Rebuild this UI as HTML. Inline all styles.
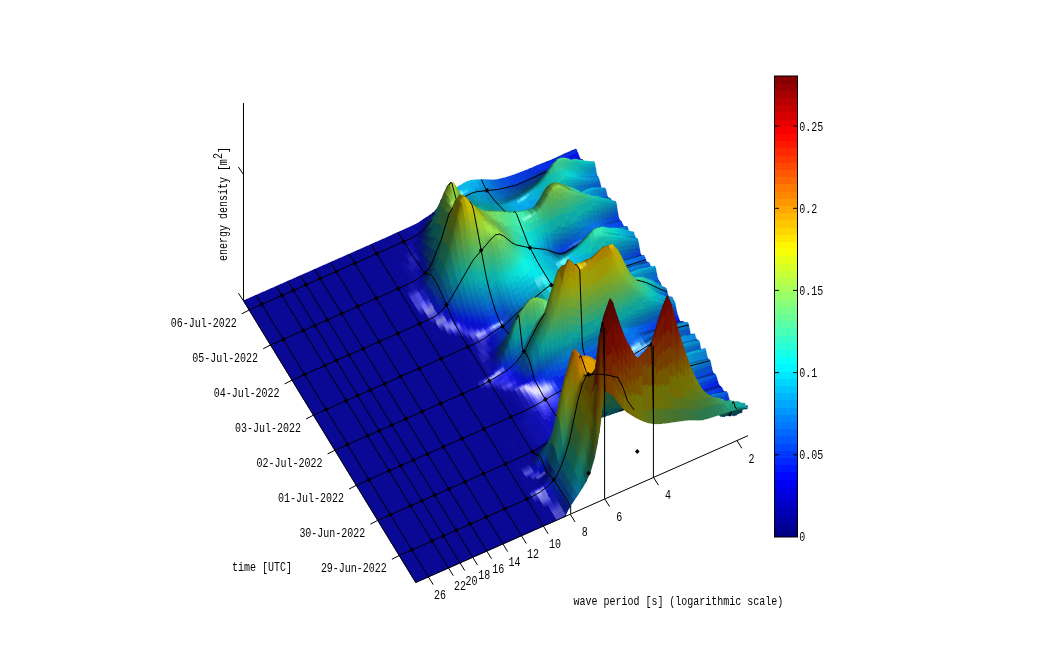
<!DOCTYPE html><html><head><meta charset="utf-8"><title>wave spectrum</title><style>html,body{margin:0;padding:0;background:#fff}svg{display:block}text{font-family:"Liberation Mono","DejaVu Sans Mono",monospace;font-size:10px;fill:#000}.dl{stroke:#000;stroke-width:1;fill:none;stroke-linejoin:round}.ax{stroke:#000;stroke-width:1;fill:none}</style></head><body>
<svg width="1041" height="672" viewBox="0 0 1041 672">
<rect width="1041" height="672" fill="#fff"/>
<g shape-rendering="crispEdges" fill="currentColor" stroke="currentColor" stroke-width=".7" stroke-linejoin="round">
<path d="M243.5 300.8L415.7 582.5L565.2 516.4L569.4 505.7L573.5 499.2L577.2 493.8L581.9 486.8L586 479.7L590.2 470.4L594.3 456.2L597.1 442.2L599 431L602.6 403.9L604.8 389.9L606.8 389.5L612.3 393L615.1 396.3L619.2 401.9L623.4 407L627.5 410.5L631.7 413.1L635.8 415.6L639.4 417.4L643 419L648.3 420.8L652.5 421.5L654.5 421.7L656.6 421.7L660.8 421.6L664.9 421.2L669.7 420.5L673.2 420L678.6 419.2L681.5 418.8L685.7 418.3L689.8 418L694 418L698.2 418.1L702.3 417.9L706.5 416.8L710.6 415.6L715.1 414.1L718.9 412.8L723.1 411.5L727.2 410.2L731.4 408.9L735.5 407.7L739.7 407.2L743.8 406.5L748 405.7L745 408.2L744.7 408.5L744.3 409L744 409.3L743.6 409.2L743.3 408.7L742.9 407.8L742.6 406.6L742.2 405.2L741.9 404L741.3 403L738.4 414L735.5 403L732.6 406.9L729.7 403.9L726.8 401.8L723.9 392.4L721 392.1L718.1 387.3L715.2 383.7L712.3 375L709.4 371.7L706.5 360.3L703.7 354.8L700.8 351L697.9 349.8L695 340.6L692.1 336L689.2 336L686.3 329L683.4 323.7L680.5 322L677.6 322.3L674.7 315.8L671.8 303.1L668.9 297.5L666 298.7L663.1 288.7L660.2 290.6L657.3 283.2L654.4 278.1L651.5 266.5L648.6 270.8L645.7 262.8L642.8 260.6L639.9 255.6L637 252.4L634.1 239.1L631.2 234.7L628.3 234.8L625.4 231.3L622.5 227.2L619.6 224.7L616.7 220.5L613.8 207.6L610.9 204.6L608 200.2L605.2 198.3L602.3 188.6L599.4 190.9L596.5 181.1L593.6 174.4L590.7 162.3L587.8 172.6L584.9 166.9L582 164.4L579.1 160L576.2 157.3L573.3 150L552.5 164.3z" color="#0a0995"/>
<path d="M572.4 151.7l4.1-1.8-.7-.9-4.2 1.8z" color="#0927b8"/>
<path d="M573.6 154.5l4.1-1.9-1.2-2.7-4.1 1.8z" color="#092de6"/>
<path d="M568.2 153.5l4.2-1.8-.8-.9-4.1 1.8z" color="#0928ba"/>
<path d="M569.4 156.4l4.2-1.9-1.2-2.8-4.2 1.8z" color="#092de6"/>
<path d="M564.1 155.3l4.1-1.8-.7-.9-4.2 1.8z" color="#0928bb"/>
<path d="M575.8 160.1l4.1-1.8-2.2-5.7-4.1 1.9z" color="#0912e3"/>
<path d="M565.3 158.2l4.1-1.8-1.2-2.9-4.1 1.8z" color="#092de6"/>
<path d="M559.9 157.3l4.2-2-.8-.9-4.1 2z" color="#0a29be"/>
<path d="M571.6 161.9l4.2-1.8-2.2-5.6-4.2 1.9z" color="#0911e3"/>
<path d="M576.7 161.1l4.2-1.8-1-1-4.1 1.8z" color="#0909a8"/>
<path d="M561.1 160l4.2-1.8-1.2-2.9-4.2 2z" color="#0a2de7"/>
<path d="M555.8 159.2l4.1-1.9-.7-.9-4.2 1.9z" color="#0a28bf"/>
<path d="M567.4 163.7l4.2-1.8-2.2-5.5-4.1 1.8z" color="#0911e3"/>
<path d="M557 161.8l4.1-1.8-1.2-2.7-4.1 1.9z" color="#0a2de8"/>
<path d="M578.4 161.4l4.2-1.7-1.7-.4-4.2 1.8z" color="#091473"/>
<path d="M551.6 161.1l4.2-1.9-.8-.9-4.1 1.9z" color="#0926be"/>
<path d="M547.4 162.8l4.2-1.7-.7-.9-4.2 1.6z" color="#0927bf"/>
<path d="M579.4 162.5l4.1-1.6-.9-1.2-4.2 1.7z" color="#092db8"/>
<path d="M554.3 166.7l4.1-1.4-2.6-6.1-4.2 1.9z" color="#0925ea"/>
<path d="M543.6 164.3l3.8-1.5-.7-1-3.8 1.5z" color="#092ac4"/>
<path d="M550.1 168.1l4.2-1.4-2.7-5.6-4.2 1.7z" color="#0928ea"/>
<path d="M539.1 166.1l4.5-1.8-.7-1-4.5 1.7z" color="#092ecb"/>
<path d="M545.8 168.4l3.8-1.3-2.2-4.3-3.8 1.5z" color="#092ee9"/>
<path d="M534.5 167.2l4.2-1.8-.3-.4-4.1 1.8z" color="#0930d0"/>
<path d="M541.3 170l4.5-1.6-2.2-4.1-4.5 1.8z" color="#0932e6"/>
<path d="M546.5 169.6l3.8-1.1-.7-1.4-3.8 1.3z" color="#0926e3"/>
<path d="M536.9 171.1l4.2-1.6-2.4-4.1-4.2 1.8z" color="#0933df"/>
<path d="M547.2 170.5l3.9-1.2-.8-.8-3.8 1.1z" color="#0921b8"/>
<path d="M542 171.1l4.5-1.5-.7-1.2-4.5 1.6z" color="#092cdd"/>
<path d="M526.4 171.1l4.2-1.7-.5-.8-4.1 1.7z" color="#0933db"/>
<path d="M548.7 170.9l3.8-1.3-1.4-.3-3.9 1.2z" color="#091f75"/>
<path d="M533.5 173.7l4.1-1.4-3.3-5.5-4.2 1.8z" color="#0933d8"/>
<path d="M543 172.2l4.5-1.5-1-1.1-4.5 1.5z" color="#0926b0"/>
<path d="M537.9 172.6l4.1-1.5-.9-1.6-4.2 1.6z" color="#0930d9"/>
<path d="M538.6 173.5l4.2-1.5-.8-.9-4.1 1.5z" color="#092dbc"/>
<path d="M544.5 172.8l4.4-1.9-1.4-.2-4.5 1.5z" color="#092476"/>
<path d="M530.5 177.1l4.2-1.8-4.1-5.9-4.2 1.7z" color="#0934d0"/>
<path d="M539.6 174.4l4.1-1.8-.9-.6-4.2 1.5z" color="#092a95"/>
<path d="M534.5 175l4.1-1.5-1-1.2-4.1 1.4z" color="#0932c5"/>
<path d="M545.9 173.4l4.5-2-1.5-.5-4.4 1.9z" color="#093279"/>
<path d="M526.6 179.3l4.2-1.8-4.8-7.2-4.2 1.6z" color="#0936d4"/>
<path d="M535.4 176.2l4.2-1.8-1-.9-4.1 1.5z" color="#0930ab"/>
<path d="M542.2 175.9l4.2-2.2-2.7-1.1-4.1 1.8z" color="#09327f"/>
<path d="M522.2 180.9l4.2-1.9-4.6-7.1-4.2 1.6z" color="#0939d9"/>
<path d="M546.9 174.1l4.4-1.8-.9-.9-4.5 2z" color="#094495"/>
<path d="M536.4 177.1l4.1-2.2-.9-.5-4.2 1.8z" color="#093092"/>
<path d="M531.3 178.1l4.1-1.9-.7-.9-4.2 1.8z" color="#0935b8"/>
<path d="M532.2 179.1l4.2-2-1-.9-4.1 1.9z" color="#0934a5"/>
<path d="M518.6 183.3l4.1-1.7-5.1-8.1-4.1 1.5z" color="#093cdc"/>
<path d="M538.3 178.3l4.2-2.2-2-1.2-4.1 2.2z" color="#093584"/>
<path d="M590.5 163.2l4.1-.2-.5-1.5-4.1 0z" color="#09b9cb"/>
<path d="M527.6 180.5l4.1-1.9-.9-1.1-4.2 1.8z" color="#0936b9"/>
<path d="M543.7 176.5l4.1-2.1-1.4-.7-4.2 2.2z" color="#093c79"/>
<path d="M590.7 164.5l4.2-.2-.3-1.3-4.1 .2z" color="#09acc1"/>
<path d="M533.2 179.9l4.2-2.1-1-.7-4.2 2z" color="#093593"/>
<path d="M591.2 167.7l4.2-.4-.5-3-4.2 .2z" color="#099cb9"/>
<path d="M514.4 184.8l4.2-1.5-5.1-8.3-4.2 1.4z" color="#0940df"/>
<path d="M523.2 182.2l4.2-1.9-1-1.3-4.2 1.9z" color="#0938c5"/>
<path d="M586.3 162.9l4.2 .3-.5-1.7-4.2-.4z" color="#09c4ca"/>
<path d="M528.8 181.8l4.2-2.1-1.3-1.1-4.1 1.9z" color="#0936a3"/>
<path d="M510.7 184.5l3-.8-4.4-7.3-2.9 .9z" color="#0945e0"/>
<path d="M586.6 164.4l4.1 .1-.2-1.3-4.2-.3z" color="#09b3be"/>
<path d="M592.4 174.5l4.2-.6-1.2-6.6-4.2 .4z" color="#0989c1"/>
<path d="M540 178.8l4.2-2.4-1.7-.3-4.2 2.2z" color="#09386e"/>
<path d="M534.6 180.8l4.2-2.3-1.4-.7-4.2 2.1z" color="#093681"/>
<path d="M586.8 166l4.2 .1-.3-1.6-4.1-.1z" color="#09a8b8"/>
<path d="M587.3 169.5l4.1-.2-.4-3.2-4.2-.1z" color="#099cb6"/>
<path d="M524.4 183.6l4.2-2-1.2-1.3-4.2 1.9z" color="#0936af"/>
<path d="M582.2 162.2l4.1 .7-.5-1.8-4.1-.9z" color="#0cccc5"/>
<path d="M592.9 175.9l4.1-.5-.4-1.5-4.2 .6z" color="#098bdf"/>
<path d="M530 182.7l4.2-2.1-1.2-.9-4.2 2.1z" color="#09378f"/>
<path d="M582.4 163.8l4.2 .6-.3-1.5-4.1-.7z" color="#0abbb9"/>
<path d="M519.8 184.9l4.1-1.8-1.2-1.5-4.1 1.7z" color="#0938be"/>
<path d="M588.3 174.8l4.1-.3-1-5.2-4.1 .2z" color="#0990c2"/>
<path d="M506.1 186.9l5.4-1.3-5.1-8.3-5.4 1.4z" color="#094ddd"/>
<path d="M593.4 176.7l4.1-.4-.5-.9-4.1 .5z" color="#0984d8"/>
<path d="M582.9 167.5l4.1 .3-.4-3.4-4.2-.6z" color="#09acb5"/>
<path d="M578 161.6l4.2 .6-.5-2-4.2-.6z" color="#16d0bb"/>
<path d="M536.6 181.5l4.1-2.6-1.9-.4-4.2 2.3z" color="#09396d"/>
<path d="M525.8 184.8l4.2-2.1-1.4-1.1-4.2 2z" color="#093798"/>
<path d="M594.1 177.6l4.2-.3-.8-1-4.1 .4z" color="#0978c1"/>
<path d="M589 176.6l4.1-.2-.7-1.9-4.1 .3z" color="#0993db"/>
<path d="M583.9 173.8l4.1 0-1-6-4.1-.3z" color="#099cba"/>
<path d="M578.5 165l4.2 .6-.5-3.4-4.2-.6z" color="#0ebcb2"/>
<path d="M515.6 186.3l4.2-1.4-1.2-1.6-4.2 1.5z" color="#093bc1"/>
<path d="M531.9 183.8l4.2-2.4-1.9-.8-4.2 2.1z" color="#093a7c"/>
<path d="M502.5 187.8l3.6-.9-5.1-8.2-3.5 .8z" color="#0956db"/>
<path d="M521.2 186.3l4.2-1.9-1.5-1.3-4.1 1.8z" color="#0937a3"/>
<path d="M512.2 186.6l2.9-.9-1.4-2-3 .8z" color="#0941cf"/>
<path d="M595.1 180l4.1-.3-.9-2.4-4.2 .3z" color="#0985da"/>
<path d="M573.9 161l4.1 .6-.5-2-4.1-.5z" color="#23d2b0"/>
<path d="M589.9 177.7l4.2-.1-1-1.2-4.1 .2z" color="#0980bd"/>
<path d="M584.6 176.3l4.1-.1-.7-2.4-4.1 0z" color="#099ed5"/>
<path d="M579.7 173.3l4.2 .5-1.2-8.2-4.2-.6z" color="#09a9b8"/>
<path d="M544.4 177l4.1-2.3-4.3 1.7-4.2 2.4z" color="#093d54"/>
<path d="M595.5 182.2l4.2-.5-.5-2-4.1 .3z" color="#0974cc"/>
<path d="M517.1 187.7l4.1-1.4-1.4-1.4-4.2 1.4z" color="#093aa7"/>
<path d="M585.3 177.3l4.2-.1-.8-1-4.1 .1z" color="#098cc0"/>
<path d="M575.3 171.1l4.2 .9-1.5-10.4-4.1-.6z" color="#10b9b0"/>
<path d="M590.9 180.4l4.2-.4-1-2.4-4.2 .1z" color="#0990d7"/>
<path d="M580.2 175.2l4.1 .5-.4-1.9-4.2-.5z" color="#09a8ce"/>
<path d="M596 184.6l4.2-.6-.5-2.3-4.2 .5z" color="#0964c4"/>
<path d="M513.6 188.2l3-.9-1.5-1.6-2.9 .9z" color="#093eb3"/>
<path d="M529 186.6l4.1-2.3-3.1-1.6-4.2 2.1z" color="#093d80"/>
<path d="M499 190.4l4.8-.9-6.3-10-4.8 .5z" color="#095fd7"/>
<path d="M570 162.1l4.1 .5-.5-2.8-4.1-.3z" color="#29c8a1"/>
<path d="M586 178.3l4.2-.1-.7-1-4.2 .1z" color="#098ec1"/>
<path d="M534.1 184.7l4.2-2.9-2.2-.4-4.2 2.4z" color="#093f6d"/>
<path d="M507.6 188.9l5.3-1.4-1.4-1.9-5.4 1.3z" color="#0948c5"/>
<path d="M580.9 176.6l4.2 .4-.8-1.3-4.1-.5z" color="#09a1cb"/>
<path d="M540.2 180.4l4.2-3.4-3.7 1.9-4.1 2.6z" color="#093d56"/>
<path d="M591.4 182.7l4.1-.5-.4-2.2-4.2 .4z" color="#097dc8"/>
<path d="M597 189l4.1-.9-.9-4.1-4.2 .6z" color="#0953cb"/>
<path d="M570.7 167.2l4.1 .7-.7-5.3-4.1-.5z" color="#19bda5"/>
<path d="M586.5 179.7l4.2-.2-.5-1.3-4.2 .1z" color="#09a1dd"/>
<path d="M556 160.4l4.5-1.8-2.7 13.9-4.4-.3z" color="#115145"/>
<path d="M591.9 185.3l4.1-.7-.5-2.4-4.1 .5z" color="#096cc1"/>
<path d="M565.6 159.8l4.1 .9-.5-1.9-4.1-.7z" color="#3ad49b"/>
<path d="M576.5 175.6l4.2 .7-1.2-4.3-4.2-.9z" color="#09b5cb"/>
<path d="M488 187l4.2-.3-3.6-6.9-4.2-.3z" color="#0980de"/>
<path d="M581.6 177.7l4.2 .1-.7-.8-4.2-.4z" color="#0997bd"/>
<path d="M525.3 188.7l4.2-1.8-4.1-2.5-4.2 1.9z" color="#093e86"/>
<path d="M587 182l4.2-.5-.5-2-4.2 .2z" color="#098ecb"/>
<path d="M571.4 171.6l4.2 .8-.8-4.5-4.1-.7z" color="#0cbeb8"/>
<path d="M566 162.7l4.2 1.1-.5-3.1-4.1-.9z" color="#2fc395"/>
<path d="M495.3 191.6l4.2-.5-6.8-11.1-4.1-.2z" color="#096bd5"/>
<path d="M592.8 190l4.2-1-1-4.4-4.1 .7z" color="#095bc8"/>
<path d="M515.6 189.9l2.9-1-1.9-1.6-3 .9z" color="#09409b"/>
<path d="M587.5 184.7l4.1-.7-.4-2.5-4.2 .5z" color="#097bbf"/>
<path d="M509 190.5l5.4-1.6-1.5-1.4-5.3 1.4z" color="#0946b0"/>
<path d="M582.4 180l4.1-.3-.7-1.9-4.2-.1z" color="#09aad7"/>
<path d="M504.7 190.7l3.6-1-2.2-2.8-3.6 .9z" color="#0951c6"/>
<path d="M566.5 165.9l4.2 1.3-.5-3.4-4.2-1.1z" color="#23be9c"/>
<path d="M477.1 182.1l4.1-.2-.9-2.3-4.2 .2z" color="#09a6e6"/>
<path d="M577.2 177l4.2 .3-.7-1-4.2-.7z" color="#09afca"/>
<path d="M561.7 159.6l3.9 .2-.5-1.7-3.9-.1z" color="#46da95"/>
<path d="M486.7 188.5l2.1-.2-4.4-8.8-2.1 0z" color="#098be1"/>
<path d="M530.4 187.2l4.2-2.5-1.5-.4-4.1 2.3z" color="#094371"/>
<path d="M521.4 190.7l4.2-1.8-4.4-2.6-4.1 1.4z" color="#09428b"/>
<path d="M567 168.9l4.2 1.4-.5-3.1-4.2-1.3z" color="#18c1aa"/>
<path d="M582.8 182.4l4.2-.4-.5-2.3-4.1 .3z" color="#0994c6"/>
<path d="M588.4 190.1l4.2-1.1-1-5-4.1 .7z" color="#0966c0"/>
<path d="M484.1 187.9l2.1-.2-3.9-8.2-2 .1z" color="#0994e4"/>
<path d="M556.8 159.9l4.4-1.9-.7 .6-4.5 1.8z" color="#2b774d"/>
<path d="M577.7 178.3l4.2 0-.5-1-4.2-.3z" color="#09bad9"/>
<path d="M562.4 163.6l3.9 .7-.7-4.5-3.9-.2z" color="#38c58f"/>
<path d="M547.5 171l4.1-5.8-3.1 9.5-4.1 2.3z" color="#0c5049"/>
<path d="M567.2 170.2l4.2 1.4-.2-1.3-4.2-1.4z" color="#11c6b7"/>
<path d="M573.6 178.3l4.1 0-2.1-5.9-4.2-.8z" color="#09c6d2"/>
<path d="M583.3 185.4l4.2-.7-.5-2.7-4.2 .4z" color="#0981bc"/>
<path d="M578.2 180.2l4.2-.2-.5-1.7-4.2 0z" color="#09b0d2"/>
<path d="M471.5 182.1l5.3-.6-.7-1.7-5.3 .6z" color="#09b6ea"/>
<path d="M567.7 172.3l4.2 1.3-.5-2-4.2-1.4z" color="#0eccc2"/>
<path d="M557.2 161.1l4.5-1.5-.5-1.6-4.4 1.9z" color="#4ad58d"/>
<path d="M563.1 167.9l3.9 1-.7-4.6-3.9-.7z" color="#28c29b"/>
<path d="M557.5 162.1l4.4-1.4-.2-1.1-4.5 1.5z" color="#45cf8c"/>
<path d="M578.7 182.9l4.1-.5-.4-2.4-4.2 .2z" color="#099ac1"/>
<path d="M584.3 190.9l4.1-.8-.9-5.4-4.2 .7z" color="#096cbe"/>
<path d="M552.9 164.8l4.1-4.4-1.2 .7-4.2 4.1z" color="#26714c"/>
<path d="M480 188.3l4.1-.4-2.9-6-4.1 .2z" color="#099be4"/>
<path d="M526.8 189.3l4.1-2-1.4-.4-4.2 1.8z" color="#094573"/>
<path d="M563.6 170.3l3.9 1-.5-2.4-3.9-1z" color="#1ecaad"/>
<path d="M579.2 185.9l4.1-.5-.5-3-4.1 .5z" color="#0988b9"/>
<path d="M539.4 181.6l4.2-5.2-5.3 5.4-4.2 2.9z" color="#09454f"/>
<path d="M574.1 180.5l4.1-.3-.5-1.9-4.1 0z" color="#09b5cb"/>
<path d="M569.4 178l4.2 .3-1.7-4.7-4.2-1.3z" color="#0ad2d2"/>
<path d="M558.7 168.2l4.4-.3-1.2-7.2-4.4 1.4z" color="#36c691"/>
<path d="M468.2 183.9l3.5-1.2-.9-2.3-3.6 1.1z" color="#09c0ed"/>
<path d="M564.1 172.3l3.9 .8-.5-1.8-3.9-1z" color="#18d3bd"/>
<path d="M519.4 192.7l3-1.5-3.9-2.3-2.9 1z" color="#094a8c"/>
<path d="M473.7 187l5.3-.6-2.2-4.9-5.3 .6z" color="#09afea"/>
<path d="M553.3 165.9l4.2-3.8-.5-1.7-4.1 4.4z" color="#3ec184"/>
<path d="M513.1 194.4l5.4-2.4-4.1-3.1-5.4 1.6z" color="#094d9c"/>
<path d="M574.5 183.3l4.2-.4-.5-2.7-4.1 .3z" color="#09a0be"/>
<path d="M534.1 186l4.1-3.9-3.6 2.6-4.2 2.5z" color="#093f50"/>
<path d="M580.4 192.7l4.1-.7-1.2-6.6-4.1 .5z" color="#0973c0"/>
<path d="M548.9 171.2l4.2-5.9-1.5-.1-4.1 5.8z" color="#1d6a4e"/>
<path d="M522.6 191.3l4.2-2-1.2-.4-4.2 1.8z" color="#094a7a"/>
<path d="M575 186.5l4.2-.6-.5-3-4.2 .4z" color="#098fb8"/>
<path d="M554.1 168.7l4.1-3-.7-3.6-4.2 3.8z" color="#39c48d"/>
<path d="M559.4 171.5l4.5-.2-.8-3.4-4.4 .3z" color="#28cda7"/>
<path d="M565.3 176.9l3.9 .1-1.2-3.9-3.9-.8z" color="#10d8ca"/>
<path d="M569.9 180.5l4.2 0-.5-2.2-4.2-.3z" color="#09bac5"/>
<path d="M601.6 189.3l4.1 .2-.4-1.4-4.2-.3z" color="#098bd7"/>
<path d="M493.1 194.6l4.2-.4-5.1-7.5-4.2 .3z" color="#0973cb"/>
<path d="M509.5 196l3.6-1.6-4.8-4.7-3.6 1z" color="#0955ac"/>
<path d="M528.5 189.2l4.1-2.5-1.7 .6-4.1 2z" color="#093f58"/>
<path d="M570.4 183.5l4.1-.2-.4-2.8-4.2 0z" color="#09a7bb"/>
<path d="M602.1 191.5l4.1 0-.5-2-4.1-.2z" color="#097ccb"/>
<path d="M549.4 172.2l4.2-5.4-.5-1.5-4.2 5.9z" color="#2ba97f"/>
<path d="M576.2 193.3l4.2-.6-1.2-6.8-4.2 .6z" color="#097bc0"/>
<path d="M504.8 197.6l4.7-1.6-5.7-6.5-4.8 .9z" color="#095db9"/>
<path d="M555.3 173.9l4.1-2.4-1.2-5.8-4.1 3z" color="#2dc89d"/>
<path d="M474.9 189.3l5.3-.6-1.2-2.3-5.3 .6z" color="#09a4e3"/>
<path d="M566 180.8l3.9-.3-.7-3.5-3.9-.1z" color="#0ac3c2"/>
<path d="M570.9 186.8l4.1-.3-.5-3.2-4.1 .2z" color="#0997b7"/>
<path d="M549.7 172.8l4.1-5.1-.2-.9-4.2 5.4z" color="#2bb68c"/>
<path d="M602.8 194.9l4.1-.2-.7-3.2-4.1 0z" color="#096dc9"/>
<path d="M597.4 189.3l4.2 0-.5-1.5-4.2-.2z" color="#099ad7"/>
<path d="M561.4 180.6l4.4-1.2-1.9-8.1-4.5 .2z" color="#17cfba"/>
<path d="M545 177.4l4.2-5.8-1-1-4.1 5.8z" color="#157864"/>
<path d="M597.9 191.6l4.2-.1-.5-2.2-4.2 0z" color="#0987c8"/>
<path d="M566.8 185.5l3.8-.4-.7-4.6-3.9 .3z" color="#09aab8"/>
<path d="M550.9 177l4.1-4.1-1.2-5.2-4.1 5.1z" color="#26be99"/>
<path d="M472.6 192.4l3.5-1.1-4.4-8.6-3.5 1.2z" color="#09b1e7"/>
<path d="M572.1 193.7l4.1-.4-1.2-6.8-4.1 .3z" color="#0984bf"/>
<path d="M468.2 192.9l3.6-1.7-4.6-9.7-3.6 1.8z" color="#0bb8eb"/>
<path d="M514.3 195.4l5.4-2.6-1.2-.8-5.4 2.4z" color="#09538d"/>
<path d="M462.2 191.6l4.1-2.2-2.7-6.1-4.1 2.5z" color="#0bb7e8"/>
<path d="M603.8 197.8l4.1-.3-1-2.8-4.1 .2z" color="#0964d9"/>
<path d="M545.5 178.4l4.2-5.6-.5-1.2-4.2 5.8z" color="#1aa189"/>
<path d="M540.6 182.4l4.2-5.4-1.2-.6-4.2 5.2z" color="#0b6c64"/>
<path d="M535.5 186.1l4.2-4.5-1.5 .5-4.1 3.9z" color="#095255"/>
<path d="M530.6 189l4.2-3.1-2.2 .8-4.1 2.5z" color="#094855"/>
<path d="M526 191.9l4.2-2.9-3.4 .3-4.2 2z" color="#094962"/>
<path d="M490.2 196.7l2-.3-6-8.7-2.1 .2z" color="#0981ca"/>
<path d="M598.6 195.2l4.2-.3-.7-3.4-4.2 .1z" color="#0978c6"/>
<path d="M593.3 189.5l4.1-.2-.5-1.7-4.1 .2z" color="#09a8d9"/>
<path d="M456.5 191.2l4.2-2.6-1.2-2.8-4.2 2.8z" color="#0bafe0"/>
<path d="M501.1 198.9l4.2-.8-5.8-7-4.2 .5z" color="#0968bc"/>
<path d="M557.4 184.6l4.2-2.6-2.2-10.5-4.1 2.4z" color="#16c6b2"/>
<path d="M567.7 191.6l3.9-.3-1-6.2-3.8 .4z" color="#0993b9"/>
<path d="M562.1 185.1l4.4-1.2-.7-4.5-4.4 1.2z" color="#09b6b8"/>
<path d="M546.2 180.4l4.2-5.3-.7-2.3-4.2 5.6z" color="#19b29a"/>
<path d="M593.5 190.6l4.2-.2-.3-1.1-4.1 .2z" color="#0996c8"/>
<path d="M522.8 193.7l3-1.9-3.4-.6-3 1.5z" color="#094d6d"/>
<path d="M604.7 198.1l4.2-.1-1-.5-4.1 .3z" color="#09428a"/>
<path d="M599.4 197.6l4.1-.3-.7-2.4-4.2 .3z" color="#0973d9"/>
<path d="M541.4 183.8l4.1-5.4-.7-1.4-4.2 5.4z" color="#0d9a90"/>
<path d="M510.5 196.8l3.6-1.6-1-.8-3.6 1.6z" color="#095a9b"/>
<path d="M494.6 199.4l2.1-.3-7.9-10.8-2.1 .2z" color="#097cc5"/>
<path d="M486.2 197.5l4.2-.5-6.3-9.1-4.1 .4z" color="#0989cb"/>
<path d="M457 192.2l4.2-2.6-.5-1-4.2 2.6z" color="#16b8ec"/>
<path d="M594.5 195.6l4.1-.4-.9-4.8-4.2 .2z" color="#0985c4"/>
<path d="M536.5 187l4.1-4.6-.9-.8-4.2 4.5z" color="#09797c"/>
<path d="M589.1 190.5l4.2-1-.5-1.7-4.2 1.2z" color="#09b4de"/>
<path d="M563 191.1l4.5-.9-1-6.3-4.4 1.2z" color="#099fb7"/>
<path d="M553.3 188.1l4.1-3.5-2.4-11.7-4.1 4.1z" color="#12beb0"/>
<path d="M541.8 185l4.2-5.3-.5-1.3-4.1 5.4z" color="#0daba3"/>
<path d="M462.9 193l4.1-2.2-.7-1.4-4.1 2.2z" color="#24c9f6"/>
<path d="M584.5 190.6l4.1-1.6-1.2 .8-4.1 1.6z" color="#096375"/>
<path d="M457.5 193.1l4.2-2.5-.5-1-4.2 2.6z" color="#2fcef4"/>
<path d="M589.4 191.5l4.1-.9-.2-1.1-4.2 1z" color="#09a0ca"/>
<path d="M531.8 189.8l4.2-3.4-1.2-.5-4.2 3.1z" color="#096a75"/>
<path d="M479.5 196.2l5.3-.7-4.6-6.8-5.3 .6z" color="#0997d0"/>
<path d="M600.6 198l4.1 .1-1.2-.8-4.1 .3z" color="#094d8e"/>
<path d="M595.2 197.9l4.2-.3-.8-2.4-4.1 .4z" color="#0980d8"/>
<path d="M558.4 190.1l4.2-1.9-1-6.2-4.2 2.6z" color="#09adb7"/>
<path d="M517.4 197l5.4-3.3-3.1-.9-5.4 2.6z" color="#095277"/>
<path d="M537.2 188.4l4.2-4.6-.8-1.4-4.1 4.6z" color="#099fa4"/>
<path d="M505.8 198.5l4.7-1.7-1-.8-4.7 1.6z" color="#0960a4"/>
<path d="M548.6 189.9l4.2-4.1-2.4-10.7-4.2 5.3z" color="#0eb8af"/>
<path d="M458 194l4.2-2.4-.5-1-4.2 2.5z" color="#54def9"/>
<path d="M606.4 198.3l4.2 .2-1.7-.5-4.2 .1z" color="#094c81"/>
<path d="M590.3 195.9l4.2-.3-1-5-4.1 .9z" color="#0990c7"/>
<path d="M463.6 194.2l4.2-2.1-.8-1.3-4.1 2.2z" color="#34d4f8"/>
<path d="M527.2 192.6l4.2-3.2-1.2-.4-4.2 2.9z" color="#096374"/>
<path d="M585 191.8l4.1-1.3-.5-1.5-4.1 1.6z" color="#09bbe2"/>
<path d="M543.5 190.4l4.2-4.6-1.7-6.1-4.2 5.3z" color="#0ab2b2"/>
<path d="M537.7 189.5l4.1-4.5-.4-1.2-4.2 4.6z" color="#09adb5"/>
<path d="M532.6 190.9l4.1-3.5-.7-1-4.2 3.4z" color="#0b96a4"/>
<path d="M458.7 195.3l4.2-2.3-.7-1.4-4.2 2.4z" color="#79edff"/>
<path d="M585.2 192.6l4.2-1.1-.3-1-4.1 1.3z" color="#09add4"/>
<path d="M497.7 200.2l4.1-.6-4.5-5.4-4.2 .4z" color="#0974b9"/>
<path d="M580.6 192.4l4.1-1.3-1.4 .3-4.2 1.6z" color="#096a7c"/>
<path d="M513.7 198.6l3.5-1.8-3.1-1.6-3.6 1.6z" color="#095681"/>
<path d="M590.8 197.5l4.2-.2-.5-1.7-4.2 .3z" color="#098dd8"/>
<path d="M464.3 195.4l4.2-2.1-.7-1.2-4.2 2.1z" color="#1db6e8"/>
<path d="M524 194.5l3-2.1-1.2-.6-3 1.9z" color="#09627a"/>
<path d="M470.7 196.3l3.5-1.5-2.4-3.6-3.6 1.7z" color="#099fcf"/>
<path d="M507.5 199.6l4.7-1.7-1.7-1.1-4.7 1.7z" color="#09588b"/>
<path d="M607.1 200.5l4.2 0-.7-2-4.2-.2z" color="#097dda"/>
<path d="M533.3 192.3l4.1-3.4-.7-1.5-4.1 3.5z" color="#0cafc2"/>
<path d="M459.4 196.6l4.2-2.4-.7-1.2-4.2 2.3z" color="#75f6ff"/>
<path d="M528.2 193.7l4.1-3.2-.9-1.1-4.2 3.2z" color="#0a899f"/>
<path d="M586.7 197.4l4.1 .1-1.4-6-4.2 1.1z" color="#099ed3"/>
<path d="M539.4 194.3l4.1-3.9-1.7-5.4-4.1 4.5z" color="#09b0bf"/>
<path d="M502.1 199.8l4.1-.9-.9-.8-4.2 .8z" color="#0965a2"/>
<path d="M581.1 193.5l4.1-.9-.5-1.5-4.1 1.3z" color="#09c0e5"/>
<path d="M465.8 197.4l4.1-2-1.4-2.1-4.2 2.1z" color="#0a9ac9"/>
<path d="M460.2 197.7l4.1-2.3-.7-1.2-4.2 2.4z" color="#36c7ef"/>
<path d="M525 195.6l2.9-2.2-.9-1-3 2.1z" color="#09819d"/>
<path d="M581.3 194.2l4.2-.7-.3-.9-4.1 .9z" color="#09b6dd"/>
<path d="M518.7 197.9l5.3-3.4-1.2-.8-5.4 3.3z" color="#096887"/>
<path d="M528.9 195l4.1-3.2-.7-1.3-4.1 3.2z" color="#1ab9d5"/>
<path d="M602.7 199.4l4.2 .2-.5-1.3-4.1-.4z" color="#098fd9"/>
<path d="M582.3 196.7l4.1 .2-.9-3.4-4.2 .7z" color="#09adda"/>
<path d="M460.9 198.7l4.1-2.3-.7-1-4.1 2.3z" color="#0c97c8"/>
<path d="M525.7 196.7l3-2.2-.8-1.1-2.9 2.2z" color="#35c4dd"/>
<path d="M546.7 201.6l4.1-2.9-3.1-12.9-4.2 4.6z" color="#09a4c2"/>
<path d="M514.9 199.5l3.5-1.9-1.2-.8-3.5 1.8z" color="#09688c"/>
<path d="M519.6 199l5.4-3.4-1-1.1-5.3 3.4z" color="#0986aa"/>
<path d="M536.4 200.8l4.2-2.6-3.2-9.3-4.1 3.4z" color="#09afd0"/>
<path d="M479.6 201.6l3.5-.6-7-9.7-3.5 1.1z" color="#099dc7"/>
<path d="M598.6 199.1l4.1 .3-.7-2-4.1-.5z" color="#099cd3"/>
<path d="M509.9 201.1l4.7-1.9-2.4-1.3-4.7 1.7z" color="#096187"/>
<path d="M467.5 199.3l4.1-1.8-1.7-2.1-4.1 2z" color="#098fb7"/>
<path d="M435.8 212.4l5.5-6.6-1.2-1.4-5.5 7.1z" color="#092a75"/>
<path d="M461.9 199.8l4.1-2.1-1-1.3-4.1 2.3z" color="#098bb7"/>
<path d="M526.4 198.1l3-2.1-.7-1.5-3 2.2z" color="#36d3ee"/>
<path d="M542 202.8l4.2-2.8-2.7-9.6-4.1 3.9z" color="#09a4cb"/>
<path d="M531.6 201.3l4.1-2.7-2.7-6.8-4.1 3.2z" color="#0ab2d9"/>
<path d="M505.7 202.5l4.2-1.4-3.7-2.2-4.1 .9z" color="#096690"/>
<path d="M520.3 200.2l5.4-3.5-.7-1.1-5.4 3.4z" color="#4ad5ea"/>
<path d="M499.9 202.3l4.1-1-2.2-1.7-4.1 .6z" color="#096f9e"/>
<path d="M515.8 200.5l3.6-1.8-1-1.1-3.5 1.9z" color="#0982ab"/>
<path d="M433.6 214l1.9-1.7-.9-.8-2 1.7z" color="#091a7f"/>
<path d="M463.1 201l4.1-2-1.2-1.3-4.1 2.1z" color="#0983a7"/>
<path d="M521.1 201.5l5.3-3.4-.7-1.4-5.4 3.5z" color="#60f0fd"/>
<path d="M528.1 201.9l3-1.9-1.7-4-3 2.1z" color="#0bb1de"/>
<path d="M485.3 203.6l5.3-.7-5.8-7.4-5.3 .7z" color="#0993be"/>
<path d="M497.9 205.2l2-.5-7.7-8.3-2 .3z" color="#0981b1"/>
<path d="M516.6 201.6l3.5-1.8-.7-1.1-3.6 1.8z" color="#1baed7"/>
<path d="M510.8 202l4.8-1.8-1-1-4.7 1.9z" color="#097ea6"/>
<path d="M476 202.2l3.6-.6-5.4-6.8-3.5 1.5z" color="#0998ba"/>
<path d="M492.5 204.8l4.2-.7-6.3-7.1-4.2 .5z" color="#0988b5"/>
<path d="M431.9 216l2.2-1.7-1.5-1.1-2.2 1.6z" color="#091786"/>
<path d="M521.6 202.4l5.3-3.3-.5-1-5.3 3.4z" color="#22c6f0"/>
<path d="M590.3 198l4.1 .7-.7-2.3-4.1-.8z" color="#09b8cf"/>
<path d="M517.3 202.8l3.5-1.8-.7-1.2-3.5 1.8z" color="#42d6f1"/>
<path d="M500.4 205.2l2.1-.6-5.8-5.5-2.1 .3z" color="#097da7"/>
<path d="M427.7 218.1l3.7-2.4-1-.9-3.6 2.4z" color="#090f93"/>
<path d="M511.6 203l4.7-1.8-.7-1-4.8 1.8z" color="#099ac8"/>
<path d="M435.5 215l2-1.7-2-1-1.9 1.7z" color="#09216f"/>
<path d="M506.7 203.4l4.1-1.4-.9-.9-4.2 1.4z" color="#0981a7"/>
<path d="M612 202l4.1 .9-.5-1.4-4.1-1.2z" color="#099bc5"/>
<path d="M502.3 204.4l4.1-1.2-2.4-1.9-4.1 1z" color="#09789d"/>
<path d="M518 204.1l3.6-1.7-.8-1.4-3.5 1.8z" color="#25c8f3"/>
<path d="M425.6 219.2l1.9-1.3-.7-.7-1.9 1.2z" color="#090999"/>
<path d="M612.2 203.3l4.2 .8-.3-1.2-4.1-.9z" color="#0992c1"/>
<path d="M472 203.4l4.2-.9-4.6-5-4.1 1.8z" color="#098ea8"/>
<path d="M607.3 199l4.2 1.3-.7 .4-4.2-1.3z" color="#096974"/>
<path d="M612.4 205l4.2 .5-.2-1.4-4.2-.8z" color="#0987ba"/>
<path d="M433.6 216.8l2.2-1.7-1.7-.8-2.2 1.7z" color="#091f70"/>
<path d="M428.9 219l3.7-2.6-1.2-.7-3.7 2.4z" color="#091682"/>
<path d="M540.8 211.9l4.1-1.8-4.3-11.9-4.2 2.6z" color="#099be3"/>
<path d="M507.4 204.3l4.2-1.3-.8-1-4.1 1.4z" color="#0998c3"/>
<path d="M612.7 206.8l4.1 .3-.2-1.6-4.2-.5z" color="#097cb5"/>
<path d="M524.7 209l5.4-2.4-3.2-7.5-5.3 3.3z" color="#0aaee9"/>
<path d="M519 206l3.5-1.6-.9-2-3.6 1.7z" color="#0db3ed"/>
<path d="M612.9 208.7l4.2 .1-.3-1.7-4.1-.3z" color="#0972b3"/>
<path d="M423.3 221.7l2.8-2.1-1.2-1.2-2.8 1.9z" color="#090896"/>
<path d="M607.8 200.9l4.2 1.1-.5-1.7-4.2-1.3z" color="#09acc4"/>
<path d="M427.3 220.6l1.9-1.4-1.7-1.3-1.9 1.3z" color="#091088"/>
<path d="M613.4 212.5l4.2-.4-.5-3.3-4.2-.1z" color="#0963b4"/>
<path d="M608.1 202.5l4.1 .8-.2-1.3-4.2-1.1z" color="#099ebb"/>
<path d="M536.6 213.5l4.2-1.6-5.1-13.3-4.1 2.7z" color="#099fe7"/>
<path d="M418.4 223.8l4.2-2.9-.5-.6-4.1 2.8z" color="#0c0b9c"/>
<path d="M608.3 204.4l4.1 .6-.2-1.7-4.1-.8z" color="#0992b5"/>
<path d="M503.2 205.4l4.2-1.1-1-1.1-4.1 1.2z" color="#098fb2"/>
<path d="M608.5 206.5l4.2 .3-.3-1.8-4.1-.6z" color="#0987b1"/>
<path d="M482.5 204.6l3.5-.3-2.9-3.3-3.5 .6z" color="#0994af"/>
<path d="M430.4 219.7l3.6-2.8-1.4-.5-3.7 2.6z" color="#091d6e"/>
<path d="M614.1 217l4.2-.8-.7-4.1-4.2 .4z" color="#094fbc"/>
<path d="M608.8 208.6l4.1 .1-.2-1.9-4.2-.3z" color="#097cb0"/>
<path d="M533.7 214.5l2.9-1-5.5-13.5-3 1.9z" color="#09a1e9"/>
<path d="M603.7 199.7l4.1 1.2-.2-1.2-4.2-1.4z" color="#09b9c1"/>
<path d="M510.1 208.2l4.1-.7-2.6-4.5-4.2 1.3z" color="#09a8d7"/>
<path d="M425 223.3l2.8-2.4-1.7-1.3-2.8 2.1z" color="#090d85"/>
<path d="M478.1 204.2l3.6-.3-2.1-2.3-3.6 .6z" color="#0994a9"/>
<path d="M609.3 212.9l4.1-.4-.5-3.8-4.1-.1z" color="#096db0"/>
<path d="M603.9 201.5l4.2 1-.3-1.6-4.1-1.2z" color="#09aab6"/>
<path d="M578.1 192.4l3.9 2.3-.8-2.4-3.8-2.2z" color="#22cbaa"/>
<path d="M614.6 219.1l4.2-1.1-.5-1.8-4.2 .8z" color="#0942d0"/>
<path d="M604.1 203.6l4.2 .8-.2-1.9-4.2-1z" color="#099db0"/>
<path d="M420.6 226.7l4.2-3.6-2.2-2.2-4.2 2.9z" color="#0a0992"/>
<path d="M604.4 206l4.1 .5-.2-2.1-4.2-.8z" color="#0992ae"/>
<path d="M429 221.4l1.9-1.6-1.7-.6-1.9 1.4z" color="#091b6d"/>
<path d="M610 217.8l4.1-.8-.7-4.5-4.1 .4z" color="#0957b8"/>
<path d="M473 204.1l4.2-.7-1-.9-4.2 .9z" color="#098f9d"/>
<path d="M615.3 220.8l4.2-1.1-.7-1.7-4.2 1.1z" color="#093de4"/>
<path d="M604.6 208.5l4.2 .1-.3-2.1-4.1-.5z" color="#0986ac"/>
<path d="M599.5 199.4l4.2 .3-.3-1.4-4.1-.4z" color="#0bc2bb"/>
<path d="M415.7 228.3l4.2-2.6-1.9-2.6-4.2 2.2z" color="#100f9f"/>
<path d="M604.9 210.9l4.1-.1-.2-2.2-4.2-.1z" color="#097bac"/>
<path d="M518.8 215.4l4.8-.5-7.3-13.7-4.7 1.8z" color="#09a9e3"/>
<path d="M599.7 201.3l4.2 .2-.2-1.8-4.2-.3z" color="#09b3b2"/>
<path d="M573.7 190.1l4.4 2.3-.7-2.3-4.5-2.1z" color="#35cd98"/>
<path d="M610.5 220l4.1-.9-.5-2.1-4.1 .8z" color="#094acc"/>
<path d="M605.3 215.2l4.2-.5-.5-3.9-4.1 .1z" color="#096caf"/>
<path d="M600 203.5l4.1 .1-.2-2.1-4.2-.2z" color="#09a7ae"/>
<path d="M426.2 224.1l2.8-2.7-1.2-.5-2.8 2.4z" color="#09166f"/>
<path d="M616.3 221.8l4.2-1.1-1-1-4.2 1.1z" color="#0932b1"/>
<path d="M600.2 206l4.2 0-.3-2.4-4.1-.1z" color="#099bab"/>
<path d="M595.1 197.8l4.2 .1-.5-1.3-4.2-.4z" color="#17c3ad"/>
<path d="M611.2 221.9l4.1-1.1-.7-1.7-4.1 .9z" color="#0947e3"/>
<path d="M605.8 218.6l4.2-.8-.5-3.1-4.2 .5z" color="#095bb7"/>
<path d="M528.6 216.5l5.3-1.6-3.8-8.3-5.4 2.4z" color="#099eeb"/>
<path d="M600.5 208.5l4.1 0-.2-2.5-4.2 0z" color="#0990aa"/>
<path d="M574.4 192.5l4.4 2.7-.7-2.8-4.4-2.3z" color="#2fcb9d"/>
<path d="M507.6 210.9l4.1-.1-4.3-6.5-4.2 1.1z" color="#09a3c7"/>
<path d="M525 217.5l3.6-1-6.1-12.1-3.5 1.6z" color="#09a5ea"/>
<path d="M421.6 227.8l4.1-4-.9-.7-4.2 3.6z" color="#090b83"/>
<path d="M434.3 217.3l3.6-3.5-3.9 3.1-3.6 2.8z" color="#092a51"/>
<path d="M600.7 211l4.2-.1-.3-2.4-4.1 0z" color="#0985ab"/>
<path d="M595.6 201.3l4.1 0-.4-3.4-4.2-.1z" color="#10bdaf"/>
<path d="M606.3 221l4.2-1-.5-2.2-4.2 .8z" color="#0952c7"/>
<path d="M601 213.3l4.1-.1-.2-2.3-4.2 .1z" color="#097aac"/>
<path d="M617.3 222.9l4.1-1.2-.9-1-4.2 1.1z" color="#0939b5"/>
<path d="M596.1 206l4.1 0-.5-4.7-4.1 0z" color="#0aa9ab"/>
<path d="M612.2 222.9l4.1-1.1-1-1-4.1 1.1z" color="#0939b4"/>
<path d="M570.2 189.9l4.2 2.6-1.5-4.5-4.1-1.5z" color="#44c986"/>
<path d="M601.4 217.4l4.2-.3-.5-3.9-4.1 .1z" color="#096cb0"/>
<path d="M591 197.4l4.1 .4-.2-1.1-4.2-.5z" color="#23d0ae"/>
<path d="M607 222.9l4.2-1-.7-1.9-4.2 1z" color="#094fe1"/>
<path d="M422.5 228.8l4.2-4.5-1-.5-4.1 4z" color="#090e78"/>
<path d="M596.3 208.6l4.2-.1-.3-2.5-4.1 0z" color="#0999aa"/>
<path d="M499.5 211.5l4.2 0-7-7.4-4.2 .7z" color="#0995a9"/>
<path d="M418.1 231.7l4.2-3.2-2.4-2.8-4.2 2.6z" color="#0b0a94"/>
<path d="M591.2 199l4.1 .3-.2-1.5-4.1-.4z" color="#1cc0a5"/>
<path d="M513.9 214.1l4.2 .1-3.9-6.7-4.1 .7z" color="#09a6d4"/>
<path d="M565.1 185.5l4.2 2.1-.8-1.4-4.1-1.6z" color="#4aae65"/>
<path d="M428.6 224l2.8-3.5-2.4 .9-2.8 2.7z" color="#091e54"/>
<path d="M596.6 211.1l4.1-.1-.2-2.5-4.2 .1z" color="#098eaa"/>
<path d="M602.2 221.4l4.1-.4-.7-3.9-4.2 .3z" color="#095ec0"/>
<path d="M432.8 218.5l1.9-2.1-3.8 3.4-1.9 1.6z" color="#092950"/>
<path d="M507.4 213.3l2.1 .1-7-8.8-2.1 .6z" color="#099eb8"/>
<path d="M471 205l4.2 .3-2.2-1.2-4.1 .5z" color="#097e7e"/>
<path d="M494.2 211.2l5.3 .3-8.9-8.6-5.3 .7z" color="#0993a1"/>
<path d="M505.1 213l2.1 .1-7.3-8.4-2 .5z" color="#099bb1"/>
<path d="M597 215.6l4.2-.1-.5-4.5-4.1 .1z" color="#097fad"/>
<path d="M613.1 224.1l4.2-1.2-1-1.1-4.1 1.1z" color="#0942bd"/>
<path d="M591.9 205.9l4.2 .1-.8-6.7-4.1-.3z" color="#10b2a7"/>
<path d="M607.8 223.8l4.1-1.1-.7-.8-4.2 1z" color="#0942bc"/>
<path d="M570.7 190.9l4.2 2.8-.5-1.2-4.2-2.6z" color="#3bba81"/>
<path d="M478.1 207l4.1 .4-5-4-4.2 .7z" color="#098e90"/>
<path d="M565.6 186.1l4.2 2.7-.5-1.2-4.2-2.1z" color="#4eb96c"/>
<path d="M586.8 196.6l4.2 .8-.5-1.9-4.2-1.1z" color="#2fcc9e"/>
<path d="M602.6 223l4.2-.6-.5-1.4-4.1 .4z" color="#095bde"/>
<path d="M415.4 236.2l4.2-2.8-5.8-8.1-4.2 2z" color="#0f0d9c"/>
<path d="M423.8 229.6l4.1-5.2-1.2-.1-4.2 4.5z" color="#091264"/>
<path d="M619.4 227.7l4.2-1.4-2.2-4.6-4.1 1.2z" color="#0944eb"/>
<path d="M597.8 220.6l4.1-.3-.7-4.8-4.2 .1z" color="#096db7"/>
<path d="M592.4 211l4.2 .1-.5-5.1-4.2-.1z" color="#099daa"/>
<path d="M566.1 186.8l4.1 3.1-.4-1.1-4.2-2.7z" color="#4cb46a"/>
<path d="M587.3 200.5l4.1 .6-.4-3.7-4.2-.8z" color="#23bb99"/>
<path d="M603.1 223.9l4.2-.6-.5-.9-4.2 .6z" color="#0957dd"/>
<path d="M608.7 224.9l4.2-1.2-1-1-4.1 1.1z" color="#0946b7"/>
<path d="M409.8 237.3l4.7-2.5-4.9-7.5-4.6 2.1z" color="#0e0d9b"/>
<path d="M592.9 215.6l4.1 0-.4-4.5-4.2-.1z" color="#0989ad"/>
<path d="M582.7 194.4l3.9 .9-.5-1.2-3.9-1.2z" color="#3bc187"/>
<path d="M566.6 187.4l4.1 3.5-.5-1-4.1-3.1z" color="#48ac65"/>
<path d="M598.2 222.7l4.2-.4-.5-2-4.1 .3z" color="#0966cd"/>
<path d="M419.1 232.9l4.2-3.6-1-.8-4.2 3.2z" color="#090886"/>
<path d="M603.8 224.8l4.2-.8-.7-.7-4.2 .6z" color="#094bb8"/>
<path d="M588.2 210.6l4.2 .4-1-9.9-4.1-.6z" color="#0faca5"/>
<path d="M615.3 229.1l4.1-1.4-2.1-4.8-4.2 1.2z" color="#094aeb"/>
<path d="M583.2 197.7l3.8 .6-.4-3-3.9-.9z" color="#35c18d"/>
<path d="M598.7 224l4.2-.5-.5-1.2-4.2 .4z" color="#0968e2"/>
<path d="M510 214l4.2 .4-2.5-3.6-4.1 .1z" color="#09a3c0"/>
<path d="M491.4 211.8l3.5-.1-8.9-7.4-3.5 .3z" color="#0a9699"/>
<path d="M578 192.8l4.5 .6-1 .4-4.5-1.5z" color="#358d59"/>
<path d="M593.9 222l4.1-.3-1-6.1-4.1 0z" color="#0976ba"/>
<path d="M425.4 230l4.2-6.8-1.7 1.2-4.1 5.2z" color="#091b52"/>
<path d="M567.5 188.6l4.2 3.1-1-.8-4.1-3.5z" color="#429857"/>
<path d="M431 221.3l2.8-4.7-2.4 3.9-2.8 3.5z" color="#09314c"/>
<path d="M583.7 202.3l3.8 .6-.5-4.6-3.8-.6z" color="#25b591"/>
<path d="M604.6 225.9l4.1-1-.7-.9-4.2 .8z" color="#0955ca"/>
<path d="M620.7 228.4l4.1-1.2-1.2-.9-4.2 1.4z" color="#092c98"/>
<path d="M420.1 233.9l4.1-4-.9-.6-4.2 3.6z" color="#090b77"/>
<path d="M473.7 206l4.1 .8-2.6-1.5-4.2-.3z" color="#0d8a7f"/>
<path d="M588.7 215.3l4.2 .3-.5-4.6-4.2-.4z" color="#0994ac"/>
<path d="M599.5 225.3l4.1-.8-.7-1-4.2 .5z" color="#0961d6"/>
<path d="M487.8 212.3l3.6-.5-9.7-7.9-3.6 .3z" color="#0b9a98"/>
<path d="M578.5 195.5l4.4 .3-.4-2.4-4.5-.6z" color="#46ca85"/>
<path d="M564.1 187.2l4.2 2.2-3.4-4.3-4.2-1.5z" color="#54a350"/>
<path d="M594.3 223.9l4.2-.5-.5-1.7-4.1 .3z" color="#0971d4"/>
<path d="M611.1 230.5l4.2-1.4-2.4-5.4-4.2 1.2z" color="#0950e9"/>
<path d="M584.4 210l3.8 .6-.7-7.7-3.8-.6z" color="#11afa2"/>
<path d="M589.2 219.1l4.2 .2-.5-3.7-4.2-.3z" color="#0985b2"/>
<path d="M568.5 189.7l4.1 1.6-.9 .4-4.2-3.1z" color="#3e8548"/>
<path d="M558.5 184l4.2 1.4-2-1.8-4.1-.8z" color="#589841"/>
<path d="M579 199.5l4.4 .4-.5-4.1-4.4-.3z" color="#37b883"/>
<path d="M600.2 226.6l4.1-1.1-.7-1-4.1 .8z" color="#0961d4"/>
<path d="M421 234.8l4.2-4.7-1-.2-4.1 4z" color="#090e69"/>
<path d="M573.9 192.9l4.1-.1-.5-1-4.1-.4z" color="#55cc78"/>
<path d="M553.4 183.5l4.1-.2-1.7-.4-4.1 .6z" color="#4a7930"/>
<path d="M543.1 192.7l4.2-6-2.2 12.2-4.1 4z" color="#225433"/>
<path d="M584.9 214.7l3.8 .6-.5-4.7-3.8-.6z" color="#09a0ac"/>
<path d="M589.9 223.2l4.2-.2-.7-3.7-4.2-.2z" color="#097bc0"/>
<path d="M426.6 229.8l4.2-8.2-1.2 1.6-4.2 6.8z" color="#09264c"/>
<path d="M579.5 204.3l4.4 .5-.5-4.9-4.4-.4z" color="#26b38e"/>
<path d="M606.7 231.2l4.2-1.2-2.2-5.1-4.1 1z" color="#0959eb"/>
<path d="M574.3 195.7l4.2-.2-.5-2.7-4.1 .1z" color="#4ec77a"/>
<path d="M569.2 190.9l4.2 .5-.8-.1-4.1-1.6z" color="#4da357"/>
<path d="M596.3 228.7l4.1-1.6-1.9-3.7-4.2 .5z" color="#0971e7"/>
<path d="M585.4 218.7l3.8 .4-.5-3.8-3.8-.6z" color="#0991b1"/>
<path d="M590.4 225.2l4.2-.6-.5-1.6-4.2 .2z" color="#097ad5"/>
<path d="M416.9 238.1l4.1-3.3-1.4-1.4-4.2 2.8z" color="#090888"/>
<path d="M580.4 214l4.5 .7-1-9.9-4.4-.5z" color="#10ada4"/>
<path d="M422.3 235.5l4.1-5.6-1.2 .2-4.2 4.7z" color="#09135d"/>
<path d="M575.1 201.8l4.1 0-.7-6.3-4.2 .2z" color="#3bb77e"/>
<path d="M569.7 192.9l4.2 0-.5-1.5-4.2-.5z" color="#60d374"/>
<path d="M549.2 186.1l4.2-2.6-1.7 0-4.2 2.6z" color="#426a29"/>
<path d="M427.6 229.3l4.2-9.3-1 1.6-4.2 8.2z" color="#092f4c"/>
<path d="M623.1 227.1l4.1-.5-1.4-.1-4.2 .8z" color="#09447d"/>
<path d="M475.6 208l4.2 .5-2-1.7-4.1-.8z" color="#16a591"/>
<path d="M586.3 224.5l3.9-.2-1-5.2-3.8-.4z" color="#0984bf"/>
<path d="M602.6 232.5l4.1-1.3-2.4-5.7-4.1 1.1z" color="#0960ea"/>
<path d="M564.8 188.3l4.2 2-.7-.9-4.2-2.2z" color="#61b656"/>
<path d="M559.9 185.6l4.2 1.6-1.4-1.8-4.2-1.4z" color="#67ac46"/>
<path d="M554.6 184.3l4.1 0-1.2-1-4.1 .2z" color="#609739"/>
<path d="M570.2 195.9l4.1-.2-.4-2.8-4.2 0z" color="#54c471"/>
<path d="M575.5 206.4l4.2 .4-.5-5-4.1 0z" color="#27b38d"/>
<path d="M580.9 218.1l4.5 .6-.5-4-4.5-.7z" color="#099db0"/>
<path d="M592.1 230.3l4.2-1.6-1.7-4.1-4.2 .6z" color="#0977e7"/>
<path d="M405.9 247.1l4.1-2-8.7-14-4.1 1.8z" color="#0b0a96"/>
<path d="M417.9 239.1l4.1-3.7-1-.6-4.1 3.3z" color="#09097c"/>
<path d="M565.5 191.3l4.2 1.6-.7-2.6-4.2-2z" color="#6acd64"/>
<path d="M545.1 192.2l4.1-6.1-1.9 .6-4.2 6z" color="#345a27"/>
<path d="M587 227.5l3.9-.8-.7-2.4-3.9 .2z" color="#097ed3"/>
<path d="M428.6 228.6l4.1-10.3-.9 1.7-4.2 9.3z" color="#09374c"/>
<path d="M570.9 201.7l4.2 .1-.8-6.1-4.1 .2z" color="#42b877"/>
<path d="M623.6 228.5l4.1-.6-.5-1.3-4.1 .5z" color="#0977e1"/>
<path d="M618.9 227.7l4.2-.6-1.5 .2-4.1 .9z" color="#09497a"/>
<path d="M576.5 215.7l4.2 .4-1-9.3-4.2-.4z" color="#11b0a4"/>
<path d="M435.9 213.2l2.7-7.1-4.8 10.5-2.8 4.7z" color="#0c4c49"/>
<path d="M414.2 243.7l4.6-3.6-4.3-5.3-4.7 2.5z" color="#0d0b94"/>
<path d="M560.7 186.8l4.1 1.5-.7-1.1-4.2-1.6z" color="#75c24f"/>
<path d="M555.5 185.3l4.2 0-1-1-4.1 0z" color="#72b140"/>
<path d="M484.4 213.6l4.1-.8-6.3-5.4-4.1-.4z" color="#14aa98"/>
<path d="M550.4 186.8l4.2-2.5-1.2-.8-4.2 2.6z" color="#558430"/>
<path d="M424.2 236.2l4.1-7.4-1.9 1.1-4.1 5.6z" color="#091e53"/>
<path d="M624 230.5l4.2-.7-.5-1.9-4.1 .6z" color="#0968d1"/>
<path d="M582.4 227.2l4.4-.7-1.4-7.8-4.5-.6z" color="#098abd"/>
<path d="M566 194.6l4.2 1.3-.5-3-4.2-1.6z" color="#5cc066"/>
<path d="M571.4 206.1l4.1 .3-.4-4.6-4.2-.1z" color="#30b486"/>
<path d="M418.8 240.1l4.2-4.3-1-.4-4.1 3.7z" color="#090d72"/>
<path d="M542.4 197.5l2.9-5.2-2.4 1.1-2.9 5z" color="#2b552c"/>
<path d="M561.2 188.6l4.1 1.5-.5-1.8-4.1-1.5z" color="#7bd157"/>
<path d="M414.4 251.6l3.6-2.9-13-19.3-3.7 1.7z" color="#0e0c98"/>
<path d="M429.5 228l4.2-11.3-1 1.6-4.1 10.3z" color="#093e4c"/>
<path d="M566.5 198.6l4.2 1-.5-3.7-4.2-1.3z" color="#4fb96c"/>
<path d="M577.2 221.6l4.2 .1-.7-5.6-4.2-.4z" color="#099fb2"/>
<path d="M571.9 210.6l4.1 .6-.5-4.8-4.1-.3z" color="#20b495"/>
<path d="M624.8 233.7l4.1-.9-.7-3-4.2 .7z" color="#0958cd"/>
<path d="M619.4 229.1l4.2-.6-.5-1.4-4.2 .6z" color="#0982e0"/>
<path d="M556.3 186.3l4.1 .1-.7-1.1-4.2 0z" color="#83ca48"/>
<path d="M561.6 191.7l4.2 1.2-.5-2.8-4.1-1.5z" color="#6dc357"/>
<path d="M615 228.8l4.2-.5-1.7-.1-4.2 .7z" color="#095584"/>
<path d="M551.4 187.8l4.1-2.5-.9-1-4.2 2.5z" color="#689e37"/>
<path d="M567 203.2l4.2 .6-.5-4.2-4.2-1z" color="#40b576"/>
<path d="M546.3 192.8l4.1-6-1.2-.7-4.1 6.1z" color="#40692a"/>
<path d="M619.9 231.2l4.1-.7-.4-2-4.2 .6z" color="#0970ce"/>
<path d="M589.7 236.2l3.9-1.6-2.7-7.9-3.9 .8z" color="#096be0"/>
<path d="M419.8 240.9l4.1-4.8-.9-.3-4.2 4.3z" color="#09106a"/>
<path d="M556.7 187.5l4.2 .1-.5-1.2-4.1-.1z" color="#8fdd50"/>
<path d="M536.8 206l5.3-8.6-2.1 1-5.4 7.8z" color="#235937"/>
<path d="M573.1 221.7l4.1-.1-1.2-10.4-4.1-.6z" color="#0dabaa"/>
<path d="M567.5 208l4.1 .3-.4-4.5-4.2-.6z" color="#31b484"/>
<path d="M562.4 197.9l4.1 .7-.7-5.7-4.2-1.2z" color="#5cb85e"/>
<path d="M578.4 229.4l4.2-1-1.2-6.7-4.2-.1z" color="#0989bb"/>
<path d="M584 234.5l4.5-1.9-1.7-6.1-4.4 .7z" color="#0973d0"/>
<path d="M557 188.6l4.2 0-.3-1-4.2-.1z" color="#84cf4d"/>
<path d="M447.8 185.4l2.2-2.3-3.8 13-2.3 1.8z" color="#355421"/>
<path d="M425.9 236.5l4.1-8.8-1.7 1.1-4.1 7.4z" color="#09294d"/>
<path d="M552.1 188.8l4.2-2.5-.8-1-4.1 2.5z" color="#7bba40"/>
<path d="M568 213l4.1-.1-.5-4.6-4.1-.3z" color="#21b393"/>
<path d="M615.5 230.7l4.1-.6-.4-1.8-4.2 .5z" color="#0983d4"/>
<path d="M480.7 214.8l4.1-.7-5-5.6-4.2-.5z" color="#1fbb9d"/>
<path d="M547.2 193.7l4.2-5.9-1-1-4.1 6z" color="#4c7a2f"/>
<path d="M562.8 202.9l4.2 .3-.5-4.6-4.1-.7z" color="#49b36b"/>
<path d="M405.1 254.4l4.2-2-12.1-19.5-4.2 1.8z" color="#0b0a96"/>
<path d="M557.7 193.8l4.2-.3-.7-4.9-4.2 0z" color="#71be4e"/>
<path d="M420.8 241.7l4.1-5.4-1-.2-4.1 4.8z" color="#091562"/>
<path d="M532.5 208.9l3.5-3.2-1.4 .5-3.6 2.8z" color="#1e6246"/>
<path d="M573.8 227.5l4.2-.9-.8-5-4.1 .1z" color="#0992b3"/>
<path d="M552.6 190l4.1-2.5-.4-1.2-4.2 2.5z" color="#89d149"/>
<path d="M563.3 208.2l4.2-.2-.5-4.8-4.2-.3z" color="#39b17a"/>
<path d="M415.6 245.6l4.7-4.3-1.5-1.2-4.6 3.6z" color="#090985"/>
<path d="M544.5 199.1l3-5.1-2.2-1.7-2.9 5.2z" color="#37652e"/>
<path d="M552.8 191.1l4.2-2.5-.3-1.1-4.1 2.5z" color="#81c748"/>
<path d="M569.2 224.9l4.1-1.2-1.2-10.8-4.1 .1z" color="#0da9a8"/>
<path d="M444.2 193l3.6-7.6-3.1 9.9-3.7 5.8z" color="#335422"/>
<path d="M558.4 200.9l4.2-.6-.7-6.8-4.2 .3z" color="#5ab35a"/>
<path d="M527 210.2l4.8-1.6-1 .7-4.8 1.2z" color="#1c6349"/>
<path d="M548 194.7l4.1-5.9-.7-1-4.2 5.9z" color="#588c35"/>
<path d="M580.1 237.4l4.2-2-1.7-7-4.2 1z" color="#096dc9"/>
<path d="M563.8 213.6l4.2-.6-.5-5-4.2 .2z" color="#27b18a"/>
<path d="M553.3 194.2l4.2-2.4-.5-3.2-4.2 2.5z" color="#74bb48"/>
<path d="M538.2 206.8l5.4-8.6-1.5-.8-5.3 8.6z" color="#2c643a"/>
<path d="M574.8 233.9l4.1-1.9-.9-5.4-4.2 .9z" color="#097bb8"/>
<path d="M585.7 239.1l4.5-1.9-1.7-4.6-4.5 1.9z" color="#0960e1"/>
<path d="M427.3 236.7l4.2-9.9-1.5 .9-4.1 8.8z" color="#09324c"/>
<path d="M422 242.7l4.1-6.1-1.2-.3-4.1 5.4z" color="#091b5d"/>
<path d="M460.6 195.5l2.8 5.2-1.4-3.1-2.8-5.6z" color="#539a49"/>
<path d="M442.5 197.9l1.9-5.2-3.9 9.9-1.9 3.5z" color="#2b542a"/>
<path d="M548.5 195.8l4.1-5.8-.5-1.2-4.1 5.9z" color="#68a740"/>
<path d="M533.7 209.7l3.5-3.5-1.2-.5-3.5 3.2z" color="#26744f"/>
<path d="M559.2 209.1l4.1-.9-.7-7.9-4.2 .6z" color="#42b06f"/>
<path d="M438.8 208.2l2.7-9-2.9 6.9-2.7 7.1z" color="#1f5436"/>
<path d="M453.9 183.8l5.5 8.7-.7-1.1-5.5-8.7z" color="#719e2e"/>
<path d="M564.5 221.5l4.2-1.2-.7-7.3-4.2 .6z" color="#12afa0"/>
<path d="M435.1 223.9l4.2-16.3-5.6 9.1-4.2 11.3z" color="#0f4d47"/>
<path d="M554.1 200.6l4.1-2.2-.7-6.6-4.2 2.4z" color="#62b251"/>
<path d="M569.9 231l4.1-1.8-.7-5.5-4.1 1.2z" color="#098caf"/>
<path d="M528 211.3l4.7-2.2-.9-.5-4.8 1.6z" color="#2b996f"/>
<path d="M416.6 246.9l4.6-4.8-.9-.8-4.7 4.3z" color="#090c80"/>
<path d="M548.7 196.8l4.1-5.7-.2-1.1-4.1 5.8z" color="#6db347"/>
<path d="M448.8 184.7l2.2-2.4-1 .8-2.2 2.3z" color="#475913"/>
<path d="M545.3 200.3l2.9-5.2-.7-1.1-3 5.1z" color="#467e39"/>
<path d="M559.6 214.8l4.2-1.2-.5-5.4-4.1 .9z" color="#2baf84"/>
<path d="M454.4 185l5.5 8.6-.5-1.1-5.5-8.7z" color="#7eb034"/>
<path d="M549.2 199.6l4.1-5.4-.5-3.1-4.1 5.7z" color="#67b14b"/>
<path d="M581.1 240.2l4.2-2-1-2.8-4.2 2z" color="#095fe0"/>
<path d="M576 239.8l4.1-2.4-1.2-5.4-4.1 1.9z" color="#0964c4"/>
<path d="M565.3 228.7l4.1-1.7-.7-6.7-4.2 1.2z" color="#099caa"/>
<path d="M539.2 207.8l5.3-8.7-.9-.9-5.4 8.6z" color="#347341"/>
<path d="M554.8 208.4l4.1-2.1-.7-7.9-4.1 2.2z" color="#4bae64"/>
<path d="M570.6 236.1l4.2-2.2-.8-4.7-4.1 1.8z" color="#0975b4"/>
<path d="M523.3 211.9l4.2-1.2-1-.6-4.1 .7z" color="#2fa87a"/>
<path d="M428.5 236.7l4.2-10.9-1.2 1-4.2 9.9z" color="#09394c"/>
<path d="M452 183.5l1.9 .3-.7-1.1-2-.3z" color="#9cc026"/>
<path d="M534.7 210.5l3.5-3.7-1-.6-3.5 3.5z" color="#2b7d53"/>
<path d="M454.9 186.5l5.5 8.3-.5-1.2-5.5-8.6z" color="#80b637"/>
<path d="M545.7 201.8l3-5-.5-1.7-2.9 5.2z" color="#559d49"/>
<path d="M528.9 212.4l4.8-2.7-1-.6-4.7 2.2z" color="#30a274"/>
<path d="M417.5 248.1l4.7-5.2-1-.8-4.6 4.8z" color="#090f7c"/>
<path d="M549.9 205.2l4.2-4.6-.8-6.4-4.1 5.4z" color="#5aae56"/>
<path d="M560.9 228.2l4.1-1.8-1.2-12.8-4.2 1.2z" color="#11a8a0"/>
<path d="M449.7 185.9l2.3-2.4-1-1.2-2.2 2.4z" color="#7f9c1e"/>
<path d="M566 234.9l4.1-2.1-.7-5.8-4.1 1.7z" color="#0982ad"/>
<path d="M581.8 241.3l4.2-1.9-.7-1.2-4.2 2z" color="#105ddc"/>
<path d="M445.6 193l3.6-8-1.4 .4-3.6 7.6z" color="#435a18"/>
<path d="M555.5 216.7l4.1-1.9-.7-8.5-4.1 2.1z" color="#31ad7e"/>
<path d="M455.3 188.1l5.5 8.1-.4-1.4-5.5-8.3z" color="#7fb83a"/>
<path d="M452.4 184.7l2 .3-.5-1.2-1.9-.3z" color="#b3de2c"/>
<path d="M539.9 208.9l5.4-8.6-.8-1.2-5.3 8.7z" color="#3c854b"/>
<path d="M576.7 242l4.2-2.4-.8-2.2-4.1 2.4z" color="#095ada"/>
<path d="M518.9 212.3l4.2-.8-1.2-.7-4.2 .6z" color="#2f9c6e"/>
<path d="M571.6 241.3l4.1-2.5-.9-4.9-4.2 2.2z" color="#0960be"/>
<path d="M524.1 213.1l4.1-1.6-.7-.8-4.2 1.2z" color="#3bd399"/>
<path d="M546.7 207.3l3-4.2-1-6.3-3 5z" color="#54ab58"/>
<path d="M425.1 244.8l4.2-8.1-3.2-.1-4.1 6.1z" color="#092556"/>
<path d="M455.6 189.1l5.5 7.8-.3-.7-5.5-8.1z" color="#7eba3d"/>
<path d="M550.6 212l4.2-3.6-.7-7.8-4.2 4.6z" color="#46ad68"/>
<path d="M535.6 211.7l3.6-3.9-1-1-3.5 3.7z" color="#328c5b"/>
<path d="M529.7 213.4l4.7-3.1-.7-.6-4.8 2.7z" color="#33a776"/>
<path d="M452.9 186.1l2 .4-.5-1.5-2-.3z" color="#afdc2e"/>
<path d="M629.8 232.8l4.2 .5-.5-1.4-4.2-.7z" color="#099dd5"/>
<path d="M450.2 187l2.2-2.3-.4-1.2-2.3 2.4z" color="#a0c628"/>
<path d="M429.7 236.6l4.2-11.9-1.2 1.1-4.2 10.9z" color="#09404c"/>
<path d="M455.8 190l5.5 7.7-.2-.8-5.5-7.8z" color="#7dba3f"/>
<path d="M418.5 249.3l4.7-5.7-1-.7-4.7 5.2z" color="#091178"/>
<path d="M566.7 239.9l4.2-2.3-.8-4.8-4.1 2.1z" color="#096bb3"/>
<path d="M540.4 210.2l5.3-8.4-.4-1.5-5.4 8.6z" color="#47a25c"/>
<path d="M577.2 243l4.1-2.4-.4-1-4.2 2.4z" color="#2c7af2"/>
<path d="M561.6 234.9l4.1-1.9-.7-6.6-4.1 1.8z" color="#098aab"/>
<path d="M556.5 227.4l4.1-1.7-1-10.9-4.1 1.9z" color="#13ab9d"/>
<path d="M456.1 191l5.5 7.5-.3-.8-5.5-7.7z" color="#7bbb41"/>
<path d="M524.8 214.3l4.1-1.9-.7-.9-4.1 1.6z" color="#3cd69b"/>
<path d="M551.1 216.9l4.2-3-.5-5.5-4.2 3.6z" color="#33ad7c"/>
<path d="M540.6 211.1l5.4-8.2-.3-1.1-5.3 8.4z" color="#4aaf66"/>
<path d="M446.3 194.2l3.7-7.8-.8-1.4-3.6 8z" color="#5c7a1e"/>
<path d="M450.7 188.2l2.2-2.1-.5-1.4-2.2 2.3z" color="#a0c92a"/>
<path d="M516.8 212.6l2.1-.3-.9-.9-2.1 .2z" color="#37af79"/>
<path d="M456.3 192l5.5 7.4-.2-.9-5.5-7.5z" color="#7abc43"/>
<path d="M572.6 244.6l4.1-2.6-1-3.2-4.1 2.5z" color="#0953d4"/>
<path d="M411.2 255.5l4.1-2.5-5.3-7.9-4.1 2z" color="#1413a2"/>
<path d="M547.4 212.9l3-3.3-.7-6.5-3 4.2z" color="#44ad6a"/>
<path d="M453.6 188.7l2 .4-.7-2.6-2-.4z" color="#a7d731"/>
<path d="M514.5 212.5l2.1-.3-1.4-.5-2.1 .2z" color="#2e8d60"/>
<path d="M530.4 214.4l4.7-3.3-.7-.8-4.7 3.1z" color="#38b07b"/>
<path d="M441.4 206.9l2.8-8.6-2.7 .9-2.7 9z" color="#2e5428"/>
<path d="M536.3 212.8l3.6-3.9-.7-1.1-3.6 3.9z" color="#39a068"/>
<path d="M540.9 212l5.3-7.8-.2-1.3-5.4 8.2z" color="#49b26a"/>
<path d="M577.9 244l4.2-2.4-.8-1-4.1 2.4z" color="#2162c9"/>
<path d="M456.5 193.1l5.6 7.1-.3-.8-5.5-7.4z" color="#78bc45"/>
<path d="M631 236.8l4.2 .4-1.2-3.9-4.2-.5z" color="#0992d6"/>
<path d="M625.4 231.2l4.2 .7-.5-1.2-4.1-.8z" color="#09abcf"/>
<path d="M551.6 221.7l4.1-2.2-.4-5.6-4.2 3z" color="#21ae8e"/>
<path d="M567.7 244.8l4.1-2.5-.9-4.7-4.2 2.3z" color="#0956c0"/>
<path d="M541.1 213.1l5.4-7.4-.3-1.5-5.3 7.8z" color="#46b36e"/>
<path d="M562.3 240.5l4.2-2.1-.8-5.4-4.1 1.9z" color="#0970b0"/>
<path d="M445.2 199.4l1.8-4-2.6-2.7-1.9 5.2z" color="#3e5d20"/>
<path d="M406.3 265l4.1-2-15.7-25.5-4.1 1.8z" color="#0c0a97"/>
<path d="M451.2 189.6l2.2-1.8-.5-1.7-2.2 2.1z" color="#9fca2c"/>
<path d="M456.8 194.1l5.5 6.9-.2-.8-5.6-7.1z" color="#77bd48"/>
<path d="M419.5 250.5l4.6-6.3-.9-.6-4.7 5.7z" color="#091373"/>
<path d="M446.8 195l3.7-7.4-.5-1.2-3.7 7.8z" color="#668722"/>
<path d="M510.2 212.4l4.1-.2-1.7 0-4.1-.2z" color="#2d7f54"/>
<path d="M525.5 215.6l4.2-2.2-.8-1-4.1 1.9z" color="#3dd89c"/>
<path d="M557.2 234.4l4.1-1.6-.7-7.1-4.1 1.7z" color="#0993aa"/>
<path d="M541.4 214.3l5.3-7-.2-1.6-5.4 7.4z" color="#43b372"/>
<path d="M457 195.2l5.5 6.7-.2-.9-5.5-6.9z" color="#75be4a"/>
<path d="M573 245.6l4.2-2.6-.5-1-4.1 2.6z" color="#3f83f5"/>
<path d="M548.2 219.1l2.9-2.2-.7-7.3-3 3.3z" color="#31af7f"/>
<path d="M536.8 213.9l3.6-3.7-.5-1.3-3.6 3.9z" color="#41ba7a"/>
<path d="M436.3 223.3l4.2-16.5-1.2 .8-4.2 16.3z" color="#1a543c"/>
<path d="M531.1 215.5l4.8-3.5-.8-.9-4.7 3.3z" color="#46c48c"/>
<path d="M451.4 190.4l2.2-1.7-.2-.9-2.2 1.8z" color="#9ecb2f"/>
<path d="M454.6 192.5l1.9 .6-.9-4-2-.4z" color="#9cd136"/>
<path d="M541.6 215.6l5.4-6.5-.3-1.8-5.3 7z" color="#3fb476"/>
<path d="M521.6 217.7l4.2-1.7-2.7-4.5-4.2 .8z" color="#45edab"/>
<path d="M431.4 236.6l4.2-13-1.7 1.1-4.2 11.9z" color="#09474c"/>
<path d="M457.3 196.3l5.5 6.5-.3-.9-5.5-6.7z" color="#73be4c"/>
<path d="M447.3 195.9l3.6-7-.4-1.3-3.7 7.4z" color="#6b8f25"/>
<path d="M451.7 191.2l2.2-1.6-.3-.9-2.2 1.7z" color="#9dcc31"/>
<path d="M552.6 231l4.1-1.1-1-10.4-4.1 2.2z" color="#0da9a5"/>
<path d="M541.8 217l5.4-6.1-.2-1.8-5.4 6.5z" color="#3bb47b"/>
<path d="M515.3 213.8l2-.3-.7-1.3-2.1 .3z" color="#49e199"/>
<path d="M579.1 244.7l4.2-2.6-1.2-.5-4.2 2.4z" color="#09377e"/>
<path d="M457.5 197.4l5.5 6.3-.2-.9-5.5-6.5z" color="#71bf4f"/>
<path d="M568.4 247.1l4.2-2.5-.8-2.3-4.1 2.5z" color="#094ad7"/>
<path d="M563.3 246l4.1-2.2-.9-5.4-4.2 2.1z" color="#0957bb"/>
<path d="M526.2 216.9l4.2-2.5-.7-1-4.2 2.2z" color="#4be1aa"/>
<path d="M631.8 237.7l4.1 .5-.7-1-4.2-.4z" color="#0976b2"/>
<path d="M557.9 240.4l4.2-1.6-.8-6-4.1 1.6z" color="#0979ae"/>
<path d="M626.9 236.4l4.1 .4-1.4-4.9-4.2-.7z" color="#09a2d3"/>
<path d="M548.6 223.4l3-1.7-.5-4.8-2.9 2.2z" color="#1fb093"/>
<path d="M537.6 216.5l3.5-3.4-.7-2.9-3.6 3.7z" color="#3fc284"/>
<path d="M542.1 218.4l5.3-5.5-.2-2-5.4 6.1z" color="#36b480"/>
<path d="M457.7 198.5l5.6 6-.3-.8-5.5-6.3z" color="#70c051"/>
<path d="M574 246.8l4.2-2.6-1-1.2-4.2 2.6z" color="#245dbe"/>
<path d="M420.4 251.6l4.7-6.8-1-.6-4.6 6.3z" color="#09156e"/>
<path d="M621.3 230.4l4.1 .8-.4-1.3-4.2-.9z" color="#09bccf"/>
<path d="M447.8 196.8l3.6-6.4-.5-1.5-3.6 7z" color="#719828"/>
<path d="M531.8 216.8l4.8-3.5-.7-1.3-4.8 3.5z" color="#5ad8a7"/>
<path d="M452.4 193.7l2.2-1.2-.7-2.9-2.2 1.6z" color="#9bcf35"/>
<path d="M416.3 254.4l3.7-3.4-2-2.3-3.6 2.9z" color="#0b0a91"/>
<path d="M542.3 219.9l5.4-5-.3-2-5.3 5.5z" color="#31b585"/>
<path d="M510.9 213.5l4.1-.2-.7-1.1-4.1 .2z" color="#49d088"/>
<path d="M553 235.2l4.2-.8-.5-4.5-4.1 1.1z" color="#0993ac"/>
<path d="M569.1 248.5l4.2-2.5-.7-1.4-4.2 2.5z" color="#2d68e9"/>
<path d="M542.8 223l5.4-3.9-.5-4.2-5.4 5z" color="#28b68f"/>
<path d="M448.3 197.7l3.6-5.7-.5-1.6-3.6 6.4z" color="#75a02c"/>
<path d="M527 218.2l4.1-2.7-.7-1.1-4.2 2.5z" color="#88f2d1"/>
<path d="M558.6 245.1l4.2-1.6-.7-4.7-4.2 1.6z" color="#0961b6"/>
<path d="M456.1 198.9l1.9 .7-1.5-6.5-1.9-.6z" color="#8dcd41"/>
<path d="M564 248.7l4.2-2.2-.8-2.7-4.1 2.2z" color="#0948d1"/>
<path d="M445.9 200.3l1.9-3.5-.8-1.4-1.8 4z" color="#496c24"/>
<path d="M520.2 220.2l2.1-.9-3.4-7-2.1 .3z" color="#47f2ac"/>
<path d="M549.8 233.5l3-.3-1.2-11.5-3 1.7z" color="#0caaa9"/>
<path d="M428 246.5l4.2-9.9-2.9 .1-4.2 8.1z" color="#09314f"/>
<path d="M538.5 220.9l3.6-2.5-1-5.3-3.5 3.4z" color="#35c08d"/>
<path d="M505.1 212.3l5.3 .4-1.2-.9-5.4-.4z" color="#3f9e60"/>
<path d="M553.5 239l4.2-.5-.5-4.1-4.2 .8z" color="#0983b0"/>
<path d="M622.5 235.2l4.1 .6-1.2-4.6-4.1-.8z" color="#09b1d0"/>
<path d="M438.2 223.7l4.2-16.3-1.9-.6-4.2 16.5z" color="#1e5437"/>
<path d="M633.2 238.3l4.2 .6-1.5-.7-4.1-.5z" color="#09648b"/>
<path d="M627.6 237.2l4.2 .5-.8-.9-4.1-.4z" color="#097eaa"/>
<path d="M421.4 252.7l4.7-7.3-1-.6-4.7 6.8z" color="#091968"/>
<path d="M543.3 226.1l5.3-2.7-.4-4.3-5.4 3.9z" color="#1cb79c"/>
<path d="M448.7 198.6l3.7-4.9-.5-1.7-3.6 5.7z" color="#7aa930"/>
<path d="M522.1 218.8l4.1-1.9-.4-.9-4.2 1.7z" color="#52f9bf"/>
<path d="M575.2 247.6l4.2-2.8-1.2-.6-4.2 2.6z" color="#09347c"/>
<path d="M617.1 229.7l4.2 .7-.5-1.4-4.2-.7z" color="#09cdd0"/>
<path d="M564.5 249.9l4.1-2.2-.4-1.2-4.2 2.2z" color="#0c46e7"/>
<path d="M527.7 219.6l4.1-2.8-.7-1.3-4.1 2.7z" color="#8ff8d9"/>
<path d="M533.5 222.4l4.8-2.7-1.7-6.4-4.8 3.5z" color="#3ad299"/>
<path d="M554 242.3l4.2-.2-.5-3.6-4.2 .5z" color="#0974b4"/>
<path d="M570.1 249.6l4.1-2.6-.9-1-4.2 2.5z" color="#0a3aac"/>
<path d="M449 199l3.6-4.4-.2-.9-3.7 4.9z" color="#7daf34"/>
<path d="M446.6 201.3l1.9-3.2-.7-1.3-1.9 3.5z" color="#4e7427"/>
<path d="M559.6 249.5l4.1-1.6-.9-4.4-4.2 1.6z" color="#094ec8"/>
<path d="M407.3 257.9l4.1-2-2.1-3.5-4.2 2z" color="#1514a4"/>
<path d="M522.6 219.9l4.1-2.1-.5-.9-4.1 1.9z" color="#74fad5"/>
<path d="M411.9 256.6l4.2-2.5-.8-1.1-4.1 2.5z" color="#1918a8"/>
<path d="M449.2 199.5l3.7-4-.3-.9-3.6 4.4z" color="#7fb436"/>
<path d="M444.8 209.6l2.8-7-3.4-4.3-2.8 8.6z" color="#375c26"/>
<path d="M454.8 202.6l2.2 .4-2.4-10.5-2.2 1.2z" color="#91d444"/>
<path d="M550.6 238.8l2.9 .2-.7-5.8-3 .3z" color="#0990b2"/>
<path d="M623 236.2l4.1 .6-.5-1-4.1-.6z" color="#09a5cb"/>
<path d="M539.5 226.1l3.5-1.5-.9-6.2-3.6 2.5z" color="#24bf9c"/>
<path d="M544.2 232.4l5.4-.8-1-8.2-5.3 2.7z" color="#0db5ae"/>
<path d="M513 218.9l4.2-.5-2.2-5.1-4.1 .2z" color="#4eec9f"/>
<path d="M505.8 213.6l5.3 .4-.7-1.3-5.3-.4z" color="#55d884"/>
<path d="M554.5 245.2l4.1-.1-.4-3-4.2 .2z" color="#0966ba"/>
<path d="M417.8 256.4l3.6-3.7-1.4-1.7-3.7 3.4z" color="#090a89"/>
<path d="M449.5 200l3.6-3.6-.2-.9-3.7 4z" color="#81b839"/>
<path d="M565.2 251.1l4.2-2.3-.8-1.1-4.1 2.2z" color="#184cdb"/>
<path d="M633.7 239.8l4.1 .3-.4-1.2-4.2-.6z" color="#0996d2"/>
<path d="M422.4 253.8l4.6-7.9-.9-.5-4.7 7.3z" color="#091c63"/>
<path d="M618.3 234.4l4.2 .8-1.2-4.8-4.2-.7z" color="#09c0cf"/>
<path d="M523 221l4.2-2.4-.5-.8-4.1 2.1z" color="#95f9da"/>
<path d="M629.1 237.7l4.1 .6-1.4-.6-4.2-.5z" color="#096d88"/>
<path d="M501.5 212.1l3.6 .2-1.3-.9-3.5-.3z" color="#479f5a"/>
<path d="M449.7 200.4l3.7-3.1-.3-.9-3.6 3.6z" color="#83bd3b"/>
<path d="M447.3 202.3l1.9-2.8-.7-1.4-1.9 3.2z" color="#547e2a"/>
<path d="M633.9 240.9l4.2 .2-.3-1-4.1-.3z" color="#098dcc"/>
<path d="M412.6 257.7l4.2-2.6-.7-1-4.2 2.5z" color="#1b1aaa"/>
<path d="M551.1 241.9l2.9 .4-.5-3.3-2.9-.2z" color="#0980b7"/>
<path d="M449.9 200.9l3.7-2.7-.2-.9-3.7 3.1z" color="#85c23e"/>
<path d="M555.2 248.6l4.2-.1-.8-3.4-4.1 .1z" color="#0959c6"/>
<path d="M458.2 207.7l2 1-2.2-9.1-1.9-.7z" color="#7bcc53"/>
<path d="M571.3 250.3l4.1-2.7-1.2-.6-4.1 2.6z" color="#09307b"/>
<path d="M544.7 235.3l5.4 .1-.5-3.8-5.4 .8z" color="#09a8b6"/>
<path d="M529.4 224.6l4.1-2.2-1.7-5.6-4.1 2.8z" color="#39dda6"/>
<path d="M634.2 242.2l4.1 0-.2-1.1-4.2-.2z" color="#0982c2"/>
<path d="M560.8 252.3l4.2-1.6-1.3-2.8-4.1 1.6z" color="#0941df"/>
<path d="M523.5 222.2l4.2-2.6-.5-1-4.2 2.4z" color="#65f3c5"/>
<path d="M450.2 201.4l3.6-2.3-.2-.9-3.7 2.7z" color="#87c741"/>
<path d="M566.2 252.1l4.1-2.3-.9-1-4.2 2.3z" color="#0934a8"/>
<path d="M624.7 236.4l4.1 .8-1.7-.4-4.1-.6z" color="#097082"/>
<path d="M540.7 232.8l3.5-.4-1.2-7.8-3.5 1.5z" color="#10c0b3"/>
<path d="M545 236.7l5.3 .4-.2-1.7-5.4-.1z" color="#09a0b8"/>
<path d="M450.4 201.8l3.7-1.8-.3-.9-3.6 2.3z" color="#89cc44"/>
<path d="M520.8 228l2.1-.7-5.6-13.8-2 .3z" color="#42f2b2"/>
<path d="M618.8 235.4l4.2 .8-.5-1-4.2-.8z" color="#09b1c6"/>
<path d="M535 228.9l4.7-1.5-1.4-7.7-4.8 2.7z" color="#25c9a6"/>
<path d="M448 203.3l1.9-2.4-.7-1.4-1.9 2.8z" color="#5c8a2f"/>
<path d="M634.7 245.3l4.1-.3-.5-2.8-4.1 0z" color="#0973bb"/>
<path d="M614.2 233.6l4.1 .8-1.7-6.1-4.1-.5z" color="#0bd2cf"/>
<path d="M423.3 254.8l4.7-8.3-1-.6-4.6 7.9z" color="#092060"/>
<path d="M551.8 245.7l2.9 .7-.7-4.1-2.9-.4z" color="#0972be"/>
<path d="M418.5 257.4l3.6-3.9-.7-.8-3.6 3.7z" color="#090c84"/>
<path d="M408 259.1l4.2-2.1-.8-1.1-4.1 2z" color="#1d1bac"/>
<path d="M629.5 239.3l4.2 .5-.5-1.5-4.1-.6z" color="#09a5d0"/>
<path d="M413.4 258.9l4.1-2.8-.7-1-4.2 2.6z" color="#1c1bab"/>
<path d="M545.2 238l5.4 .8-.3-1.7-5.3-.4z" color="#099bba"/>
<path d="M450.7 202.3l3.6-1.4-.2-.9-3.7 1.8z" color="#8bd147"/>
<path d="M524.3 224.1l4.1-2.6-.7-1.9-4.2 2.6z" color="#3ae8af"/>
<path d="M555.9 250.9l4.2 0-.7-2.4-4.2 .1z" color="#0950d8"/>
<path d="M545.5 239.3l5.3 1.1-.2-1.6-5.4-.8z" color="#0996bc"/>
<path d="M450.9 202.8l3.7-1-.3-.9-3.6 1.4z" color="#91da4e"/>
<path d="M635.1 248.7l4.2-.7-.5-3-4.1 .3z" color="#0961b7"/>
<path d="M498.2 212.3l3.6 .2-1-1.2-3.6-.1z" color="#56b35e"/>
<path d="M629.8 240.6l4.1 .3-.2-1.1-4.2-.5z" color="#0997c5"/>
<path d="M503 215l3.5 .3-1.4-3-3.6-.2z" color="#60db7c"/>
<path d="M508.2 219.8l5.3 .4-2.4-6.2-5.3-.4z" color="#55e692"/>
<path d="M561.5 253.2l4.2-1.6-.7-.9-4.2 1.6z" color="#0938c0"/>
<path d="M545.7 240.5l5.4 1.4-.3-1.5-5.3-1.1z" color="#0991be"/>
<path d="M451.2 203.2l3.6-.6-.2-.8-3.7 1z" color="#a5e663"/>
<path d="M448.8 204.4l1.9-2.1-.8-1.4-1.9 2.4z" color="#669935"/>
<path d="M437.9 239.8l4.2-13.6-6.5-2.6-4.2 13z" color="#0f4e47"/>
<path d="M630 242.1l4.2 .1-.3-1.3-4.1-.3z" color="#098bbc"/>
<path d="M419.2 258.4l3.7-4.1-.8-.8-3.6 3.9z" color="#090e81"/>
<path d="M408.7 260.3l4.2-2.2-.7-1.1-4.2 2.1z" color="#201fb0"/>
<path d="M445.5 210.4l2.8-6.7-.7-1.1-2.8 7z" color="#3e6427"/>
<path d="M414.1 260l4.1-2.9-.7-1-4.1 2.8z" color="#1c1bab"/>
<path d="M556.4 251.9l4.2 0-.5-1-4.2 0z" color="#0949da"/>
<path d="M431.1 248.6l4.2-10.6-3.1-1.4-4.2 9.9z" color="#093b4e"/>
<path d="M545.9 241.7l5.4 1.6-.2-1.4-5.4-1.4z" color="#098dc0"/>
<path d="M424.3 255.8l4.7-8.7-1-.6-4.7 8.3z" color="#09235d"/>
<path d="M553 250.1l2.9 .8-1.2-4.5-2.9-.7z" color="#0963cc"/>
<path d="M625.1 237.6l4.2 .7-.5-1.1-4.1-.8z" color="#09b0c8"/>
<path d="M541.7 237.7l3.5 .3-1-5.6-3.5 .4z" color="#09b4bf"/>
<path d="M451.6 204.1l3.7 .2-.5-1.7-3.6 .6z" color="#b5ed75"/>
<path d="M567.6 252.8l4.2-2.4-1.5-.6-4.1 2.3z" color="#092e79"/>
<path d="M635.9 253l4.1-1.1-.7-3.9-4.2 .7z" color="#094cbd"/>
<path d="M614.7 234.5l4.1 .9-.5-1-4.1-.8z" color="#09bfc5"/>
<path d="M630.5 245.6l4.2-.3-.5-3.1-4.2-.1z" color="#097cb6"/>
<path d="M546.2 242.8l5.3 1.8-.2-1.3-5.4-1.6z" color="#0989c2"/>
<path d="M610 232.8l4.2 .8-1.5-5.2-4.1-.4z" color="#12d9c9"/>
<path d="M625.4 238.7l4.1 .6-.2-1-4.2-.7z" color="#09aec9"/>
<path d="M546.4 243.8l5.4 1.9-.3-1.1-5.3-1.8z" color="#0985c5"/>
<path d="M515.9 226.5l4.2-.5-2.9-7.6-4.2 .5z" color="#42eeae"/>
<path d="M531.3 232.2l4.2-1-2-8.8-4.1 2.2z" color="#23d2b1"/>
<path d="M536.4 235.6l4.8-.3-1.5-7.9-4.7 1.5z" color="#0fc8bd"/>
<path d="M449.5 205.4l1.9-1.7-.7-1.4-1.9 2.1z" color="#89b454"/>
<path d="M562.5 254l4.1-1.5-.9-.9-4.2 1.6z" color="#09339c"/>
<path d="M557.1 252.9l4.2 0-.7-1-4.2 0z" color="#0942c2"/>
<path d="M419.9 259.4l3.7-4.3-.7-.8-3.7 4.1z" color="#090f7e"/>
<path d="M409.5 261.4l4.1-2.2-.7-1.1-4.2 2.2z" color="#2321b3"/>
<path d="M452.1 205l3.7 .9-.5-1.6-3.7-.2z" color="#99e65a"/>
<path d="M443.3 227l4.2-14.7-5.1-4.9-4.2 16.3z" color="#245431"/>
<path d="M494 212.1l4.2 .2-1-1.1-4.1 0z" color="#5aae55"/>
<path d="M446.3 211.1l2.7-6.4-.7-1-2.8 6.7z" color="#406728"/>
<path d="M524.3 231.6l2.1-.6-4.1-11.7-2.1 .9z" color="#35ecb9"/>
<path d="M488.9 211l4.2 .2-1.3 .4-4.1 .3z" color="#36622d"/>
<path d="M631 249.4l4.1-.7-.4-3.4-4.2 .3z" color="#0968b4"/>
<path d="M414.8 261.1l4.2-3-.8-1-4.1 2.9z" color="#1a19a8"/>
<path d="M625.6 240.2l4.2 .4-.3-1.3-4.1-.6z" color="#09a0be"/>
<path d="M546.7 244.7l5.3 2.1-.2-1.1-5.4-1.9z" color="#0982c8"/>
<path d="M636.3 255l4.2-1.2-.5-1.9-4.1 1.1z" color="#093fd0"/>
<path d="M499.6 215.4l3.6 .2-1.4-3.1-3.6-.2z" color="#6ae078"/>
<path d="M553.5 251l2.9 .9-.5-1-2.9-.8z" color="#0957c8"/>
<path d="M625.9 241.9l4.1 .2-.2-1.5-4.2-.4z" color="#0994b7"/>
<path d="M546.9 245.6l5.4 2.2-.3-1-5.3-2.1z" color="#097fca"/>
<path d="M615.9 234.9l4.1 .5-1.2 0-4.1-.9z" color="#097f7e"/>
<path d="M526.9 232.6l4.2-1.4-2.7-9.7-4.1 2.6z" color="#2bdfb5"/>
<path d="M542.6 241.9l3.6 .9-1-4.8-3.5-.3z" color="#09a7c6"/>
<path d="M600.6 227l3.8 .3-1.2 .3-3.8-.2z" color="#1f8668"/>
<path d="M621 237.3l4.1 .3-.4-1.2-4.2-.6z" color="#09c4cd"/>
<path d="M450.2 206.4l1.9-1.4-.7-1.3-1.9 1.7z" color="#8cbe53"/>
<path d="M636.8 256.3l4.2-1.3-.5-1.2-4.2 1.2z" color="#093be6"/>
<path d="M631.7 254.1l4.2-1.1-.8-4.3-4.1 .7z" color="#0953b9"/>
<path d="M626.4 245.9l4.1-.3-.5-3.5-4.1-.2z" color="#0984b2"/>
<path d="M420.7 260.3l3.6-4.5-.7-.7-3.7 4.3z" color="#09107b"/>
<path d="M547.4 247.1l5.3 2.3-.4-1.6-5.4-2.2z" color="#097bcc"/>
<path d="M447 211.8l2.7-6.1-.7-1-2.7 6.4z" color="#436a29"/>
<path d="M415.5 262.2l4.2-3.1-.7-1-4.2 3z" color="#1615a3"/>
<path d="M558.1 253.9l4.2 0-1-1-4.2 0z" color="#093da7"/>
<path d="M610.8 234l4.1 .7-.7-1.1-4.2-.8z" color="#0cbdb5"/>
<path d="M605.9 231.7l4.1 1.1-1.4-4.8-4.2-.7z" color="#1fdcbd"/>
<path d="M575.9 247l4.1-3.8-4.6 4.4-4.1 2.7z" color="#093550"/>
<path d="M410.7 263.4l4.1-2.3-1.2-1.9-4.1 2.2z" color="#2322b4"/>
<path d="M453.1 206.8l3.6 1.9-.4-1.3-3.7-1.5z" color="#89da53"/>
<path d="M621.2 238.6l4.2 .1-.3-1.1-4.1-.3z" color="#09b7c4"/>
<path d="M554.4 252.4l3 .8-1-1.3-2.9-.9z" color="#094fb2"/>
<path d="M564 254.6l4.1-1.8-1.5-.3-4.1 1.5z" color="#093075"/>
<path d="M489.9 211.8l4.1 .3-.9-.9-4.2-.2z" color="#5da64b"/>
<path d="M510.1 224.7l5.4 .6-2-5.1-5.3-.4z" color="#4ae69d"/>
<path d="M626.8 250l4.2-.6-.5-3.8-4.1 .3z" color="#096fb0"/>
<path d="M547.9 248.2l5.3 2.4-.5-1.2-5.3-2.3z" color="#0974c8"/>
<path d="M621.5 240.1l4.1 .1-.2-1.5-4.2-.1z" color="#09a9ba"/>
<path d="M537.6 240.6l4.8 .4-1.2-5.7-4.8 .3z" color="#09bdc9"/>
<path d="M632.2 256.2l4.1-1.2-.4-2-4.2 1.1z" color="#0945cc"/>
<path d="M450.9 207.3l1.9-.9-.7-1.4-1.9 1.4z" color="#7cbd42"/>
<path d="M616.6 236.3l4.1 .1-.7-1-4.1-.5z" color="#0ab9b5"/>
<path d="M421.4 261.3l3.6-4.7-.7-.8-3.6 4.5z" color="#09117a"/>
<path d="M543.6 245.2l3.5 1.2-.9-3.6-3.6-.9z" color="#099dcd"/>
<path d="M621.7 242l4.2-.1-.3-1.7-4.1-.1z" color="#099cb4"/>
<path d="M638 256.8l4.2-1.1-1.2-.7-4.2 1.3z" color="#09288e"/>
<path d="M447.7 212.5l2.8-5.8-.8-1-2.7 6.1z" color="#456d29"/>
<path d="M416.3 263.2l4.1-3.2-.7-.9-4.2 3.1z" color="#12109d"/>
<path d="M427.7 259.3l4.6-9.7-3.3-2.5-4.7 8.7z" color="#09295a"/>
<path d="M632.7 257.6l4.1-1.3-.5-1.3-4.1 1.2z" color="#0942e5"/>
<path d="M612 235l4.1 .1-1.2-.4-4.1-.7z" color="#0e998e"/>
<path d="M627.6 255.2l4.1-1.1-.7-4.7-4.2 .6z" color="#0959b6"/>
<path d="M548.6 249.4l5.4 2.4-.8-1.2-5.3-2.4z" color="#0969b6"/>
<path d="M606.4 232.7l4.1 1.1-.5-1-4.1-1.1z" color="#18cfb8"/>
<path d="M622.2 246.2l4.2-.3-.5-4-4.2 .1z" color="#098caf"/>
<path d="M596.4 228.6l4.4-1-1.4-.2-4.5 1.2z" color="#268e6a"/>
<path d="M616.8 237.3l4.2 0-.3-.9-4.1-.1z" color="#09cfce"/>
<path d="M507.3 225.8l3.5 .6-4.3-11.1-3.5-.3z" color="#58e28b"/>
<path d="M559.3 254.7l4.2-.2-1.2-.6-4.2 0z" color="#093a89"/>
<path d="M485.7 211.2l4.2 .6-1.7-.5-4.2-.1z" color="#4f8336"/>
<path d="M533.5 240.4l4.1 .2-2.1-9.4-4.2 1z" color="#0cd1cb"/>
<path d="M602.3 231.5l3.8 .8-1.7-5-3.8-.3z" color="#2de1b5"/>
<path d="M451.7 208.2l1.9-.5-.8-1.3-1.9 .9z" color="#7bbb41"/>
<path d="M617.1 238.7l4.1-.1-.2-1.3-4.2 0z" color="#09bec0"/>
<path d="M582.2 240.3l4.2-4.3-4.4 7-4.1 3.3z" color="#09484c"/>
<path d="M555.6 253.7l3 .6-1.2-1.1-3-.8z" color="#094a9d"/>
<path d="M544.1 246.5l3.5 1.2-.5-1.3-3.5-1.2z" color="#0996cd"/>
<path d="M417 264.3l4.1-3.3-.7-1-4.1 3.2z" color="#0e0d98"/>
<path d="M422.3 262.5l3.7-4.9-1-1-3.6 4.7z" color="#091378"/>
<path d="M622.7 250.5l4.1-.5-.4-4.1-4.2 .3z" color="#0977ae"/>
<path d="M448.7 213.1l2.7-5.2-.9-1.2-2.8 5.8z" color="#49722a"/>
<path d="M628 257.4l4.2-1.2-.5-2.1-4.1 1.1z" color="#094bc9"/>
<path d="M607.1 233.5l4.1 .8-.7-.5-4.1-1.1z" color="#16a994"/>
<path d="M538.8 244.5l4.8 .7-1.2-4.2-4.8-.4z" color="#09b4d2"/>
<path d="M617.6 242.3l4.1-.3-.5-3.4-4.1 .1z" color="#09aab5"/>
<path d="M549.3 250.4l5.4 2.3-.7-.9-5.4-2.4z" color="#0964ab"/>
<path d="M633.9 258l4.1-1.2-1.2-.5-4.1 1.3z" color="#092c8a"/>
<path d="M612.4 236.4l4.2-.1-.5-1.2-4.1-.1z" color="#10dacc"/>
<path d="M544.6 247.4l3.5 1.2-.5-.9-3.5-1.2z" color="#098bc1"/>
<path d="M498.4 221.7l4.1 .8-4.3-10.2-4.2-.2z" color="#6ee074"/>
<path d="M623.2 254.2l4.1-.5-.5-3.7-4.1 .5z" color="#0964b2"/>
<path d="M628.5 258.8l4.2-1.2-.5-1.4-4.2 1.2z" color="#0948e3"/>
<path d="M592 231.2l4.1-3-1.2 .4-4.1 2.9z" color="#1e6e52"/>
<path d="M618 246.5l4.2-.3-.5-4.2-4.1 .3z" color="#0994ae"/>
<path d="M612.7 237.6l4.1-.3-.2-1-4.2 .1z" color="#0dd0c5"/>
<path d="M524.4 237.8l2.1 .2-3.6-10.7-2.1 .7z" color="#25eac6"/>
<path d="M640 256.7l4.1-1.1-1.9 .1-4.2 1.1z" color="#093675"/>
<path d="M413.8 268.3l4.2-2.6-3.2-4.6-4.1 2.3z" color="#1e1cae"/>
<path d="M607.8 234.8l4.2 .2-.8-.7-4.1-.8z" color="#1abea5"/>
<path d="M519.6 235.5l4.1 .4-3.6-9.9-4.2 .5z" color="#30e9ba"/>
<path d="M504.2 226.1l3.6 .7-4.6-11.2-3.6-.2z" color="#5fe082"/>
<path d="M423.3 263.7l3.7-5.1-1-1-3.7 4.9z" color="#091674"/>
<path d="M550 251.4l5.4 2.1-.7-.8-5.4-2.3z" color="#0962a3"/>
<path d="M603 232.8l3.8 .5-.7-1-3.8-.8z" color="#25ceaa"/>
<path d="M539.3 245.7l4.8 .8-.5-1.3-4.8-.7z" color="#09add4"/>
<path d="M449.6 213.5l2.8-4.5-1-1.1-2.7 5.2z" color="#4e772a"/>
<path d="M556.9 254.5l2.9 .4-1.2-.6-3-.6z" color="#094788"/>
<path d="M561 255l4.2-.6-1.7 .1-4.2 .2z" color="#09386c"/>
<path d="M613.2 240.7l4.1-.4-.5-3-4.1 .3z" color="#0abcb8"/>
<path d="M623.9 258.1l4.1-.7-.7-3.7-4.1 .5z" color="#0955c2"/>
<path d="M408.2 268.1l4.1-2-1.9-3.1-4.1 2z" color="#1716a4"/>
<path d="M618.5 250.8l4.2-.3-.5-4.3-4.2 .3z" color="#0980ae"/>
<path d="M493.5 219.4l4.1 .9-3.6-8.2-4.1-.3z" color="#76db66"/>
<path d="M418.7 266.7l4.1-3.6-1.7-2.1-4.1 3.3z" color="#0b0a93"/>
<path d="M598.3 233.1l4.4-.7-1.9-4.8-4.4 1z" color="#37edb7"/>
<path d="M487.4 214.3l4.2 .9-1.7-3.4-4.2-.6z" color="#7dd256"/>
<path d="M513.3 232l5.3 1.1-3.1-7.8-5.4-.6z" color="#3fe2a4"/>
<path d="M629.7 259.1l4.2-1.1-1.2-.4-4.2 1.2z" color="#092f87"/>
<path d="M608.3 236.5l4.1-.1-.4-1.4-4.2-.2z" color="#1bddc3"/>
<path d="M539.8 246.6l4.8 .8-.5-.9-4.8-.8z" color="#09a3c9"/>
<path d="M531 244.5l4.2 .6-4.1-13.9-4.2 1.4z" color="#0edad2"/>
<path d="M613.6 244.8l4.2-.5-.5-4-4.1 .4z" color="#09a6b0"/>
<path d="M592.7 232.3l4.1-2.7-.7-1.4-4.1 3z" color="#37d19e"/>
<path d="M535.2 245.1l4.1 .6-1.7-5.1-4.1-.2z" color="#09c6d7"/>
<path d="M619 254.6l4.2-.4-.5-3.7-4.2 .3z" color="#096eb2"/>
<path d="M603.7 234.2l3.9 0-.8-.9-3.8-.5z" color="#26d2ad"/>
<path d="M624.4 259.6l4.1-.8-.5-1.4-4.1 .7z" color="#0951e0"/>
<path d="M588.1 235.6l4.1-4.1-1.7 .5-4.1 4z" color="#18654f"/>
<path d="M551 252.6l5.4 1.6-1-.7-5.4-2.1z" color="#09619c"/>
<path d="M608.5 237.8l4.2-.2-.3-1.2-4.1 .1z" color="#15cbb8"/>
<path d="M635.8 257.9l4.2-1.2-2 .1-4.1 1.2z" color="#093b76"/>
<path d="M437.7 251.8l4.1-11.3-6.5-2.5-4.2 10.6z" color="#09474d"/>
<path d="M424.3 264.9l3.6-5.4-.9-.9-3.7 5.1z" color="#091971"/>
<path d="M446.7 226l4.1-13.4-3.3-.3-4.2 14.7z" color="#2c542a"/>
<path d="M568.8 251.9l4.1-2.8-4.8 3.7-4.1 1.8z" color="#093751"/>
<path d="M614.1 249.1l4.2-.4-.5-4.4-4.2 .5z" color="#0992ad"/>
<path d="M640.7 258.5l4.1-1.2-.7-1.7-4.1 1.1z" color="#096be8"/>
<path d="M450.8 212.6l2.8-3.8-1.2 .2-2.8 4.5z" color="#426020"/>
<path d="M609 241.1l4.2-.4-.5-3.1-4.2 .2z" color="#0ebeb3"/>
<path d="M619.7 258.6l4.2-.5-.7-3.9-4.2 .4z" color="#095fc1"/>
<path d="M547.9 252.5l3.6 .6-3.4-4.5-3.5-1.2z" color="#0982b1"/>
<path d="M604.2 235.9l3.8-.4-.4-1.3-3.9 0z" color="#26e2bc"/>
<path d="M529.4 245.1l2.1 .4-5.1-14.5-2.1 .6z" color="#13e0d0"/>
<path d="M442.3 239.8l4.1-13.3-4.3-.3-4.2 13.6z" color="#165440"/>
<path d="M558.3 255l2.9 0-1.4-.1-2.9-.4z" color="#094776"/>
<path d="M598.8 234.3l4.4-1.1-.5-.8-4.4 .7z" color="#32e8b7"/>
<path d="M614.6 253.2l4.2-.4-.5-4.1-4.2 .4z" color="#097faf"/>
<path d="M579 244.4l4.2-4.5-3.2 3.3-4.1 3.8z" color="#094f4d"/>
<path d="M594.1 235.8l4.2-2.7-1.5-3.5-4.1 2.7z" color="#37e9b3"/>
<path d="M604.4 237l3.9-.5-.3-1-3.8 .4z" color="#21d2b2"/>
<path d="M609.5 245.1l4.1-.3-.4-4.1-4.2 .4z" color="#09adaf"/>
<path d="M620 259.5l4.1-.6-.2-.8-4.2 .5z" color="#095dd8"/>
<path d="M552 253.6l5.3 1.1-.9-.5-5.4-1.6z" color="#096194"/>
<path d="M626.1 259.7l4.1-1.1-1.7 .2-4.1 .8z" color="#09327a"/>
<path d="M420.4 269.1l4.1-4-1.7-2-4.1 3.6z" color="#090b8d"/>
<path d="M425.2 266l3.7-5.5-1-1-3.6 5.4z" color="#091c6d"/>
<path d="M542.2 250.5l4.8 .6-2.4-3.7-4.8-.8z" color="#099cbf"/>
<path d="M588.8 236.6l4.1-3.8-.7-1.3-4.1 4.1z" color="#2ab28c"/>
<path d="M584.1 240.4l4.2-4.5-1.9 .1-4.2 4.3z" color="#126454"/>
<path d="M631.7 259l4.1-1.1-1.9 .1-4.2 1.1z" color="#093f78"/>
<path d="M599.5 236.6l4.4-1.6-.7-1.8-4.4 1.1z" color="#2fe6b8"/>
<path d="M620.5 260.6l4.1-.6-.5-1.1-4.1 .6z" color="#095adc"/>
<path d="M636.3 259l4.2-1.2-.5-1.1-4.2 1.2z" color="#0974ea"/>
<path d="M431.8 262.7l4.6-10.8-4.1-2.3-4.6 9.7z" color="#093253"/>
<path d="M605.2 241.7l3.8-.6-.7-4.6-3.9 .5z" color="#16c1ac"/>
<path d="M610 249.4l4.1-.3-.5-4.3-4.1 .3z" color="#099aae"/>
<path d="M489.6 218.4l4.1 1.4-2.1-4.6-4.2-.9z" color="#77cd57"/>
<path d="M642.4 262.9l4.1-1.3-1.7-4.3-4.1 1.2z" color="#095ce5"/>
<path d="M410.9 272.4l4.1-2.2-2.7-4.1-4.1 2z" color="#1b19a8"/>
<path d="M589.3 237.6l4.1-3.7-.5-1.1-4.1 3.8z" color="#2ccda2"/>
<path d="M599.7 237.6l4.5-1.7-.3-.9-4.4 1.6z" color="#28d5ae"/>
<path d="M407.1 283.6l4.2-2-15.9-25.8-4.2 1.8z" color="#0b0996"/>
<path d="M594.6 237.2l4.2-2.9-.5-1.2-4.2 2.7z" color="#32e5b4"/>
<path d="M494.9 221.8l4.2 1.3-1.5-2.8-4.1-.9z" color="#68c962"/>
<path d="M416.5 272.3l4.1-2.9-2.6-3.7-4.2 2.6z" color="#1412a4"/>
<path d="M552.9 254.6l5.4 .4-1-.3-5.3-1.1z" color="#09638f"/>
<path d="M600 238.8l4.4-1.8-.2-1.1-4.5 1.7z" color="#24cba8"/>
<path d="M426.2 267l3.7-5.7-1-.8-3.7 5.5z" color="#091f68"/>
<path d="M605.9 247.7l3.8-.5-.7-6.1-3.8 .6z" color="#0aaeae"/>
<path d="M501 226.5l4.2 1.6-2.7-5.6-4.1-.8z" color="#5dcd71"/>
<path d="M621.7 260.9l4.1-1-1.2 .1-4.1 .6z" color="#09387a"/>
<path d="M421.1 270l4.1-4-.7-.9-4.1 4z" color="#090e89"/>
<path d="M595.1 238.8l4.2-3.1-.5-1.4-4.2 2.9z" color="#2ddaaf"/>
<path d="M460.6 195.8l3.6 3.3-4.6 12.2-3.6-2.6z" color="#48540d"/>
<path d="M638 263.8l4.1-1.3-1.6-4.7-4.2 1.2z" color="#0965e7"/>
<path d="M584.9 241.6l4.1-4.5-.7-1.2-4.2 4.5z" color="#1ca58a"/>
<path d="M548.7 253.5l3.5 .3-.7-.7-3.6-.6z" color="#0984ae"/>
<path d="M627.5 260.4l4.2-1.4-1.5-.4-4.1 1.1z" color="#094e8b"/>
<path d="M561 255.5l2.9-1.1-2.7 .6-2.9 0z" color="#094b67"/>
<path d="M595.3 239.8l4.2-3.2-.2-.9-4.2 3.1z" color="#28cfa9"/>
<path d="M542.9 251.7l4.8 .4-.7-1-4.8-.6z" color="#099ec0"/>
<path d="M601.2 246.9l4.4-1.3-1.2-8.6-4.4 1.8z" color="#14bbaa"/>
<path d="M454.5 202.5l2.7-3.5-3.6 9.8-2.8 3.8z" color="#46540f"/>
<path d="M512.9 238.1l3.5 1.1-5.6-12.8-3.5-.6z" color="#43d694"/>
<path d="M590.9 243.2l4.2-4.4-1.7-4.9-4.1 3.7z" color="#26cda8"/>
<path d="M643.3 263.5l4.2-1.2-1-.7-4.1 1.3z" color="#093c93"/>
<path d="M516.6 239.8l5.4 1.4-3.4-8.1-5.3-1.1z" color="#31d9aa"/>
<path d="M580.2 245.3l4.2-4.5-1.2-.9-4.2 4.5z" color="#0e7b6e"/>
<path d="M553.9 255.5l5.4-.3-1-.2-5.4-.4z" color="#09658b"/>
<path d="M448.9 219.5l4.1-12.5-2.2 5.6-4.1 13.4z" color="#38541e"/>
<path d="M458.9 195.4l1.9 .1-5.3 13.8-1.9-.5z" color="#4b540a"/>
<path d="M421.8 271l4.2-4.2-.8-.8-4.1 4z" color="#090f86"/>
<path d="M595.8 242l4.2-3.2-.5-2.2-4.2 3.2z" color="#22c6a6"/>
<path d="M633.6 264.6l4.1-1.3-1.9-5.4-4.1 1.1z" color="#096fe6"/>
<path d="M427.4 268.2l3.7-6-1.2-.9-3.7 5.7z" color="#092263"/>
<path d="M524.2 245.9l4.1 .8-4.6-10.8-4.1-.4z" color="#1bdbc1"/>
<path d="M549.4 254.4l3.5 .2-.7-.8-3.5-.3z" color="#0986af"/>
<path d="M585.8 244.1l4.2-4.4-1-2.6-4.1 4.5z" color="#1dc0a4"/>
<path d="M543.7 252.9l4.7 .2-.7-1-4.8-.4z" color="#099fc2"/>
<path d="M570.5 251.6l4.1-3.3-1.7 .8-4.1 2.8z" color="#094e53"/>
<path d="M623.1 261.5l4.2-1.5-1.5-.1-4.1 1z" color="#094a82"/>
<path d="M443.7 236.1l4.2-13.3-1.5 3.7-4.1 13.3z" color="#225434"/>
<path d="M482.7 215.7l4.2 3.1-5.3-8.6-4.2-2.1z" color="#7baa31"/>
<path d="M575.8 249.1l4.2-4.1-1.5-.6-4.1 3.9z" color="#09706c"/>
<path d="M601.9 252.4l4.5-.7-.8-6.1-4.4 1.3z" color="#09a5b0"/>
<path d="M478.5 210.4l2.8 2.8-3.9-5.1-2.8-1.9z" color="#7a9a21"/>
<path d="M639.2 264.6l4.1-1.1-1.2-1-4.1 1.3z" color="#09439c"/>
<path d="M422.8 272.2l4.1-4.5-.9-.9-4.2 4.2z" color="#091083"/>
<path d="M581 246.7l4.1-4.6-.7-1.3-4.2 4.5z" color="#11ad9d"/>
<path d="M554.9 256.4l5.3-1-.9-.2-5.4 .3z" color="#09698a"/>
<path d="M550.1 255.4l3.6-.1-.8-.7-3.5-.2z" color="#0989b0"/>
<path d="M597.3 250.7l4.1-1.9-1.4-10-4.2 3.2z" color="#11b8ac"/>
<path d="M490.2 224.5l4.2 .7-8.7-14-4.1-1z" color="#78b942"/>
<path d="M544.4 254.1l4.7 0-.7-1-4.7-.2z" color="#09a2c4"/>
<path d="M645 263.9l4.2-1.1-1.7-.5-4.2 1.2z" color="#094383"/>
<path d="M433.5 263l4.6-11.6-1.7 .5-4.6 10.8z" color="#09394d"/>
<path d="M629.4 265.8l4.2-1.2-1.9-5.6-4.2 1.4z" color="#0975e7"/>
<path d="M592.2 248.5l4.1-3.8-1.2-5.9-4.2 4.4z" color="#16c1ac"/>
<path d="M566.1 254.5l4.1-3-1.4 .4-4.2 2.4z" color="#09535c"/>
<path d="M581.4 247.8l4.2-4.4-.5-1.3-4.1 4.6z" color="#11beaf"/>
<path d="M634.3 265.7l4.2-1.2-.8-1.2-4.1 1.3z" color="#0959ce"/>
<path d="M562.4 256l3-1.7-1.5 .1-2.9 1.1z" color="#095869"/>
<path d="M440.3 246.6l4.2-13-2.7 6.9-4.1 11.3z" color="#125244"/>
<path d="M550.8 256.4l3.6-.4-.7-.7-3.6 .1z" color="#098db3"/>
<path d="M532.4 254.8l2.1 0-8-16.8-2.1-.2z" color="#0cdad1"/>
<path d="M576.5 250.2l4.2-4-.7-1.2-4.2 4.1z" color="#0aa8a3"/>
<path d="M511 240.1l3.6 1.9-6.8-15.2-3.6-.7z" color="#49cb83"/>
<path d="M423.7 273.3l4.2-4.7-1-.9-4.1 4.5z" color="#09127e"/>
<path d="M555.8 257.4l5.4-1.8-1-.2-5.3 1z" color="#096f8c"/>
<path d="M571.7 252.4l4.1-3.3-1.2-.8-4.1 3.3z" color="#097a7c"/>
<path d="M430.3 269.9l3.7-7.2-2.9-.5-3.7 6z" color="#092656"/>
<path d="M598.2 256.6l4.2-.9-1-6.9-4.1 1.9z" color="#09a2b6"/>
<path d="M420.3 277.6l4.2-3.5-3.9-4.7-4.1 2.9z" color="#0a0a98"/>
<path d="M545.8 256.4l4.8-.3-1.5-2-4.7 0z" color="#09a5c7"/>
<path d="M625.3 267.2l4.1-1.4-2.1-5.8-4.2 1.5z" color="#097ae7"/>
<path d="M588.7 255l4.2-3-2.9-12.3-4.2 4.4z" color="#10c1b6"/>
<path d="M640.9 265.1l4.1-1.2-1.7-.4-4.1 1.1z" color="#094783"/>
<path d="M577 251.2l4.2-4-.5-1-4.2 4z" color="#0abdb9"/>
<path d="M451.5 212l4.2-12.2-2.7 7.2-4.1 12.5z" color="#48540e"/>
<path d="M645.8 266l4.1-1.3-.7-1.9-4.2 1.1z" color="#0973e4"/>
<path d="M434.2 262.5l4.7-12.3-.8 1.2-4.6 11.6z" color="#09404c"/>
<path d="M551.6 257.4l3.5-.8-.7-.6-3.6 .4z" color="#0991b5"/>
<path d="M416.4 289.2l4.1-3.1-16.4-24.7-4.2 1.9z" color="#0f0d9c"/>
<path d="M630.2 266.8l4.1-1.1-.7-1.1-4.2 1.2z" color="#095cc8"/>
<path d="M593.8 256.7l4.2-1.5-1.7-10.5-4.1 3.8z" color="#0ab3b9"/>
<path d="M456.9 199.3l2.7-4-2.4 3.7-2.7 3.5z" color="#575401"/>
<path d="M424.7 274.4l4.2-5-1-.8-4.2 4.7z" color="#091677"/>
<path d="M519.1 245.3l5.3 1.2-2.4-5.3-5.4-1.4z" color="#26d7b1"/>
<path d="M567.3 255.4l4.1-3.2-1.2-.7-4.1 3z" color="#09767f"/>
<path d="M636.2 265.5l4.2-1.1-1.9 .1-4.2 1.2z" color="#093b6e"/>
<path d="M556.8 258.4l5.4-2.5-1-.3-5.4 1.8z" color="#097791"/>
<path d="M572.4 253.6l4.1-3.4-.7-1.1-4.1 3.3z" color="#0cb0b4"/>
<path d="M583.8 255.4l4.2-3.4-2.4-8.6-4.2 4.4z" color="#0cc4be"/>
<path d="M473 204.6l5.5 5.8-1.7-2.2-5.5-5.3z" color="#879610"/>
<path d="M563.6 256.8l3-2.1-1.2-.4-3 1.7z" color="#096d7c"/>
<path d="M417.1 281.8l4.2-3-6.3-8.6-4.1 2.2z" color="#1110a1"/>
<path d="M552.3 258.4l3.5-1-.7-.8-3.5 .8z" color="#0995b9"/>
<path d="M506.6 236.2l4.1 3.3-5.5-11.4-4.2-1.6z" color="#51bc6c"/>
<path d="M460.6 195.4l1.9 .1-1.7 0-1.9-.1z" color="#6e6400"/>
<path d="M647.2 271.2l4.2-1.4-1.5-5.1-4.1 1.3z" color="#095bda"/>
<path d="M502.7 233.3l4.1 3.4-7.7-13.6-4.2-1.3z" color="#5eb458"/>
<path d="M641.6 267.3l4.2-1.3-.8-2.1-4.1 1.2z" color="#0978e2"/>
<path d="M441.5 243.2l4.2-13.8-1.2 4.2-4.2 13z" color="#1f5436"/>
<path d="M447.4 225.6l4.1-13.6-2.2 5.8-4.1 13.2z" color="#3a541b"/>
<path d="M425.7 275.2l4.1-5.3-.9-.5-4.2 5z" color="#091968"/>
<path d="M568 256.5l4.2-3.3-.8-1-4.1 3.2z" color="#0ea7b2"/>
<path d="M498 230.3l4.2 2.1-8.5-12.6-4.1-1.4z" color="#6bb44a"/>
<path d="M557.8 259.5l5.3-3.1-.9-.5-5.4 2.5z" color="#09829b"/>
<path d="M579.4 257.7l4.2-3.2-2.4-7.3-4.2 4z" color="#09c5c9"/>
<path d="M626.3 268.2l4.1-1.3-1-1.1-4.1 1.4z" color="#0958b3"/>
<path d="M553 259.4l3.6-1.3-.8-.7-3.5 1z" color="#099abc"/>
<path d="M632.1 266.6l4.1-1.1-1.9 .2-4.1 1.1z" color="#093d6b"/>
<path d="M480.9 215.4l2.8 2.3-2.4-4.5-2.8-2.8z" color="#8aac24"/>
<path d="M515.8 244.9l3.5 1-2.9-6.7-3.5-1.1z" color="#35d19e"/>
<path d="M574.1 257.2l4.1-3-1.7-4-4.1 3.4z" color="#0bc5ce"/>
<path d="M564.6 258l2.9-2.3-.9-1-3 2.1z" color="#098e9e"/>
<path d="M637 266.8l4.1-1.1-.7-1.3-4.2 1.1z" color="#0976cd"/>
<path d="M473.7 205.8l5.5 5.8-.7-1.2-5.5-5.8z" color="#94a311"/>
<path d="M464.2 196.2l3.6 3.3-1.9-.8-3.6-3.3z" color="#857b00"/>
<path d="M642.6 271.2l4.1-1.5-.9-3.7-4.2 1.3z" color="#0961d2"/>
<path d="M431.8 269.3l3.6-8.4-1.4 1.8-3.7 7.2z" color="#09314c"/>
<path d="M485.1 221l4.2 1.8-2.4-4-4.2-3.1z" color="#85b935"/>
<path d="M471.5 203.6l1.9 1.7-1.4-1.8-1.9-1.7z" color="#989a03"/>
<path d="M553.7 260.4l3.6-1.5-.7-.8-3.6 1.3z" color="#099fc1"/>
<path d="M421.3 278.8l4.1-3.8-.9-.9-4.2 3.5z" color="#090c8b"/>
<path d="M558.5 260.5l5.4-3.4-.8-.7-5.3 3.1z" color="#0990a8"/>
<path d="M407.6 293l4.1-2.1-15.7-25.4-4.1 1.9z" color="#0c0b97"/>
<path d="M458.3 199.8l2.8-4.3-1.5-.2-2.7 4z" color="#625a00"/>
<path d="M569.2 258.7l4.2-3.2-1.2-2.3-4.2 3.3z" color="#18c9d8"/>
<path d="M637.5 268.5l4.1-1.2-.5-1.6-4.1 1.1z" color="#0979db"/>
<path d="M474.2 207l5.5 5.5-.5-.9-5.5-5.8z" color="#9eae12"/>
<path d="M438.3 257.1l4.7-16.7-4.1 9.8-4.7 12.3z" color="#0f4d46"/>
<path d="M427.1 275.9l4.2-6.3-1.5 .3-4.1 5.3z" color="#091e57"/>
<path d="M565.3 259.1l2.9-2.2-.7-1.2-2.9 2.3z" color="#24c4d5"/>
<path d="M462.1 196l1.8 0-1.4-.5-1.9-.1z" color="#827200"/>
<path d="M591.4 265.5l4.1-1.5-2.6-12-4.2 3z" color="#09a9c9"/>
<path d="M443.2 240.3l4.2-14.7-1.7 3.8-4.2 13.8z" color="#29542c"/>
<path d="M550.1 270.3l4.2-.3-15-24.3-4.1-.6z" color="#09b9d1"/>
<path d="M521.5 250.9l5.3 .7-2.4-5.1-5.3-1.2z" color="#20dbbc"/>
<path d="M632.8 267.9l4.2-1.1-.8-1.3-4.1 1.1z" color="#097dcf"/>
<path d="M628.2 268.5l4.1-1.6-1.9 0-4.1 1.3z" color="#094775"/>
<path d="M474.6 208.4l5.6 5.2-.5-1.1-5.5-5.5z" color="#a4b614"/>
<path d="M554.5 261.5l3.5-1.7-.7-.9-3.6 1.5z" color="#09a4c6"/>
<path d="M559.2 261.5l5.4-3.5-.7-.9-5.4 3.4z" color="#0fa5bf"/>
<path d="M638.4 272.6l4.2-1.4-1-3.9-4.1 1.2z" color="#0964cf"/>
<path d="M422.2 279.9l4.2-4.3-1-.6-4.1 3.8z" color="#090e7a"/>
<path d="M511.9 242.4l3.6 1.9-.9-2.3-3.6-1.9z" color="#3ec78a"/>
<path d="M566 260.4l3-2.2-.8-1.3-2.9 2.2z" color="#43e8f1"/>
<path d="M472.2 205.3l2 1.7-.8-1.7-1.9-1.7z" color="#afb103"/>
<path d="M587 266.4l4.1-1.7-3.1-12.7-4.2 3.4z" color="#09b0cd"/>
<path d="M465.2 197.3l3.6 3.3-1-1.1-3.6-3.3z" color="#9e8e00"/>
<path d="M469.5 201.8l2.2 2.3-.7-1.3-2.2-2.2z" color="#a7a100"/>
<path d="M475.1 210l5.5 4.8-.4-1.2-5.6-5.2z" color="#a8bc16"/>
<path d="M433.2 268.3l3.7-9.8-1.5 2.4-3.6 8.4z" color="#093b4c"/>
<path d="M530.9 260l4.2-.1-6.8-13.2-4.1-.8z" color="#0eddd2"/>
<path d="M491 225.7l4.1 .4-.7-.9-4.2-.7z" color="#7ec043"/>
<path d="M633.3 269.6l4.2-1.1-.5-1.7-4.2 1.1z" color="#097eda"/>
<path d="M459.5 200.7l2.8-4.6-1.2-.6-2.8 4.3z" color="#6e6100"/>
<path d="M559.9 262.7l5.4-3.6-.7-1.1-5.4 3.5z" color="#46e1ef"/>
<path d="M456.3 216.7l4.2-14.9-4.8-2-4.2 12.2z" color="#525305"/>
<path d="M482.8 221.1l2.8 1-1.9-4.4-2.8-2.3z" color="#99c62e"/>
<path d="M545.7 270.3l4.2-.3-14.7-24.9-4.2-.6z" color="#09c5d3"/>
<path d="M475.4 210.9l5.5 4.5-.3-.6-5.5-4.8z" color="#aac018"/>
<path d="M555.4 263l3.6-1.8-1-1.4-3.5 1.7z" color="#0aadcf"/>
<path d="M463 196.9l1.9 0-1-.9-1.8 0z" color="#a08a00"/>
<path d="M507.1 237.2l4.1 3.5-.5-1.2-4.1-3.3z" color="#4cb86d"/>
<path d="M486.3 224l4.2 .9-1.2-2.1-4.2-1.8z" color="#90cd3e"/>
<path d="M475.6 211.9l5.5 4.1-.2-.6-5.5-4.5z" color="#aac31a"/>
<path d="M517.7 249.7l3.5 .6-1.9-4.4-3.5-1z" color="#2dd6aa"/>
<path d="M566.7 261.8l3-2.1-.7-1.5-3 2.2z" color="#34e2ee"/>
<path d="M470.3 204l2.2 2-.8-1.9-2.2-2.3z" color="#bab500"/>
<path d="M512.7 244.3l3.6 1.8-.8-1.8-3.6-1.9z" color="#3bc98f"/>
<path d="M423.2 280.7l4.2-4.7-1-.4-4.2 4.3z" color="#09126c"/>
<path d="M465.9 198.6l3.6 3.2-.7-1.2-3.6-3.3z" color="#b6a400"/>
<path d="M491.7 226.9l4.2 .2-.8-1-4.1-.4z" color="#82c645"/>
<path d="M634.3 273.5l4.1-.9-.9-4.1-4.2 1.1z" color="#096acf"/>
<path d="M628.9 270.3l4.2-1.6-.8-1.8-4.1 1.6z" color="#098ae1"/>
<path d="M507.5 238.3l4.2 3.5-.5-1.1-4.1-3.5z" color="#4cbb70"/>
<path d="M429.3 276.2l4.2-8-2.2 1.4-4.2 6.3z" color="#09284e"/>
<path d="M560.7 263.9l5.3-3.5-.7-1.3-5.4 3.6z" color="#74ffff"/>
<path d="M583.1 268.8l4.1-1.6-3.6-12.7-4.2 3.2z" color="#09b4d7"/>
<path d="M476.3 215l5.5 3.1-.7-2.1-5.5-4.1z" color="#abc71d"/>
<path d="M418.6 283.8l4.1-3.5-1.4-1.5-4.2 3z" color="#090890"/>
<path d="M567.2 262.7l3-2-.5-1-3 2.1z" color="#1fd4ec"/>
<path d="M556.1 264.1l3.6-1.8-.7-1.1-3.6 1.8z" color="#25cbe6"/>
<path d="M463.7 197.9l1.9 .1-.7-1.1-1.9 0z" color="#cdb60e"/>
<path d="M460.5 201.8l2.8-4.6-1-1.1-2.8 4.6z" color="#857400"/>
<path d="M466.4 200.1l3.6 3.1-.5-1.4-3.6-3.2z" color="#c8b500"/>
<path d="M487.1 225.9l4.1 .2-.7-1.2-4.2-.9z" color="#98da44"/>
<path d="M513.4 246.3l3.6 1.6-.7-1.8-3.6-1.8z" color="#39cc94"/>
<path d="M492.4 228.2l4.2-.1-.7-1-4.2-.2z" color="#86cc47"/>
<path d="M508.3 240.2l4.1 3.5-.7-1.9-4.2-3.5z" color="#4bbe74"/>
<path d="M543.9 271l2.1-.4-14.5-25.1-2.1-.4z" color="#09d0d6"/>
<path d="M554.8 270.7l4.7-1-8.9-13.6-4.8 .3z" color="#09b3d5"/>
<path d="M629.9 273.8l4.1-1.2-.9-3.9-4.2 1.6z" color="#0976d3"/>
<path d="M452.7 233.3l4.1-15.9-5.3-5.4-4.1 13.6z" color="#435513"/>
<path d="M439.5 258l4.7-17.1-1.2-.5-4.7 16.7z" color="#17553f"/>
<path d="M624.5 271.5l4.2-2-.8-1.3-4.1 1.9z" color="#0985d6"/>
<path d="M475.1 218l2 .4-2.9-11.4-2-1.7z" color="#b8c50e"/>
<path d="M561.4 265.2l5.3-3.4-.7-1.4-5.3 3.5z" color="#67fdff"/>
<path d="M435.4 268.4l3.6-11.1-2.1 1.2-3.7 9.8z" color="#09464d"/>
<path d="M424.4 281.6l4.2-5.5-1.2-.1-4.2 4.7z" color="#091861"/>
<path d="M464.2 199.2l1.9 0-.5-1.2-1.9-.1z" color="#dfc206"/>
<path d="M579.6 271.9l4.2-1.1-5.6-16.6-4.1 3z" color="#09bce0"/>
<path d="M556.9 265.3l3.5-1.8-.7-1.2-3.6 1.8z" color="#44dcee"/>
<path d="M477.5 220.8l5.6 1.1-1.3-3.8-5.5-3.1z" color="#a9cd26"/>
<path d="M461.2 203.1l2.8-4.6-.7-1.3-2.8 4.6z" color="#ab9b0e"/>
<path d="M514.1 248.3l3.6 1.4-.7-1.8-3.6-1.6z" color="#37cf9a"/>
<path d="M524.6 258l5.3 0-3.1-6.4-5.3-.7z" color="#18e2cc"/>
<path d="M493.1 229.5l4.2-.4-.7-1-4.2 .1z" color="#8ad349"/>
<path d="M509 242.3l4.1 3.3-.7-1.9-4.1-3.5z" color="#4ac27a"/>
<path d="M651.3 268.5l4.2-.8-.5-1.5-4.2 .8z" color="#09a2db"/>
<path d="M419.5 284.9l4.2-3.8-1-.8-4.1 3.5z" color="#090b85"/>
<path d="M504.4 237.7l4.1 3.2-1.7-4.2-4.1-3.4z" color="#60bd5e"/>
<path d="M562.1 266.4l5.4-3.2-.8-1.4-5.3 3.4z" color="#3eecfc"/>
<path d="M473.2 219l2.2 .4-2.9-13.4-2.2-2z" color="#bbc30b"/>
<path d="M519.6 254.5l3.6 .2-2-4.4-3.5-.6z" color="#27dfb8"/>
<path d="M498.7 231.6l4.2 2.1-.7-1.3-4.2-2.1z" color="#76c24d"/>
<path d="M465.2 203.4l1.9-.2-1-4-1.9 0z" color="#d0b700"/>
<path d="M651.6 269.6l4.1-.8-.2-1.1-4.2 .8z" color="#0990c9"/>
<path d="M646.7 267.8l4.1-.8-.9 .7-4.2 .9z" color="#095d75"/>
<path d="M440.2 259.2l4.7-17.1-.7-1.2-4.7 17.1z" color="#185841"/>
<path d="M557.6 266.5l3.5-1.8-.7-1.2-3.5 1.8z" color="#45dcee"/>
<path d="M468.5 212l3.7 1.2-2.2-10-3.6-3.1z" color="#c5bd01"/>
<path d="M461.7 204.7l2.8-4.7-.5-1.5-2.8 4.6z" color="#af9900"/>
<path d="M575.7 273.7l4.2-1.2-6.5-17-4.2 3.2z" color="#09c0e5"/>
<path d="M448.5 248.6l4.2-15.3-5.3-7.7-4.2 14.7z" color="#305728"/>
<path d="M514.8 250.4l3.6 1.1-.7-1.8-3.6-1.4z" color="#34d4a1"/>
<path d="M626.2 276.8l4.2-1.4-1.7-5.9-4.2 2z" color="#097cde"/>
<path d="M493.9 230.7l4.1-.4-.7-1.2-4.2 .4z" color="#8ed84b"/>
<path d="M486.2 232.9l2.8-1.7-3.4-9.1-2.8-1z" color="#a0e142"/>
<path d="M509.7 244.7l4.2 2.9-.8-2-4.1-3.3z" color="#47c780"/>
<path d="M652 272.3l4.2-.9-.5-2.6-4.1 .8z" color="#0981bf"/>
<path d="M431.2 277.5l4.2-9.1-1.9-.2-4.2 8z" color="#093552"/>
<path d="M425.6 282.6l4.2-6.2-1.2-.3-4.2 5.5z" color="#091e5d"/>
<path d="M562.6 267.3l5.4-3.1-.5-1-5.4 3.2z" color="#21d5f5"/>
<path d="M457.1 218l4.1-14.9-.7-1.3-4.2 14.9z" color="#5e5d05"/>
<path d="M461.9 205.6l2.8-4.6-.2-1-2.8 4.7z" color="#ad9a00"/>
<path d="M499.2 232.8l4.2 2.1-.5-1.2-4.2-2.1z" color="#7cce53"/>
<path d="M490 233.9l4.1-2.7-2.9-5.1-4.1-.2z" color="#9ce74c"/>
<path d="M420.5 286.1l4.2-4.3-1-.7-4.2 3.8z" color="#090e80"/>
<path d="M462.2 206.8l2.7-4.7-.2-1.1-2.8 4.6z" color="#ac9b00"/>
<path d="M647.2 269.3l4.1-.8-.5-1.5-4.1 .8z" color="#09a9da"/>
<path d="M441 260.4l4.6-17.1-.7-1.2-4.7 17.1z" color="#185942"/>
<path d="M558.3 267.7l3.6-1.7-.8-1.3-3.5 1.8z" color="#34dbee"/>
<path d="M479.2 229.6l5.5-1.9-1.6-5.8-5.6-1.1z" color="#9fd234"/>
<path d="M412.2 291.7l4.2-2.5-5.1-7.6-4.2 2z" color="#1413a4"/>
<path d="M462.4 208l2.8-4.6-.3-1.3-2.7 4.7z" color="#ac9d00"/>
<path d="M515.6 252.5l3.6 .8-.8-1.8-3.6-1.1z" color="#31d8a8"/>
<path d="M571.6 272l2.9-1.1-4.3-10.2-3 2z" color="#0bc3ea"/>
<path d="M499.7 234.2l4.2 2-.5-1.3-4.2-2.1z" color="#7cd156"/>
<path d="M494.6 232.2l4.1-.6-.7-1.3-4.1 .4z" color="#93e14f"/>
<path d="M457.6 219.4l4.1-14.7-.5-1.6-4.1 14.9z" color="#6d6d06"/>
<path d="M510.4 247.1l4.2 2.6-.7-2.1-4.2-2.9z" color="#44cb88"/>
<path d="M647.4 270.5l4.2-.9-.3-1.1-4.1 .8z" color="#0995c7"/>
<path d="M653.2 278.6l4.2-1-1.2-6.2-4.2 .9z" color="#096ac3"/>
<path d="M462.7 209.3l2.7-4.6-.2-1.3-2.8 4.6z" color="#ab9f00"/>
<path d="M466.9 214.5l1.9-.8-1.7-10.5-1.9 .2z" color="#bdb501"/>
<path d="M505.8 242.9l4.2 2.6-1.5-4.6-4.1-3.2z" color="#5dc86c"/>
<path d="M457.8 220.3l4.1-14.7-.2-.9-4.1 14.7z" color="#767607"/>
<path d="M462.9 210.7l2.8-4.6-.3-1.4-2.7 4.6z" color="#aba100"/>
<path d="M647.9 273.2l4.1-.9-.4-2.7-4.2 .9z" color="#0986be"/>
<path d="M441.7 261.6l4.6-17-.7-1.3-4.6 17.1z" color="#185942"/>
<path d="M477.1 229.1l1.9-.7-1.9-10-2-.4z" color="#9fc628"/>
<path d="M500.2 235.9l4.2 1.8-.5-1.5-4.2-2z" color="#7ad259"/>
<path d="M559 268.9l3.6-1.6-.7-1.3-3.6 1.7z" color="#1eceee"/>
<path d="M426.6 283.6l4.1-6.6-.9-.6-4.2 6.2z" color="#092563"/>
<path d="M458 221.2l4.2-14.4-.3-1.2-4.1 14.7z" color="#7a7b08"/>
<path d="M421.5 287.3l4.1-4.7-.9-.8-4.2 4.3z" color="#09107f"/>
<path d="M463.2 212.3l2.7-4.7-.2-1.5-2.8 4.6z" color="#aba300"/>
<path d="M495.3 234.2l4.2-.7-.8-1.9-4.1 .6z" color="#93e452"/>
<path d="M511.2 249.7l4.1 2.1-.7-2.1-4.2-2.6z" color="#41cf90"/>
<path d="M516.5 255.3l3.6 .5-.9-2.5-3.6-.8z" color="#2edeb1"/>
<path d="M643 270l4.2-.7-.5-1.5-4.2 .7z" color="#09b0da"/>
<path d="M470 222.7l3.6-.6-1.4-8.9-3.7-1.2z" color="#adbd11"/>
<path d="M458.3 222.3l4.1-14.3-.2-1.2-4.2 14.4z" color="#7d8008"/>
<path d="M463.4 213.9l2.8-4.6-.3-1.7-2.7 4.7z" color="#aaa501"/>
<path d="M453.2 234.4l4.1-15.8-.5-1.2-4.1 15.9z" color="#4a5e15"/>
<path d="M522 260.6l3.6-.4-2.4-5.5-3.6-.2z" color="#20eacb"/>
<path d="M458.5 223.5l4.2-14.2-.3-1.3-4.1 14.3z" color="#7f8409"/>
<path d="M463.6 215.5l2.8-4.6-.2-1.6-2.8 4.6z" color="#a8a702"/>
<path d="M474.8 230l2.3-.9-1.7-9.7-2.2-.4z" color="#9cc126"/>
<path d="M480.2 234.7l5.5-3.5-1-3.5-5.5 1.9z" color="#91d141"/>
<path d="M442.4 262.9l4.7-17-.8-1.3-4.6 17z" color="#185a43"/>
<path d="M501.2 239.7l4.1 1.4-.9-3.4-4.2-1.8z" color="#74d15f"/>
<path d="M643.3 271.2l4.1-.7-.2-1.2-4.2 .7z" color="#099bc6"/>
<path d="M559.8 270.1l3.5-1.5-.7-1.3-3.6 1.6z" color="#0fc1e7"/>
<path d="M638.4 269.6l4.1-1.1-.9 .9-4.2 1z" color="#096475"/>
<path d="M654.2 281.1l4.2-.9-1-2.6-4.2 1z" color="#0961df"/>
<path d="M490.4 235.4l4.2-3.2-.5-1-4.1 2.7z" color="#94e350"/>
<path d="M649.1 279.6l4.1-1-1.2-6.3-4.1 .9z" color="#0971c2"/>
<path d="M427.3 284.6l4.2-6.8-.8-.8-4.1 6.6z" color="#092c6d"/>
<path d="M458.8 224.7l4.1-14-.2-1.4-4.2 14.2z" color="#81880a"/>
<path d="M486.9 235.5l2.8-2.3-.7-2-2.8 1.7z" color="#8fda4c"/>
<path d="M463.9 217.3l2.7-4.6-.2-1.8-2.8 4.6z" color="#a6a804"/>
<path d="M453.6 235.8l4.2-15.5-.5-1.7-4.1 15.8z" color="#506718"/>
<path d="M511.9 252.3l4.1 1.6-.7-2.1-4.1-2.1z" color="#3cd499"/>
<path d="M422.2 288.3l4.2-5-.8-.7-4.1 4.7z" color="#091382"/>
<path d="M643.7 274l4.2-.8-.5-2.7-4.1 .7z" color="#098cbd"/>
<path d="M459 226l4.2-13.7-.3-1.6-4.1 14z" color="#828c0c"/>
<path d="M467.8 222l1.9-1.2-.9-7.1-1.9 .8z" color="#a9b50e"/>
<path d="M464.1 219.1l2.8-4.6-.3-1.8-2.7 4.6z" color="#a2a908"/>
<path d="M507 248l4.2 1.7-1.2-4.2-4.2-2.6z" color="#54cd7a"/>
<path d="M490.9 237.1l4.2-3.6-.5-1.3-4.2 3.2z" color="#8edb4f"/>
<path d="M453.9 236.6l4.1-15.4-.2-.9-4.2 15.5z" color="#546e1b"/>
<path d="M459.2 227.4l4.2-13.5-.2-1.6-4.2 13.7z" color="#828e0e"/>
<path d="M464.4 220.9l2.7-4.6-.2-1.8-2.8 4.6z" color="#9ea80b"/>
<path d="M517.7 258.9l3.6-.1-1.2-3-3.6-.5z" color="#28e5be"/>
<path d="M443.1 264.2l4.7-17-.7-1.3-4.7 17z" color="#185a43"/>
<path d="M440.7 277.2l3.6-10.8-5.3-9.1-3.6 11.1z" color="#095256"/>
<path d="M497 240.7l4.2-1-1.7-6.2-4.2 .7z" color="#82d655"/>
<path d="M638.9 271.1l4.1-1.1-.5-1.5-4.1 1.1z" color="#09b8db"/>
<path d="M454.1 237.5l4.2-15.2-.3-1.1-4.1 15.4z" color="#56711d"/>
<path d="M480.9 238.3l5.5-4.5-.7-2.6-5.5 3.5z" color="#86cc48"/>
<path d="M459.5 228.9l4.1-13.4-.2-1.6-4.2 13.5z" color="#819011"/>
<path d="M654.9 281.9l4.2-.9-.7-.8-4.2 .9z" color="#094fb6"/>
<path d="M491.2 238l4.1-3.8-.2-.7-4.2 3.6z" color="#87d44f"/>
<path d="M464.6 222.8l2.8-4.6-.3-1.9-2.7 4.6z" color="#9aa80f"/>
<path d="M418 291.8l4.2-3.5-1.7-2.2-4.1 3.1z" color="#0f0d9e"/>
<path d="M449.2 250.3l4.2-15.3-.7-1.7-4.2 15.3z" color="#345f2c"/>
<path d="M471.2 231.9l3.6-1.9-1.2-7.9-3.6 .6z" color="#94ba27"/>
<path d="M487.9 239.1l2.8-2.9-1-3-2.8 2.3z" color="#81cc4c"/>
<path d="M512.6 255l4.2 1-.8-2.1-4.1-1.6z" color="#38d8a2"/>
<path d="M422.9 289.3l4.2-5-.7-1-4.2 5z" color="#091688"/>
<path d="M454.4 238.5l4.1-15-.2-1.2-4.2 15.2z" color="#57751f"/>
<path d="M649.8 281.6l4.2-.9-.8-2.1-4.1 1z" color="#096be1"/>
<path d="M435.1 283.7l4.1-9-3.8-6.3-4.2 9.1z" color="#094162"/>
<path d="M478.7 238.7l2-1.6-1.7-8.7-1.9 .7z" color="#85c23f"/>
<path d="M459.7 230.4l4.2-13.1-.3-1.8-4.1 13.4z" color="#7f9214"/>
<path d="M491.4 238.9l4.2-3.9-.3-.8-4.1 3.8z" color="#83d04f"/>
<path d="M464.8 224.7l2.8-4.6-.2-1.9-2.8 4.6z" color="#96a813"/>
<path d="M634.2 271l4.2-1.4-1 .8-4.1 1.2z" color="#096674"/>
<path d="M502.6 246.3l4.2 .6-1.5-5.8-4.1-1.4z" color="#66cf69"/>
<path d="M644.9 280.4l4.2-.8-1.2-6.4-4.2 .8z" color="#0978c3"/>
<path d="M639.3 273.5l4.2-.9-.5-2.6-4.1 1.1z" color="#099dc3"/>
<path d="M454.6 239.6l4.2-14.9-.3-1.2-4.1 15z" color="#587821"/>
<path d="M460 231.9l4.1-12.8-.2-1.8-4.2 13.1z" color="#7d9317"/>
<path d="M468.8 229.8l1.9-1.5-1-7.5-1.9 1.2z" color="#95b31f"/>
<path d="M491.6 239.9l4.2-4.1-.2-.8-4.2 3.9z" color="#7fcc4f"/>
<path d="M465.1 226.6l2.7-4.6-.2-1.9-2.8 4.6z" color="#92a818"/>
<path d="M443.9 265.4l4.6-16.8-.7-1.4-4.7 17z" color="#185b44"/>
<path d="M476.3 239l2.2-1.6-1.4-8.3-2.3 .9z" color="#82be3d"/>
<path d="M454.8 240.7l4.2-14.7-.2-1.3-4.2 14.9z" color="#587b24"/>
<path d="M481.7 241.7l5.5-5.3-.8-2.6-5.5 4.5z" color="#7cc74d"/>
<path d="M508 252.2l4.1 1-.9-3.5-4.2-1.7z" color="#4ad087"/>
<path d="M449.7 251.7l4.2-15.1-.5-1.6-4.2 15.3z" color="#376732"/>
<path d="M412.9 292.8l4.2-2.5-.7-1.1-4.2 2.5z" color="#201fb2"/>
<path d="M460.2 233.5l4.2-12.6-.3-1.8-4.1 12.8z" color="#7b951b"/>
<path d="M491.9 240.9l4.1-4.2-.2-.9-4.2 4.1z" color="#7bc950"/>
<path d="M530.2 270.5l5.3-1.6-5.6-10.9-5.3 0z" color="#0deee3"/>
<path d="M513.3 257.8l4.2 .4-.7-2.2-4.2-1z" color="#32dcab"/>
<path d="M423.6 290.5l4.2-5.1-.7-1.1-4.2 5z" color="#09188f"/>
<path d="M655.9 283l4.2-.8-1-1.2-4.2 .9z" color="#0956bc"/>
<path d="M465.6 230.5l2.7-4.6-.5-3.9-2.7 4.6z" color="#8ba81e"/>
<path d="M455.1 241.8l4.1-14.4-.2-1.4-4.2 14.7z" color="#587e27"/>
<path d="M640.1 277.5l4.1-.6-.7-4.3-4.2 .9z" color="#0989bc"/>
<path d="M460.4 235.1l4.2-12.3-.2-1.9-4.2 12.6z" color="#79961e"/>
<path d="M492.1 242l4.2-4.4-.3-.9-4.1 4.2z" color="#77c651"/>
<path d="M634.7 272.3l4.2-1.2-.5-1.5-4.2 1.4z" color="#09bddd"/>
<path d="M650.8 282.5l4.1-.6-.9-1.2-4.2 .9z" color="#0956b4"/>
<path d="M455.3 243l4.2-14.1-.3-1.5-4.1 14.4z" color="#588029"/>
<path d="M519.2 263.2l3.6-.7-1.5-3.7-3.6 .1z" color="#21eccc"/>
<path d="M444.3 266.4l4.7-16.7-.5-1.1-4.6 16.8z" color="#185e47"/>
<path d="M450.2 253.3l4.2-14.8-.5-1.9-4.2 15.1z" color="#386d36"/>
<path d="M460.7 236.7l4.1-12-.2-1.9-4.2 12.3z" color="#769722"/>
<path d="M418.8 292.9l4.1-3.6-.7-1-4.2 3.5z" color="#1212a7"/>
<path d="M472.4 240.7l3.6-3.1-1.2-7.6-3.6 1.9z" color="#7eb83b"/>
<path d="M408.3 294.2l4.1-2.1-.7-1.2-4.1 2.1z" color="#1a19a8"/>
<path d="M489.3 245.4l2.8-3.4-1.4-5.8-2.8 2.9z" color="#6ebd50"/>
<path d="M492.6 244.1l4.2-4.5-.5-2-4.2 4.4z" color="#72c353"/>
<path d="M466.1 234.4l2.7-4.6-.5-3.9-2.7 4.6z" color="#83a827"/>
<path d="M455.6 244.2l4.1-13.8-.2-1.5-4.2 14.1z" color="#57832c"/>
<path d="M482.4 245.2l5.5-6.1-.7-2.7-5.5 5.3z" color="#71c151"/>
<path d="M630.1 273.3l4.1-2.3-.9 .6-4.2 2.1z" color="#0b6573"/>
<path d="M413.6 294l4.2-2.6-.7-1.1-4.2 2.5z" color="#2927bc"/>
<path d="M460.9 238.4l4.2-11.8-.3-1.9-4.1 12z" color="#739826"/>
<path d="M635.2 274.5l4.1-1-.4-2.4-4.2 1.2z" color="#09a5c7"/>
<path d="M450.5 254.2l4.1-14.6-.2-1.1-4.2 14.8z" color="#38713a"/>
<path d="M547.1 280.4l2.1-.9-14.7-24.7-2.1 0z" color="#0ad8dd"/>
<path d="M470 239.3l1.9-2-1.2-9-1.9 1.5z" color="#7fb133"/>
<path d="M514.1 260.4l4.1 0-.7-2.2-4.2-.4z" color="#2de0b5"/>
<path d="M424.4 291.7l4.1-5.1-.7-1.2-4.2 5.1z" color="#091891"/>
<path d="M455.8 245.5l4.2-13.6-.3-1.5-4.1 13.8z" color="#568530"/>
<path d="M508.9 256.6l4.2 .2-1-3.6-4.1-1z" color="#40d394"/>
<path d="M444.8 267.5l4.7-16.5-.5-1.3-4.7 16.7z" color="#19634b"/>
<path d="M498.9 250.1l4.2-1.4-1.9-9-4.2 1z" color="#68c963"/>
<path d="M640.8 280.8l4.1-.4-.7-3.5-4.1 .6z" color="#097ec9"/>
<path d="M461.2 240.1l4.1-11.5-.2-2-4.2 11.8z" color="#70992a"/>
<path d="M450.7 255.1l4.1-14.4-.2-1.1-4.1 14.6z" color="#38743d"/>
<path d="M504.1 253.5l4.1-.2-1.4-6.4-4.2-.6z" color="#54cd7a"/>
<path d="M539.1 276l4.2-2-8.2-14.1-4.2 .1z" color="#0ae2e4"/>
<path d="M656.9 285.7l4.1-1-.9-2.5-4.2 .8z" color="#0964e4"/>
<path d="M493.1 246.4l4.2-4.6-.5-2.2-4.2 4.5z" color="#6bc056"/>
<path d="M466.5 238.2l2.8-4.5-.5-3.9-2.7 4.6z" color="#7aa830"/>
<path d="M456.1 246.8l4.1-13.3-.2-1.6-4.2 13.6z" color="#558733"/>
<path d="M480.4 247.2l2-2-1.7-8.1-2 1.6z" color="#6dbe52"/>
<path d="M461.4 241.7l4.2-11.2-.3-1.9-4.1 11.5z" color="#6d9a2e"/>
<path d="M419.5 294.1l4.1-3.6-.7-1.2-4.1 3.6z" color="#1818b1"/>
<path d="M651.7 283.5l4.2-.5-1-1.1-4.1 .6z" color="#095cb5"/>
<path d="M450.9 256.1l4.2-14.3-.3-1.1-4.1 14.4z" color="#387640"/>
<path d="M432.1 292.5l4.2-6.8-4.8-7.9-4.2 6.8z" color="#093077"/>
<path d="M409 295.3l4.2-2.1-.8-1.1-4.1 2.1z" color="#2120b0"/>
<path d="M456.3 248.2l4.1-13.1-.2-1.6-4.1 13.3z" color="#548936"/>
<path d="M445.3 268.7l4.7-16.2-.5-1.5-4.7 16.5z" color="#196750"/>
<path d="M630.5 274.4l4.2-2.1-.5-1.3-4.1 2.3z" color="#0cbfdd"/>
<path d="M414.4 295.1l4.1-2.6-.7-1.1-4.2 2.6z" color="#3534cb"/>
<path d="M461.7 243.4l4.1-11-.2-1.9-4.2 11.2z" color="#6a9b32"/>
<path d="M478 248.3l2.2-2.3-1.7-8.6-2.2 1.6z" color="#6cbc52"/>
<path d="M483.3 250l5.5-6.8-.9-4.1-5.5 6.1z" color="#65ba57"/>
<path d="M451.2 257l4.1-14-.2-1.2-4.2 14.3z" color="#377843"/>
<path d="M514.8 263.1l4.1-.6-.7-2.1-4.1 0z" color="#27e3be"/>
<path d="M425.1 292.9l4.1-5.1-.7-1.2-4.1 5.1z" color="#091891"/>
<path d="M636.4 280.3l4.1-.4-1.2-6.4-4.1 1z" color="#098fc4"/>
<path d="M456.5 249.5l4.2-12.8-.3-1.6-4.1 13.1z" color="#528a3a"/>
<path d="M461.9 245.1l4.2-10.7-.3-2-4.1 11z" color="#669b37"/>
<path d="M493.8 249.9l4.2-4.7-.7-3.4-4.2 4.6z" color="#63bd5c"/>
<path d="M467.3 243.7l2.7-4.4-.7-5.6-2.8 4.5z" color="#6fa93b"/>
<path d="M630.8 275.3l4.1-1.9-.2-1.1-4.2 2.1z" color="#09b0d0"/>
<path d="M451.4 258l4.2-13.8-.3-1.2-4.1 14z" color="#367b46"/>
<path d="M473.6 248.3l3.7-3.8-1.3-6.9-3.6 3.1z" color="#6ab74e"/>
<path d="M456.8 250.9l4.1-12.5-.2-1.7-4.2 12.8z" color="#508c3d"/>
<path d="M509.9 260.9l4.2-.5-1-3.6-4.2-.2z" color="#35d5a1"/>
<path d="M526.9 272.6l3.5-1.5-4.8-10.9-3.6 .4z" color="#11f4e5"/>
<path d="M445.8 270l4.7-15.8-.5-1.7-4.7 16.2z" color="#196a54"/>
<path d="M462.1 246.7l4.2-10.4-.2-1.9-4.2 10.7z" color="#639c3b"/>
<path d="M420.2 295.2l4.2-3.5-.8-1.2-4.1 3.6z" color="#1a1ab4"/>
<path d="M451.7 259l4.1-13.5-.2-1.3-4.2 13.8z" color="#357d49"/>
<path d="M409.7 296.5l4.2-2.1-.7-1.2-4.2 2.1z" color="#2a29b9"/>
<path d="M490.8 252.5l2.8-3.8-1.5-6.7-2.8 3.4z" color="#5cb55b"/>
<path d="M471.2 247.7l1.9-2.3-1.2-8.1-1.9 2z" color="#69b149"/>
<path d="M457 252.2l4.2-12.1-.3-1.7-4.1 12.5z" color="#4e8d41"/>
<path d="M415.1 296.3l4.2-2.6-.8-1.2-4.1 2.6z" color="#4644dc"/>
<path d="M462.4 248.4l4.1-10.2-.2-1.9-4.2 10.4z" color="#5f9d3f"/>
<path d="M446 270.7l4.7-15.6-.2-.9-4.7 15.8z" color="#196d57"/>
<path d="M631.5 278.5l4.2-1.5-.8-3.6-4.1 1.9z" color="#099fc6"/>
<path d="M451.9 260.1l4.2-13.3-.3-1.3-4.1 13.5z" color="#347f4c"/>
<path d="M425.8 294.1l4.2-5.1-.8-1.2-4.1 5.1z" color="#091891"/>
<path d="M658.3 290.2l4.2-1.1-1.5-4.4-4.1 1z" color="#094fe1"/>
<path d="M457.3 253.6l4.1-11.9-.2-1.6-4.2 12.1z" color="#4b8f45"/>
<path d="M505.3 259.6l4.1-.8-1.2-5.5-4.1 .2z" color="#42cd8c"/>
<path d="M462.6 250l4.2-9.9-.3-1.9-4.1 10.2z" color="#5b9d43"/>
<path d="M494.5 253.6l4.2-4.7-.7-3.7-4.2 4.7z" color="#59bb64"/>
<path d="M468 248.9l2.7-4.4-.7-5.2-2.7 4.4z" color="#62a949"/>
<path d="M484.3 254.9l5.5-7.2-1-4.5-5.5 6.8z" color="#58b65f"/>
<path d="M446.3 271.4l4.6-15.3-.2-1-4.7 15.6z" color="#186e5a"/>
<path d="M452.1 261.2l4.2-13-.2-1.4-4.2 13.3z" color="#33814f"/>
<path d="M516 267.3l4.1-1.3-1.2-3.5-4.1 .6z" color="#1ee6c9"/>
<path d="M457.5 255l4.2-11.6-.3-1.7-4.1 11.9z" color="#499049"/>
<path d="M462.9 251.6l4.1-9.7-.2-1.8-4.2 9.9z" color="#589e48"/>
<path d="M420.9 296.4l4.2-3.5-.7-1.2-4.2 3.5z" color="#1a1ab4"/>
<path d="M452.4 262.2l4.1-12.7-.2-1.3-4.2 13z" color="#318253"/>
<path d="M500.6 259.1l4.2-1.9-1.7-8.5-4.2 1.4z" color="#4dc579"/>
<path d="M410.5 297.7l4.1-2.2-.7-1.1-4.2 2.1z" color="#3635c6"/>
<path d="M457.7 256.4l4.2-11.3-.2-1.7-4.2 11.6z" color="#46914d"/>
<path d="M510.9 265.1l4.1-1.1-.9-3.6-4.2 .5z" color="#2ad8af"/>
<path d="M446.8 272.9l4.6-14.9-.5-1.9-4.6 15.3z" color="#18705d"/>
<path d="M482.1 255.9l2-2.3-1.7-8.4-2 2z" color="#56b864"/>
<path d="M415.8 297.5l4.2-2.6-.7-1.2-4.2 2.6z" color="#4e4de3"/>
<path d="M442.9 282l3.6-9.9-2.2-5.7-3.6 10.8z" color="#095c64"/>
<path d="M463.1 253.2l4.2-9.5-.3-1.8-4.1 9.7z" color="#549f4c"/>
<path d="M632.2 281.3l4.2-1-.7-3.3-4.2 1.5z" color="#0996ce"/>
<path d="M452.6 263.3l4.2-12.4-.3-1.4-4.1 12.7z" color="#2f8456"/>
<path d="M474.8 255l3.7-4.2-1.2-6.3-3.7 3.8z" color="#59b75f"/>
<path d="M426.5 295.2l4.2-5.1-.7-1.1-4.2 5.1z" color="#091891"/>
<path d="M458 257.8l4.1-11.1-.2-1.6-4.2 11.3z" color="#439351"/>
<path d="M438.5 289.9l4.1-8.5-3.4-6.7-4.1 9z" color="#09456a"/>
<path d="M463.3 254.7l4.2-9.2-.2-1.8-4.2 9.5z" color="#509f50"/>
<path d="M479.7 257.2l2.2-2.5-1.7-8.7-2.2 2.3z" color="#54b866"/>
<path d="M452.9 264.4l4.1-12.2-.2-1.3-4.2 12.4z" color="#2e8659"/>
<path d="M495.5 258.6l4.2-4.7-1-5-4.2 4.7z" color="#4dba6f"/>
<path d="M468.9 254.9l2.8-4.3-1-6.1-2.7 4.4z" color="#55aa57"/>
<path d="M458.2 259.1l4.2-10.7-.3-1.7-4.1 11.1z" color="#409455"/>
<path d="M463.6 256.2l4.1-9-.2-1.7-4.2 9.2z" color="#4da055"/>
<path d="M472.7 256l1.9-2.4-1.5-8.2-1.9 2.3z" color="#55b25e"/>
<path d="M485.3 259.8l5.5-7.3-1-4.8-5.5 7.2z" color="#4bb46a"/>
<path d="M421.7 297.6l4.1-3.5-.7-1.2-4.2 3.5z" color="#1a1ab4"/>
<path d="M523.8 275.9l3.6-2-4.6-11.4-3.6 .7z" color="#10efe1"/>
<path d="M447.5 275.2l4.6-14-.7-3.2-4.6 14.9z" color="#167463"/>
<path d="M453.1 265.5l4.2-11.9-.3-1.4-4.1 12.2z" color="#2c875d"/>
<path d="M411.2 298.9l4.1-2.2-.7-1.2-4.1 2.2z" color="#413fcf"/>
<path d="M492.2 259.8l2.8-3.7-1.4-7.4-2.8 3.8z" color="#49b36b"/>
<path d="M458.5 260.5l4.1-10.5-.2-1.6-4.2 10.7z" color="#3d9558"/>
<path d="M506.5 265.5l4.1-1.5-1.2-5.2-4.1 .8z" color="#31ce9e"/>
<path d="M416.5 298.7l4.2-2.7-.7-1.1-4.2 2.6z" color="#4e4de3"/>
<path d="M463.8 257.7l4.2-8.8-.3-1.7-4.1 9z" color="#49a059"/>
<path d="M453.3 266.6l4.2-11.6-.2-1.4-4.2 11.9z" color="#298961"/>
<path d="M427.3 296.4l4.1-5.1-.7-1.2-4.2 5.1z" color="#091891"/>
<path d="M458.7 261.8l4.2-10.2-.3-1.6-4.1 10.5z" color="#3a965c"/>
<path d="M464.1 259.1l4.1-8.6-.2-1.6-4.2 8.8z" color="#45a15d"/>
<path d="M512.1 269.9l4.1-1.8-1.2-4.1-4.1 1.1z" color="#1edbbe"/>
<path d="M453.6 267.7l4.1-11.3-.2-1.4-4.2 11.6z" color="#278a64"/>
<path d="M459 263.2l4.1-10-.2-1.6-4.2 10.2z" color="#379760"/>
<path d="M464.3 260.5l4.2-8.5-.3-1.5-4.1 8.6z" color="#42a160"/>
<path d="M422.4 298.8l4.1-3.6-.7-1.1-4.1 3.5z" color="#1a1ab4"/>
<path d="M453.8 268.8l4.2-11-.3-1.4-4.1 11.3z" color="#258c68"/>
<path d="M476 261.6l3.7-4.4-1.2-6.4-3.7 4.2z" color="#48b56f"/>
<path d="M411.9 300.1l4.2-2.2-.8-1.2-4.1 2.2z" color="#4342d0"/>
<path d="M496.5 263.5l4.1-4.4-.9-5.2-4.2 4.7z" color="#40bb7c"/>
<path d="M459.2 264.5l4.1-9.8-.2-1.5-4.1 10z" color="#349764"/>
<path d="M486 263.6l5.5-7.5-.7-3.6-5.5 7.3z" color="#40b374"/>
<path d="M417.3 299.9l4.1-2.7-.7-1.2-4.2 2.7z" color="#4e4de3"/>
<path d="M502.1 266.5l4.1-2.1-1.4-7.2-4.2 1.9z" color="#36c591"/>
<path d="M464.6 261.8l4.1-8.3-.2-1.5-4.2 8.5z" color="#3fa264"/>
<path d="M470.2 261.6l2.7-4.2-1.2-6.8-2.8 4.3z" color="#45ac68"/>
<path d="M454.1 269.9l4.1-10.8-.2-1.3-4.2 11z" color="#228d6c"/>
<path d="M428 297.6l4.1-5.1-.7-1.2-4.1 5.1z" color="#091892"/>
<path d="M459.4 265.7l4.2-9.5-.3-1.5-4.1 9.8z" color="#319868"/>
<path d="M483.8 264.7l2-2.4-1.7-8.7-2 2.3z" color="#3eb578"/>
<path d="M433.8 295.6l4.2-6.7-1.7-3.2-4.2 6.8z" color="#09317d"/>
<path d="M464.8 263.1l4.1-8.2-.2-1.4-4.1 8.3z" color="#3ba268"/>
<path d="M449.2 280.8l4.6-12-1.7-7.6-4.6 14z" color="#127870"/>
<path d="M533.8 279.1l5.3-3.1-3.6-7.1-5.3 1.6z" color="#0ae8eb"/>
<path d="M454.3 271l4.2-10.5-.3-1.4-4.1 10.8z" color="#208e6f"/>
<path d="M459.7 267l4.1-9.3-.2-1.5-4.2 9.5z" color="#2e996c"/>
<path d="M465 264.3l4.2-8-.3-1.4-4.1 8.2z" color="#38a26b"/>
<path d="M474.1 264l1.9-2.4-1.4-8-1.9 2.4z" color="#40b273"/>
<path d="M481.4 266.1l2.2-2.6-1.7-8.8-2.2 2.5z" color="#3cb67b"/>
<path d="M486.5 266l5.5-7.4-.5-2.5-5.5 7.5z" color="#38b37c"/>
<path d="M423.1 300l4.2-3.6-.8-1.2-4.1 3.6z" color="#1a1ab4"/>
<path d="M454.6 272.1l4.1-10.3-.2-1.3-4.2 10.5z" color="#1e8f73"/>
<path d="M507.9 272l4.2-2.1-1.5-5.9-4.1 1.5z" color="#20d1b3"/>
<path d="M412.6 301.3l4.2-2.2-.7-1.2-4.2 2.2z" color="#4342d0"/>
<path d="M493.7 267.1l2.8-3.6-1.5-7.4-2.8 3.7z" color="#37b37e"/>
<path d="M459.9 268.2l4.2-9.1-.3-1.4-4.1 9.3z" color="#2b9a70"/>
<path d="M418 301.1l4.1-2.7-.7-1.2-4.1 2.7z" color="#4e4de3"/>
<path d="M519.9 279.2l4.1-2.6-3.9-10.6-4.1 1.3z" color="#0ee5dc"/>
<path d="M454.8 273.1l4.2-9.9-.3-1.4-4.1 10.3z" color="#1b9077"/>
<path d="M465.5 266.7l4.2-7.8-.5-2.6-4.2 8z" color="#34a370"/>
<path d="M428.7 298.9l4.2-5.1-.8-1.3-4.1 5.1z" color="#091895"/>
<path d="M460.2 269.4l4.1-8.9-.2-1.4-4.2 9.1z" color="#289a73"/>
<path d="M497.7 269.5l4.1-4.2-1.2-6.2-4.1 4.4z" color="#30bc8d"/>
<path d="M487 268.5l5.5-7.5-.5-2.4-5.5 7.4z" color="#31b383"/>
<path d="M455 274.2l4.2-9.7-.2-1.3-4.2 9.9z" color="#18927a"/>
<path d="M477.2 268l3.7-4.4-1.2-6.4-3.7 4.4z" color="#36b580"/>
<path d="M460.4 270.5l4.2-8.7-.3-1.3-4.1 8.9z" color="#259b76"/>
<path d="M529.3 278.9l3.5-2.1-2.4-5.7-3.5 1.5z" color="#09e5e8"/>
<path d="M539.8 277.4l4.2-2.2-.7-1.2-4.2 2z" color="#20ebef"/>
<path d="M471.4 268.1l2.7-4.1-1.2-6.6-2.7 4.2z" color="#35ad7a"/>
<path d="M423.8 301.2l4.2-3.6-.7-1.2-4.2 3.6z" color="#1b1bb6"/>
<path d="M449.4 281.7l4.7-11.8-.3-1.1-4.6 12z" color="#0e7a7a"/>
<path d="M413.4 302.5l4.1-2.2-.7-1.2-4.2 2.2z" color="#4342d0"/>
<path d="M466 269.1l4.2-7.5-.5-2.7-4.2 7.8z" color="#2ea478"/>
<path d="M514.5 278.1l4.1-2.5-2.4-7.5-4.1 1.8z" color="#0edfd4"/>
<path d="M418.7 302.2l4.2-2.6-.8-1.2-4.1 2.7z" color="#4e4de3"/>
<path d="M503.5 273.4l4.2-2.4-1.5-6.6-4.1 2.1z" color="#21c8a9"/>
<path d="M460.9 272.7l4.1-8.4-.4-2.5-4.2 8.7z" color="#219b7b"/>
<path d="M487.4 270.9l5.6-7.4-.5-2.5-5.5 7.5z" color="#2bb38a"/>
<path d="M449.7 282.5l4.6-11.5-.2-1.1-4.7 11.8z" color="#0d7b7c"/>
<path d="M455.8 277.3l4.1-9.1-.7-3.7-4.2 9.7z" color="#159280"/>
<path d="M429.4 300.2l4.2-5.1-.7-1.3-4.2 5.1z" color="#091798"/>
<path d="M449.9 283.3l4.7-11.2-.3-1.1-4.6 11.5z" color="#0c7b7f"/>
<path d="M485.3 272l1.9-2.3-1.4-7.4-2 2.4z" color="#28b58e"/>
<path d="M447.2 293.6l3.7-7.1-4.4-14.4-3.6 9.9z" color="#095f7a"/>
<path d="M466.5 271.5l4.1-7.3-.4-2.6-4.2 7.5z" color="#28a67f"/>
<path d="M540.6 278.8l4.1-2.4-.7-1.2-4.2 2.2z" color="#3fecef"/>
<path d="M475.6 271.7l1.9-2.4-1.5-7.7-1.9 2.4z" color="#2bb289"/>
<path d="M461.4 274.8l4.1-8.1-.5-2.4-4.1 8.4z" color="#1c9c82"/>
<path d="M487.9 273.2l5.5-7.3-.4-2.4-5.6 7.4z" color="#24b491"/>
<path d="M424.6 302.4l4.1-3.5-.7-1.3-4.2 3.6z" color="#2121bf"/>
<path d="M450.1 284.1l4.7-11-.2-1-4.7 11.2z" color="#0b7c81"/>
<path d="M414.1 303.6l4.1-2.2-.7-1.1-4.1 2.2z" color="#4342d0"/>
<path d="M495.1 274.1l2.8-3.4-1.4-7.2-2.8 3.6z" color="#23b694"/>
<path d="M482.8 273.4l2.2-2.6-1.4-7.3-2.2 2.6z" color="#25b692"/>
<path d="M441.9 297.4l4.1-7.1-3.4-8.9-4.1 8.5z" color="#09477d"/>
<path d="M509.6 278.4l4.2-2.5-1.7-6-4.2 2.1z" color="#0ed7cb"/>
<path d="M419.4 303.4l4.2-2.6-.7-1.2-4.2 2.6z" color="#4f4ee3"/>
<path d="M436 299.9l4.2-6.3-2.2-4.7-4.2 6.7z" color="#093087"/>
<path d="M498.9 275.2l4.1-4-1.2-5.9-4.1 4.2z" color="#1fbfa1"/>
<path d="M450.4 284.9l4.6-10.7-.2-1.1-4.7 11z" color="#0a7c84"/>
<path d="M478.4 274.2l3.7-4.4-1.2-6.2-3.7 4.4z" color="#24b592"/>
<path d="M467 273.9l4.1-7.1-.5-2.6-4.1 7.3z" color="#22a787"/>
<path d="M430.2 301.5l4.1-5-.7-1.4-4.2 5.1z" color="#09169b"/>
<path d="M525.7 281.3l3.6-2.4-1.9-5-3.6 2z" color="#09d9e0"/>
<path d="M534.3 280.3l5.3-3.4-.5-.9-5.3 3.1z" color="#1be7ef"/>
<path d="M472.6 274.3l2.7-3.8-1.2-6.5-2.7 4.1z" color="#23af8d"/>
<path d="M461.8 276.9l4.2-7.8-.5-2.4-4.1 8.1z" color="#179e89"/>
<path d="M488.4 275.5l5.5-7.2-.5-2.4-5.5 7.3z" color="#1db498"/>
<path d="M450.6 285.7l4.7-10.5-.3-1-4.6 10.7z" color="#097b85"/>
<path d="M662.4 287.6l4.2 1.9-.5-1.3-4.2-1.9z" color="#097ec0"/>
<path d="M541.3 280.1l4.1-2.5-.7-1.2-4.1 2.4z" color="#55edf0"/>
<path d="M425.3 303.6l4.1-3.4-.7-1.3-4.1 3.5z" color="#2b2aca"/>
<path d="M450.9 286.5l4.6-10.2-.2-1.1-4.7 10.5z" color="#097a86"/>
<path d="M414.8 304.8l4.2-2.2-.8-1.2-4.1 2.2z" color="#4342d0"/>
<path d="M467.4 276.2l4.2-6.9-.5-2.5-4.1 7.1z" color="#1ba88f"/>
<path d="M488.7 276.7l5.5-7.2-.3-1.2-5.5 7.2z" color="#18b59e"/>
<path d="M534.7 281.4l5.4-3.5-.5-1-5.3 3.4z" color="#2fe7ee"/>
<path d="M420.2 304.6l4.1-2.6-.7-1.2-4.2 2.6z" color="#5857e9"/>
<path d="M505 279.4l4.1-2.7-1.4-5.7-4.2 2.4z" color="#0fcec1"/>
<path d="M662.7 288.6l4.1 1.8-.2-.9-4.2-1.9z" color="#097dc5"/>
<path d="M451.1 287.3l4.7-10-.3-1-4.6 10.2z" color="#097987"/>
<path d="M457.9 285.6l4.2-7.6-2.2-9.8-4.1 9.1z" color="#0d8f8c"/>
<path d="M488.9 277.8l5.5-7.1-.2-1.2-5.5 7.2z" color="#15b5a1"/>
<path d="M570.5 295.8l4.7-.5-15.7-25.6-4.7 1z" color="#09b7d6"/>
<path d="M662.9 289.8l4.2 1.6-.3-1-4.1-1.8z" color="#0977c3"/>
<path d="M451.3 288l4.7-9.8-.2-.9-4.7 10z" color="#097888"/>
<path d="M535.2 282.5l5.4-3.7-.5-.9-5.4 3.5z" color="#44e4ec"/>
<path d="M542 281.4l4.2-2.6-.8-1.2-4.1 2.5z" color="#54eff2"/>
<path d="M663.1 291.1l4.2 1.4-.2-1.1-4.2-1.6z" color="#0971c2"/>
<path d="M516.2 283.5l4.1-2.9-1.7-5-4.1 2.5z" color="#09d0d7"/>
<path d="M426 304.9l4.2-3.4-.8-1.3-4.1 3.4z" color="#3635d4"/>
<path d="M531.5 284.5l3.5-2.5-2.2-5.2-3.5 2.1z" color="#09cfde"/>
<path d="M451.6 288.8l4.6-9.6-.2-1-4.7 9.8z" color="#097689"/>
<path d="M487.2 281.2l1.9-2.3-1.9-9.2-1.9 2.3z" color="#11b5a7"/>
<path d="M415.5 306l4.2-2.2-.7-1.2-4.2 2.2z" color="#4543d0"/>
<path d="M521.5 284.2l4.2-2.9-1.7-4.7-4.1 2.6z" color="#09cdd9"/>
<path d="M420.9 305.8l4.1-2.6-.7-1.2-4.1 2.6z" color="#6463f2"/>
<path d="M663.4 292.4l4.1 1.2-.2-1.1-4.2-1.4z" color="#096bc2"/>
<path d="M463.8 285.3l4.1-6.8-1.9-9.4-4.2 7.8z" color="#0e9d97"/>
<path d="M658.3 285.5l4.1 2.1-.5-1.3-4.1-2.3z" color="#0995bc"/>
<path d="M451.8 289.5l4.7-9.4-.3-.9-4.6 9.6z" color="#09758a"/>
<path d="M437 301.9l4.1-6.1-.9-2.2-4.2 6.3z" color="#092d8e"/>
<path d="M497.1 282.6l2.8-3.2-2-8.7-2.8 3.4z" color="#0fb7ac"/>
<path d="M477.7 282.4l1.9-2.3-2.1-10.8-1.9 2.4z" color="#12b3a4"/>
<path d="M500.8 283.2l4.2-3.8-2-8.2-4.1 4z" color="#0dc0b8"/>
<path d="M535.7 283.6l5.4-3.9-.5-.9-5.4 3.7z" color="#52e2eb"/>
<path d="M511.3 284.1l4.2-2.9-1.7-5.3-4.2 2.5z" color="#09ced4"/>
<path d="M480.4 283.4l3.6-4.2-1.9-9.4-3.7 4.4z" color="#10b4a8"/>
<path d="M663.6 293.7l4.2 .9-.3-1-4.1-1.2z" color="#0966c4"/>
<path d="M452.1 290.3l4.6-9.2-.2-1-4.7 9.4z" color="#09748b"/>
<path d="M485.2 284.7l2.2-2.4-2.4-11.5-2.2 2.6z" color="#0eb4ac"/>
<path d="M658.5 286.7l4.2 1.9-.3-1-4.1-2.1z" color="#0995c2"/>
<path d="M542.7 282.7l4.2-2.7-.7-1.2-4.2 2.6z" color="#46f3f6"/>
<path d="M566.3 296l4.2-.2-16.2-25.8-4.2 .3z" color="#09bed2"/>
<path d="M469.6 286.3l4.2-6-2.2-11-4.2 6.9z" color="#0fa69f"/>
<path d="M426.7 306.2l4.2-3.4-.7-1.3-4.2 3.4z" color="#4342d5"/>
<path d="M452.3 291l4.7-9-.3-.9-4.6 9.2z" color="#09738c"/>
<path d="M458.2 286.5l4.1-7.5-.2-1-4.2 7.6z" color="#098d96"/>
<path d="M547.9 281.6l2-.9-.7-1.2-2.1 .9z" color="#19e5eb"/>
<path d="M416.3 307.2l4.1-2.2-.7-1.2-4.2 2.2z" color="#4a48d0"/>
<path d="M491.1 287.2l5.5-6.6-2.2-9.9-5.5 7.1z" color="#0db0ac"/>
<path d="M658.8 288l4.1 1.8-.2-1.2-4.2-1.9z" color="#098dbe"/>
<path d="M536.2 284.6l5.3-4-.4-.9-5.4 3.9z" color="#55dfe9"/>
<path d="M421.6 307l4.2-2.5-.8-1.3-4.1 2.6z" color="#6c6bfc"/>
<path d="M475.2 287l2.8-3.5-2.7-13-2.7 3.8z" color="#0eaba6"/>
<path d="M527.9 287.2l3.6-2.7-2.2-5.6-3.6 2.4z" color="#09c6d9"/>
<path d="M452.6 291.7l4.6-8.8-.2-.9-4.7 9z" color="#09728e"/>
<path d="M458.4 287.5l4.2-7.4-.3-1.1-4.1 7.5z" color="#098b98"/>
<path d="M437.5 302.9l4.1-6-.5-1.1-4.1 6.1z" color="#092b91"/>
<path d="M506.7 285.3l4.1-2.8-1.7-5.8-4.1 2.7z" color="#09c7cd"/>
<path d="M664.6 297.4l4.1 .4-.9-3.2-4.2-.9z" color="#095fd0"/>
<path d="M659 289.5l4.1 1.6-.2-1.3-4.1-1.8z" color="#0985bc"/>
<path d="M434 308.8l4.2-4.4-3.9-7.9-4.1 5z" color="#0914a0"/>
<path d="M452.8 292.5l4.7-8.7-.3-.9-4.6 8.8z" color="#09718f"/>
<path d="M443.5 301.2l4.2-6.4-1.7-4.5-4.1 7.1z" color="#09438a"/>
<path d="M536.7 285.7l5.3-4.3-.5-.8-5.3 4z" color="#4edde7"/>
<path d="M458.9 289.3l4.2-7.1-.5-2.1-4.2 7.4z" color="#09899a"/>
<path d="M654.1 283l4.2 2.5-.5-1.5-4.2-2.6z" color="#09abba"/>
<path d="M543.5 284l4.1-2.8-.7-1.2-4.2 2.7z" color="#39f5fa"/>
<path d="M427.5 307.5l4.1-3.3-.7-1.4-4.2 3.4z" color="#5352d5"/>
<path d="M659.5 292.6l4.1 1.1-.5-2.6-4.1-1.6z" color="#097cbc"/>
<path d="M453 293.2l4.7-8.5-.2-.9-4.7 8.7z" color="#097191"/>
<path d="M449.1 298.6l3.7-6.1-1.9-6-3.7 7.1z" color="#09588b"/>
<path d="M437.9 303.9l4.2-5.9-.5-1.1-4.1 6z" color="#092993"/>
<path d="M548.6 282.8l2-.9-.7-1.2-2 .9z" color="#1ce8ee"/>
<path d="M417 308.4l4.1-2.2-.7-1.2-4.1 2.2z" color="#4a49cf"/>
<path d="M561.9 296.2l4.2-.5-16.2-25.7-4.2 .3z" color="#09cad6"/>
<path d="M464.5 288.4l4.2-6.5-.8-3.4-4.1 6.8z" color="#0997a1"/>
<path d="M422.3 308.3l4.2-2.5-.7-1.3-4.2 2.5z" color="#7270ff"/>
<path d="M501.5 285.8l4.2-3.8-.7-2.6-4.2 3.8z" color="#09bac1"/>
<path d="M517.9 288.8l4.1-3.1-1.7-5.1-4.1 2.9z" color="#09bdd3"/>
<path d="M453.3 294l4.6-8.4-.2-.9-4.7 8.5z" color="#097093"/>
<path d="M654.4 284.4l4.1 2.3-.2-1.2-4.2-2.5z" color="#09aabe"/>
<path d="M537.2 286.7l5.3-4.4-.5-.9-5.3 4.3z" color="#41dbe6"/>
<path d="M459.4 291.1l4.1-6.8-.4-2.1-4.2 7.1z" color="#09859c"/>
<path d="M523.5 289.8l4.1-3.2-1.9-5.3-4.2 2.9z" color="#09bcd5"/>
<path d="M453.5 294.7l4.7-8.2-.3-.9-4.6 8.4z" color="#096f94"/>
<path d="M654.6 285.9l4.2 2.1-.3-1.3-4.1-2.3z" color="#09a1b9"/>
<path d="M438.4 304.9l4.2-5.8-.5-1.1-4.2 5.9z" color="#092895"/>
<path d="M481.6 288.7l3.6-4-1.2-5.5-3.6 4.2z" color="#09a7b3"/>
<path d="M498.5 288.1l2.8-3.1-1.4-5.6-2.8 3.2z" color="#09acb6"/>
<path d="M489.4 290.3l1.9-2.1-2.2-9.3-1.9 2.3z" color="#09a5b4"/>
<path d="M513 289.7l4.1-3.1-1.6-5.4-4.2 2.9z" color="#09bad0"/>
<path d="M544.2 285.2l4.1-2.8-.7-1.2-4.1 2.8z" color="#30edf5"/>
<path d="M470.3 289.5l4.2-5.8-.7-3.4-4.2 6z" color="#099ba9"/>
<path d="M428.2 308.8l4.1-3.2-.7-1.4-4.1 3.3z" color="#6463d5"/>
<path d="M660.4 296.8l4.2 .6-1-3.7-4.1-1.1z" color="#0972ca"/>
<path d="M453.8 295.5l4.6-8-.2-1-4.7 8.2z" color="#096d96"/>
<path d="M654.8 287.7l4.2 1.8-.2-1.5-4.2-2.1z" color="#0998b7"/>
<path d="M549.3 284l2.1-.9-.8-1.2-2 .9z" color="#1de8ee"/>
<path d="M417.7 309.6l4.2-2.2-.8-1.2-4.1 2.2z" color="#4645cf"/>
<path d="M479.4 289.8l1.9-2.1-1.7-7.6-1.9 2.3z" color="#09a3b1"/>
<path d="M502 287.5l4.2-3.8-.5-1.7-4.2 3.8z" color="#09b4c2"/>
<path d="M465.2 291.4l4.2-6.2-.7-3.3-4.2 6.5z" color="#098fa4"/>
<path d="M533.9 290.1l3.5-3-2.4-5.1-3.5 2.5z" color="#09bad1"/>
<path d="M459.9 292.9l4.1-6.6-.5-2-4.1 6.8z" color="#09819e"/>
<path d="M423.1 309.5l4.1-2.4-.7-1.3-4.2 2.5z" color="#7776f8"/>
<path d="M492 291l5.5-6.5-.9-3.9-5.5 6.6z" color="#09a2b4"/>
<path d="M454 296.2l4.7-7.8-.3-.9-4.6 8z" color="#096c98"/>
<path d="M537.9 288.1l5.3-4.5-.7-1.3-5.3 4.4z" color="#31d8e3"/>
<path d="M655.1 289.4l4.1 1.7-.2-1.6-4.2-1.8z" color="#0991b7"/>
<path d="M438.9 305.8l4.2-5.7-.5-1-4.2 5.8z" color="#092697"/>
<path d="M507.9 289.6l4.1-3.1-1.2-4-4.1 2.8z" color="#09b6cb"/>
<path d="M650 280.9l4.1 2.1-.5-1.6-4.1-2z" color="#0ebeb7"/>
<path d="M559.8 296.9l2.1-.7-15.9-25.6-2.1 .4z" color="#09d4dc"/>
<path d="M454.2 297l4.7-7.7-.2-.9-4.7 7.8z" color="#096b99"/>
<path d="M655.3 291.1l4.2 1.5-.3-1.5-4.1-1.7z" color="#098ab8"/>
<path d="M502.5 289.3l4.2-4-.5-1.6-4.2 3.8z" color="#09aec1"/>
<path d="M445 304.4l4.1-5.8-1.4-3.8-4.2 6.4z" color="#093e92"/>
<path d="M460.3 294.7l4.2-6.3-.5-2.1-4.1 6.6z" color="#097da1"/>
<path d="M544.9 286.4l4.2-2.8-.8-1.2-4.1 2.8z" color="#2ae4ec"/>
<path d="M650.2 282.3l4.2 2.1-.3-1.4-4.1-2.1z" color="#0bbdba"/>
<path d="M471.1 292.5l4.1-5.5-.7-3.3-4.2 5.8z" color="#0992ab"/>
<path d="M476.4 292.1l2.8-3.3-1.2-5.3-2.8 3.5z" color="#0998af"/>
<path d="M487.4 293.5l2.2-2.3-2.2-8.9-2.2 2.4z" color="#099db7"/>
<path d="M428.9 310.1l4.2-3.1-.8-1.4-4.1 3.2z" color="#7372d5"/>
<path d="M454.5 297.8l4.6-7.6-.2-.9-4.7 7.7z" color="#096a9b"/>
<path d="M439.4 306.8l4.1-5.6-.4-1.1-4.2 5.7z" color="#092498"/>
<path d="M550 285.2l2.1-1-.7-1.1-2.1 .9z" color="#1ce8ee"/>
<path d="M418.4 310.8l4.2-2.1-.7-1.3-4.2 2.2z" color="#3d3ccc"/>
<path d="M466 294.3l4.1-5.9-.7-3.2-4.2 6.2z" color="#0988a7"/>
<path d="M423.8 310.7l4.1-2.3-.7-1.3-4.1 2.4z" color="#7e7dee"/>
<path d="M650.4 283.8l4.2 2.1-.2-1.5-4.2-2.1z" color="#0ab4b7"/>
<path d="M454.7 298.5l4.7-7.4-.3-.9-4.6 7.6z" color="#09689c"/>
<path d="M538.6 289.4l5.4-4.6-.8-1.2-5.3 4.5z" color="#22cbda"/>
<path d="M503 291l4.1-3.9-.4-1.8-4.2 4z" color="#09a8c0"/>
<path d="M460.8 296.5l4.2-6.1-.5-2-4.2 6.3z" color="#0979a3"/>
<path d="M656.3 295.8l4.1 1-.9-4.2-4.2-1.5z" color="#0983c4"/>
<path d="M450.8 303.1l3.7-5.3-1.7-5.3-3.7 6.1z" color="#095298"/>
<path d="M483 294.4l3.7-3.7-1.5-6-3.6 4z" color="#0998b7"/>
<path d="M650.7 285.5l4.1 2.2-.2-1.8-4.2-2.1z" color="#09acb5"/>
<path d="M493 294.5l5.5-6.4-1-3.6-5.5 6.5z" color="#0999b7"/>
<path d="M530.5 293.5l3.6-2.9-2.6-6.1-3.6 2.7z" color="#09b1d1"/>
<path d="M455 299.3l4.6-7.3-.2-.9-4.7 7.4z" color="#09669e"/>
<path d="M439.9 307.8l4.1-5.5-.5-1.1-4.1 5.6z" color="#09239a"/>
<path d="M500 293.3l2.8-3.2-1.5-5.1-2.8 3.1z" color="#099db8"/>
<path d="M519.8 294.5l4.2-3.4-2-5.4-4.1 3.1z" color="#09acd1"/>
<path d="M545.6 287.6l4.2-2.8-.7-1.2-4.2 2.8z" color="#27e1e9"/>
<path d="M650.9 287.3l4.2 2.1-.3-1.7-4.1-2.2z" color="#09a4b5"/>
<path d="M471.8 295.4l4.1-5.3-.7-3.1-4.1 5.5z" color="#098aad"/>
<path d="M429.6 311.4l4.2-3-.7-1.4-4.2 3.1z" color="#7b79d4"/>
<path d="M455.2 300l4.7-7.1-.3-.9-4.6 7.3z" color="#09659f"/>
<path d="M550.8 286.4l2-1-.7-1.2-2.1 1z" color="#1be6ec"/>
<path d="M509.1 293.8l4.1-3.3-1.2-4-4.1 3.1z" color="#09a8c9"/>
<path d="M419.2 312l4.1-2.1-.7-1.2-4.2 2.1z" color="#3231c3"/>
<path d="M503.5 292.7l4.1-3.9-.5-1.7-4.1 3.9z" color="#09a2c0"/>
<path d="M466.7 297.1l4.1-5.6-.7-3.1-4.1 5.9z" color="#0980aa"/>
<path d="M424.5 311.9l4.2-2.3-.8-1.2-4.1 2.3z" color="#8584e5"/>
<path d="M651.2 288.9l4.1 2.2-.2-1.7-4.2-2.1z" color="#099eb6"/>
<path d="M455.5 300.8l4.6-7-.2-.9-4.7 7.1z" color="#0963a1"/>
<path d="M539.3 290.7l5.4-4.7-.7-1.2-5.4 4.6z" color="#19bccc"/>
<path d="M461.6 299.1l4.1-5.8-.7-2.9-4.2 6.1z" color="#0973a6"/>
<path d="M514.9 295.8l4.2-3.4-2-5.8-4.1 3.1z" color="#09a7ce"/>
<path d="M440.4 308.7l4.1-5.3-.5-1.1-4.1 5.5z" color="#09219c"/>
<path d="M646.3 282l4.1 1.8-.7-3.8-4.1-1.6z" color="#17c8b3"/>
<path d="M446 306.7l4.1-5.6-1-2.5-4.1 5.8z" color="#093a9a"/>
<path d="M481.4 297.3l1.9-2-2-7.6-1.9 2.1z" color="#098db6"/>
<path d="M525.9 295.9l4.1-3.5-2.4-5.8-4.1 3.2z" color="#09aad1"/>
<path d="M455.7 301.5l4.6-6.8-.2-.9-4.6 7z" color="#0961a2"/>
<path d="M504 294.5l4.1-4-.5-1.7-4.1 3.9z" color="#099cc0"/>
<path d="M477.9 297.8l2.7-3.2-1.4-5.8-2.8 3.3z" color="#0988b3"/>
<path d="M546.4 288.8l4.1-2.8-.7-1.2-4.2 2.8z" color="#25dfe7"/>
<path d="M472.5 298.2l4.2-5.1-.8-3-4.1 5.3z" color="#0981b0"/>
<path d="M494 297.8l5.5-6.2-1-3.5-5.5 6.4z" color="#098fb8"/>
<path d="M430.4 312.6l4.1-2.9-.7-1.3-4.2 3z" color="#7977d4"/>
<path d="M455.9 302.3l4.7-6.7-.3-.9-4.6 6.8z" color="#095fa4"/>
<path d="M491.8 298.9l1.9-1.9-2.4-8.8-1.9 2.1z" color="#098dbb"/>
<path d="M440.8 309.7l4.2-5.3-.5-1-4.1 5.3z" color="#091f9f"/>
<path d="M551.5 287.5l2-.9-.7-1.2-2 1z" color="#19e5ea"/>
<path d="M419.9 313.1l4.1-2-.7-1.2-4.1 2.1z" color="#2827b8"/>
<path d="M652.1 293.5l4.2 2.3-1-4.7-4.1-2.2z" color="#0997bf"/>
<path d="M467.4 299.8l4.2-5.3-.8-3-4.1 5.6z" color="#0978ad"/>
<path d="M425.2 313.1l4.2-2.2-.7-1.3-4.2 2.3z" color="#8987dd"/>
<path d="M456.2 303l4.6-6.5-.2-.9-4.7 6.7z" color="#095ea5"/>
<path d="M540.1 291.8l5.3-4.6-.7-1.2-5.4 4.7z" color="#14b5c4"/>
<path d="M462.3 301.6l4.1-5.5-.7-2.8-4.1 5.8z" color="#096caa"/>
<path d="M437.2 314.6l4.1-3.9-3.1-6.3-4.2 4.4z" color="#0c11a8"/>
<path d="M504.4 296.2l4.2-4.1-.5-1.6-4.1 4z" color="#0997c0"/>
<path d="M641.7 278.3l4.1 1-.5-1.4-4.1-.8z" color="#2ac9a1"/>
<path d="M452 306.4l3.7-4.9-1.2-3.7-3.7 5.3z" color="#094ba3"/>
<path d="M501.2 297.6l2.8-3.1-1.2-4.4-2.8 3.2z" color="#098eb8"/>
<path d="M668.2 297.5l4.2 .2-.8-.8-4.1-.6z" color="#0976b0"/>
<path d="M536.5 294.8l3.6-3-2.7-4.7-3.5 3z" color="#0ba4be"/>
<path d="M456.4 303.8l4.7-6.4-.3-.9-4.6 6.5z" color="#095ca7"/>
<path d="M446.7 308.3l4.1-5.2-.7-2-4.1 5.6z" color="#0937a1"/>
<path d="M441.3 310.7l4.2-5.2-.5-1.1-4.2 5.3z" color="#091ea2"/>
<path d="M484.7 300.4l3.7-3.5-1.7-6.2-3.7 3.7z" color="#0987bd"/>
<path d="M510.3 297.8l4.1-3.5-1.2-3.8-4.1 3.3z" color="#099ac9"/>
<path d="M547.1 289.9l4.1-2.8-.7-1.1-4.1 2.8z" color="#24dee6"/>
<path d="M473.2 300.9l4.2-4.9-.7-2.9-4.2 5.1z" color="#0979b2"/>
<path d="M647.7 290.2l4.2 2.5-1.5-8.9-4.1-1.8z" color="#0bb4b8"/>
<path d="M431.1 313.9l4.1-2.8-.7-1.4-4.1 2.9z" color="#6d6cd4"/>
<path d="M456.7 304.5l4.6-6.3-.2-.8-4.7 6.4z" color="#095aa8"/>
<path d="M420.6 314.3l4.2-2-.8-1.2-4.1 2z" color="#1f1eaf"/>
<path d="M489.8 301.7l2.2-2-2.4-8.5-2.2 2.3z" color="#0986bf"/>
<path d="M468.1 302.4l4.2-5.1-.7-2.8-4.2 5.3z" color="#0970b0"/>
<path d="M642.1 280.7l4.2 1.3-.5-2.7-4.1-1z" color="#25caa6"/>
<path d="M426 314.4l4.1-2.2-.7-1.3-4.2 2.2z" color="#8583d7"/>
<path d="M505.2 298.7l4.1-4.1-.7-2.5-4.2 4.1z" color="#0990c0"/>
<path d="M494.9 301.1l5.5-6.1-.9-3.4-5.5 6.2z" color="#0985b9"/>
<path d="M540.8 292.9l5.3-4.5-.7-1.2-5.3 4.6z" color="#13b2c1"/>
<path d="M463 304l4.2-5.1-.8-2.8-4.1 5.5z" color="#0965ad"/>
<path d="M441.8 311.6l4.2-4.9-.5-1.2-4.2 5.2z" color="#091ca6"/>
<path d="M457.1 306l4.7-6.1-.5-1.7-4.6 6.3z" color="#0956aa"/>
<path d="M447.2 309.5l4.1-5.1-.5-1.3-4.1 5.2z" color="#0934a6"/>
<path d="M522 299.9l4.1-3.5-2.1-5.3-4.2 3.4z" color="#099bce"/>
<path d="M479.3 302.8l2.8-3-1.5-5.2-2.7 3.2z" color="#0978b8"/>
<path d="M642.6 283.5l4.2 1.7-.5-3.2-4.2-1.3z" color="#1ac2a9"/>
<path d="M547.8 291l4.2-2.7-.8-1.2-4.1 2.8z" color="#23dee5"/>
<path d="M474 303.4l4.1-4.8-.7-2.6-4.2 4.9z" color="#0971b5"/>
<path d="M669.4 300.8l4.2-.4-1.2-2.7-4.2-.2z" color="#098fdf"/>
<path d="M431.8 315.1l4.2-2.7-.8-1.3-4.1 2.8z" color="#5e5dd4"/>
<path d="M516.9 301.1l4.1-3.5-1.9-5.2-4.2 3.4z" color="#0995cd"/>
<path d="M453 309l3.7-4.5-1-3-3.7 4.9z" color="#0943aa"/>
<path d="M442.3 312.6l4.1-4.8-.4-1.1-4.2 4.9z" color="#0919a9"/>
<path d="M421.3 315.5l4.2-2-.7-1.2-4.2 2z" color="#1817a7"/>
<path d="M468.8 304.8l4.2-4.8-.7-2.7-4.2 5.1z" color="#0967b3"/>
<path d="M532.9 297.8l3.6-3-2.4-4.2-3.6 2.9z" color="#0c9ec0"/>
<path d="M457.6 307.4l4.7-5.8-.5-1.7-4.7 6.1z" color="#0952ad"/>
<path d="M447.6 310.6l4.2-4.9-.5-1.3-4.1 5.1z" color="#0931a9"/>
<path d="M426.7 315.6l4.1-2.1-.7-1.3-4.1 2.2z" color="#7977d4"/>
<path d="M505.9 301.1l4.1-4.1-.7-2.4-4.1 4.1z" color="#0988c0"/>
<path d="M541.5 294l5.3-4.5-.7-1.1-5.3 4.5z" color="#14b2c0"/>
<path d="M463.7 306.4l4.2-4.9-.7-2.6-4.2 5.1z" color="#095db1"/>
<path d="M637.7 278.8l4.2 .6-.5-1.8-4.1-.3z" color="#37daa4"/>
<path d="M502.6 302.6l2.8-3.1-1.4-5-2.8 3.1z" color="#097fb9"/>
<path d="M483.5 304.4l1.9-1.7-2.1-7.4-1.9 2z" color="#0978be"/>
<path d="M511.7 302.1l4.2-3.5-1.5-4.3-4.1 3.5z" color="#098dc9"/>
<path d="M495.9 304.4l5.5-5.9-1-3.5-5.5 6.1z" color="#097abb"/>
<path d="M442.8 313.6l4.1-4.7-.5-1.1-4.1 4.8z" color="#0918ac"/>
<path d="M528.1 300.1l4.1-3.5-2.2-4.2-4.1 3.5z" color="#0b9ac6"/>
<path d="M458.1 308.8l4.7-5.6-.5-1.6-4.7 5.8z" color="#094db0"/>
<path d="M448.1 311.7l4.2-4.7-.5-1.3-4.2 4.9z" color="#092ead"/>
<path d="M643.6 287.8l4.1 2.4-.9-5-4.2-1.7z" color="#10c2b7"/>
<path d="M432.5 316.3l4.2-2.6-.7-1.3-4.2 2.7z" color="#5150d7"/>
<path d="M474.9 306.5l4.2-4.5-1-3.4-4.1 4.8z" color="#0967b8"/>
<path d="M437.9 315.9l4.1-3.8-.7-1.4-4.1 3.9z" color="#1a1ab9"/>
<path d="M494 306.1l1.9-1.7-2.2-7.4-1.9 1.9z" color="#0975c1"/>
<path d="M427.4 316.8l4.2-2.1-.8-1.2-4.1 2.1z" color="#6765d1"/>
<path d="M486.6 306.4l3.7-3.1-1.9-6.4-3.7 3.5z" color="#0976c4"/>
<path d="M638.5 282.1l4.1 1.4-.7-4.1-4.2-.6z" color="#2cca9f"/>
<path d="M670.1 301.7l4.2-.2-.7-1.1-4.2 .4z" color="#097fcb"/>
<path d="M506.6 303.4l4.2-4.1-.8-2.3-4.1 4.1z" color="#0980c0"/>
<path d="M469.8 308l4.2-4.6-1-3.4-4.2 4.8z" color="#095eb6"/>
<path d="M665.3 300.8l4.1 0-1.4-3.8-4.2-.7z" color="#099bd9"/>
<path d="M542.2 295l5.4-4.3-.8-1.2-5.3 4.5z" color="#14b3c0"/>
<path d="M464.5 308.7l4.1-4.7-.7-2.5-4.2 4.9z" color="#0955b5"/>
<path d="M454 311.5l3.6-4.1-.9-2.9-3.7 4.5z" color="#093bb1"/>
<path d="M549.3 293.2l4.1-2.5-1.4-2.4-4.2 2.7z" color="#20dde4"/>
<path d="M458.6 310.2l4.6-5.4-.4-1.6-4.7 5.6z" color="#0949b3"/>
<path d="M448.6 312.8l4.2-4.5-.5-1.3-4.2 4.7z" color="#092ab1"/>
<path d="M443.5 315l4.1-4.4-.7-1.7-4.1 4.7z" color="#0916ae"/>
<path d="M481 307.9l2.8-2.7-1.7-5.4-2.8 3z" color="#0969be"/>
<path d="M496.9 307.5l5.5-5.7-1-3.3-5.5 5.9z" color="#096fbd"/>
<path d="M433.3 317.6l4.1-2.6-.7-1.3-4.2 2.6z" color="#4947db"/>
<path d="M438.6 317.2l4.2-3.6-.8-1.5-4.1 3.8z" color="#2928ca"/>
<path d="M670.6 302.9l4.2-.3-.5-1.1-4.2 .2z" color="#098bdf"/>
<path d="M459.1 311.5l4.6-5.1-.5-1.6-4.6 5.4z" color="#0944b6"/>
<path d="M449.1 314l4.1-4.4-.4-1.3-4.2 4.5z" color="#0927b4"/>
<path d="M428.1 318l4.2-2.1-.7-1.2-4.2 2.1z" color="#5554cf"/>
<path d="M634.1 279.1l3.9 .7-.5-1.9-3.9-.2z" color="#40db9c"/>
<path d="M639.2 284.9l4.1 2.1-.7-3.5-4.1-1.4z" color="#20caab"/>
<path d="M507.3 305.6l4.2-4.2-.7-2.1-4.2 4.1z" color="#0978c0"/>
<path d="M492 308.7l2.2-1.8-2.2-7.2-2.2 2z" color="#096ec7"/>
<path d="M543 295.9l5.3-4.1-.7-1.1-5.4 4.3z" color="#15b4c1"/>
<path d="M465.2 310.8l4.1-4.4-.7-2.4-4.1 4.7z" color="#094db9"/>
<path d="M475.9 309.5l4.2-4.4-1-3.1-4.2 4.5z" color="#095dbb"/>
<path d="M504.1 307.2l2.8-3-1.5-4.7-2.8 3.1z" color="#096fbb"/>
<path d="M523.9 303.6l4.2-3.5-2-3.7-4.1 3.5z" color="#0a8cc3"/>
<path d="M660.9 299.8l4.1 .4-1.4-4.5-4.2-1.4z" color="#09a7d0"/>
<path d="M454.7 313.4l3.6-3.9-.7-2.1-3.6 4.1z" color="#0934b7"/>
<path d="M513.2 306l4.1-3.7-1.4-3.7-4.2 3.5z" color="#0980c8"/>
<path d="M655.3 292.3l4.1 2-.7-.8-4.2-2.5z" color="#09989e"/>
<path d="M470.8 310.9l4.1-4.4-.9-3.1-4.2 4.6z" color="#0953ba"/>
<path d="M671.1 304.7l4.2-.4-.5-1.7-4.2 .3z" color="#097fd4"/>
<path d="M459.6 312.9l4.6-5-.5-1.5-4.6 5.1z" color="#093fb9"/>
<path d="M449.6 315.1l4.1-4.2-.5-1.3-4.1 4.4z" color="#0923b8"/>
<path d="M519 306l4.2-3.6-2.2-4.8-4.1 3.5z" color="#0985c7"/>
<path d="M557.8 297.8l2-.9-6.3-10.3-2 .9z" color="#0fdbe1"/>
<path d="M434 318.8l4.1-2.5-.7-1.3-4.1 2.6z" color="#4645dd"/>
<path d="M439.3 318.5l4.2-3.5-.7-1.4-4.2 3.6z" color="#4140d7"/>
<path d="M428.9 319.2l4.1-2-.7-1.3-4.2 2.1z" color="#4645ce"/>
<path d="M635.1 282.3l3.8 1.8-.9-4.3-3.9-.7z" color="#36cf9b"/>
<path d="M508.1 307.6l4.1-4.1-.7-2.1-4.2 4.2z" color="#0972c0"/>
<path d="M497.8 310.5l5.5-5.6-.9-3.1-5.5 5.7z" color="#0964c0"/>
<path d="M543.7 296.8l5.3-3.9-.7-1.1-5.3 4.1z" color="#16b6c2"/>
<path d="M465.9 312.9l4.2-4.2-.8-2.3-4.1 4.4z" color="#0946bc"/>
<path d="M655.8 294.3l4.1 1.7-.5-1.7-4.1-2z" color="#09b9c6"/>
<path d="M485.7 310.9l1.9-1.6-2.2-6.6-1.9 1.7z" color="#0964c7"/>
<path d="M529.7 302.5l4.2-3.4-1.7-2.5-4.1 3.5z" color="#0a86ad"/>
<path d="M671.6 307.2l4.1-.5-.4-2.4-4.2 .4z" color="#096cc4"/>
<path d="M460 314.2l4.7-4.8-.5-1.5-4.6 5z" color="#093abc"/>
<path d="M450.1 316.2l4.1-4.1-.5-1.2-4.1 4.2z" color="#091fbc"/>
<path d="M455.4 315.2l3.7-3.7-.8-2-3.6 3.9z" color="#092dbc"/>
<path d="M488.3 311.5l3.7-2.8-1.7-5.4-3.7 3.1z" color="#0964cb"/>
<path d="M476.9 312.2l4.1-4.3-.9-2.8-4.2 4.4z" color="#0954be"/>
<path d="M535.8 301.3l3.6-2.7-2.9-3.8-3.6 3z" color="#0989a3"/>
<path d="M661.4 300.7l4.1 .4-.5-.9-4.1-.4z" color="#0994c3"/>
<path d="M471.7 313.6l4.2-4.1-1-3-4.1 4.4z" color="#0949be"/>
<path d="M434.7 320l4.2-2.4-.8-1.3-4.1 2.5z" color="#4d4ce2"/>
<path d="M440.1 319.8l4.1-3.3-.7-1.5-4.2 3.5z" color="#5d5bd8"/>
<path d="M672.1 310.2l4.1-.9-.5-2.6-4.1 .5z" color="#095abc"/>
<path d="M460.5 315.4l4.7-4.6-.5-1.4-4.7 4.8z" color="#0935bf"/>
<path d="M450.5 317.2l4.2-3.8-.5-1.3-4.1 4.1z" color="#091bbf"/>
<path d="M496.1 312.8l2-1.6-2.2-6.8-1.9 1.7z" color="#095dc9"/>
<path d="M429.6 320.4l4.1-2-.7-1.2-4.1 2z" color="#3837c8"/>
<path d="M446.6 321.2l4.2-3.4-3.2-7.2-4.1 4.4z" color="#0c12b9"/>
<path d="M508.8 309.6l4.1-4.2-.7-1.9-4.1 4.1z" color="#096bbf"/>
<path d="M482.7 312.8l2.8-2.6-1.7-5-2.8 2.7z" color="#0959c4"/>
<path d="M651.1 289.6l4.2 2.7-.5-1.1-4.2-3z" color="#12bbad"/>
<path d="M544.4 297.7l5.3-3.7-.7-1.1-5.3 3.9z" color="#15b7c2"/>
<path d="M466.6 314.9l4.2-4-.7-2.2-4.2 4.2z" color="#093ec0"/>
<path d="M456.1 316.9l3.7-3.4-.7-2-3.7 3.7z" color="#0926c1"/>
<path d="M514.6 309.2l4.2-3.7-1.5-3.2-4.1 3.7z" color="#0975c2"/>
<path d="M657 299l4.1 1.4-1.2-4.4-4.1-1.7z" color="#09aec7"/>
<path d="M505.7 311.9l2.8-3-1.6-4.7-2.8 3z" color="#0960bc"/>
<path d="M498.8 313.3l5.5-5.4-1-3-5.5 5.6z" color="#095ac3"/>
<path d="M662.1 301.5l4.1 .6-.7-1-4.1-.4z" color="#098bb5"/>
<path d="M672.6 313l4.1-1-.5-2.7-4.1 .9z" color="#0949bd"/>
<path d="M461 316.7l4.7-4.5-.5-1.4-4.7 4.6z" color="#0930c2"/>
<path d="M552.9 298.6l4.1-2-3.6-5.9-4.1 2.5z" color="#12d3d9"/>
<path d="M525.6 306l4.1-3.5-1.6-2.4-4.2 3.5z" color="#097aaa"/>
<path d="M435.4 321.2l4.2-2.3-.7-1.3-4.2 2.4z" color="#5e5ce0"/>
<path d="M477.8 314.8l4.2-4.1-1-2.8-4.1 4.3z" color="#094bc1"/>
<path d="M440.8 321l4.1-3.1-.7-1.4-4.1 3.3z" color="#7372d9"/>
<path d="M430.3 321.6l4.2-2-.8-1.2-4.1 2z" color="#2b2abb"/>
<path d="M494.2 315l2.2-1.5-2.2-6.6-2.2 1.8z" color="#0956d1"/>
<path d="M472.7 316.1l4.2-3.9-1-2.7-4.2 4.1z" color="#0940c2"/>
<path d="M545.1 298.6l5.4-3.5-.8-1.1-5.3 3.7z" color="#13b6c0"/>
<path d="M467.4 316.8l4.1-3.9-.7-2-4.2 4z" color="#0936c4"/>
<path d="M673 315.2l4.2-1.2-.5-2-4.1 1z" color="#093dcc"/>
<path d="M509.8 311.8l4.1-4.1-1-2.3-4.1 4.2z" color="#0964bd"/>
<path d="M461.5 317.8l4.6-4.2-.4-1.4-4.7 4.5z" color="#092ac5"/>
<path d="M520.7 308.7l4.2-3.6-1.7-2.7-4.2 3.6z" color="#0a75b2"/>
<path d="M662.6 303.2l4.1 .5-.5-1.6-4.1-.6z" color="#099ed2"/>
<path d="M456.9 318.7l3.6-3.3-.7-1.9-3.7 3.4z" color="#091ec6"/>
<path d="M652.6 296.3l4.1 2.1-1.4-6.1-4.2-2.7z" color="#0cc1bf"/>
<path d="M647 287.1l4.1 2.5-.5-1.4-4.1-2.6z" color="#25c3a0"/>
<path d="M657.7 299.7l4.1 1.3-.7-.6-4.1-1.4z" color="#098fa7"/>
<path d="M436.2 322.4l4.1-2.2-.7-1.3-4.2 2.3z" color="#7271d9"/>
<path d="M544.5 303.3l3.5-1.6-7.9-9.9-3.6 3z" color="#0994a3"/>
<path d="M662.8 304.4l4.2 .4-.3-1.1-4.1-.5z" color="#098fc5"/>
<path d="M441.5 322.3l4.2-2.9-.8-1.5-4.1 3.1z" color="#7b7ada"/>
<path d="M500 316.5l5.5-5.2-1.2-3.4-5.5 5.4z" color="#094fc6"/>
<path d="M462 319l4.6-4.1-.5-1.3-4.6 4.2z" color="#0925c8"/>
<path d="M431 322.8l4.2-2-.7-1.2-4.2 2z" color="#2120b0"/>
<path d="M490.3 316.8l3.6-2.4-1.9-5.7-3.7 2.8z" color="#0950d4"/>
<path d="M478.6 316.7l4.1-3.9-.7-2.1-4.2 4.1z" color="#0942c4"/>
<path d="M545.9 299.4l5.3-3.3-.7-1-5.4 3.5z" color="#0fb4bd"/>
<path d="M468.1 318.5l4.1-3.6-.7-2-4.1 3.9z" color="#092fc7"/>
<path d="M663 305.9l4.2 .2-.2-1.3-4.2-.4z" color="#0984bd"/>
<path d="M487.9 316.9l1.9-1.4-2.2-6.2-1.9 1.6z" color="#094ed1"/>
<path d="M674 318.2l4.2-1.5-1-2.7-4.2 1.2z" color="#0933e2"/>
<path d="M484.2 316.7l2.7-2.4-1.4-4.1-2.8 2.6z" color="#0949ca"/>
<path d="M647.4 289.5l4.2 2.3-.5-2.2-4.1-2.5z" color="#20c7a8"/>
<path d="M516.1 311.7l4.1-3.7-1.4-2.5-4.2 3.7z" color="#0969b2"/>
<path d="M473.7 318.6l4.1-3.8-.9-2.6-4.2 3.9z" color="#0936c5"/>
<path d="M453.7 323.9l4.1-3.1-3.1-7.4-4.2 3.8z" color="#0c12c9"/>
<path d="M447.1 322.2l4.2-3.4-.5-1-4.2 3.4z" color="#1e1dd0"/>
<path d="M658.2 301.2l4.1 1-.5-1.2-4.1-1.3z" color="#09aac8"/>
<path d="M510.7 313.8l4.2-4.1-1-2-4.1 4.1z" color="#095db6"/>
<path d="M462.5 320.1l4.6-4-.5-1.2-4.6 4.1z" color="#0920ca"/>
<path d="M436.9 323.7l4.1-2.2-.7-1.3-4.1 2.2z" color="#807fd4"/>
<path d="M442.2 323.6l4.2-2.8-.7-1.4-4.2 2.9z" color="#7473dd"/>
<path d="M653.3 297.6l4.1 1.8-.7-1-4.1-2.1z" color="#09a5ac"/>
<path d="M647.9 292.1l4.2 2.2-.5-2.5-4.2-2.3z" color="#18c5ae"/>
<path d="M431.8 323.9l4.1-1.9-.7-1.2-4.2 2z" color="#1918a7"/>
<path d="M658.4 302.4l4.2 .8-.3-1-4.1-1z" color="#09a5c7"/>
<path d="M479.3 318.6l4.1-3.8-.7-2-4.1 3.9z" color="#093bc6"/>
<path d="M546.6 300.2l5.3-3-.7-1.1-5.3 3.3z" color="#0cb3ba"/>
<path d="M447.6 323.1l4.2-3.2-.5-1.1-4.2 3.4z" color="#2f2ede"/>
<path d="M642.8 285.1l4.2 2-.5-1.5-4.2-2.2z" color="#39c991"/>
<path d="M508.2 317.2l2.8-2.9-2.5-5.4-2.8 3z" color="#094fb6"/>
<path d="M462.9 321.2l4.7-3.8-.5-1.3-4.6 4z" color="#091bcc"/>
<path d="M469 320.8l4.2-3.5-1-2.4-4.1 3.6z" color="#0926ca"/>
<path d="M658.7 304l4.1 .4-.2-1.2-4.2-.8z" color="#0998bd"/>
<path d="M474.4 320.4l4.2-3.7-.8-1.9-4.1 3.8z" color="#092dc9"/>
<path d="M499.3 320.7l1.9-1.4-3.1-8.1-2 1.6z" color="#0942d4"/>
<path d="M658.9 305.8l4.1 .1-.2-1.5-4.1-.4z" color="#098cb6"/>
<path d="M653.8 299l4.1 1.3-.5-.9-4.1-1.8z" color="#09afb7"/>
<path d="M437.6 324.9l4.2-2.2-.8-1.2-4.1 2.2z" color="#7e7dd0"/>
<path d="M648.7 295l4.1 2-.7-2.7-4.2-2.2z" color="#11c7b9"/>
<path d="M522.6 311l4.2-3.6-1.9-2.3-4.2 3.6z" color="#096798"/>
<path d="M459.8 324.9l3.6-2.6-2.9-6.9-3.6 3.3z" color="#0b12ce"/>
<path d="M448.1 324l4.1-3.1-.4-1-4.2 3.2z" color="#4544e2"/>
<path d="M443 324.8l4.1-2.6-.7-1.4-4.2 2.8z" color="#6a68e9"/>
<path d="M675.5 322.1l4.1-1.5-1.4-3.9-4.2 1.5z" color="#091ee8"/>
<path d="M501.7 320.3l5.5-5-1.7-4-5.5 5.2z" color="#0944c6"/>
<path d="M643.5 288.7l4.2 2.1-.7-3.7-4.2-2z" color="#31c797"/>
<path d="M480 320.5l4.2-3.8-.8-1.9-4.1 3.8z" color="#0933c9"/>
<path d="M547.3 301l5.3-2.8-.7-1-5.3 3z" color="#0ab3b9"/>
<path d="M659.4 310.1l4.1-.6-.5-3.6-4.1-.1z" color="#097bb1"/>
<path d="M512.2 316.2l4.1-4.2-1.4-2.3-4.2 4.1z" color="#0954a7"/>
<path d="M485.6 320.4l2.8-2.2-1.5-3.9-2.7 2.4z" color="#093bcf"/>
<path d="M654 300.2l4.2 1-.3-.9-4.1-1.3z" color="#09b9c5"/>
<path d="M517.5 313.6l4.2-3.7-1.5-1.9-4.1 3.7z" color="#095e9d"/>
<path d="M469.8 322.5l4.1-3.3-.7-1.9-4.2 3.5z" color="#091ece"/>
<path d="M448.6 324.9l4.1-3-.5-1-4.1 3.1z" color="#5c5be2"/>
<path d="M654.3 301.8l4.1 .6-.2-1.2-4.2-1z" color="#09acbc"/>
<path d="M475.1 322.2l4.2-3.6-.7-1.9-4.2 3.7z" color="#0926cb"/>
<path d="M497.3 322.5l2.2-1.3-3.1-7.7-2.2 1.5z" color="#0a3dde"/>
<path d="M438.3 326.1l4.2-2.1-.7-1.3-4.2 2.2z" color="#6c6ace"/>
<path d="M649.4 296.3l4.1 1.8-.7-1.1-4.1-2z" color="#0fbbb0"/>
<path d="M639.2 284.1l3.9 2.1-.8-2.8-3.8-2z" color="#48c982"/>
<path d="M644 291l4.2 2.3-.5-2.5-4.2-2.1z" color="#27c7a0"/>
<path d="M659.9 314.5l4.1-1.1-.5-3.9-4.1 .6z" color="#0964af"/>
<path d="M443.7 326.1l4.1-2.6-.7-1.3-4.1 2.6z" color="#6a69f9"/>
<path d="M454.2 324.8l4.1-2.9-.5-1.1-4.1 3.1z" color="#1e1ddb"/>
<path d="M480.7 322.3l4.2-3.7-.7-1.9-4.2 3.8z" color="#092ccb"/>
<path d="M654.7 306l4.2-.2-.5-3.4-4.1-.6z" color="#0999b2"/>
<path d="M548 301.7l5.4-2.5-.8-1-5.3 2.8z" color="#09b4b9"/>
<path d="M449 325.7l4.2-2.8-.5-1-4.1 3z" color="#6f6ee4"/>
<path d="M649.6 297.5l4.2 1.5-.3-.9-4.1-1.8z" color="#0ec8bf"/>
<path d="M493.4 324.1l3.7-2.1-3.2-7.6-3.6 2.4z" color="#0a39e1"/>
<path d="M644.5 292.7l4.2 2.3-.5-1.7-4.2-2.3z" color="#22caa9"/>
<path d="M676.4 323.2l4.2-1.4-1-1.2-4.1 1.5z" color="#0912ba"/>
<path d="M475.8 323.9l4.2-3.4-.7-1.9-4.2 3.6z" color="#091ece"/>
<path d="M502.4 321.7l5.5-5-.7-1.4-5.5 5z" color="#1345cb"/>
<path d="M454.6 325.8l4.2-2.9-.5-1-4.1 2.9z" color="#2e2de5"/>
<path d="M655.2 311l4.2-.9-.5-4.3-4.2 .2z" color="#0980ac"/>
<path d="M439 327.3l4.2-2.1-.7-1.2-4.2 2.1z" color="#5250cc"/>
<path d="M639.9 287.7l3.9 2.2-.7-3.7-3.9-2.1z" color="#3ec689"/>
<path d="M444.4 327.3l4.2-2.4-.8-1.4-4.1 2.6z" color="#7776ee"/>
<path d="M650.1 301.1l4.2 .7-.5-2.8-4.2-1.5z" color="#0bb8b6"/>
<path d="M449.8 327l4.1-2.7-.7-1.4-4.2 2.8z" color="#7c7beb"/>
<path d="M481.5 324l4.1-3.6-.7-1.8-4.2 3.7z" color="#0925cd"/>
<path d="M491.3 324.8l1.9-1.2-3.4-8.1-1.9 1.4z" color="#0a35dd"/>
<path d="M466.6 329l4.6-3.2-3.6-8.4-4.7 3.8z" color="#0b11d0"/>
<path d="M499.8 321.7l1.9-1.4-.5-1-1.9 1.4z" color="#113bde"/>
<path d="M460.3 325.9l3.6-2.5-.5-1.1-3.6 2.6z" color="#1715d9"/>
<path d="M645 293.5l4.1 2.2-.4-.7-4.2-2.3z" color="#1ebea1"/>
<path d="M435.6 338.8l4.1-1.8-14.2-23.5-4.2 2z" color="#0c0b98"/>
<path d="M510.1 320.2l2.8-3-1.9-2.9-2.8 2.9z" color="#09429f"/>
<path d="M634.5 280l4.5 3-.5-1.6-4.5-3z" color="#59c36b"/>
<path d="M455.1 326.7l4.2-2.7-.5-1.1-4.2 2.9z" color="#4241e7"/>
<path d="M655.7 315.8l4.2-1.3-.5-4.4-4.2 .9z" color="#0968ac"/>
<path d="M650.3 303.5l4.2 .3-.2-2-4.2-.7z" color="#09a5ae"/>
<path d="M514.1 318.7l4.2-4.3-2-2.4-4.1 4.2z" color="#094c90"/>
<path d="M503.1 322.9l5.5-4.9-.7-1.3-5.5 5z" color="#1d4bcc"/>
<path d="M640.4 289.7l3.9 2.3-.5-2.1-3.9-2.2z" color="#37c892"/>
<path d="M519.5 315.5l4.1-3.7-1.9-1.9-4.2 3.7z" color="#095687"/>
<path d="M439.8 328.4l4.1-1.9-.7-1.3-4.2 2.1z" color="#3938c6"/>
<path d="M650.6 306.2l4.1-.2-.2-2.2-4.2-.3z" color="#0999ab"/>
<path d="M460.7 326.9l3.7-2.5-.5-1-3.6 2.5z" color="#1a19da"/>
<path d="M645.5 295.9l4.1 1.6-.5-1.8-4.1-2.2z" color="#1dc4a9"/>
<path d="M445.1 328.5l4.2-2.3-.7-1.3-4.2 2.4z" color="#8180e0"/>
<path d="M635 282.1l4.4 3.2-.4-2.3-4.5-3z" color="#55c470"/>
<path d="M455.6 327.6l4.2-2.7-.5-.9-4.2 2.7z" color="#5755ea"/>
<path d="M500.5 323l1.9-1.3-.7-1.4-1.9 1.4z" color="#446bef"/>
<path d="M450.5 328.3l4.1-2.5-.7-1.5-4.1 2.7z" color="#8281fa"/>
<path d="M482.2 325.6l4.1-3.5-.7-1.7-4.1 3.6z" color="#091ecf"/>
<path d="M488.3 326.3l2.7-2-2.6-6.1-2.8 2.2z" color="#0a2ad6"/>
<path d="M650.8 309l4.2-.5-.3-2.5-4.1 .2z" color="#098ca9"/>
<path d="M472.9 329.5l4.2-2.9-3.2-7.4-4.1 3.3z" color="#0a10d1"/>
<path d="M677.9 322.6l4.1-1.2-1.4 .4-4.2 1.4z" color="#09165c"/>
<path d="M656.4 320.8l4.2-1.6-.7-4.7-4.2 1.3z" color="#0951b8"/>
<path d="M640.9 290.9l3.8 2.3-.4-1.2-3.9-2.3z" color="#31c191"/>
<path d="M498 323.9l2.2-1.3-.7-1.4-2.2 1.3z" color="#4367f9"/>
<path d="M651.1 311.8l4.1-.8-.2-2.5-4.2 .5z" color="#097fa8"/>
<path d="M461.2 327.8l3.7-2.4-.5-1-3.7 2.5z" color="#1e1ddb"/>
<path d="M630.1 274.4l4.2 4.7-.5-1.3-4.2-4.9z" color="#66b04c"/>
<path d="M645.9 300.3l4.2 .8-.5-3.6-4.1-1.6z" color="#12b8a8"/>
<path d="M635.5 284.4l4.4 3.3-.5-2.4-4.4-3.2z" color="#4fc376"/>
<path d="M503.9 324.1l5.5-5-.8-1.1-5.5 4.9z" color="#123eb9"/>
<path d="M440.5 329.6l4.2-1.9-.8-1.2-4.1 1.9z" color="#2726b4"/>
<path d="M456.3 328.9l4.2-2.5-.7-1.5-4.2 2.7z" color="#615ff0"/>
<path d="M445.9 329.7l4.1-2.2-.7-1.3-4.2 2.3z" color="#7978d7"/>
<path d="M651.6 317l4.1-1.2-.5-4.8-4.1 .8z" color="#096ca9"/>
<path d="M501.2 324.3l1.9-1.4-.7-1.2-1.9 1.3z" color="#769af6"/>
<path d="M630.3 275.4l4.2 4.6-.2-.9-4.2-4.7z" color="#69ba52"/>
<path d="M451.2 329.6l4.2-2.5-.8-1.3-4.1 2.5z" color="#8583ff"/>
<path d="M641.4 292.4l3.8 2-.5-1.2-3.8-2.3z" color="#30c092"/>
<path d="M635.7 285.4l4.5 3.3-.3-1-4.4-3.3z" color="#4ac47b"/>
<path d="M478.7 330.2l4.2-3-2.9-6.7-4.2 3.4z" color="#0c12d1"/>
<path d="M673.5 324.1l4.1-1.3-1.9-.3-4.2 1.6z" color="#091679"/>
<path d="M461.7 328.8l3.6-2.3-.4-1.1-3.7 2.4z" color="#2221dc"/>
<path d="M494.1 325.5l3.7-2-.7-1.5-3.7 2.1z" color="#3555f9"/>
<path d="M646.4 306.2l4.2 0-.5-5.1-4.2-.8z" color="#0aa5a8"/>
<path d="M657.2 323.2l4.1-1.5-.7-2.5-4.2 1.6z" color="#0947d8"/>
<path d="M630.6 276.4l4.1 4.6-.2-1-4.2-4.6z" color="#68bc55"/>
<path d="M636 286.4l4.4 3.3-.2-1-4.5-3.3z" color="#48c47e"/>
<path d="M498.7 325.2l2.3-1.3-.8-1.3-2.2 1.3z" color="#aeceff"/>
<path d="M504.6 325.2l5.5-5-.7-1.1-5.5 5z" color="#0c36ab"/>
<path d="M630.8 277.6l4.2 4.5-.3-1.1-4.1-4.6z" color="#66bd58"/>
<path d="M641.9 296.6l3.8 1.3-.5-3.5-3.8-2z" color="#27bb95"/>
<path d="M646.7 309.4l4.1-.4-.2-2.8-4.2 0z" color="#0992a7"/>
<path d="M483.9 329.2l4.1-3.4-1.7-3.7-4.1 3.5z" color="#0b17d2"/>
<path d="M491.7 325.8l1.9-1.2-.4-1-1.9 1.2z" color="#2743f6"/>
<path d="M625.7 266.4l4.2 7.2-.5-1.2-4.2-7.5z" color="#77a32d"/>
<path d="M441.2 330.8l4.2-1.9-.7-1.2-4.2 1.9z" color="#1b1aa8"/>
<path d="M457.1 330.3l4.1-2.5-.7-1.4-4.2 2.5z" color="#5856f3"/>
<path d="M652.3 322.3l4.1-1.5-.7-5-4.1 1.2z" color="#0954b6"/>
<path d="M462.2 329.7l3.6-2.2-.5-1-3.6 2.3z" color="#2725dd"/>
<path d="M446.6 330.9l4.1-2.2-.7-1.2-4.1 2.2z" color="#6260d2"/>
<path d="M467 329.9l4.7-3-.5-1.1-4.6 3.2z" color="#1615d3"/>
<path d="M501.9 325.5l2-1.4-.8-1.2-1.9 1.4z" color="#3f61e7"/>
<path d="M631.1 278.8l4.1 4.5-.2-1.2-4.2-4.5z" color="#63bd5b"/>
<path d="M451.9 330.8l4.2-2.3-.7-1.4-4.2 2.5z" color="#7e7df9"/>
<path d="M646.9 312.5l4.2-.7-.3-2.8-4.1 .4z" color="#0984a6"/>
<path d="M512.3 322.7l2.8-3.1-2.2-2.4-2.8 3z" color="#093d87"/>
<path d="M494.8 326.9l3.7-2.1-.7-1.3-3.7 2z" color="#98b5ff"/>
<path d="M626 267.4l4.1 7-.2-.8-4.2-7.2z" color="#7dae33"/>
<path d="M636.9 289.8l4.5 2.6-1-2.7-4.4-3.3z" color="#43c17f"/>
<path d="M488.7 327.3l2.8-2-.5-1-2.7 2z" color="#192de5"/>
<path d="M631.3 280l4.2 4.4-.3-1.1-4.1-4.5z" color="#61bd5e"/>
<path d="M642.3 302.7l3.9 .4-.5-5.2-3.8-1.3z" color="#15af9d"/>
<path d="M647.2 315.5l4.1-1-.2-2.7-4.2 .7z" color="#0976a7"/>
<path d="M679.6 322.9l4.1-1.1-1.7-.4-4.1 1.2z" color="#09337f"/>
<path d="M499.5 326.4l2.2-1.3-.7-1.2-2.3 1.3z" color="#7a99ff"/>
<path d="M462.7 330.7l3.6-2.2-.5-1-3.6 2.2z" color="#2b2ade"/>
<path d="M492.5 327.1l1.9-1.1-.8-1.4-1.9 1.2z" color="#768eff"/>
<path d="M626.2 268.6l4.1 6.8-.2-1-4.1-7z" color="#7eb236"/>
<path d="M505.3 326.2l5.5-5.1-.7-.9-5.5 5z" color="#0934a2"/>
<path d="M467.5 330.9l4.7-3-.5-1-4.7 3z" color="#1e1dd7"/>
<path d="M473.4 330.4l4.1-2.7-.4-1.1-4.2 2.9z" color="#1513d4"/>
<path d="M631.6 281.1l4.1 4.3-.2-1-4.2-4.4z" color="#5ebe61"/>
<path d="M516.8 320.9l4.1-4.5-2.6-2-4.2 4.3z" color="#094676"/>
<path d="M457.8 331.6l4.1-2.3-.7-1.5-4.1 2.5z" color="#4b4af3"/>
<path d="M653 324.6l4.2-1.4-.8-2.4-4.1 1.5z" color="#094cda"/>
<path d="M647.6 320.5l4.2-1.3-.5-4.7-4.1 1z" color="#0964aa"/>
<path d="M626.4 269.8l4.2 6.6-.3-1-4.1-6.8z" color="#7db539"/>
<path d="M447.3 332.1l4.2-2.1-.8-1.3-4.1 2.2z" color="#4745cf"/>
<path d="M621.3 257.3l4.2 8.3-.5-1.3-4.2-8.6z" color="#909f11"/>
<path d="M502.7 326.6l1.9-1.4-.7-1.1-2 1.4z" color="#1b3dcf"/>
<path d="M452.7 332.1l4.1-2.3-.7-1.3-4.2 2.3z" color="#6564ea"/>
<path d="M642.8 309.7l3.9-.3-.5-6.3-3.9-.4z" color="#0a9ea4"/>
<path d="M637.2 292.1l4.4 2.1-.2-1.8-4.5-2.6z" color="#3ab980"/>
<path d="M489.5 328.7l2.7-2-.7-1.4-2.8 2z" color="#4657f7"/>
<path d="M632 283.3l4.2 3.9-.5-1.8-4.1-4.3z" color="#5bbf65"/>
<path d="M495.6 328.1l3.6-2.1-.7-1.2-3.7 2.1z" color="#8ea9ff"/>
<path d="M626.7 271.2l4.1 6.4-.2-1.2-4.2-6.6z" color="#7cb73c"/>
<path d="M468 331.8l4.7-2.8-.5-1.1-4.7 3z" color="#2826dc"/>
<path d="M473.9 331.4l4.1-2.7-.5-1-4.1 2.7z" color="#211fdc"/>
<path d="M463.4 332l3.6-2.1-.7-1.4-3.6 2.2z" color="#3130df"/>
<path d="M484.6 330.6l4.1-3.3-.7-1.5-4.1 3.4z" color="#1c22de"/>
<path d="M637.4 295.1l4.5 1.5-.3-2.4-4.4-2.1z" color="#31b283"/>
<path d="M500.2 327.5l2.2-1.3-.7-1.1-2.2 1.3z" color="#3654f1"/>
<path d="M479.2 331.1l4.2-2.9-.5-1-4.2 3z" color="#2221e1"/>
<path d="M643.1 313.2l3.8-.7-.2-3.1-3.9 .3z" color="#0989a5"/>
<path d="M648.1 323.7l4.2-1.4-.5-3.1-4.2 1.3z" color="#0953b9"/>
<path d="M493.2 328.4l1.9-1.1-.7-1.3-1.9 1.1z" color="#c0d6ff"/>
<path d="M626.9 272.6l4.2 6.2-.3-1.2-4.1-6.4z" color="#7ab83f"/>
<path d="M506 327.2l5.5-5.3-.7-.8-5.5 5.1z" color="#09339a"/>
<path d="M637.6 298.5l4.5 1-.2-2.9-4.5-1.5z" color="#26ae8a"/>
<path d="M621.8 259.7l4.2 7.7-.3-1-4.1-8z" color="#99af17"/>
<path d="M675.4 324.2l4.2-1.3-2-.1-4.1 1.3z" color="#093479"/>
<path d="M458.5 332.9l4.2-2.2-.8-1.4-4.1 2.3z" color="#403fe6"/>
<path d="M643.3 316.4l3.9-.9-.3-3-3.8 .7z" color="#097ba5"/>
<path d="M627.2 274.1l4.1 5.9-.2-1.2-4.2-6.2z" color="#77b943"/>
<path d="M448 333.3l4.2-2.1-.7-1.2-4.2 2.1z" color="#3130c3"/>
<path d="M468.5 332.8l4.6-2.8-.4-1-4.7 2.8z" color="#3231e3"/>
<path d="M474.4 332.3l4.1-2.6-.5-1-4.1 2.7z" color="#3432e7"/>
<path d="M503.4 327.6l1.9-1.4-.7-1-1.9 1.4z" color="#0d2fbb"/>
<path d="M632.8 287.3l4.1 2.5-.7-2.6-4.2-3.9z" color="#56be6a"/>
<path d="M453.4 333.3l4.1-2.2-.7-1.3-4.1 2.3z" color="#4948de"/>
<path d="M648.4 324.5l4.1-1.4-.2-.8-4.2 1.4z" color="#0952d4"/>
<path d="M680.3 324.1l4.1-1.1-.7-1.2-4.1 1.1z" color="#0958d5"/>
<path d="M490.2 330l2.8-2-.8-1.3-2.7 2z" color="#8997ff"/>
<path d="M622 261.2l4.2 7.4-.2-1.2-4.2-7.7z" color="#99b21a"/>
<path d="M496.3 329.2l3.6-2-.7-1.2-3.6 2.1z" color="#4963fd"/>
<path d="M627.4 275.6l4.2 5.5-.3-1.1-4.1-5.9z" color="#75ba46"/>
<path d="M480 332.5l4.1-2.8-.7-1.5-4.2 2.9z" color="#4342eb"/>
<path d="M464.1 333.4l3.7-2-.8-1.5-3.6 2.1z" color="#3836e0"/>
<path d="M643.8 321.6l3.8-1.1-.4-5-3.9 .9z" color="#0968a9"/>
<path d="M485.3 331.9l4.2-3.2-.8-1.4-4.1 3.3z" color="#3a3ff5"/>
<path d="M638.4 310.2l4.4-.5-.7-10.2-4.5-1z" color="#11a59c"/>
<path d="M500.9 328.6l2.2-1.3-.7-1.1-2.2 1.3z" color="#1836d2"/>
<path d="M622.3 262.8l4.1 7-.2-1.2-4.2-7.4z" color="#98b41d"/>
<path d="M654.7 329.1l4.1-1.2-1.6-4.7-4.2 1.4z" color="#093be6"/>
<path d="M648.8 325.9l4.2-1.3-.5-1.5-4.1 1.4z" color="#0951e2"/>
<path d="M493.9 329.6l1.9-1.2-.7-1.1-1.9 1.1z" color="#8296ff"/>
<path d="M627.6 277.2l4.2 5.1-.2-1.2-4.2-5.5z" color="#72bb4a"/>
<path d="M617.2 249.9l4.1 7.4-.2-1-4.2-7.4z" color="#ada502"/>
<path d="M633 290.2l4.2 1.9-.3-2.3-4.1-2.5z" color="#48b36c"/>
<path d="M507 328.3l5.5-5.4-1-1-5.5 5.3z" color="#093391"/>
<path d="M622.5 264.6l4.2 6.6-.3-1.4-4.1-7z" color="#96b521"/>
<path d="M469.2 334.1l4.7-2.7-.8-1.4-4.6 2.8z" color="#403feb"/>
<path d="M459.2 334.2l4.2-2.2-.7-1.3-4.2 2.2z" color="#3534d7"/>
<path d="M475.1 333.7l4.1-2.6-.7-1.4-4.1 2.6z" color="#5453f5"/>
<path d="M627.9 278.8l4.1 4.5-.2-1-4.2-5.1z" color="#6fbc4e"/>
<path d="M448.8 334.5l4.1-2-.7-1.3-4.2 2.1z" color="#2221b3"/>
<path d="M633.2 293.8l4.2 1.3-.2-3-4.2-1.9z" color="#3dae72"/>
<path d="M454.1 334.5l4.2-2.1-.8-1.3-4.1 2.2z" color="#3231cb"/>
<path d="M644.3 324.9l3.8-1.2-.5-3.2-3.8 1.1z" color="#0957b9"/>
<path d="M638.6 314l4.5-.8-.3-3.5-4.4 .5z" color="#098fa3"/>
<path d="M490.9 331.2l2.8-2-.7-1.2-2.8 2z" color="#7380f9"/>
<path d="M622.8 266.5l4.1 6.1-.2-1.4-4.2-6.6z" color="#92b624"/>
<path d="M497 330.3l3.7-2-.8-1.1-3.6 2z" color="#2741e8"/>
<path d="M480.7 333.9l4.1-2.9-.7-1.3-4.1 2.8z" color="#7877f5"/>
<path d="M504.6 329.2l1.9-1.4-1.2-1.6-1.9 1.4z" color="#092cae"/>
<path d="M464.8 334.7l3.7-1.9-.7-1.4-3.7 2z" color="#3b3ade"/>
<path d="M633.5 297.8l4.1 .7-.2-3.4-4.2-1.3z" color="#31ab7c"/>
<path d="M486 333.2l4.2-3.2-.7-1.3-4.2 3.2z" color="#5255ff"/>
<path d="M514.9 324.8l2.8-3.4-2.6-1.8-2.8 3.1z" color="#093c6f"/>
<path d="M628.4 282.2l4.1 3.1-.5-2-4.1-4.5z" color="#6bbc53"/>
<path d="M638.8 317.4l4.5-1-.2-3.2-4.5 .8z" color="#0980a4"/>
<path d="M623 268.5l4.2 5.6-.3-1.5-4.1-6.1z" color="#8fb629"/>
<path d="M644.5 325.7l3.9-1.2-.3-.8-3.8 1.2z" color="#0957d5"/>
<path d="M494.6 330.7l1.9-1.1-.7-1.2-1.9 1.2z" color="#4c60fe"/>
<path d="M501.9 330l2.2-1.4-1-1.3-2.2 1.3z" color="#0c2bbf"/>
<path d="M676.1 325.4l4.2-1.3-.7-1.2-4.2 1.3z" color="#095ed6"/>
<path d="M633.7 302.2l4.2 .1-.3-3.8-4.1-.7z" color="#23aa88"/>
<path d="M623.2 270.5l4.2 5.1-.2-1.5-4.2-5.6z" color="#8bb72d"/>
<path d="M469.9 335.4l4.7-2.6-.7-1.4-4.7 2.7z" color="#514ff0"/>
<path d="M460 335.4l4.1-2-.7-1.4-4.2 2.2z" color="#2a29c7"/>
<path d="M475.8 335l4.2-2.5-.8-1.4-4.1 2.6z" color="#817fff"/>
<path d="M618.6 260.2l4.2 6.3-1.5-9.2-4.1-7.4z" color="#aeaf08"/>
<path d="M628.6 284.9l4.2 2.4-.3-2-4.1-3.1z" color="#60b656"/>
<path d="M449.5 335.7l4.1-2-.7-1.2-4.1 2z" color="#1817a8"/>
<path d="M682.2 323.9l4.2-.7-2-.2-4.1 1.1z" color="#093a7c"/>
<path d="M639.3 322.9l4.5-1.3-.5-5.2-4.5 1z" color="#096ca8"/>
<path d="M454.8 335.8l4.2-2.1-.7-1.3-4.2 2.1z" color="#2120b8"/>
<path d="M650.5 330.2l4.2-1.1-1.7-4.5-4.2 1.3z" color="#0943e7"/>
<path d="M491.6 332.3l2.8-1.9-.7-1.2-2.8 2z" color="#4653ee"/>
<path d="M508 329.4l5.5-5.6-1-.9-5.5 5.4z" color="#093487"/>
<path d="M623.5 272.6l4.1 4.6-.2-1.6-4.2-5.1z" color="#87b732"/>
<path d="M634.2 310.8l4.2-.6-.5-7.9-4.2-.1z" color="#10a59a"/>
<path d="M497.7 331.4l3.7-2.1-.7-1-3.7 2z" color="#1530d2"/>
<path d="M613 245.9l4.2 4-.3-1-4.1-3.8z" color="#c6a600"/>
<path d="M628.9 288.4l4.1 1.8-.2-2.9-4.2-2.4z" color="#55af5b"/>
<path d="M481.4 335.1l4.2-2.7-.8-1.4-4.1 2.9z" color="#9e9dff"/>
<path d="M655.7 330.2l4.1-1.2-1-1.1-4.1 1.2z" color="#0929b0"/>
<path d="M465.6 336l3.6-1.9-.7-1.3-3.7 1.9z" color="#3937d5"/>
<path d="M486.8 334.4l4.1-3.2-.7-1.2-4.2 3.2z" color="#4245f4"/>
<path d="M623.7 274.8l4.2 4-.3-1.6-4.1-4.6z" color="#82b837"/>
<path d="M495.4 331.8l1.9-1.1-.8-1.1-1.9 1.1z" color="#2c41eb"/>
<path d="M629.1 292.6l4.1 1.2-.2-3.6-4.1-1.8z" color="#48ab64"/>
<path d="M639.8 326.2l4.5-1.3-.5-3.3-4.5 1.3z" color="#095bb8"/>
<path d="M608.4 245.9l4.1-1.5-.9 .5-4.2 1.5z" color="#846a01"/>
<path d="M634.5 314.8l4.1-.8-.2-3.8-4.2 .6z" color="#0994a2"/>
<path d="M613.5 248l4.1 4.6-.4-2.7-4.2-4z" color="#c3a600"/>
<path d="M470.7 336.7l4.6-2.6-.7-1.3-4.7 2.6z" color="#5c5be6"/>
<path d="M460.7 336.7l4.1-2-.7-1.3-4.1 2z" color="#201fb8"/>
<path d="M476.5 336.3l4.2-2.4-.7-1.4-4.2 2.5z" color="#a6a4ff"/>
<path d="M629.3 297.2l4.2 .6-.3-4-4.1-1.2z" color="#3baa70"/>
<path d="M624.2 279.2l4.2 3-.5-3.4-4.2-4z" color="#7ab63e"/>
<path d="M618.9 262.4l4.1 6.1-.2-2-4.2-6.3z" color="#a5b411"/>
<path d="M634.7 318.4l4.1-1-.2-3.4-4.1 .8z" color="#0984a3"/>
<path d="M455.6 337l4.1-2-.7-1.3-4.2 2.1z" color="#1715ab"/>
<path d="M646.4 330.7l3.9-.9-1.9-5.3-3.9 1.2z" color="#0950e9"/>
<path d="M640.1 327l4.4-1.3-.2-.8-4.5 1.3z" color="#095dd7"/>
<path d="M492.4 333.5l2.7-2-.7-1.1-2.8 1.9z" color="#2c3ae4"/>
<path d="M506 331l2-1.6-1.5-1.6-1.9 1.4z" color="#092da0"/>
<path d="M629.6 302l4.1 .2-.2-4.4-4.2-.6z" color="#2ba97f"/>
<path d="M482.1 336.4l4.2-2.8-.7-1.2-4.2 2.7z" color="#9492ff"/>
<path d="M619.1 264.8l4.1 5.7-.2-2-4.1-6.1z" color="#a0b416"/>
<path d="M466.3 337.2l3.6-1.8-.7-1.3-3.6 1.9z" color="#2f2ec7"/>
<path d="M634.9 321.4l4.2-1-.3-3-4.1 1z" color="#0976a6"/>
<path d="M487.5 335.5l4.1-3.2-.7-1.1-4.1 3.2z" color="#2d30de"/>
<path d="M503.6 332.2l2.2-1.5-1.7-2.1-2.2 1.4z" color="#092ab1"/>
<path d="M508.9 330.4l5.5-5.9-.9-.7-5.5 5.6z" color="#09347e"/>
<path d="M624.5 282.4l4.1 2.5-.2-2.7-4.2-3z" color="#6db145"/>
<path d="M496.1 332.9l1.9-1.1-.7-1.1-1.9 1.1z" color="#192fd4"/>
<path d="M629.8 306.6l4.2-.1-.3-4.3-4.1-.2z" color="#1ba88f"/>
<path d="M608.9 246.8l4.1-.9-.5-1.5-4.1 1.5z" color="#e6b602"/>
<path d="M619.3 267.1l4.2 5.5-.3-2.1-4.1-5.7z" color="#9ab41b"/>
<path d="M651.3 331.1l4.1-1.1-.7-.9-4.2 1.1z" color="#0933be"/>
<path d="M624.7 286.4l4.2 2-.3-3.5-4.1-2.5z" color="#61ac4c"/>
<path d="M471.4 337.9l4.6-2.4-.7-1.4-4.6 2.6z" color="#5c5bdd"/>
<path d="M461.4 337.9l4.2-1.9-.8-1.3-4.1 2z" color="#1716ac"/>
<path d="M477.2 337.5l4.2-2.4-.7-1.2-4.2 2.4z" color="#aeadff"/>
<path d="M635.4 325.9l4.2-1-.5-4.5-4.2 1z" color="#0966ad"/>
<path d="M499.4 333.8l3.7-2.2-1.7-2.3-3.7 2.1z" color="#0c28c0"/>
<path d="M614.7 255.8l4.2 6.6-1.3-9.8-4.1-4.6z" color="#baaa01"/>
<path d="M619.6 269.5l4.1 5.3-.2-2.2-4.2-5.5z" color="#94b421"/>
<path d="M630.3 315.2l4.2-.4-.5-8.3-4.2 .1z" color="#0c9f9e"/>
<path d="M609.1 247.4l4.1-.5-.2-1-4.1 .9z" color="#e2b400"/>
<path d="M493.1 334.6l2.8-2-.8-1.1-2.7 2z" color="#1c2ad2"/>
<path d="M624.9 290.9l4.2 1.7-.2-4.2-4.2-2z" color="#54aa57"/>
<path d="M604 248.7l4.1-3.2-.5 .3-4.1 4.1z" color="#635000"/>
<path d="M683.7 323.2l4.1-.6-1.4 .6-4.2 .7z" color="#094a71"/>
<path d="M482.9 337.5l4.1-2.7-.7-1.2-4.2 2.8z" color="#6968f6"/>
<path d="M619.8 272l4.2 4.9-.3-2.1-4.1-5.3z" color="#8eb426"/>
<path d="M467 338.4l3.7-1.7-.8-1.3-3.6 1.8z" color="#2322b7"/>
<path d="M635.7 327.3l4.1-1.1-.2-1.3-4.2 1z" color="#095fbf"/>
<path d="M609.3 247.9l4.2 .1-.3-1.1-4.1 .5z" color="#dbb000"/>
<path d="M625.2 295.8l4.1 1.4-.2-4.6-4.2-1.7z" color="#45a965"/>
<path d="M630.5 318.8l4.2-.4-.2-3.6-4.2 .4z" color="#098aa3"/>
<path d="M620.1 274.5l4.1 4.7-.2-2.3-4.2-4.9z" color="#87b22c"/>
<path d="M635.9 328l4.2-1-.3-.8-4.1 1.1z" color="#0965da"/>
<path d="M642.2 332l4.5-.9-2.2-5.4-4.4 1.3z" color="#0958e9"/>
<path d="M609.6 248.6l4.1 .7-.2-1.3-4.2-.1z" color="#d3ab00"/>
<path d="M509.9 331.3l5.5-6.2-1-.6-5.5 5.9z" color="#093575"/>
<path d="M625.4 300.8l4.2 1.2-.3-4.8-4.1-1.4z" color="#35a874"/>
<path d="M472.1 339.1l4.7-2.4-.8-1.2-4.6 2.4z" color="#504fd6"/>
<path d="M478 338.8l4.1-2.4-.7-1.3-4.2 2.4z" color="#9291f8"/>
<path d="M647.2 331.8l3.8-.9-.7-1.1-3.9 .9z" color="#0940d5"/>
<path d="M630.8 322l4.1-.6-.2-3-4.2 .4z" color="#097ca6"/>
<path d="M604.7 248l4.2-1.2-.8-1.3-4.1 3.2z" color="#9c7b02"/>
<path d="M620.3 278l4.2 4.4-.3-3.2-4.1-4.7z" color="#7dae33"/>
<path d="M609.8 249.2l4.2 1.5-.3-1.4-4.1-.7z" color="#cca700"/>
<path d="M493.8 335.6l2.8-2-.7-1-2.8 2z" color="#1221c5"/>
<path d="M625.7 305.7l4.1 .9-.2-4.6-4.2-1.2z" color="#25a885"/>
<path d="M507.5 332.5l1.9-1.6-1.4-1.5-2 1.6z" color="#093092"/>
<path d="M636.4 329l4.1-.8-.4-1.2-4.2 1z" color="#096aeb"/>
<path d="M615.4 261.6l4.2 7.9-.7-7.1-4.2-6.6z" color="#adaf08"/>
<path d="M489.4 338.5l4.2-3.2-2-3-4.1 3.2z" color="#1a1dc7"/>
<path d="M483.6 338.7l4.1-2.8-.7-1.1-4.1 2.7z" color="#4e4dec"/>
<path d="M620.5 282.4l4.2 4-.2-4-4.2-4.4z" color="#71ab3c"/>
<path d="M467.7 339.7l3.7-1.8-.7-1.2-3.7 1.7z" color="#1a19ab"/>
<path d="M653 331.6l4.1-1.6-1.7 0-4.1 1.1z" color="#092971"/>
<path d="M631.3 326.5l4.1-.6-.5-4.5-4.1 .6z" color="#096dad"/>
<path d="M610.1 249.9l4.1 2.4-.2-1.6-4.2-1.5z" color="#c6a400"/>
<path d="M684.2 324.6l4.1-.7-.5-1.3-4.1 .6z" color="#0990de"/>
<path d="M626.1 314.6l4.2 .6-.5-8.6-4.1-.9z" color="#11a39a"/>
<path d="M620.8 287.4l4.1 3.5-.2-4.5-4.2-4z" color="#63a948"/>
<path d="M505.3 334.2l2.2-1.7-1.7-1.8-2.2 1.5z" color="#092ea1"/>
<path d="M472.8 340.4l4.7-2.4-.7-1.3-4.7 2.4z" color="#403ed1"/>
<path d="M605.2 247.6l4.1 .3-.4-1.1-4.2 1.2z" color="#a38000"/>
<path d="M478.7 339.9l4.2-2.4-.8-1.1-4.1 2.4z" color="#6a69ed"/>
<path d="M615.7 263.6l4.1 8.4-.2-2.5-4.2-7.9z" color="#a5b10e"/>
<path d="M498.7 336.6l1.9-1.2-2.6-3.6-1.9 1.1z" color="#0c25bd"/>
<path d="M631.5 327.9l4.2-.6-.3-1.4-4.1 .6z" color="#0968c0"/>
<path d="M679.5 324.1l4.2-.9-1.2 .3-4.2 1z" color="#095578"/>
<path d="M621 292.7l4.2 3.1-.3-4.9-4.1-3.5z" color="#53a956"/>
<path d="M648.1 332.6l3.9-1.1-1-.6-3.8 .9z" color="#093293"/>
<path d="M510.9 332.1l5.5-6.5-1-.5-5.5 6.2z" color="#09376e"/>
<path d="M626.4 318.4l4.1 .4-.2-3.6-4.2-.6z" color="#0994a3"/>
<path d="M615.9 265.9l4.2 8.6-.3-2.5-4.1-8.4z" color="#9fb013"/>
<path d="M631.7 328.6l4.2-.6-.2-.7-4.2 .6z" color="#096fd9"/>
<path d="M684.6 326.8l4.2-.8-.5-2.1-4.1 .7z" color="#097dca"/>
<path d="M484.3 339.9l4.2-2.8-.8-1.2-4.1 2.8z" color="#3b3ae0"/>
<path d="M621.3 298.2l4.1 2.6-.2-5-4.2-3.1z" color="#43a866"/>
<path d="M611.3 253.8l4.1 7.8-1.2-9.3-4.1-2.4z" color="#b9a000"/>
<path d="M626.6 321.6l4.2 .4-.3-3.2-4.1-.4z" color="#0986a6"/>
<path d="M605.7 247.3l4.1 1.9-.5-1.3-4.1-.3z" color="#9e7c00"/>
<path d="M616.1 269.5l4.2 8.5-.2-3.5-4.2-8.6z" color="#95ad1a"/>
<path d="M621.5 303.5l4.2 2.2-.3-4.9-4.1-2.6z" color="#32a877"/>
<path d="M501.9 336.9l3.6-2.5-2.4-2.8-3.7 2.2z" color="#092aad"/>
<path d="M643 333.1l4.4-1-.7-1-4.5 .9z" color="#0947c8"/>
<path d="M626.9 324.3l4.1 .2-.2-2.5-4.2-.4z" color="#097ba9"/>
<path d="M473.6 341.5l4.6-2.3-.7-1.2-4.7 2.4z" color="#3130c4"/>
<path d="M479.4 341.1l4.2-2.4-.7-1.2-4.2 2.4z" color="#5554e9"/>
<path d="M638.3 332.9l4.2-.5-2-4.2-4.1 .8z" color="#0960e6"/>
<path d="M616.4 274.3l4.1 8.1-.2-4.4-4.2-8.5z" color="#88ab24"/>
<path d="M685.1 329.6l4.2-1.1-.5-2.5-4.2 .8z" color="#096abe"/>
<path d="M621.8 308.6l4.1 1.7-.2-4.6-4.2-2.2z" color="#20a889"/>
<path d="M680 325.6l4.2-1-.5-1.4-4.2 .9z" color="#0999de"/>
<path d="M606.2 247.2l4.1 3.4-.5-1.4-4.1-1.9z" color="#9d7b00"/>
<path d="M616.6 280.1l4.2 7.3-.3-5-4.1-8.1z" color="#79a931"/>
<path d="M485 341l4.2-2.8-.7-1.1-4.2 2.8z" color="#2c2bd0"/>
<path d="M627.4 327.9l4.1 0-.5-3.4-4.1-.2z" color="#0973b7"/>
<path d="M509.2 334.1l1.9-1.8-1.7-1.4-1.9 1.6z" color="#093383"/>
<path d="M654.2 332.6l4.1-1.9-1.2-.7-4.1 1.6z" color="#094291"/>
<path d="M611.5 254.7l4.2 8.9-.3-2-4.1-7.8z" color="#b0a100"/>
<path d="M622.2 317.4l4.2 1-.5-8.1-4.1-1.7z" color="#0fa29d"/>
<path d="M675.4 325.7l4.1-1.6-1.2 .4-4.1 1.5z" color="#095879"/>
<path d="M649.3 333.2l3.9-1.5-1.2-.2-3.9 1.1z" color="#09337b"/>
<path d="M616.9 286.4l4.1 6.3-.2-5.3-4.2-7.3z" color="#69a840"/>
<path d="M680.2 326.7l4.2-1.1-.2-1-4.2 1z" color="#0987ca"/>
<path d="M611.8 255.9l4.1 10-.2-2.3-4.2-8.9z" color="#aea202"/>
<path d="M627.6 328.8l4.1-.2-.2-.7-4.1 0z" color="#0978d3"/>
<path d="M474.3 342.7l4.6-2.4-.7-1.1-4.6 2.3z" color="#2928bb"/>
<path d="M606.6 247.4l4.2 4.8-.5-1.6-4.1-3.4z" color="#9e7c00"/>
<path d="M480.1 342.3l4.2-2.4-.7-1.2-4.2 2.4z" color="#4746e3"/>
<path d="M617.1 292.9l4.2 5.3-.3-5.5-4.1-6.3z" color="#57a751"/>
<path d="M686.1 334.7l4.1-1.3-.9-4.9-4.2 1.1z" color="#0955c2"/>
<path d="M643.9 334l4.5-1.3-1-.6-4.4 1z" color="#093c9b"/>
<path d="M497.2 340.4l2.8-2.2-3.4-4.6-2.8 2z" color="#0a1eb3"/>
<path d="M622.5 321l4.1 .6-.2-3.2-4.2-1z" color="#0992a5"/>
<path d="M634.2 333.8l4.1-.9-2.4-4.9-4.2 .6z" color="#096ee8"/>
<path d="M612 259.1l4.1 10.4-.2-3.6-4.1-10z" color="#a9a305"/>
<path d="M617.3 299.3l4.2 4.2-.2-5.3-4.2-5.3z" color="#45a764"/>
<path d="M507.2 336.1l2.2-1.8-1.9-1.8-2.2 1.7z" color="#093290"/>
<path d="M485.7 342.1l4.2-2.8-.7-1.1-4.2 2.8z" color="#2120c4"/>
<path d="M681 330.9l4.1-1.3-.7-4-4.2 1.1z" color="#0972bd"/>
<path d="M612.2 264.2l4.2 10.1-.3-4.8-4.1-10.4z" color="#a1a40b"/>
<path d="M607.1 247.8l4.2 6-.5-1.6-4.2-4.8z" color="#a27e00"/>
<path d="M617.6 305.5l4.2 3.1-.3-5.1-4.2-4.2z" color="#32a877"/>
<path d="M623.2 328l4.2-.1-.8-6.3-4.1-.6z" color="#0981b0"/>
<path d="M675.8 327.2l4.2-1.6-.5-1.5-4.1 1.6z" color="#099ddd"/>
<path d="M639 334l4.2-.7-.7-.9-4.2 .5z" color="#0952c8"/>
<path d="M612.5 270.8l4.1 9.3-.2-5.8-4.2-10.1z" color="#95a714"/>
<path d="M475 343.9l4.7-2.4-.8-1.2-4.6 2.4z" color="#2726b9"/>
<path d="M480.9 343.4l4.1-2.4-.7-1.1-4.2 2.4z" color="#3d3bd8"/>
<path d="M598.3 251.3l5.4-4.5-3.2 5.9-5.3 4z" color="#564400"/>
<path d="M617.8 311.1l4.2 2.2-.2-4.7-4.2-3.1z" color="#1fa88a"/>
<path d="M686.6 336.3l4.1-1.3-.5-1.6-4.1 1.3z" color="#094bdd"/>
<path d="M603.9 246.8l3 .7-1.2-.2-3 .4z" color="#6e5000"/>
<path d="M607.4 248.1l4.1 6.6-.2-.9-4.2-6z" color="#aa8500"/>
<path d="M650.3 334.3l3.9-1.7-1-.9-3.9 1.5z" color="#094dab"/>
<path d="M612.7 278.3l4.2 8.1-.3-6.3-4.1-9.3z" color="#84a724"/>
<path d="M676.1 328.3l4.1-1.6-.2-1.1-4.2 1.6z" color="#0988c6"/>
<path d="M644.9 334.9l4.4-1.7-.9-.5-4.5 1.3z" color="#094197"/>
<path d="M607.6 248.8l4.2 7.1-.3-1.2-4.1-6.6z" color="#b38c00"/>
<path d="M623.4 329.1l4.2-.3-.2-.9-4.2 .1z" color="#0981cc"/>
<path d="M618.3 320.5l4.2 .5-.5-7.7-4.2-2.2z" color="#0da09e"/>
<path d="M613 286.3l4.1 6.6-.2-6.5-4.2-8.1z" color="#71a637"/>
<path d="M681.9 336.1l4.2-1.4-1-5.1-4.1 1.3z" color="#0959c0"/>
<path d="M487 343.9l4.1-2.9-1.2-1.7-4.2 2.8z" color="#1716ba"/>
<path d="M607.8 251.9l4.2 7.2-.2-3.2-4.2-7.1z" color="#b18f00"/>
<path d="M639.8 335l4.1-1-.7-.7-4.2 .7z" color="#094eb5"/>
<path d="M613.2 294.3l4.1 5-.2-6.4-4.1-6.6z" color="#5ba64c"/>
<path d="M475.7 345.1l4.7-2.4-.7-1.2-4.7 2.4z" color="#2625b8"/>
<path d="M676.8 332.6l4.2-1.7-.8-4.2-4.1 1.6z" color="#0974bb"/>
<path d="M504 339.4l3.7-2.8-2.2-2.2-3.6 2.5z" color="#09309a"/>
<path d="M608.1 257.6l4.1 6.6-.2-5.1-4.2-7.2z" color="#aa9300"/>
<path d="M613.4 302l4.2 3.5-.3-6.2-4.1-5z" color="#46a661"/>
<path d="M651 335.5l3.9-1.8-.7-1.1-3.9 1.7z" color="#0a62d5"/>
<path d="M619 328.8l4.2-.8-.7-7-4.2-.5z" color="#0989ac"/>
<path d="M502.4 341.1l1.9-1.5-3.7-4.2-1.9 1.2z" color="#092aa5"/>
<path d="M634.9 335.2l4.1-1.2-.7-1.1-4.1 .9z" color="#0965de"/>
<path d="M604.7 247.8l2.9 1-.7-1.3-3-.7z" color="#ab7900"/>
<path d="M608.3 265l4.2 5.8-.3-6.6-4.1-6.6z" color="#a59c03"/>
<path d="M645.6 335.9l4.5-1.9-.8-.8-4.4 1.7z" color="#0954bb"/>
<path d="M613.7 309.1l4.1 2-.2-5.6-4.2-3.5z" color="#30a677"/>
<path d="M508.4 337.1l2.2-1.9-1.2-.9-2.2 1.8z" color="#09327a"/>
<path d="M682.4 337.7l4.2-1.4-.5-1.6-4.2 1.4z" color="#094fdc"/>
<path d="M470.3 352.6l4.2-1.9-8.9-14.7-4.2 1.9z" color="#0c0a98"/>
<path d="M482.6 346.1l4.1-2.6-1.7-2.5-4.1 2.4z" color="#312fcc"/>
<path d="M495.2 346.6l4.2-3.4-5.8-7.9-4.2 3.2z" color="#0a13ae"/>
<path d="M608.6 273.7l4.1 4.6-.2-7.5-4.2-5.8z" color="#99a30d"/>
<path d="M625.1 334.2l4.2-1-1.7-4.4-4.2 .3z" color="#0984e4"/>
<path d="M640.5 335.9l4.1-1.2-.7-.7-4.1 1z" color="#0952b7"/>
<path d="M465.9 354l4.2-1.8-10.4-17.2-4.1 2z" color="#0b0a97"/>
<path d="M613.9 315.3l4.2 .8-.3-5-4.1-2z" color="#1ba78d"/>
<path d="M476.5 346.3l4.6-2.5-.7-1.1-4.7 2.4z" color="#2625b8"/>
<path d="M619.3 330l4.1-.9-.2-1.1-4.2 .8z" color="#0986c4"/>
<path d="M583 261.2l4.1-1.6-1.4 5.8-4.2 1.3z" color="#554e00"/>
<path d="M604.9 251.1l2.9 .8-.2-3.1-2.9-1z" color="#b18100"/>
<path d="M608.8 282.9l4.2 3.4-.3-8-4.1-4.6z" color="#85a421"/>
<path d="M677.8 337.8l4.1-1.7-.9-5.2-4.2 1.7z" color="#095bbf"/>
<path d="M462 356.2l4.2-1.8-12.6-20.7-4.1 2z" color="#0b0a97"/>
<path d="M651.7 336.5l3.9-1.8-.7-1-3.9 1.8z" color="#0a5dc9"/>
<path d="M619.5 330.9l4.2-1-.3-.8-4.1 .9z" color="#098cd4"/>
<path d="M635.6 336.5l4.2-1.5-.8-1-4.1 1.2z" color="#0962d7"/>
<path d="M614.4 325l4.2-1-.5-7.9-4.2-.8z" color="#0b9b9f"/>
<path d="M605.1 257.1l3 .5-.3-5.7-2.9-.8z" color="#a88400"/>
<path d="M609 292.2l4.2 2.1-.2-8-4.2-3.4z" color="#6da438"/>
<path d="M546.2 301.1l4.1 .1-.7-.4-4.2-.9z" color="#4ca85d"/>
<path d="M632.9 341.2l4.2-2-5.4-10.6-4.1 .2z" color="#0a74eb"/>
<path d="M609.3 301.1l4.1 .9-.2-7.7-4.2-2.1z" color="#54a451"/>
<path d="M641.2 337.1l4.2-1.5-.8-.9-4.1 1.2z" color="#095cca"/>
<path d="M599.3 252.3l5.4-4.5-1-1-5.4 4.5z" color="#956900"/>
<path d="M477.2 347.5l4.6-2.5-.7-1.2-4.6 2.5z" color="#2725b8"/>
<path d="M605.6 274l3-.3-.5-16.1-3-.5z" color="#a19704"/>
<path d="M647.1 338.3l4.4-2.1-1.4-2.2-4.5 1.9z" color="#0a61d8"/>
<path d="M609.5 309.3l4.2-.2-.3-7.1-4.1-.9z" color="#3ba46a"/>
<path d="M476.7 354.3l3.6-1.8-8.9-14.6-3.7 1.8z" color="#11109d"/>
<path d="M499.9 343.7l2.7-2.3-2.6-3.2-2.8 2.2z" color="#0924a1"/>
<path d="M483.3 347.2l4.1-2.6-.7-1.1-4.1 2.6z" color="#2928c4"/>
<path d="M595 255.3l3.6-4-1.2 .8-3.6 3.3z" color="#5d4700"/>
<path d="M505.2 340.2l3.7-3.1-1.2-.5-3.7 2.8z" color="#092d76"/>
<path d="M636.3 337.8l4.2-1.9-.7-.9-4.2 1.5z" color="#0a63d8"/>
<path d="M541.5 298.9l4.2 1.4-1-1-4.1-1.3z" color="#51a152"/>
<path d="M605.9 283.6l2.9-.7-.2-9.2-3 .3z" color="#8da317"/>
<path d="M599.5 255.7l5.4-4.6-.2-3.3-5.4 4.5z" color="#ae7f00"/>
<path d="M653 337.4l3.8-2.2-1.2-.5-3.9 1.8z" color="#094385"/>
<path d="M546.9 302.5l4.1-.8-.7-.5-4.1-.1z" color="#57c06a"/>
<path d="M606.1 293.3l2.9-1.1-.2-9.3-2.9 .7z" color="#73a230"/>
<path d="M584.2 261.8l4.1-2.7-1.2 .5-4.1 1.6z" color="#726100"/>
<path d="M477.9 348.6l4.7-2.5-.8-1.1-4.6 2.5z" color="#2826b9"/>
<path d="M599.8 261.6l5.3-4.5-.2-6-5.4 4.6z" color="#a68300"/>
<path d="M606.3 302.6l3-1.5-.3-8.9-2.9 1.1z" color="#59a24b"/>
<path d="M621.9 338.6l4.2-1.7-2.4-7-4.2 1z" color="#0983e1"/>
<path d="M484 348.4l4.2-2.7-.8-1.1-4.1 2.6z" color="#2624c1"/>
<path d="M637.1 339.2l4.1-2.1-.7-1.2-4.2 1.9z" color="#0f6be3"/>
<path d="M542 300.1l4.2 1-.5-.8-4.2-1.4z" color="#68d16b"/>
<path d="M606.6 311l2.9-1.7-.2-8.2-3 1.5z" color="#3ea366"/>
<path d="M537.4 298l4.1 .9-1.7-.5-4.1-.4z" color="#4a853c"/>
<path d="M642.9 340l4.2-1.7-1.7-2.7-4.2 1.5z" color="#0b66e0"/>
<path d="M600.3 278.5l5.3-4.5-.5-16.9-5.3 4.5z" color="#a09604"/>
<path d="M503.3 341.9l1.9-1.7-.9-.6-1.9 1.5z" color="#09297c"/>
<path d="M690.4 335l4.2-.9-1.7 0-4.2 .9z" color="#095787"/>
<path d="M595.7 256.5l3.6-4.2-.7-1-3.6 4z" color="#966f00"/>
<path d="M547.6 304l4.2-1.6-.8-.7-4.1 .8z" color="#5dcd71"/>
<path d="M648 339.5l4.5-2.3-1-1-4.4 2.1z" color="#0952b0"/>
<path d="M590.3 260l4.7-4.7-1.2 .1-4.7 3.8z" color="#705900"/>
<path d="M579.8 263.9l4.1-2.3-1.4 .6-4.2 1.4z" color="#887500"/>
<path d="M491.8 350.8l4.1-3.2-4.8-6.6-4.1 2.9z" color="#0c0dad"/>
<path d="M478.6 349.8l4.7-2.6-.7-1.1-4.7 2.5z" color="#2927bb"/>
<path d="M600.5 288.2l5.4-4.6-.3-9.6-5.3 4.5z" color="#8aa219"/>
<path d="M484.7 349.5l4.2-2.8-.7-1-4.2 2.7z" color="#2321be"/>
<path d="M596 259.7l3.5-4-.2-3.4-3.6 4.2z" color="#ab8200"/>
<path d="M600.7 297.8l5.4-4.5-.2-9.7-5.4 4.6z" color="#70a233"/>
<path d="M585.1 262.7l4.2-3.4-1-.2-4.1 2.7z" color="#856f00"/>
<path d="M637.8 340.5l4.1-2.2-.7-1.2-4.1 2.1z" color="#1977f0"/>
<path d="M543 303.6l4.1-.6-.9-1.9-4.2-1z" color="#6bdf75"/>
<path d="M596.2 265.5l3.6-3.9-.3-5.9-3.5 4z" color="#a58800"/>
<path d="M601 307l5.3-4.4-.2-9.3-5.4 4.5z" color="#55a24e"/>
<path d="M532.7 298.3l4.2-.9-1.2 .6-4.2 1.1z" color="#3c662b"/>
<path d="M501.1 344.7l2.7-2.7-1.2-.6-2.7 2.3z" color="#092376"/>
<path d="M479.4 351l4.6-2.6-.7-1.2-4.7 2.6z" color="#2a28bc"/>
<path d="M629.5 344.8l4.1-2.2-4.3-9.4-4.2 1z" color="#0a71ed"/>
<path d="M601.2 315.4l5.4-4.4-.3-8.4-5.3 4.4z" color="#3aa26a"/>
<path d="M649 340.3l4.4-2.8-.9-.3-4.5 2.3z" color="#094280"/>
<path d="M686.3 336.2l4.1-1.2-1.7 0-4.1 1.1z" color="#095c89"/>
<path d="M538.1 300.6l4.2 .2-.8-1.9-4.1-.9z" color="#76d964"/>
<path d="M596.7 282l3.6-3.5-.5-16.9-3.6 3.9z" color="#9d9906"/>
<path d="M643.6 341.2l4.2-1.9-.7-1-4.2 1.7z" color="#0a5ecd"/>
<path d="M591 261.3l4.7-4.8-.7-1.2-4.7 4.7z" color="#a07d00"/>
<path d="M543.2 304.6l4.2-1.1-.3-.5-4.1 .6z" color="#6ae47b"/>
<path d="M485.5 350.6l4.1-2.8-.7-1.1-4.2 2.8z" color="#201fbc"/>
<path d="M601.5 322.6l5.3-4.2-.2-7.4-5.4 4.4z" color="#1fa385"/>
<path d="M496.2 347.8l4.1-3.6-.9-1-4.2 3.4z" color="#091a98"/>
<path d="M638.5 341.8l4.2-2.2-.8-1.3-4.1 2.2z" color="#2480f3"/>
<path d="M580.5 265.1l4.2-2.9-.8-.6-4.1 2.3z" color="#c2a508"/>
<path d="M505.3 341.3l1.9-2.3-2 1.2-1.9 1.7z" color="#092752"/>
<path d="M577.7 265l2.1-1.1-.7-1-2.1 .9z" color="#d3b401"/>
<path d="M543.5 305.6l4.1-1.6-.2-.5-4.2 1.1z" color="#68e47d"/>
<path d="M596.9 291.4l3.6-3.2-.2-9.7-3.6 3.5z" color="#84a11e"/>
<path d="M601.7 328.7l5.4-4.1-.3-6.2-5.3 4.2z" color="#0d9c98"/>
<path d="M586.1 264l4.2-4-1-.7-4.2 3.4z" color="#967a00"/>
<path d="M591.2 264.5l4.8-4.8-.3-3.2-4.7 4.8z" color="#ac8900"/>
<path d="M692.1 340.3l4.2-1.1-1.7-5.1-4.2 .9z" color="#0985e3"/>
<path d="M633.6 342.6l4.2-2.1-.7-1.3-4.2 2z" color="#1d78f6"/>
<path d="M543.7 306.7l4.2-2.2-.3-.5-4.1 1.6z" color="#66e27e"/>
<path d="M480.1 352.1l4.6-2.6-.7-1.1-4.6 2.6z" color="#2a29bd"/>
<path d="M597.2 300.8l3.5-3-.2-9.6-3.6 3.2z" color="#6ba138"/>
<path d="M533.5 299.6l4.1-1-.7-1.2-4.2 .9z" color="#76c854"/>
<path d="M538.8 304.8l4.2-1.2-.7-2.8-4.2-.2z" color="#6ace66"/>
<path d="M681.4 336.3l4.1-1.4-.9 1.2-4.2 1.4z" color="#093d57"/>
<path d="M644.4 342.1l4.1-2.2-.7-.6-4.2 1.9z" color="#0953af"/>
<path d="M591.5 270l4.7-4.5-.2-5.8-4.8 4.8z" color="#a58e00"/>
<path d="M543.9 307.6l4.2-2.6-.2-.5-4.2 2.2z" color="#69e483"/>
<path d="M486.2 351.7l4.1-2.9-.7-1-4.1 2.8z" color="#1d1cb9"/>
<path d="M597.4 309.7l3.6-2.7-.3-9.2-3.5 3z" color="#50a253"/>
<path d="M575.6 265.4l2.1-.4-.7-1.2-2.1 .8z" color="#c3a600"/>
<path d="M639.2 343l4.2-2.2-.7-1.2-4.2 2.2z" color="#2d86ef"/>
<path d="M650 341.2l4.4-3.3-1-.4-4.4 2.8z" color="#094c88"/>
<path d="M528.6 301.4l4.1-3.1-.9 .4-4.2 3.3z" color="#396028"/>
<path d="M581.2 266.2l4.2-3.2-.7-.8-4.2 2.9z" color="#cfb81a"/>
<path d="M578.4 266.1l2.1-1-.7-1.2-2.1 1.1z" color="#e8c608"/>
<path d="M544.2 308.6l4.1-3.2-.2-.4-4.2 2.6z" color="#73e68f"/>
<path d="M517.4 315.9l1.9-2.9-4.8 17.7-2 2.3z" color="#104d45"/>
<path d="M597.7 317.8l3.5-2.4-.2-8.4-3.6 2.7z" color="#35a26f"/>
<path d="M533.7 300.7l4.2-1.2-.3-.9-4.1 1z" color="#7bd55b"/>
<path d="M497.1 348.8l4.2-4.1-1-.5-4.1 3.6z" color="#091b7d"/>
<path d="M592 285.8l4.7-3.8-.5-16.5-4.7 4.5z" color="#9b9d08"/>
<path d="M586.8 265.4l4.2-4.1-.7-1.3-4.2 4z" color="#b08f00"/>
<path d="M634.4 344l4.1-2.2-.7-1.3-4.2 2.1z" color="#338cfe"/>
<path d="M544.4 309.5l4.2-3.6-.3-.5-4.1 3.2z" color="#6ee08c"/>
<path d="M597.9 324.9l3.6-2.3-.3-7.2-3.5 2.4z" color="#1aa38b"/>
<path d="M534.2 303.7l4.1-1.8-.4-2.4-4.2 1.2z" color="#6ec558"/>
<path d="M592.2 294.9l4.7-3.5-.2-9.4-4.7 3.8z" color="#80a223"/>
<path d="M687.7 340.9l4.2-1.2-1.5-4.7-4.1 1.2z" color="#098be0"/>
<path d="M486.9 352.8l4.2-3-.8-1-4.1 2.9z" color="#1a19b7"/>
<path d="M539.8 310.9l4.1-3.3-.9-4-4.2 1.2z" color="#5ac66d"/>
<path d="M682.1 337.6l4.2-1.4-.8-1.3-4.1 1.4z" color="#098ac6"/>
<path d="M598.2 330.8l3.5-2.1-.2-6.1-3.6 2.3z" color="#0b9a9b"/>
<path d="M645.3 343.4l4.2-2.8-1-.7-4.1 2.2z" color="#0950a1"/>
<path d="M576.4 266.3l2-.2-.7-1.1-2.1 .4z" color="#d0b100"/>
<path d="M640 344.2l4.1-2.4-.7-1-4.2 2.2z" color="#3589e4"/>
<path d="M582 267.3l4.1-3.3-.7-1-4.2 3.2z" color="#d4c52c"/>
<path d="M544.9 311l4.2-4.2-.5-.9-4.2 3.6z" color="#59cc78"/>
<path d="M587.1 268.4l4.1-3.9-.2-3.2-4.2 4.1z" color="#ad9000"/>
<path d="M592.4 303.9l4.8-3.1-.3-9.4-4.7 3.5z" color="#67a23c"/>
<path d="M650.7 342.3l4.4-3.2-.7-1.2-4.4 3.3z" color="#2082d0"/>
<path d="M529.3 302.8l4.2-3.2-.8-1.3-4.1 3.1z" color="#6cb74c"/>
<path d="M579.1 267.3l2.1-1.1-.7-1.1-2.1 1z" color="#f1d71a"/>
<path d="M598.4 335.5l3.5-2-.2-4.8-3.5 2.1z" color="#09879f"/>
<path d="M626 348.6l4.2-2.4-4.1-9.3-4.2 1.7z" color="#0b69ea"/>
<path d="M492.5 351.8l4.2-3.5-.8-.7-4.1 3.2z" color="#090e9b"/>
<path d="M587.3 273.8l4.2-3.8-.3-5.5-4.1 3.9z" color="#a69400"/>
<path d="M526 304.7l2.8-3.1-1.2 .4-2.8 3.3z" color="#38632c"/>
<path d="M592.7 312.6l4.7-2.9-.2-8.9-4.8 3.1z" color="#4da257"/>
<path d="M693.3 341.1l4.2-.9-1.2-1-4.2 1.1z" color="#09599d"/>
<path d="M635.1 345.3l4.1-2.3-.7-1.2-4.1 2.2z" color="#55abff"/>
<path d="M534.9 309.3l4.2-3-.8-4.4-4.1 1.8z" color="#5eba5d"/>
<path d="M677.7 338.7l4.2-1.8-1.5 .6-4.1 1.4z" color="#095a7e"/>
<path d="M482.5 356l4.6-2.8-2.4-3.7-4.6 2.6z" color="#2c2bbf"/>
<path d="M598.9 341.3l3.5-1.9-.5-5.9-3.5 2z" color="#0971a7"/>
<path d="M498.4 349.6l4.1-4.9-1.2 0-4.2 4.1z" color="#091e64"/>
<path d="M592.9 320.4l4.8-2.6-.3-8.1-4.7 2.9z" color="#32a372"/>
<path d="M529.6 304.1l4.1-3.4-.2-1.1-4.2 3.2z" color="#71c555"/>
<path d="M504.7 343.4l2.7-5.1-3.6 3.7-2.7 2.7z" color="#092a4f"/>
<path d="M487.6 353.9l4.2-3.1-.7-1-4.2 3z" color="#1413b1"/>
<path d="M630 345.8l4.1-2.3-.5-.9-4.1 2.2z" color="#1a71f4"/>
<path d="M577.1 267.2l2 .1-.7-1.2-2 .2z" color="#ceaf00"/>
<path d="M587.8 289.1l4.2-3.3-.5-15.8-4.2 3.8z" color="#999f0b"/>
<path d="M640.7 345.4l4.1-2.7-.7-.9-4.1 2.4z" color="#3a8adb"/>
<path d="M582.7 268.8l4.1-3.4-.7-1.4-4.1 3.3z" color="#d0b81b"/>
<path d="M646 344.5l4.2-3-.7-.9-4.2 2.8z" color="#1b6dc0"/>
<path d="M593.2 327.3l4.7-2.4-.2-7.1-4.8 2.6z" color="#17a38d"/>
<path d="M529.8 305.8l4.1-3.7-.2-1.4-4.1 3.4z" color="#68ba54"/>
<path d="M579.9 268.5l2.1-1.2-.8-1.1-2.1 1.1z" color="#f2e12c"/>
<path d="M688.2 341.9l4.2-1.2-.5-1-4.2 1.2z" color="#0981e1"/>
<path d="M507.9 337.5l1.9-4-2.6 5.5-1.9 2.3z" color="#09394c"/>
<path d="M541 316.4l4.2-4.8-1.3-4-4.1 3.3z" color="#4abf76"/>
<path d="M683.6 342.3l4.1-1.4-1.4-4.7-4.2 1.4z" color="#098fdf"/>
<path d="M477.4 355.5l3.6-1.8-.7-1.2-3.6 1.8z" color="#1918a5"/>
<path d="M510.8 331.5l3.6-9.3-2.9 10.2-3.6 5.4z" color="#0a494b"/>
<path d="M588 297.8l4.2-2.9-.2-9.1-4.2 3.3z" color="#7ca227"/>
<path d="M593.4 333.1l4.8-2.3-.3-5.9-4.7 2.4z" color="#0a999c"/>
<path d="M493.5 352.9l4.1-3.8-.9-.8-4.2 3.5z" color="#09108d"/>
<path d="M635.8 346.6l4.2-2.4-.8-1.2-4.1 2.3z" color="#79ccff"/>
<path d="M535.6 315.1l4.2-4.2-.7-4.6-4.2 3z" color="#4db569"/>
<path d="M526.5 306l2.8-3.2-.5-1.2-2.8 3.1z" color="#62af4e"/>
<path d="M530.3 310l4.1-4.5-.5-3.4-4.1 3.7z" color="#5db357"/>
<path d="M582.9 271.8l4.2-3.4-.3-3-4.1 3.4z" color="#af9600"/>
<path d="M630.7 347.2l4.1-2.3-.7-1.4-4.1 2.3z" color="#388cfc"/>
<path d="M588.3 306.6l4.1-2.7-.2-9-4.2 2.9z" color="#64a23f"/>
<path d="M593.6 337.7l4.8-2.2-.2-4.7-4.8 2.3z" color="#09859f"/>
<path d="M577.8 268.3l2.1 .2-.8-1.2-2-.1z" color="#cdad00"/>
<path d="M641.4 346.5l4.2-2.8-.8-1-4.1 2.7z" color="#3e8edc"/>
<path d="M646.8 345.8l4.1-3-.7-1.3-4.2 3z" color="#43a3f0"/>
<path d="M588.5 315l4.2-2.4-.3-8.7-4.1 2.7z" color="#4aa259"/>
<path d="M652.9 347.5l4.4-2.1-2.2-6.3-4.4 3.2z" color="#0a72e0"/>
<path d="M580.6 270l2.1-1.2-.7-1.5-2.1 1.2z" color="#e3cb1b"/>
<path d="M583.4 283.9l4.2-3-.5-12.5-4.2 3.4z" color="#a29c03"/>
<path d="M520.8 312.7l5.5-7.6-1.5 .2-5.5 7.7z" color="#356936"/>
<path d="M527 309.3l2.8-3.5-.5-3-2.8 3.2z" color="#60b456"/>
<path d="M594.1 343.4l4.8-2.1-.5-5.8-4.8 2.2z" color="#0970a7"/>
<path d="M694.8 341.7l4.1-.9-1.4-.6-4.2 .9z" color="#095b8a"/>
<path d="M530.8 314.7l4.1-5.4-.5-3.8-4.1 4.5z" color="#4fae60"/>
<path d="M567.3 260.4l5.4 3-2.4 3.2-5.4 .8z" color="#584500"/>
<path d="M478.1 356.7l3.7-1.8-.8-1.2-3.6 1.8z" color="#1c1ba9"/>
<path d="M588.8 322.7l4.1-2.3-.2-7.8-4.2 2.4z" color="#30a374"/>
<path d="M636.5 347.8l4.2-2.4-.7-1.2-4.2 2.4z" color="#8bdcff"/>
<path d="M583.6 291.9l4.2-2.8-.2-8.2-4.2 3z" color="#90a214"/>
<path d="M631.4 348.5l4.2-2.3-.8-1.3-4.1 2.3z" color="#71c1ff"/>
<path d="M541.7 317.4l4.2-5.1-.7-.7-4.2 4.8z" color="#338655"/>
<path d="M536.6 320.9l4.2-5.3-1-4.7-4.2 4.2z" color="#3db377"/>
<path d="M679.4 343.7l4.2-1.4-1.7-5.4-4.2 1.8z" color="#0996e3"/>
<path d="M594.4 344.7l4.7-2.1-.2-1.3-4.8 2.1z" color="#096bbc"/>
<path d="M580.8 272.9l2.1-1.1-.2-3-2.1 1.2z" color="#b19a00"/>
<path d="M494.4 354l4.2-4.2-1-.7-4.1 3.8z" color="#09147e"/>
<path d="M690.1 341.9l4.2-.9-1.9-.3-4.2 1.2z" color="#094e79"/>
<path d="M483.2 357.2l4.7-3-.8-1-4.6 2.8z" color="#2827bb"/>
<path d="M489.8 356.9l4.2-3.4-2.2-2.7-4.2 3.1z" color="#0b0a9e"/>
<path d="M684.3 343.4l4.1-1.3-.7-1.2-4.1 1.4z" color="#0978c9"/>
<path d="M647.2 346.8l4.2-2.8-.5-1.2-4.1 3z" color="#1275e4"/>
<path d="M578.5 269.7l2.1 .3-.7-1.5-2.1-.2z" color="#cdad00"/>
<path d="M589.2 335l4.2-1.9-.5-12.7-4.1 2.3z" color="#129d94"/>
<path d="M527.5 314l2.8-4-.5-4.2-2.8 3.5z" color="#51ac5c"/>
<path d="M642.1 347.7l4.2-2.8-.7-1.2-4.2 2.8z" color="#68bcf4"/>
<path d="M531.2 319.4l4.2-6.2-.5-3.9-4.1 5.4z" color="#42ab6b"/>
<path d="M583.9 300.5l4.1-2.7-.2-8.7-4.2 2.8z" color="#7aa22a"/>
<path d="M573.6 263.6l4.2 4.7-.7-1.1-4.2-3.8z" color="#9a7b00"/>
<path d="M500.8 350.7l4.1-7.5-2.4 1.5-4.1 4.9z" color="#092654"/>
<path d="M581.3 285l2.1-1.1-.5-12.1-2.1 1.1z" color="#a39e04"/>
<path d="M584.1 309.1l4.2-2.5-.3-8.8-4.1 2.7z" color="#62a242"/>
<path d="M558 270.8l3.6-4.5-.9 6.2-3.6 4z" color="#554a00"/>
<path d="M518.6 315.2l1.9-2.9-1.2 .7-1.9 2.9z" color="#275a34"/>
<path d="M478.8 357.8l3.7-1.8-.7-1.1-3.7 1.8z" color="#201fac"/>
<path d="M589.5 339.5l4.1-1.8-.2-4.6-4.2 1.9z" color="#09859f"/>
<path d="M595.1 347.3l4.7-2.2-.7-2.5-4.7 2.1z" color="#096dd3"/>
<path d="M531.5 321.6l4.1-6.5-.2-1.9-4.2 6.2z" color="#38aa73"/>
<path d="M521.2 315.3l5.6-7.9-.5-2.3-5.5 7.6z" color="#54ae5c"/>
<path d="M637.3 349.1l4.1-2.6-.7-1.1-4.2 2.4z" color="#86d5ff"/>
<path d="M578.8 272.7l2 .2-.2-2.9-2.1-.3z" color="#b39b00"/>
<path d="M626.8 350l4.1-2.4-.7-1.4-4.2 2.4z" color="#2d7bfb"/>
<path d="M528 319.2l2.8-4.5-.5-4.7-2.8 4z" color="#42a867"/>
<path d="M695.3 343.2l4.1-1-.5-1.4-4.1 .9z" color="#0990e0"/>
<path d="M516.4 320l2.2-4.8-1.9 2.7-2.3 4.3z" color="#1e5639"/>
<path d="M584.4 317.3l4.1-2.3-.2-8.4-4.2 2.5z" color="#48a25c"/>
<path d="M632.1 349.8l4.2-2.4-.7-1.2-4.2 2.3z" color="#a3f1ff"/>
<path d="M537.1 322.4l4.1-5.5-.4-1.3-4.2 5.3z" color="#32a474"/>
<path d="M531.7 323.7l4.2-6.9-.3-1.7-4.1 6.5z" color="#32aa79"/>
<path d="M581.5 293l2.1-1.1-.2-8-2.1 1.1z" color="#8ea316"/>
<path d="M483.9 358.3l4.7-3-.7-1.1-4.7 3z" color="#2221b4"/>
<path d="M590 345.2l4.1-1.8-.5-5.7-4.1 1.8z" color="#0971a8"/>
<path d="M642.9 348.9l4.1-2.6-.7-1.4-4.2 2.8z" color="#7bd0fc"/>
<path d="M584.6 324.8l4.2-2.1-.3-7.7-4.1 2.3z" color="#2ea376"/>
<path d="M521.5 317.5l5.5-8.2-.2-1.9-5.6 7.9z" color="#4cab60"/>
<path d="M574.4 264.8l4.1 4.9-.7-1.4-4.2-4.7z" color="#ae8a00"/>
<path d="M579.2 285l2.1 0-.5-12.1-2-.2z" color="#a49e04"/>
<path d="M695.5 344.3l4.2-1.1-.3-1-4.1 1z" color="#097fcc"/>
<path d="M532 325.5l4.1-7.1-.2-1.6-4.2 6.9z" color="#2da97e"/>
<path d="M581.8 301.6l2.1-1.1-.3-8.6-2.1 1.1z" color="#78a32b"/>
<path d="M495.4 355l4.2-4.8-1-.4-4.2 4.2z" color="#091973"/>
<path d="M648.7 349.8l4.2-2.3-1.5-3.5-4.2 2.8z" color="#0d6ee8"/>
<path d="M528.4 324.5l2.8-5.1-.4-4.7-2.8 4.5z" color="#32a675"/>
<path d="M553.7 283.3l4.1-11.7-1.2 9.7-4.2 10z" color="#525204"/>
<path d="M521.7 320l5.5-8.5-.2-2.2-5.5 8.2z" color="#45a965"/>
<path d="M479.6 359l3.6-1.8-.7-1.2-3.7 1.8z" color="#2221ae"/>
<path d="M680.1 344.6l4.2-1.2-.7-1.1-4.2 1.4z" color="#0978c1"/>
<path d="M590.2 346.5l4.2-1.8-.3-1.3-4.1 1.8z" color="#096abb"/>
<path d="M532.2 327.1l4.2-7.3-.3-1.4-4.1 7.1z" color="#28a881"/>
<path d="M582 310.1l2.1-1-.2-8.6-2.1 1.1z" color="#60a343"/>
<path d="M585.1 337l4.1-2-.4-12.3-4.2 2.1z" color="#119c95"/>
<path d="M638 350.2l4.1-2.5-.7-1.2-4.1 2.6z" color="#80cfff"/>
<path d="M558.8 271.6l3.6-5.8-.8 .5-3.6 4.5z" color="#604e00"/>
<path d="M519.1 316.7l1.9-3-.5-1.4-1.9 2.9z" color="#3e9155"/>
<path d="M579.5 293.1l2-.1-.2-8-2.1 0z" color="#90a415"/>
<path d="M627.5 351.4l4.1-2.4-.7-1.4-4.1 2.4z" color="#6eb9ff"/>
<path d="M696 346.8l4.1-1.2-.4-2.4-4.2 1.1z" color="#0970c2"/>
<path d="M522 322.8l5.5-8.8-.3-2.5-5.5 8.5z" color="#3da86c"/>
<path d="M690.9 343.3l4.1-1-.7-1.3-4.2 .9z" color="#098bcb"/>
<path d="M568.3 259.5l5.3 4.1-.9-.2-5.4-3z" color="#694c00"/>
<path d="M632.9 351.1l4.1-2.4-.7-1.3-4.2 2.4z" color="#a5f1ff"/>
<path d="M686.2 343.2l4.2-1.1-2 0-4.1 1.3z" color="#095275"/>
<path d="M512.7 330.8l3.7-10.8-2 2.2-3.6 9.3z" color="#135543"/>
<path d="M574.6 268l4.2 4.7-.3-3-4.1-4.9z" color="#b39100"/>
<path d="M538.1 323.4l4.1-6.2-1-.3-4.1 5.5z" color="#236d4b"/>
<path d="M643.3 349.7l4.2-2.4-.5-1-4.1 2.6z" color="#5cb3f2"/>
<path d="M532.4 328.4l4.2-7.5-.2-1.1-4.2 7.3z" color="#24a583"/>
<path d="M582.3 318.3l2.1-1-.3-8.2-2.1 1z" color="#47a35d"/>
<path d="M484.7 359.5l4.6-3.2-.7-1-4.7 3z" color="#201fb0"/>
<path d="M579.7 301.8l2.1-.2-.3-8.6-2 .1z" color="#7aa32b"/>
<path d="M528.9 329.2l2.8-5.5-.5-4.3-2.8 5.1z" color="#23a583"/>
<path d="M510.6 335.8l1.9-5.3-2.7 3-1.9 4z" color="#094d4c"/>
<path d="M585.3 341.4l4.2-1.9-.3-4.5-4.1 2z" color="#0985a0"/>
<path d="M522.2 325.7l5.5-9.1-.2-2.6-5.5 8.8z" color="#34a773"/>
<path d="M564.8 267.3l3.5-7.8-2.9 5.7-3.5 .6z" color="#584200"/>
<path d="M582.5 325.8l2.1-1-.2-7.5-2.1 1z" color="#2ea377"/>
<path d="M575.1 281.1l4.1 3.9-.4-12.3-4.2-4.7z" color="#a79802"/>
<path d="M580 310.5l2-.4-.2-8.5-2.1 .2z" color="#61a343"/>
<path d="M532.9 330l4.2-7.6-.5-1.5-4.2 7.5z" color="#1e9477"/>
<path d="M516.8 321.4l2.3-4.7-.5-1.5-2.2 4.8z" color="#308253"/>
<path d="M522.5 328.7l5.5-9.5-.3-2.6-5.5 9.1z" color="#2ba67c"/>
<path d="M549.3 298.3l4.1-14-1.4 11.3-4.2 9.4z" color="#445412"/>
<path d="M559.3 272.8l3.5-6.9-.4-.1-3.6 5.8z" color="#6d5800"/>
<path d="M519.8 323l1.9-3-.7-6.3-1.9 3z" color="#3ca76c"/>
<path d="M480.3 360.2l3.6-1.9-.7-1.1-3.6 1.8z" color="#2322af"/>
<path d="M591.4 350.8l4.2-1.9-1.2-4.2-4.2 1.8z" color="#096ad4"/>
<path d="M643.8 350.5l4.2-2.2-.5-1-4.2 2.4z" color="#429bf3"/>
<path d="M507.8 343l2.8-7.2-3.2 2.5-2.7 5.1z" color="#09424d"/>
<path d="M585.8 347.1l4.2-1.9-.5-5.7-4.2 1.9z" color="#0971a8"/>
<path d="M496.4 355.9l4.1-5.3-.9-.4-4.2 4.8z" color="#091c6b"/>
<path d="M638.7 351.4l4.2-2.5-.8-1.2-4.1 2.5z" color="#88d5ff"/>
<path d="M691.3 345.4l4.2-1.1-.5-2-4.1 1z" color="#0988cf"/>
<path d="M580.2 318.8l2.1-.5-.3-8.2-2 .4z" color="#48a35c"/>
<path d="M628.2 352.7l4.2-2.4-.8-1.3-4.1 2.4z" color="#a9f1ff"/>
<path d="M597.5 354.5l4.8-2.4-2.5-7-4.7 2.2z" color="#095ce0"/>
<path d="M696.9 351.8l4.2-1.4-1-4.8-4.1 1.2z" color="#095bc3"/>
<path d="M583 337.9l2.1-.9-.5-12.2-2.1 1z" color="#119c95"/>
<path d="M522.7 331.7l5.5-9.8-.2-2.7-5.5 9.5z" color="#22a685"/>
<path d="M633.6 352.3l4.1-2.5-.7-1.1-4.1 2.4z" color="#81cbff"/>
<path d="M575.3 289.7l4.2 3.4-.3-8.1-4.1-3.9z" color="#97a30e"/>
<path d="M554.6 283.7l4.2-12.1-1 0-4.1 11.7z" color="#5f5600"/>
<path d="M485.4 360.6l4.6-3.3-.7-1-4.6 3.2z" color="#1e1dac"/>
<path d="M569 260.5l5.4 4.3-.8-1.2-5.3-4.1z" color="#976a00"/>
<path d="M544.9 312.3l4.1-13.2-2.4 11.6-4.2 6.3z" color="#305426"/>
<path d="M580.5 326.4l2-.6-.2-7.5-2.1 .5z" color="#2ea477"/>
<path d="M529.9 335.3l2.8-5.9-1-5.7-2.8 5.5z" color="#139c8b"/>
<path d="M517.3 325.1l2.2-4.6-.4-3.8-2.3 4.7z" color="#339f6e"/>
<path d="M586.1 348.4l4.1-1.9-.2-1.3-4.2 1.9z" color="#096abb"/>
<path d="M522.9 334.5l5.5-10-.2-2.6-5.5 9.8z" color="#1aa48d"/>
<path d="M559.7 274.4l3.6-8.3-.5-.2-3.5 6.9z" color="#6d5800"/>
<path d="M492.2 360l4.2-4.1-2.4-2.4-4.2 3.4z" color="#090d8d"/>
<path d="M575.6 299l4.1 2.8-.2-8.7-4.2-3.4z" color="#82a323"/>
<path d="M583.2 342.3l2.1-.9-.2-4.4-2.1 .9z" color="#0985a0"/>
<path d="M691.8 348.1l4.2-1.3-.5-2.5-4.2 1.1z" color="#0974bf"/>
<path d="M520.3 328.8l1.9-3.1-.5-5.7-1.9 3z" color="#29a67e"/>
<path d="M682.1 344.5l4.1-1.3-1.9 .2-4.2 1.2z" color="#095473"/>
<path d="M644.5 351.7l4.2-1.9-.7-1.5-4.2 2.2z" color="#257ef4"/>
<path d="M533.9 331.3l4.2-7.9-1-1-4.2 7.6z" color="#176c56"/>
<path d="M686.7 344.5l4.2-1.2-.5-1.2-4.2 1.1z" color="#099fdf"/>
<path d="M481 361.4l3.7-1.9-.8-1.2-3.6 1.9z" color="#2322af"/>
<path d="M513.2 332l3.6-10.6-.4-1.4-3.7 10.8z" color="#1b7359"/>
<path d="M575.8 308.3l4.2 2.2-.3-8.7-4.1-2.8z" color="#69a33c"/>
<path d="M580.9 338.6l2.1-.7-.5-12.1-2 .6z" color="#119d95"/>
<path d="M639.4 352.6l4.2-2.5-.7-1.2-4.2 2.5z" color="#77c5ff"/>
<path d="M560 275.3l3.6-9.1-.3-.1-3.6 8.3z" color="#6c5800"/>
<path d="M569.3 263.8l5.3 4.2-.2-3.2-5.4-4.3z" color="#af7e00"/>
<path d="M628.9 353.9l4.2-2.4-.7-1.2-4.2 2.4z" color="#9de3ff"/>
<path d="M517.8 330.1l2.2-4.2-.5-5.4-2.2 4.6z" color="#26a37e"/>
<path d="M583.7 348l2.1-.9-.5-5.7-2.1 .9z" color="#0971a8"/>
<path d="M523.7 341.7l5.5-10.5-.8-6.7-5.5 10z" color="#109c96"/>
<path d="M576.1 317.2l4.1 1.6-.2-8.3-4.2-2.2z" color="#4fa356"/>
<path d="M503.4 352.6l4.2-9.8-2.7 .4-4.1 7.5z" color="#093452"/>
<path d="M497.3 357l4.2-6-1-.4-4.1 5.3z" color="#092067"/>
<path d="M560.2 276.3l3.6-9.9-.2-.2-3.6 9.1z" color="#6b5800"/>
<path d="M486.1 361.7l4.7-3.5-.8-.9-4.6 3.3z" color="#1a18a7"/>
<path d="M569.5 269.7l5.4 3.9-.3-5.6-5.3-4.2z" color="#a78200"/>
<path d="M634.5 353.8l4.2-2.4-1-1.6-4.1 2.5z" color="#69b3ff"/>
<path d="M513.4 333.2l3.7-10.2-.3-1.6-3.6 10.6z" color="#1d9074"/>
<path d="M581.2 343.1l2-.8-.2-4.4-2.1 .7z" color="#0985a0"/>
<path d="M687.2 346.6l4.1-1.2-.4-2.1-4.2 1.2z" color="#098bcc"/>
<path d="M576.3 325.4l4.2 1-.3-7.6-4.1-1.6z" color="#35a470"/>
<path d="M530.6 336.7l2.8-6-.7-1.3-2.8 5.9z" color="#0d746b"/>
<path d="M584 349.3l2.1-.9-.3-1.3-2.1 .9z" color="#096abb"/>
<path d="M587.5 353.5l4.2-1.9-1.5-5.1-4.1 1.9z" color="#0967d4"/>
<path d="M550.5 298.6l4.1-14.9-1.2 .6-4.1 14z" color="#515809"/>
<path d="M560.5 277.3l3.6-10.7-.3-.2-3.6 9.9z" color="#6b5800"/>
<path d="M692.8 353.2l4.1-1.4-.9-5-4.2 1.3z" color="#095fc1"/>
<path d="M569.8 277.4l5.3 3.7-.2-7.5-5.4-3.9z" color="#a58f00"/>
<path d="M521.2 340.2l2-3-1-11.5-1.9 3.1z" color="#10a097"/>
<path d="M513.7 334.7l3.6-9.6-.2-2.1-3.7 10.2z" color="#1a987f"/>
<path d="M511.3 337.2l1.9-5.2-.7-1.5-1.9 5.3z" color="#0b645d"/>
<path d="M555.8 288.8l4.2-13.5-1.2-3.7-4.2 12.1z" color="#797001"/>
<path d="M523.9 343.5l5.5-10.6-.2-1.7-5.5 10.5z" color="#0a939c"/>
<path d="M481.7 362.5l3.7-1.9-.7-1.1-3.7 1.9z" color="#2221ae"/>
<path d="M576.5 332.5l4.2 .5-.2-6.6-4.2-1z" color="#1ba58b"/>
<path d="M581.7 348.8l2-.8-.5-5.7-2 .8z" color="#0971a8"/>
<path d="M640.1 353.7l4.2-2.4-.7-1.2-4.2 2.5z" color="#4797fe"/>
<path d="M560.7 278.4l3.6-11.6-.2-.2-3.6 10.7z" color="#6a5800"/>
<path d="M565.5 268.7l3.5-8.2-.7-1-3.5 7.8z" color="#7b5500"/>
<path d="M570 286.4l5.3 3.3-.2-8.6-5.3-3.7z" color="#a09d04"/>
<path d="M513.9 336.5l3.7-9-.3-2.4-3.6 9.6z" color="#169b88"/>
<path d="M518.8 341.2l2.2-3.6-1-11.7-2.2 4.2z" color="#109e96"/>
<path d="M524.1 344.9l5.5-10.6-.2-1.4-5.5 10.6z" color="#098c9c"/>
<path d="M687.7 349.4l4.1-1.3-.5-2.7-4.1 1.2z" color="#0977bd"/>
<path d="M576.8 338.5l4.1 .1-.2-5.6-4.2-.5z" color="#0b9c9c"/>
<path d="M541.4 323.8l4.2-11.8-3.4 5.2-4.1 6.2z" color="#255531"/>
<path d="M593.6 357.3l4.1-2.1-2.1-6.3-4.2 1.9z" color="#0955e1"/>
<path d="M560.9 279.6l3.6-12.6-.2-.2-3.6 11.6z" color="#6a5800"/>
<path d="M570.2 296.1l5.4 2.9-.3-9.3-5.3-3.3z" color="#8fa315"/>
<path d="M581.9 350.1l2.1-.8-.3-1.3-2 .8z" color="#096bbb"/>
<path d="M682.6 345.8l4.1-1.3-.5-1.3-4.1 1.3z" color="#09a4e0"/>
<path d="M511.5 338.2l1.9-5-.2-1.2-1.9 5.2z" color="#0b827d"/>
<path d="M524.4 346l5.5-10.7-.3-1-5.5 10.6z" color="#098395"/>
<path d="M635.3 355l4.1-2.4-.7-1.2-4.2 2.4z" color="#5aa3ff"/>
<path d="M577 343.3l4.2-.2-.3-4.5-4.1-.1z" color="#098aa0"/>
<path d="M630.4 356.3l4.1-2.5-1.4-2.3-4.2 2.4z" color="#70b4ff"/>
<path d="M508.5 344.4l2.8-7.2-.7-1.4-2.8 7.2z" color="#095960"/>
<path d="M585.2 353.7l2.1-1-1.2-4.3-2.1 .9z" color="#0968d2"/>
<path d="M498.3 358.1l4.2-6.5-1-.6-4.2 6z" color="#092567"/>
<path d="M561.2 280.8l3.6-13.5-.3-.3-3.6 12.6z" color="#695800"/>
<path d="M565.7 271.7l3.6-7.9-.3-3.3-3.5 8.2z" color="#a07200"/>
<path d="M570.5 305.8l5.3 2.5-.2-9.3-5.4-2.9z" color="#76a32e"/>
<path d="M492.9 361l4.2-4.3-.7-.8-4.2 4.1z" color="#091188"/>
<path d="M521.7 344.7l2-3-.5-4.5-2 3z" color="#098ba0"/>
<path d="M514.6 342.8l3.7-7.1-.7-8.2-3.7 9z" color="#0e9894"/>
<path d="M550.9 300.1l4.2-14.8-.5-1.6-4.1 14.9z" color="#636c0b"/>
<path d="M546.1 312.6l4.1-14.6-1.2 1.1-4.1 13.2z" color="#3c561b"/>
<path d="M482.5 363.7l3.6-2-.7-1.1-3.7 1.9z" color="#1f1eab"/>
<path d="M640.9 354.8l4.1-2.3-.7-1.2-4.2 2.4z" color="#2778ef"/>
<path d="M561.4 282.1l3.6-14.5-.2-.3-3.6 13.5z" color="#695800"/>
<path d="M566 276.9l3.5-7.2-.2-5.9-3.6 7.9z" color="#a17c00"/>
<path d="M570.7 315.2l5.4 2-.3-8.9-5.3-2.5z" color="#5ca348"/>
<path d="M577.5 349.5l4.2-.7-.5-5.7-4.2 .2z" color="#0975a8"/>
<path d="M683 347.9l4.2-1.3-.5-2.1-4.1 1.3z" color="#098fca"/>
<path d="M519.3 345.9l2.2-3.3-.5-5-2.2 3.6z" color="#0989a0"/>
<path d="M525.1 347.4l5.5-10.7-.7-1.4-5.5 10.7z" color="#096877"/>
<path d="M688.6 354.7l4.2-1.5-1-5.1-4.1 1.3z" color="#0962bf"/>
<path d="M512.5 344.5l1.9-3.9-1-7.4-1.9 5z" color="#098a91"/>
<path d="M508.8 345.2l2.7-7-.2-1-2.8 7.2z" color="#096e7c"/>
<path d="M551.2 301l4.1-14.6-.2-1.1-4.2 14.8z" color="#69750d"/>
<path d="M561.7 283.4l3.6-15.4-.3-.4-3.6 14.5z" color="#6b5b00"/>
<path d="M566.2 283.9l3.6-6.5-.3-7.7-3.5 7.2z" color="#a18a00"/>
<path d="M571 323.8l5.3 1.6-.2-8.2-5.4-2z" color="#41a364"/>
<path d="M514.9 344.9l3.6-6.4-.2-2.8-3.7 7.1z" color="#098f9d"/>
<path d="M522.4 349l2-3-.7-4.3-2 3z" color="#0979a2"/>
<path d="M636 356.2l4.1-2.5-.7-1.1-4.1 2.4z" color="#4f98ff"/>
<path d="M577.7 350.9l4.2-.8-.2-1.3-4.2 .7z" color="#096eba"/>
<path d="M504.1 353.7l4.2-10-.7-.9-4.2 9.8z" color="#09405f"/>
<path d="M551.4 302.1l4.2-14.6-.3-1.1-4.1 14.6z" color="#6c790f"/>
<path d="M561.9 284.9l3.6-16.2-.2-.7-3.6 15.4z" color="#7c6900"/>
<path d="M566.5 292.1l3.5-5.7-.2-9-3.6 6.5z" color="#9e9903"/>
<path d="M571.2 331.4l5.3 1.1-.2-7.1-5.3-1.6z" color="#27a47f"/>
<path d="M493.7 361.9l4.1-4.4-.7-.8-4.2 4.3z" color="#091388"/>
<path d="M515.1 347l3.7-5.8-.3-2.7-3.6 6.4z" color="#09869f"/>
<path d="M683.5 350.6l4.2-1.2-.5-2.8-4.2 1.3z" color="#097abd"/>
<path d="M557.5 300.3l4.2-16.9-1.7-8.1-4.2 13.5z" color="#7a7a07"/>
<path d="M537.3 333.9l4.1-10.1-3.3-.4-4.2 7.9z" color="#195840"/>
<path d="M499 359l4.2-6.7-.7-.7-4.2 6.5z" color="#09296b"/>
<path d="M509.5 348.7l2.8-5.9-.8-4.6-2.7 7z" color="#09768d"/>
<path d="M551.7 303.2l4.1-14.4-.2-1.3-4.2 14.6z" color="#6d7d11"/>
<path d="M562.2 288.1l3.5-16.4-.2-3-3.6 16.2z" color="#927e00"/>
<path d="M566.7 300.9l3.5-4.8-.2-9.7-3.5 5.7z" color="#90a012"/>
<path d="M571.4 337.8l5.4 .7-.3-6-5.3-1.1z" color="#11a195"/>
<path d="M546.6 313.8l4.1-14.5-.5-1.3-4.1 14.6z" color="#46631f"/>
<path d="M515.4 348.9l3.6-5.2-.2-2.5-3.7 5.8z" color="#097ea1"/>
<path d="M520.2 351.9l2.2-2.9-.9-6.4-2.2 3.3z" color="#0974a6"/>
<path d="M589.7 359.9l4.1-2-2.1-6.3-4.2 1.9z" color="#0951e2"/>
<path d="M584.3 358.4l2.1-.9-2.4-8.2-2.1 .8z" color="#0961d8"/>
<path d="M513 348.2l1.9-3.3-.5-4.3-1.9 3.9z" color="#097f9c"/>
<path d="M562.4 292.9l3.6-16-.3-5.2-3.5 16.4z" color="#978b03"/>
<path d="M567 309.7l3.5-3.9-.3-9.7-3.5 4.8z" color="#78a12a"/>
<path d="M489.7 367l4.7-4.1-3.6-4.7-4.7 3.5z" color="#0f0e9d"/>
<path d="M571.7 343l5.3 .3-.2-4.8-5.4-.7z" color="#09959f"/>
<path d="M515.6 350.7l3.7-4.8-.3-2.2-3.6 5.2z" color="#0976a3"/>
<path d="M504.6 354.8l4.2-9.6-.5-1.5-4.2 10z" color="#094d74"/>
<path d="M552.2 305.7l4.1-14-.5-2.9-4.1 14.4z" color="#6e8214"/>
<path d="M523.2 350.4l1.9-3-.7-1.4-2 3z" color="#095f86"/>
<path d="M636.7 357.3l4.2-2.5-.8-1.1-4.1 2.5z" color="#4790fc"/>
<path d="M579 355.6l4.1-1.1-1.2-4.4-4.2 .8z" color="#096cd1"/>
<path d="M562.6 298.8l3.6-14.9-.2-7-3.6 16z" color="#949409"/>
<path d="M567.2 318.3l3.5-3.1-.2-9.4-3.5 3.9z" color="#5fa144"/>
<path d="M571.9 346.9l5.4 .1-.3-3.7-5.3-.3z" color="#0984a3"/>
<path d="M494.4 362.9l4.1-4.5-.7-.9-4.1 4.4z" color="#091589"/>
<path d="M547 315.2l4.2-14.2-.5-1.7-4.1 14.5z" color="#4c6e23"/>
<path d="M515.9 352.4l3.6-4.5-.2-2-3.7 4.8z" color="#096fa6"/>
<path d="M684.5 355.7l4.1-1-.9-5.3-4.2 1.2z" color="#0967c0"/>
<path d="M534.5 340.2l2.8-6.3-3.9-3.2-2.8 6z" color="#0e5c50"/>
<path d="M510 351.5l2.8-5.1-.5-3.6-2.8 5.9z" color="#097299"/>
<path d="M499.8 360.1l4.1-6.8-.7-1-4.2 6.7z" color="#092c71"/>
<path d="M504.9 355.4l4.1-9.2-.2-1-4.2 9.6z" color="#095584"/>
<path d="M513.5 351.7l1.9-2.8-.5-4-1.9 3.3z" color="#0972a1"/>
<path d="M587.3 360.2l2.1-1-2.1-6.5-2.1 1z" color="#0953e1"/>
<path d="M552.4 307.1l4.1-13.8-.2-1.6-4.1 14z" color="#6e8519"/>
<path d="M562.9 305.4l3.6-13.3-.3-8.2-3.6 14.9z" color="#8b9b14"/>
<path d="M567.4 326.2l3.6-2.4-.3-8.6-3.5 3.1z" color="#45a25e"/>
<path d="M486.5 378.2l4.2-2.4-16.2-25.1-4.2 1.9z" color="#0e0d9b"/>
<path d="M572.2 349.7l5.3-.2-.2-2.5-5.4-.1z" color="#0979aa"/>
<path d="M542.2 325.1l4.1-12-.7-1.1-4.2 11.8z" color="#2f5f31"/>
<path d="M557.8 302.3l4.1-17.4-.2-1.5-4.2 16.9z" color="#7a840e"/>
<path d="M520.7 353l2.2-3-.5-1-2.2 2.9z" color="#095f97"/>
<path d="M505.1 356.2l4.2-8.8-.3-1.2-4.1 9.2z" color="#09568c"/>
<path d="M552.6 308.5l4.2-13.5-.3-1.7-4.1 13.8z" color="#6d871b"/>
<path d="M563.1 312.5l3.6-11.6-.2-8.8-3.6 13.3z" color="#7a9e25"/>
<path d="M567.7 333.3l3.5-1.9-.2-7.6-3.6 2.4z" color="#2ca378"/>
<path d="M572.4 351.3l5.3-.4-.2-1.4-5.3 .2z" color="#0977b7"/>
<path d="M547.5 317l4.2-13.8-.5-2.2-4.2 14.2z" color="#507728"/>
<path d="M516.6 356.1l3.6-4.2-.7-4-3.6 4.5z" color="#0965ad"/>
<path d="M558 305.3l4.2-17.2-.3-3.2-4.1 17.4z" color="#819012"/>
<path d="M510.5 354.3l2.7-4.3-.4-3.6-2.8 5.1z" color="#0969a0"/>
<path d="M637.4 358.5l4.2-2.6-.7-1.1-4.2 2.5z" color="#418bf9"/>
<path d="M505.4 357l4.1-8.3-.2-1.3-4.2 8.8z" color="#095792"/>
<path d="M552.9 310l4.1-13.3-.2-1.7-4.2 13.5z" color="#6b891f"/>
<path d="M563.4 319.6l3.6-9.9-.3-8.8-3.6 11.6z" color="#669f3b"/>
<path d="M495.1 364l4.2-4.6-.8-1-4.1 4.5z" color="#09178d"/>
<path d="M558.2 309.4l4.2-16.5-.2-4.8-4.2 17.2z" color="#809819"/>
<path d="M701 349.7l4.2-1-1 .5-4.1 .9z" color="#095877"/>
<path d="M500.5 361.4l4.1-6.6-.7-1.5-4.1 6.8z" color="#09317e"/>
<path d="M568.2 344.2l3.5-1.2-.5-11.6-3.5 1.9z" color="#119e96"/>
<path d="M547.8 318l4.1-13.6-.2-1.2-4.2 13.8z" color="#517c2c"/>
<path d="M542.6 326.3l4.2-11.9-.5-1.3-4.1 12z" color="#356c39"/>
<path d="M505.6 357.8l4.1-7.7-.2-1.4-4.1 8.3z" color="#095698"/>
<path d="M514.4 357.2l1.9-2.1-.9-6.2-1.9 2.8z" color="#0961ab"/>
<path d="M553.1 311.6l4.2-13.1-.3-1.8-4.1 13.3z" color="#698a22"/>
<path d="M563.6 326.4l3.6-8.1-.2-8.6-3.6 9.9z" color="#50a051"/>
<path d="M481.9 379.8l4.1-2.3-15.9-25.3-4.2 1.8z" color="#0b0a97"/>
<path d="M558.5 314.2l4.1-15.4-.2-5.9-4.2 16.5z" color="#779b25"/>
<path d="M511 356.9l2.7-3.6-.5-3.3-2.7 4.3z" color="#095ea6"/>
<path d="M521.7 354.6l2.2-3.2-1-1.4-2.2 3z" color="#095180"/>
<path d="M548 319l4.2-13.3-.3-1.3-4.1 13.6z" color="#52802f"/>
<path d="M517.1 357.5l3.6-4.5-.5-1.1-3.6 4.2z" color="#0959a9"/>
<path d="M634.2 362.5l4.2-2.5-3.9-6.2-4.1 2.5z" color="#5ca0ff"/>
<path d="M597.2 365.5l4.2-2.2-3.7-8.1-4.1 2.1z" color="#0a3aeb"/>
<path d="M505.8 358.6l4.2-7.1-.3-1.4-4.1 7.7z" color="#09549d"/>
<path d="M529 351.8l5.5-11.6-3.9-3.5-5.5 10.7z" color="#09565c"/>
<path d="M553.4 313.1l4.1-12.8-.2-1.8-4.2 13.1z" color="#688c25"/>
<path d="M563.8 332.7l3.6-6.5-.2-7.9-3.6 8.1z" color="#39a169"/>
<path d="M568.4 348l3.5-1.1-.2-3.9-3.5 1.2z" color="#098ba2"/>
<path d="M558.7 319.4l4.2-14-.3-6.6-4.1 15.4z" color="#6a9d34"/>
<path d="M573.9 357.6l5.3-1.1-1.5-5.6-5.3 .4z" color="#0972cd"/>
<path d="M548.2 320.1l4.2-13-.2-1.4-4.2 13.3z" color="#528332"/>
<path d="M580.6 361.2l4.2-1.4-1.7-5.3-4.1 1.1z" color="#0958df"/>
<path d="M543.1 327.8l4.2-11.7-.5-1.7-4.2 11.9z" color="#37753f"/>
<path d="M506.1 359.5l4.1-6.6-.2-1.4-4.2 7.1z" color="#0951a1"/>
<path d="M538 335.1l4.2-10-.8-1.3-4.1 10.1z" color="#206648"/>
<path d="M501 362.4l4.1-6.2-.5-1.4-4.1 6.6z" color="#09358f"/>
<path d="M553.6 314.9l4.2-12.6-.3-2-4.1 12.8z" color="#67912a"/>
<path d="M564.1 338.4l3.6-5.1-.3-7.1-3.6 6.5z" color="#23a280"/>
<path d="M495.8 365.2l4.2-4.7-.7-1.1-4.2 4.6z" color="#091992"/>
<path d="M559 324.9l4.1-12.4-.2-7.1-4.2 14z" color="#5a9e45"/>
<path d="M701.5 351l4.2-1-.5-1.3-4.2 1z" color="#09a2df"/>
<path d="M568.9 352.2l3.5-.9-.5-4.4-3.5 1.1z" color="#0980af"/>
<path d="M548.5 321.2l4.1-12.7-.2-1.4-4.2 13z" color="#518536"/>
<path d="M517.5 358.6l3.7-4.8-.5-.8-3.6 4.5z" color="#09509b"/>
<path d="M506.3 360.4l4.2-6.1-.3-1.4-4.1 6.6z" color="#094ea6"/>
<path d="M553.8 317.4l4.2-12.1-.2-3-4.2 12.6z" color="#679732"/>
<path d="M543.4 328.6l4.1-11.6-.2-.9-4.2 11.7z" color="#387a44"/>
<path d="M559.2 330.3l4.2-10.7-.3-7.1-4.1 12.4z" color="#499f57"/>
<path d="M511.9 361l2.8-2.9-1-4.8-2.7 3.6z" color="#0951b2"/>
<path d="M564.6 347.3l3.6-3.1-.5-10.9-3.6 5.1z" color="#0e9b98"/>
<path d="M548.7 322.4l4.2-12.4-.3-1.5-4.1 12.7z" color="#508839"/>
<path d="M506.6 361.2l4.1-5.6-.2-1.3-4.2 6.1z" color="#094baa"/>
<path d="M701.8 352l4.1-1.1-.2-.9-4.2 1z" color="#0994d1"/>
<path d="M501.4 363.4l4.2-5.6-.5-1.6-4.1 6.2z" color="#09369b"/>
<path d="M554.1 320.8l4.1-11.4-.2-4.1-4.2 12.1z" color="#629b3b"/>
<path d="M696.9 350.6l4.1-.9-.9 .4-4.2 1z" color="#095e79"/>
<path d="M543.6 329.5l4.2-11.5-.3-1-4.1 11.6z" color="#387e47"/>
<path d="M559.4 335.5l4.2-9.1-.2-6.8-4.2 10.7z" color="#37a06b"/>
<path d="M538.5 336.3l4.1-10-.4-1.2-4.2 10z" color="#227352"/>
<path d="M549 323.6l4.1-12-.2-1.6-4.2 12.4z" color="#4f8a3d"/>
<path d="M518 359.7l3.7-5.1-.5-.8-3.7 4.8z" color="#094c95"/>
<path d="M506.8 362.1l4.2-5.2-.3-1.3-4.1 5.6z" color="#0947af"/>
<path d="M554.3 324.8l4.2-10.6-.3-4.8-4.1 11.4z" color="#589e47"/>
<path d="M564.8 350.5l3.6-2.5-.2-3.8-3.6 3.1z" color="#0989a2"/>
<path d="M496.6 366.4l4.1-4.5-.7-1.4-4.2 4.7z" color="#091a9b"/>
<path d="M543.8 330.4l4.2-11.4-.2-1-4.2 11.5z" color="#38814a"/>
<path d="M559.7 340.3l4.1-7.6-.2-6.3-4.2 9.1z" color="#24a17f"/>
<path d="M477.7 381.9l4.2-2.1-15.7-25.4-4.2 1.8z" color="#0b0996"/>
<path d="M527.3 355.9l1.9-3.7-4.1-4.8-1.9 3z" color="#094e68"/>
<path d="M549.2 324.9l4.2-11.8-.3-1.5-4.1 12z" color="#4e8d40"/>
<path d="M535.2 341.5l2.8-6.4-.7-1.2-2.8 6.3z" color="#116b5b"/>
<path d="M516.4 362.4l1.9-2.2-2-5.1-1.9 2.1z" color="#094cb0"/>
<path d="M554.6 329.2l4.1-9.8-.2-5.2-4.2 10.6z" color="#4c9f54"/>
<path d="M570.1 357.7l3.5-1.1-1.2-5.3-3.5 .9z" color="#0979c7"/>
<path d="M544.1 331.3l4.1-11.2-.2-1.1-4.2 11.4z" color="#37834d"/>
<path d="M507.3 363.6l4.1-4.4-.4-2.3-4.2 5.2z" color="#0942b6"/>
<path d="M559.9 344.7l4.2-6.3-.3-5.7-4.1 7.6z" color="#14a090"/>
<path d="M539 337.7l4.1-9.9-.5-1.5-4.1 10z" color="#237c5a"/>
<path d="M502.2 365.1l4.1-4.7-.7-2.6-4.2 5.6z" color="#0934aa"/>
<path d="M565.3 354.3l3.6-2.1-.5-4.2-3.6 2.5z" color="#0980ae"/>
<path d="M549.4 326.2l4.2-11.3-.2-1.8-4.2 11.8z" color="#4d9246"/>
<path d="M489.5 374.2l3.6-2.3-7-10.2-3.6 2z" color="#1312a3"/>
<path d="M518.5 360.7l3.7-5.3-.5-.8-3.7 5.1z" color="#09488f"/>
<path d="M703 357.5l4.1-1.2-1.2-5.4-4.1 1.1z" color="#0980ca"/>
<path d="M554.8 333.7l4.2-8.8-.3-5.5-4.1 9.8z" color="#3ea063"/>
<path d="M697.4 352.1l4.1-1.1-.5-1.3-4.1 .9z" color="#09a8df"/>
<path d="M544.3 332.4l4.2-11.2-.3-1.1-4.1 11.2z" color="#378651"/>
<path d="M560.2 348.5l4.1-5.3-.2-4.8-4.2 6.3z" color="#0b999b"/>
<path d="M497 367.2l4.2-4.3-.5-1-4.1 4.5z" color="#091ba5"/>
<path d="M549.7 328.3l4.1-10.9-.2-2.5-4.2 11.3z" color="#4c9a4f"/>
<path d="M594 369.4l4.2-2.1-4.4-9.4-4.1 2z" color="#0c34ed"/>
<path d="M555 338.2l4.2-7.9-.2-5.4-4.2 8.8z" color="#2fa174"/>
<path d="M544.6 333.4l4.1-11-.2-1.2-4.2 11.2z" color="#358854"/>
<path d="M535.7 342.6l2.8-6.3-.5-1.2-2.8 6.4z" color="#127868"/>
<path d="M560.4 351.7l4.2-4.4-.3-4.1-4.1 5.3z" color="#098da0"/>
<path d="M539.4 339.4l4.2-9.9-.5-1.7-4.1 9.9z" color="#228262"/>
<path d="M697.6 353.1l4.2-1.1-.3-1-4.1 1.1z" color="#0998cf"/>
<path d="M549.9 331.1l4.2-10.3-.3-3.4-4.1 10.9z" color="#479e58"/>
<path d="M692.7 351.6l4.2-1-1 .5-4.1 .9z" color="#09647c"/>
<path d="M519 361.7l3.6-5.5-.4-.8-3.7 5.3z" color="#09458a"/>
<path d="M508 365.6l4.2-3.9-.8-2.5-4.1 4.4z" color="#093bc0"/>
<path d="M555.3 342.6l4.1-7.1-.2-5.2-4.2 7.9z" color="#1ea285"/>
<path d="M492.9 371.5l4.6-3.5-3.1-5.1-4.7 4.1z" color="#0a0ca5"/>
<path d="M544.8 334.5l4.2-10.9-.3-1.2-4.1 11z" color="#348a57"/>
<path d="M502.9 366.8l4.1-4-.7-2.4-4.1 4.7z" color="#092fba"/>
<path d="M550.2 334.4l4.1-9.6-.2-4-4.2 10.3z" color="#3ea063"/>
<path d="M539.7 340.3l4.1-9.9-.2-.9-4.2 9.9z" color="#218667"/>
<path d="M514.1 366.3l2.8-2.8-2.2-5.4-2.8 2.9z" color="#093fb9"/>
<path d="M566.5 359.6l3.6-1.9-1.2-5.5-3.6 2.1z" color="#0979c4"/>
<path d="M497.8 368.4l4.1-3.9-.7-1.6-4.2 4.3z" color="#0a1bb1"/>
<path d="M545.1 335.6l4.1-10.7-.2-1.3-4.2 10.9z" color="#338d5b"/>
<path d="M561.1 357.5l4.2-3.2-.7-7-4.2 4.4z" color="#097dac"/>
<path d="M703.5 359l4.1-1.2-.5-1.5-4.1 1.2z" color="#097ce0"/>
<path d="M525.5 361.2l2.3-4.4-3.9-5.4-2.2 3.2z" color="#094970"/>
<path d="M529.7 353l5.5-11.5-.7-1.3-5.5 11.6z" color="#0a6367"/>
<path d="M555.8 350.3l4.1-5.6-.5-9.2-4.1 7.1z" color="#0e9b97"/>
<path d="M550.4 338l4.2-8.8-.3-4.4-4.1 9.6z" color="#33a16f"/>
<path d="M536.4 344.8l2.8-6.3-.7-2.2-2.8 6.3z" color="#118273"/>
<path d="M539.9 341.2l4.2-9.9-.3-.9-4.1 9.9z" color="#20896a"/>
<path d="M519.7 363.2l3.7-5.8-.8-1.2-3.6 5.5z" color="#094386"/>
<path d="M545.3 336.7l4.1-10.5-.2-1.3-4.1 10.7z" color="#329262"/>
<path d="M698.8 358.7l4.2-1.2-1.2-5.5-4.2 1.1z" color="#0985c9"/>
<path d="M550.7 341.8l4.1-8.1-.2-4.5-4.2 8.8z" color="#26a27d"/>
<path d="M693.2 353.1l4.2-1-.5-1.5-4.2 1z" color="#09aedf"/>
<path d="M540.2 342.1l4.1-9.7-.2-1.1-4.2 9.9z" color="#1e8b6e"/>
<path d="M556 353.5l4.2-5-.3-3.8-4.1 5.6z" color="#098b9f"/>
<path d="M545.5 338.5l4.2-10.2-.3-2.1-4.1 10.5z" color="#309a6b"/>
<path d="M703.9 359.9l4.2-1.1-.5-1-4.1 1.2z" color="#0978df"/>
<path d="M498.3 369.3l4.1-3.6-.5-1.2-4.1 3.9z" color="#0e1ec1"/>
<path d="M550.9 345.6l4.1-7.4-.2-4.5-4.1 8.1z" color="#19a28b"/>
<path d="M540.4 343.1l4.2-9.7-.3-1-4.1 9.7z" color="#1d8c71"/>
<path d="M503.9 368.9l4.1-3.3-1-2.8-4.1 4z" color="#0928c9"/>
<path d="M530.2 354.1l5.5-11.5-.5-1.1-5.5 11.5z" color="#0a6d74"/>
<path d="M556.3 356.2l4.1-4.5-.2-3.2-4.2 5z" color="#097fa2"/>
<path d="M693.5 354.1l4.1-1-.2-1-4.2 1z" color="#099bcc"/>
<path d="M545.8 340.8l4.1-9.7-.2-2.8-4.2 10.2z" color="#2b9f75"/>
<path d="M688.6 352.9l4.1-1.3-.9 .4-4.2 1.1z" color="#09697f"/>
<path d="M509.7 369.3l4.2-3.6-1.7-4-4.2 3.9z" color="#0931c6"/>
<path d="M540.7 344.1l4.1-9.6-.2-1.1-4.2 9.7z" color="#1b8e74"/>
<path d="M551.4 352.6l4.1-6-.5-8.4-4.1 7.4z" color="#0c9999"/>
<path d="M520.4 364.6l3.7-6-.7-1.2-3.7 5.8z" color="#094082"/>
<path d="M546 343.5l4.2-9.1-.3-3.3-4.1 9.7z" color="#23a17f"/>
<path d="M556.7 360l4.2-3.8-.5-4.5-4.1 4.5z" color="#0973a9"/>
<path d="M498.7 370.1l4.2-3.3-.5-1.1-4.1 3.6z" color="#1e2cd7"/>
<path d="M562.6 363.2l4.1-2.7-1.4-6.2-4.2 3.2z" color="#0971c4"/>
<path d="M540.9 345.1l4.2-9.5-.3-1.1-4.1 9.6z" color="#199078"/>
<path d="M530.7 355.4l5.5-11.4-.5-1.4-5.5 11.5z" color="#09737c"/>
<path d="M546.3 346.4l4.1-8.4-.2-3.6-4.2 9.1z" color="#19a18a"/>
<path d="M537.9 350.1l2.8-6-1.5-5.6-2.8 6.3z" color="#0e8981"/>
<path d="M699.6 360.7l4.1-1.2-.7-2-4.2 1.2z" color="#0982e2"/>
<path d="M551.6 355.7l4.2-5.4-.3-3.7-4.1 6z" color="#09889f"/>
<path d="M519.3 368.6l1.9-2.4-2.9-6-1.9 2.2z" color="#093a9e"/>
<path d="M705.2 360.6l4.1-1.1-1.2-.7-4.2 1.1z" color="#095594"/>
<path d="M541.1 346.2l4.2-9.5-.2-1.1-4.2 9.5z" color="#17957f"/>
<path d="M694.7 359.8l4.1-1.1-1.2-5.6-4.1 1z" color="#0989c8"/>
<path d="M689.1 354.4l4.1-1.3-.5-1.5-4.1 1.3z" color="#09b4df"/>
<path d="M568.4 366.5l3.6-1.6-1.9-7.2-3.6 1.9z" color="#0961d3"/>
<path d="M499.2 371l4.2-3.1-.5-1.1-4.2 3.3z" color="#3d4ae5"/>
<path d="M551.9 358.4l4.1-4.9-.2-3.2-4.2 5.4z" color="#097ca1"/>
<path d="M520.9 365.7l3.7-6.3-.5-.8-3.7 6z" color="#093e81"/>
<path d="M546.7 352.5l4.2-6.9-.5-7.6-4.1 8.4z" color="#0f9c96"/>
<path d="M541.4 347.7l4.1-9.2-.2-1.8-4.2 9.5z" color="#169a87"/>
<path d="M504.8 370.9l4.2-3.1-1-2.2-4.1 3.3z" color="#0d25d5"/>
<path d="M531.1 356.8l5.6-11.2-.5-1.6-5.5 11.4z" color="#097683"/>
<path d="M493.6 372.5l4.7-3.2-.8-1.3-4.6 3.5z" color="#0f11ba"/>
<path d="M552.1 360.6l4.2-4.4-.3-2.7-4.1 4.9z" color="#0971a4"/>
<path d="M689.3 355.4l4.2-1.3-.3-1-4.1 1.3z" color="#099fcb"/>
<path d="M541.6 349.6l4.2-8.8-.3-2.3-4.1 9.2z" color="#139c8f"/>
<path d="M529.2 360.5l1.9-3.7-1.9-4.6-1.9 3.7z" color="#095b7a"/>
<path d="M547 355.4l4.1-6.2-.2-3.6-4.2 6.9z" color="#098f9e"/>
<path d="M558.2 365.4l4.1-3.1-1.4-6.1-4.2 3.8z" color="#096ac2"/>
<path d="M700.3 361.3l4.1-1-.7-.8-4.1 1.2z" color="#0963ac"/>
<path d="M499.7 371.8l4.2-2.9-.5-1-4.2 3.1z" color="#606be9"/>
<path d="M521.4 366.7l3.7-6.4-.5-.9-3.7 6.3z" color="#093d80"/>
<path d="M531.6 358.4l5.5-11.1-.4-1.7-5.6 11.2z" color="#097787"/>
<path d="M552.6 363.9l4.1-3.9-.4-3.8-4.2 4.4z" color="#0966ad"/>
<path d="M547.2 358.2l4.2-5.6-.3-3.4-4.1 6.2z" color="#09839f"/>
<path d="M542.1 354l4.2-7.6-.5-5.6-4.2 8.8z" color="#0d9897"/>
<path d="M695.2 361.3l4.1-1.1-.5-1.5-4.1 1.1z" color="#0988e1"/>
<path d="M705.9 361.8l4.1-1.1-.7-1.2-4.1 1.1z" color="#0979cc"/>
<path d="M505.3 371.9l4.2-3.1-.5-1-4.2 3.1z" color="#1326dc"/>
<path d="M494.3 373.6l4.7-3.1-.7-1.2-4.7 3.2z" color="#2d2eda"/>
<path d="M547.5 360.7l4.1-5-.2-3.1-4.2 5.6z" color="#0977a1"/>
<path d="M531.9 359.2l5.5-11-.3-.9-5.5 11.1z" color="#09768a"/>
<path d="M500.2 372.7l4.1-2.8-.4-1-4.2 2.9z" color="#6c74ec"/>
<path d="M521.9 367.8l3.6-6.6-.4-.9-3.7 6.4z" color="#093d82"/>
<path d="M690.5 360.8l4.2-1-1.2-5.7-4.2 1.3z" color="#098fc9"/>
<path d="M539.1 356.8l2.8-5.1-1.2-7.6-2.8 6z" color="#098d94"/>
<path d="M542.3 356.5l4.2-7.1-.2-3-4.2 7.6z" color="#09909d"/>
<path d="M684.9 356.1l4.2-1.7-.5-1.5-4.2 1.7z" color="#09b5df"/>
<path d="M547.7 362.9l4.2-4.5-.3-2.7-4.1 5z" color="#096ca4"/>
<path d="M564.3 368.8l4.1-2.3-1.7-6-4.1 2.7z" color="#095cd4"/>
<path d="M532.1 360l5.5-10.9-.2-.9-5.5 11z" color="#09768b"/>
<path d="M542.6 358.9l4.1-6.4-.2-3.1-4.2 7.1z" color="#09859f"/>
<path d="M517.7 374l2.8-2.7-3.6-7.8-2.8 2.8z" color="#092eb4"/>
<path d="M505.8 372.9l4.1-3.1-.4-1-4.2 3.1z" color="#1727e1"/>
<path d="M553.6 367.2l4.1-3.4-1-3.8-4.1 3.9z" color="#0961c3"/>
<path d="M706.4 363.5l4.1-1.2-.5-1.6-4.1 1.1z" color="#097cdb"/>
<path d="M532.3 360.8l5.6-10.7-.3-1-5.5 10.9z" color="#09758d"/>
<path d="M701.5 362.2l4.1-1-1.2-.9-4.1 1z" color="#09639e"/>
<path d="M500.7 373.6l4.1-2.7-.5-1-4.1 2.8z" color="#555bf1"/>
<path d="M696.1 362.4l4.2-1.1-1-1.1-4.1 1.1z" color="#096cb2"/>
<path d="M490.2 375.1l3.6-2.2-.7-1-3.6 2.3z" color="#0c0baa"/>
<path d="M512.4 374.7l4.1-3.4-2.6-5.6-4.2 3.6z" color="#0b25c8"/>
<path d="M542.8 361.2l4.2-5.8-.3-2.9-4.1 6.4z" color="#097ba0"/>
<path d="M495 374.7l4.7-2.9-.7-1.3-4.7 3.1z" color="#7c7df8"/>
<path d="M522.6 369.5l3.7-6.7-.8-1.6-3.6 6.6z" color="#093d86"/>
<path d="M548.4 367.5l4.2-3.6-.7-5.5-4.2 4.5z" color="#095daf"/>
<path d="M528 367.6l2.2-4.1-2.4-6.7-2.3 4.4z" color="#094f82"/>
<path d="M532.6 361.6l5.5-10.6-.2-.9-5.6 10.7z" color="#09748e"/>
<path d="M539.3 358.8l2.8-4.8-.2-2.3-2.8 5.1z" color="#09849e"/>
<path d="M543.1 363.4l4.1-5.2-.2-2.8-4.2 5.8z" color="#0971a2"/>
<path d="M506.3 373.8l4.1-3-.5-1-4.1 3.1z" color="#1a28e4"/>
<path d="M532.8 362.4l5.5-10.4-.2-1-5.5 10.6z" color="#097492"/>
<path d="M691.2 362.6l4.2-.8-.7-2-4.2 1z" color="#098de0"/>
<path d="M539.5 360.8l2.8-4.3-.2-2.5-2.8 4.8z" color="#097ca0"/>
<path d="M707.1 367.1l4.1-1.4-.7-3.4-4.1 1.2z" color="#0964c5"/>
<path d="M543.3 365.3l4.2-4.6-.3-2.5-4.1 5.2z" color="#0966a5"/>
<path d="M686.4 362l4.1-1.2-1.4-6.4-4.2 1.7z" color="#0998cd"/>
<path d="M559.9 370.6l4.1-2.5-1.7-5.8-4.1 3.1z" color="#0958d3"/>
<path d="M501.4 375l4.1-2.6-.7-1.5-4.1 2.7z" color="#373cf6"/>
<path d="M548.7 368.3l4.1-3.4-.2-1-4.2 3.6z" color="#0957c2"/>
<path d="M533.1 363.4l5.5-10.1-.3-1.3-5.5 10.4z" color="#097598"/>
<path d="M490.9 376.2l3.7-2.2-.8-1.1-3.6 2.2z" color="#1a19c2"/>
<path d="M539.8 362.8l2.8-3.9-.3-2.4-2.8 4.3z" color="#0973a1"/>
<path d="M702 363.6l4.1-1.1-.5-1.3-4.1 1z" color="#098ae3"/>
<path d="M495.8 376l4.6-2.9-.7-1.3-4.7 2.9z" color="#bebdff"/>
<path d="M543.8 368.6l4.1-3.8-.4-4.1-4.2 4.6z" color="#0959aa"/>
<path d="M507 375.3l4.1-3-.7-1.5-4.1 3z" color="#1d27e7"/>
<path d="M533.3 364.6l5.5-9.6-.2-1.7-5.5 10.1z" color="#09749d"/>
<path d="M540 364.8l2.8-3.6-.2-2.3-2.8 3.9z" color="#096aa3"/>
<path d="M521.7 374.1l1.9-2.3-2.4-5.6-1.9 2.4z" color="#092ea0"/>
<path d="M531.6 368.9l2-3-2.5-9.1-1.9 3.7z" color="#095c92"/>
<path d="M697.3 363.2l4.2-1-1.2-.9-4.2 1.1z" color="#09679d"/>
<path d="M523.8 372.4l3.7-6.3-1.2-3.3-3.7 6.7z" color="#093b8e"/>
<path d="M533.6 365.9l5.5-9.1-.3-1.8-5.5 9.6z" color="#0970a0"/>
<path d="M702.2 364.7l4.2-1.2-.3-1-4.1 1.1z" color="#097bd0"/>
<path d="M555.5 372.6l4.1-2.7-1.9-6.1-4.1 3.4z" color="#0953d4"/>
<path d="M692.2 363.2l4.2-.8-1-.6-4.2 .8z" color="#096094"/>
<path d="M540.5 368.3l2.8-3-.5-4.1-2.8 3.6z" color="#095da7"/>
<path d="M544.3 370.9l4.1-3.4-.5-2.7-4.1 3.8z" color="#094eb9"/>
<path d="M533.8 367.3l5.5-8.5-.2-2-5.5 9.1z" color="#096aa2"/>
<path d="M491.6 377.3l3.7-2.2-.7-1.1-3.7 2.2z" color="#6c6bf3"/>
<path d="M550.1 372.2l4.2-2.9-1.5-4.4-4.1 3.4z" color="#0952d1"/>
<path d="M708.3 372.7l4.1-1.5-1.2-5.5-4.1 1.4z" color="#0949c9"/>
<path d="M496.5 377.3l4.7-2.8-.8-1.4-4.6 2.9z" color="#7d7cff"/>
<path d="M566.4 374.7l4.2-2-2.2-6.2-4.1 2.3z" color="#0943e4"/>
<path d="M687.1 363.7l4.1-1.1-.7-1.8-4.1 1.2z" color="#0995e1"/>
<path d="M507.7 376.7l4.2-3-.8-1.4-4.1 3z" color="#1d24e6"/>
<path d="M534 368.7l5.5-7.9-.2-2-5.5 8.5z" color="#0964a4"/>
<path d="M702.9 368.4l4.2-1.3-.7-3.6-4.2 1.2z" color="#0968c3"/>
<path d="M503.1 378.4l4.1-2.7-1.7-3.3-4.1 2.6z" color="#2929f6"/>
<path d="M541 371.2l2.8-2.6-.5-3.3-2.8 3z" color="#094daf"/>
<path d="M534.3 370.1l5.5-7.3-.3-2-5.5 7.9z" color="#095da6"/>
<path d="M697.8 364.7l4.2-1.1-.5-1.4-4.2 1z" color="#0990e1"/>
<path d="M524.5 374.1l3.7-5.8-.7-2.2-3.7 6.3z" color="#093795"/>
<path d="M534.5 371.4l5.5-6.6-.2-2-5.5 7.3z" color="#0955a9"/>
<path d="M492.4 378.6l3.6-2.2-.7-1.3-3.7 2.2z" color="#bcbbff"/>
<path d="M529.6 373.2l2.3-3.1-1.7-6.6-2.2 4.1z" color="#094899"/>
<path d="M508.2 377.7l4.2-3-.5-1-4.2 3z" color="#1b20e4"/>
<path d="M497.2 378.7l4.7-2.7-.7-1.5-4.7 2.8z" color="#3938fa"/>
<path d="M487.2 379.3l4.2-2.4-.7-1.1-4.2 2.4z" color="#3534d3"/>
<path d="M698.1 365.8l4.1-1.1-.2-1.1-4.2 1.1z" color="#097ecc"/>
<path d="M693.2 364.2l4.1-1-.9-.8-4.2 .8z" color="#0974a8"/>
<path d="M541.5 373.2l2.8-2.3-.5-2.3-2.8 2.6z" color="#0943bf"/>
<path d="M519.2 377.2l2.7-2.5-1.4-3.4-2.8 2.7z" color="#091fba"/>
<path d="M534.8 372.7l5.5-6.1-.3-1.8-5.5 6.6z" color="#094eac"/>
<path d="M709 374.5l4.2-1.5-.8-1.8-4.1 1.5z" color="#093be5"/>
<path d="M688.1 364.3l4.1-1.1-1-.6-4.1 1.1z" color="#096493"/>
<path d="M562.1 376.2l4.1-2.1-2.2-6-4.1 2.5z" color="#0942e3"/>
<path d="M546.2 375.7l4.2-2.9-2-5.3-4.1 3.4z" color="#0946d4"/>
<path d="M535 373.9l5.5-5.6-.2-1.7-5.5 6.1z" color="#0946b0"/>
<path d="M704.1 374.1l4.2-1.4-1.2-5.6-4.2 1.3z" color="#094dc8"/>
<path d="M532.3 372.5l2-2.4-.7-4.2-2 3z" color="#094da8"/>
<path d="M525 375.3l3.7-5.6-.5-1.4-3.7 5.8z" color="#09339a"/>
<path d="M698.8 369.7l4.1-1.3-.7-3.7-4.1 1.1z" color="#096bc0"/>
<path d="M522.9 376.9l1.9-2.2-1.2-2.9-1.9 2.3z" color="#0924a8"/>
<path d="M535.2 375l5.6-5.2-.3-1.5-5.5 5.6z" color="#0940b4"/>
<path d="M493.1 379.9l3.6-2.1-.7-1.4-3.6 2.2z" color="#7876ff"/>
<path d="M482.6 380.9l4.2-2.3-.8-1.1-4.1 2.3z" color="#1716ab"/>
<path d="M488 380.5l4.1-2.4-.7-1.2-4.2 2.4z" color="#9998ff"/>
<path d="M693.7 365.7l4.1-1-.5-1.5-4.1 1z" color="#0995df"/>
<path d="M535.5 375.9l5.5-4.7-.2-1.4-5.6 5.2z" color="#093aba"/>
<path d="M525.5 376.6l3.7-5.2-.5-1.7-3.7 5.6z" color="#0931a2"/>
<path d="M504.5 381.3l4.2-2.7-1.5-2.9-4.1 2.7z" color="#2e2df3"/>
<path d="M533.1 375.8l1.9-1.9-.7-3.8-2 2.4z" color="#093cb3"/>
<path d="M552.5 377.9l4.2-2.3-2.4-6.3-4.2 2.9z" color="#0941e0"/>
<path d="M710.2 375.2l4.2-1.3-1.2-.9-4.2 1.5z" color="#092b98"/>
<path d="M530.4 376.1l2.2-2.5-.7-3.5-2.3 3.1z" color="#093aae"/>
<path d="M689 365.4l4.2-1.2-1-1-4.1 1.1z" color="#097daf"/>
<path d="M536 377.5l5.5-4.3-.5-2-5.5 4.7z" color="#0934c7"/>
<path d="M498.9 382.1l4.7-2.7-1.7-3.4-4.7 2.7z" color="#2624e7"/>
<path d="M557.9 378.4l4.2-2.2-2.5-6.3-4.1 2.7z" color="#093de5"/>
<path d="M525.8 377.3l3.6-5-.2-.9-3.7 5.2z" color="#092ea9"/>
<path d="M694.1 368l4.2-1-.5-2.3-4.1 1z" color="#097ec6"/>
<path d="M510.4 382.1l4.1-2.8-2.1-4.6-4.2 3z" color="#1819df"/>
<path d="M704.9 375.9l4.1-1.4-.7-1.8-4.2 1.4z" color="#093fe3"/>
<path d="M699.7 374.7l4.2-1.5-1-4.8-4.1 1.3z" color="#0952c3"/>
<path d="M493.8 381.3l3.7-2.1-.8-1.4-3.6 2.1z" color="#3d3bf5"/>
<path d="M483.3 382.1l4.2-2.4-.7-1.1-4.2 2.3z" color="#4543d8"/>
<path d="M488.7 381.8l4.1-2.3-.7-1.4-4.1 2.4z" color="#9796ff"/>
<path d="M526 378l3.6-4.8-.2-.9-3.6 5z" color="#092bae"/>
<path d="M523.6 378.6l1.9-2-.7-1.9-1.9 2.2z" color="#091db2"/>
<path d="M544.1 379.2l2.8-1.9-2.6-6.4-2.8 2.3z" color="#0938d7"/>
<path d="M526.2 378.6l3.7-4.4-.3-1-3.6 4.8z" color="#0928b2"/>
<path d="M694.6 370.8l4.2-1.1-.5-2.7-4.2 1z" color="#096cbd"/>
<path d="M517.7 385.9l4.1-2.8-5.3-11.8-4.1 3.4z" color="#0c12cd"/>
<path d="M478.4 383.1l4.2-2.2-.7-1.1-4.2 2.1z" color="#1514a3"/>
<path d="M531.1 378.7l2.2-2-.7-3.1-2.2 2.5z" color="#092bbc"/>
<path d="M689.5 367l4.2-1.3-.5-1.5-4.2 1.2z" color="#099add"/>
<path d="M534 379l2-1.5-1-3.6-1.9 1.9z" color="#092ac7"/>
<path d="M526.5 379.3l3.6-4.1-.2-1-3.7 4.4z" color="#0924b7"/>
<path d="M700.2 376.3l4.2-1.4-.5-1.7-4.2 1.5z" color="#0947db"/>
<path d="M484.1 383.3l4.1-2.3-.7-1.3-4.2 2.4z" color="#7271ef"/>
<path d="M489.4 383.1l4.2-2.3-.8-1.3-4.1 2.3z" color="#6160fe"/>
<path d="M526.7 379.9l3.7-3.8-.3-.9-3.6 4.1z" color="#0921bb"/>
<path d="M537.7 381.1l5.5-4-1.7-3.9-5.5 4.3z" color="#0c2fd8"/>
<path d="M706.1 376.4l4.1-1.2-1.2-.7-4.1 1.4z" color="#092c8e"/>
<path d="M524.6 381l1.9-1.7-1-2.7-1.9 2z" color="#0915bf"/>
<path d="M711.4 376l4.2-1.2-1.2-.9-4.2 1.3z" color="#093899"/>
<path d="M690 369.3l4.1-1.3-.4-2.3-4.2 1.3z" color="#0982c6"/>
<path d="M505.7 383.7l4.2-2.6-1.2-2.5-4.2 2.7z" color="#2b2ae7"/>
<path d="M527 380.6l3.6-3.6-.2-.9-3.7 3.8z" color="#091dc0"/>
<path d="M695.6 375.7l4.1-1-.9-5-4.2 1.1z" color="#0957c2"/>
<path d="M479.2 384.2l4.1-2.1-.7-1.2-4.2 2.2z" color="#2422b4"/>
<path d="M522.5 384.7l2.8-2-3.4-8-2.7 2.5z" color="#090fc5"/>
<path d="M499.9 383.9l4.6-2.6-.9-1.9-4.7 2.7z" color="#3736ee"/>
<path d="M700.7 377.3l4.2-1.4-.5-1-4.2 1.4z" color="#0943e3"/>
<path d="M548.9 381.4l4.1-2.4-2.6-6.2-4.2 2.9z" color="#0c38e4"/>
<path d="M510.9 383l4.1-2.7-.5-1-4.1 2.8z" color="#1e1dde"/>
<path d="M527.2 381.2l3.7-3.3-.3-.9-3.6 3.6z" color="#0919c5"/>
<path d="M532.1 381.1l2.2-1.6-1-2.8-2.2 2z" color="#0a1dd0"/>
<path d="M496 385.4l3.6-1.9-2.1-4.3-3.7 2.1z" color="#2d2cde"/>
<path d="M484.8 384.6l4.1-2.3-.7-1.3-4.1 2.3z" color="#6766ed"/>
<path d="M490.1 384.5l4.2-2.3-.7-1.4-4.2 2.3z" color="#3f3eeb"/>
<path d="M690.7 373.2l4.2-1.1-.8-4.1-4.1 1.3z" color="#096ebe"/>
<path d="M535.2 381.5l2-1.4-1.2-2.6-2 1.5z" color="#1025dc"/>
<path d="M511.3 384l4.2-2.7-.5-1-4.1 2.7z" color="#2625e3"/>
<path d="M696.1 377.4l4.1-1.1-.5-1.6-4.1 1z" color="#094ddb"/>
<path d="M479.9 385.4l4.2-2.1-.8-1.2-4.1 2.1z" color="#2d2cbe"/>
<path d="M701.7 377.7l4.1-1.2-.9-.6-4.2 1.4z" color="#092e8d"/>
<path d="M528.2 383.4l3.6-2.8-.9-2.7-3.7 3.3z" color="#0b13d0"/>
<path d="M538.1 382l5.6-3.8-.5-1.1-5.5 4z" color="#1632e6"/>
<path d="M500.6 385.3l4.7-2.6-.8-1.4-4.6 2.6z" color="#302fe0"/>
<path d="M506.5 385.1l4.1-2.6-.7-1.4-4.2 2.6z" color="#3332e8"/>
<path d="M712.4 378.7l4.2-1.3-1-2.6-4.2 1.2z" color="#094fe4"/>
<path d="M707.3 377.1l4.1-1.1-1.2-.8-4.1 1.2z" color="#093b94"/>
<path d="M485.5 385.8l4.2-2.2-.8-1.3-4.1 2.3z" color="#4948e2"/>
<path d="M545.3 381.7l2.8-1.8-1.2-2.6-2.8 1.9z" color="#1234e6"/>
<path d="M526 384.3l1.9-1.4-1.4-3.6-1.9 1.7z" color="#0b0ccc"/>
<path d="M532.8 382.6l2.2-1.6-.7-1.5-2.2 1.6z" color="#1b27e5"/>
<path d="M511.8 384.9l4.2-2.6-.5-1-4.2 2.7z" color="#302fe9"/>
<path d="M490.9 385.8l4.1-2.2-.7-1.4-4.2 2.3z" color="#302fd7"/>
<path d="M696.6 378.4l4.1-1.1-.5-1-4.1 1.1z" color="#0949e2"/>
<path d="M691.7 377.6l4.1-1-.9-4.5-4.2 1.1z" color="#095ac9"/>
<path d="M538.6 383l5.5-3.8-.4-1-5.6 3.8z" color="#2039ed"/>
<path d="M535.7 382.4l2-1.3-.5-1-2 1.4z" color="#2030ed"/>
<path d="M480.6 386.6l4.2-2-.7-1.3-4.2 2.1z" color="#2a29bb"/>
<path d="M528.6 384.3l3.7-2.7-.5-1-3.6 2.8z" color="#2b2fe9"/>
<path d="M512.3 385.8l4.2-2.5-.5-1-4.2 2.6z" color="#2f2ee5"/>
<path d="M501.3 386.7l4.7-2.6-.7-1.4-4.7 2.6z" color="#2d2cd7"/>
<path d="M507.2 386.4l4.1-2.4-.7-1.5-4.1 2.6z" color="#4948f5"/>
<path d="M549.3 382.4l4.2-2.4-.5-1-4.1 2.4z" color="#1a3cf3"/>
<path d="M496.7 386.8l3.7-1.9-.8-1.4-3.6 1.9z" color="#2b29d0"/>
<path d="M486.2 387l4.2-2.1-.7-1.3-4.2 2.2z" color="#3130cd"/>
<path d="M533.5 384l2.2-1.6-.7-1.4-2.2 1.6z" color="#343cf8"/>
<path d="M539.1 383.9l5.5-3.7-.5-1-5.5 3.8z" color="#2f45f1"/>
<path d="M491.6 387.1l4.1-2.1-.7-1.4-4.1 2.2z" color="#2827ca"/>
<path d="M545.8 382.7l2.8-1.8-.5-1-2.8 1.8z" color="#2441f5"/>
<path d="M713.4 382.3l4.1-1.4-.9-3.5-4.2 1.3z" color="#0937d5"/>
<path d="M523 385.7l2.8-1.9-.5-1.1-2.8 2z" color="#1a18d5"/>
<path d="M536.4 383.8l2-1.3-.7-1.4-2 1.3z" color="#3643fa"/>
<path d="M703.1 378.2l4.2-1.1-1.5-.6-4.1 1.2z" color="#093b89"/>
<path d="M697.8 378.9l4.1-1.2-1.2-.4-4.1 1.1z" color="#093184"/>
<path d="M692.2 378.9l4.1-.9-.5-1.4-4.1 1z" color="#0956e5"/>
<path d="M512.8 386.8l4.1-2.5-.4-1-4.2 2.5z" color="#2221d6"/>
<path d="M708.2 379.9l4.2-1.2-1-2.7-4.1 1.1z" color="#0955e2"/>
<path d="M529.4 385.6l3.6-2.6-.7-1.4-3.7 2.7z" color="#5254fa"/>
<path d="M518.1 386.8l4.2-2.6-.5-1.1-4.1 2.8z" color="#1514cb"/>
<path d="M526.8 385.6l1.8-1.3-.7-1.4-1.9 1.4z" color="#5250f1"/>
<path d="M481.3 387.8l4.2-2-.7-1.2-4.2 2z" color="#211fb2"/>
<path d="M549.8 383.3l4.2-2.3-.5-1-4.2 2.4z" color="#2543f5"/>
<path d="M539.6 384.9l5.5-3.7-.5-1-5.5 3.7z" color="#4155f6"/>
<path d="M502 388l4.7-2.5-.7-1.4-4.7 2.6z" color="#3938db"/>
<path d="M507.9 387.7l4.2-2.3-.8-1.4-4.1 2.4z" color="#5958fd"/>
<path d="M497.4 388.1l3.7-1.8-.7-1.4-3.7 1.9z" color="#201ebf"/>
<path d="M486.9 388.3l4.2-2.1-.7-1.3-4.2 2.1z" color="#2220ba"/>
<path d="M546.5 384.1l2.8-1.7-.7-1.5-2.8 1.8z" color="#3c56fd"/>
<path d="M523.8 387l2.7-1.8-.7-1.4-2.8 1.9z" color="#7877f4"/>
<path d="M534.2 385.3l2.2-1.5-.7-1.4-2.2 1.6z" color="#555aff"/>
<path d="M513.3 387.7l4.1-2.3-.5-1.1-4.1 2.5z" color="#1f1dcf"/>
<path d="M492.3 388.3l4.2-2-.8-1.3-4.1 2.1z" color="#201fbd"/>
<path d="M518.6 387.8l4.2-2.6-.5-1-4.2 2.6z" color="#2e2ddd"/>
<path d="M692.9 379.9l4.1-1.1-.7-.8-4.1 .9z" color="#0946bd"/>
<path d="M537.2 385.2l1.9-1.3-.7-1.4-2 1.3z" color="#5a63ff"/>
<path d="M550.6 384.7l4.1-2.3-.7-1.4-4.2 2.3z" color="#334ff7"/>
<path d="M530.1 387l3.6-2.6-.7-1.4-3.6 2.6z" color="#77f"/>
<path d="M527.5 386.9l1.9-1.3-.8-1.3-1.8 1.3z" color="#9b9aff"/>
<path d="M482.1 389l4.1-2-.7-1.2-4.2 2z" color="#1816a8"/>
<path d="M540.3 386.2l5.5-3.5-.7-1.5-5.5 3.7z" color="#5e6ffd"/>
<path d="M703.6 379.4l4.2-1.1-.5-1.2-4.2 1.1z" color="#0962e8"/>
<path d="M513.8 388.6l4.1-2.3-.5-.9-4.1 2.3z" color="#2322cf"/>
<path d="M709.2 383.7l4.2-1.4-1-3.6-4.2 1.2z" color="#093dd2"/>
<path d="M502.8 389.3l4.6-2.4-.7-1.4-4.7 2.5z" color="#4241da"/>
<path d="M508.6 389l4.2-2.2-.7-1.4-4.2 2.3z" color="#4442e8"/>
<path d="M714.8 386.3l4.2-1.5-1.5-3.9-4.1 1.4z" color="#091fe4"/>
<path d="M498.2 389.4l3.6-1.8-.7-1.3-3.7 1.8z" color="#1f1eb7"/>
<path d="M487.7 389.5l4.1-2-.7-1.3-4.2 2.1z" color="#1817ad"/>
<path d="M699 379.7l4.1-1.5-1.2-.5-4.1 1.2z" color="#094493"/>
<path d="M519.4 389.1l4.1-2.5-.7-1.4-4.2 2.6z" color="#7675fa"/>
<path d="M547.3 385.4l2.8-1.6-.8-1.4-2.8 1.7z" color="#6177ff"/>
<path d="M524.5 388.3l2.7-1.8-.7-1.3-2.7 1.8z" color="#cbcaff"/>
<path d="M535 386.7l2.2-1.5-.8-1.4-2.2 1.5z" color="#7f81ff"/>
<path d="M571 392.3l4.1-1.9-8.9-16.3-4.1 2.1z" color="#0a23e3"/>
<path d="M493 389.6l4.2-1.9-.7-1.4-4.2 2z" color="#1615af"/>
<path d="M537.9 386.5l1.9-1.2-.7-1.4-1.9 1.3z" color="#858bff"/>
<path d="M551.3 386l4.1-2.2-.7-1.4-4.1 2.3z" color="#425bf9"/>
<path d="M704.3 382.1l4.2-1.3-.7-2.5-4.2 1.1z" color="#0953d7"/>
<path d="M530.8 388.3l3.7-2.5-.8-1.4-3.6 2.6z" color="#9d9cff"/>
<path d="M528.2 388.2l1.9-1.2-.7-1.4-1.9 1.3z" color="#bfbeff"/>
<path d="M514.5 390l4.1-2.2-.7-1.5-4.1 2.3z" color="#3635da"/>
<path d="M541 387.6l5.5-3.5-.7-1.4-5.5 3.5z" color="#8592ff"/>
<path d="M694.3 380.5l4.2-1.5-1.5-.2-4.1 1.1z" color="#09397d"/>
<path d="M503.5 390.5l4.7-2.3-.8-1.3-4.6 2.4z" color="#3b3acf"/>
<path d="M509.4 390.3l4.1-2.1-.7-1.4-4.2 2.2z" color="#2e2cce"/>
<path d="M498.9 390.6l3.6-1.7-.7-1.3-3.6 1.8z" color="#1a19ac"/>
<path d="M520.1 390.3l4.1-2.5-.7-1.2-4.1 2.5z" color="#a1a0fa"/>
<path d="M548 386.8l2.8-1.7-.7-1.3-2.8 1.6z" color="#8497ff"/>
<path d="M525.2 389.5l2.8-1.7-.8-1.3-2.7 1.8z" color="#d7d5ff"/>
<path d="M535.7 388l2.2-1.5-.7-1.3-2.2 1.5z" color="#a8a9ff"/>
<path d="M699.5 380.9l4.1-1.5-.5-1.2-4.1 1.5z" color="#0967e8"/>
<path d="M538.6 387.9l2-1.2-.8-1.4-1.9 1.2z" color="#aeb2ff"/>
<path d="M715.5 387.3l4.2-1.5-.7-1-4.2 1.5z" color="#0915c5"/>
<path d="M552 387.3l4.2-2.1-.8-1.4-4.1 2.2z" color="#495ff9"/>
<path d="M710.7 387.8l4.1-1.5-1.4-4-4.2 1.4z" color="#0924e3"/>
<path d="M531.5 389.5l3.7-2.4-.7-1.3-3.7 2.5z" color="#bebdff"/>
<path d="M528.9 389.5l1.9-1.2-.7-1.3-1.9 1.2z" color="#d9d7ff"/>
<path d="M515.2 391.2l4.2-2.1-.8-1.3-4.1 2.2z" color="#4c4bdd"/>
<path d="M541.8 388.9l5.5-3.5-.8-1.3-5.5 3.5z" color="#a9b4ff"/>
<path d="M705.3 386l4.2-1.4-1-3.8-4.2 1.3z" color="#093bd0"/>
<path d="M504.2 391.7l4.7-2.2-.7-1.3-4.7 2.3z" color="#2826bc"/>
<path d="M510.1 391.6l4.1-2.1-.7-1.3-4.1 2.1z" color="#2524bf"/>
<path d="M700.2 383.6l4.1-1.5-.7-2.7-4.1 1.5z" color="#0957d5"/>
<path d="M520.8 391.5l4.2-2.4-.8-1.3-4.1 2.5z" color="#9392f2"/>
<path d="M548.7 388.1l2.8-1.6-.7-1.4-2.8 1.7z" color="#9aacff"/>
<path d="M525.9 390.7l2.8-1.6-.7-1.3-2.8 1.7z" color="#d6d5ff"/>
<path d="M536.4 389.3l2.2-1.4-.7-1.4-2.2 1.5z" color="#cbcaff"/>
<path d="M695.1 381.8l4.1-1.6-.7-1.2-4.2 1.5z" color="#0964d4"/>
<path d="M539.3 389.2l2-1.2-.7-1.3-2 1.2z" color="#cecfff"/>
<path d="M552.7 388.6l4.2-2.1-.7-1.3-4.2 2.1z" color="#475bf8"/>
<path d="M532.3 390.8l3.6-2.4-.7-1.3-3.7 2.4z" color="#d7d6ff"/>
<path d="M562.9 396.3l4.2-1.8-10.4-18.9-4.2 2.3z" color="#0d27e5"/>
<path d="M515.9 392.4l4.2-2.1-.7-1.2-4.2 2.1z" color="#3a38d0"/>
<path d="M542.5 390.2l5.5-3.4-.7-1.4-5.5 3.5z" color="#c3cbff"/>
<path d="M716.7 387.9l4.2-1.3-1.2-.8-4.2 1.5z" color="#09188c"/>
<path d="M504.9 392.9l4.7-2.2-.7-1.2-4.7 2.2z" color="#1917ab"/>
<path d="M510.8 392.8l4.2-2-.8-1.3-4.1 2.1z" color="#1c1bb2"/>
<path d="M711.4 388.7l4.1-1.4-.7-1-4.1 1.5z" color="#0919c1"/>
<path d="M521.5 392.7l4.2-2.4-.7-1.2-4.2 2.4z" color="#8483ec"/>
<path d="M549.4 389.4l2.8-1.7-.7-1.2-2.8 1.6z" color="#9eaeff"/>
<path d="M526.6 392l2.8-1.7-.7-1.2-2.8 1.6z" color="#cccaff"/>
<path d="M706.5 389.3l4.2-1.5-1.2-3.2-4.2 1.4z" color="#0928e4"/>
<path d="M701.1 387.5l4.2-1.5-1-3.9-4.1 1.5z" color="#0940d0"/>
<path d="M530.6 392.4l1.9-1.2-1.7-2.9-1.9 1.2z" color="#e5e3ff"/>
<path d="M695.8 384.3l4.1-1.6-.7-2.5-4.1 1.6z" color="#0960dc"/>
<path d="M553.5 389.8l4.1-2.1-.7-1.2-4.2 2.1z" color="#3d50f5"/>
<path d="M516.7 393.6l4.1-2.1-.7-1.2-4.2 2.1z" color="#2e2dc6"/>
<path d="M543.2 391.4l5.5-3.3-.7-1.3-5.5 3.4z" color="#ccd3ff"/>
<path d="M502.5 396.6l3.7-1.7-3.7-6-3.6 1.7z" color="#0d0c9a"/>
<path d="M522.3 393.9l4.1-2.3-.7-1.3-4.2 2.4z" color="#7473e8"/>
<path d="M550.2 390.6l2.8-1.6-.8-1.3-2.8 1.7z" color="#92a0ff"/>
<path d="M527.4 393.2l2.7-1.6-.7-1.3-2.8 1.7z" color="#bbbaff"/>
<path d="M506.2 394.9l4.6-2.1-1.2-2.1-4.7 2.2z" color="#100e9f"/>
<path d="M541.3 392.6l1.9-1.2-1.9-3.4-2 1.2z" color="#deddff"/>
<path d="M570.5 399.9l4.1-1.9-12.5-21.8-4.2 2.2z" color="#0a22e0"/>
<path d="M717.7 388.9l4.2-1.3-1-1-4.2 1.3z" color="#0927ab"/>
<path d="M712.6 389.3l4.1-1.4-1.2-.6-4.1 1.4z" color="#091b86"/>
<path d="M534.2 394.2l3.7-2.3-2-3.5-3.6 2.4z" color="#e5e4ff"/>
<path d="M554.2 391l4.1-2.1-.7-1.2-4.1 2.1z" color="#3143f2"/>
<path d="M696.7 388.1l4.2-1.5-1-3.9-4.1 1.6z" color="#0949d0"/>
<path d="M707.2 390.1l4.2-1.4-.7-.9-4.2 1.5z" color="#091dbb"/>
<path d="M702.1 390.2l4.2-1.4-1-2.8-4.2 1.5z" color="#092ee4"/>
<path d="M539.3 394.4l2.2-1.4-2.9-5.1-2.2 1.4z" color="#e2e1ff"/>
<path d="M517.4 394.8l4.1-2.1-.7-1.2-4.1 2.1z" color="#2928c1"/>
<path d="M544.2 393.1l5.5-3.3-1-1.7-5.5 3.3z" color="#c3c9ff"/>
<path d="M531.3 393.7l1.9-1.2-.7-1.3-1.9 1.2z" color="#d9d7ff"/>
<path d="M523 395.1l4.1-2.3-.7-1.2-4.1 2.3z" color="#6463e5"/>
<path d="M550.9 391.8l2.8-1.6-.7-1.2-2.8 1.6z" color="#7b88ff"/>
<path d="M528.1 394.4l2.8-1.6-.8-1.2-2.7 1.6z" color="#a8a6ff"/>
<path d="M499.6 400.4l4.1-1.9-6.5-10.8-4.2 1.9z" color="#0c0a98"/>
<path d="M489.6 401.3l4.1-1.9-7.5-12.4-4.1 2z" color="#0c0a98"/>
<path d="M554.9 392.2l4.2-2.1-.8-1.2-4.1 2.1z" color="#283af0"/>
<path d="M518.1 395.9l4.2-2-.8-1.2-4.1 2.1z" color="#2423bc"/>
<path d="M702.8 391.3l4.2-1.4-.7-1.1-4.2 1.4z" color="#0925ce"/>
<path d="M713.6 390.2l4.1-1.3-1-1-4.1 1.4z" color="#092caa"/>
<path d="M708.4 390.5l4.2-1.2-1.2-.6-4.2 1.4z" color="#091e7f"/>
<path d="M532.1 394.9l1.9-1.1-.8-1.3-1.9 1.2z" color="#c9c7ff"/>
<path d="M544.9 394.3l5.5-3.3-.7-1.2-5.5 3.3z" color="#abb0ff"/>
<path d="M523.7 396.2l4.2-2.2-.8-1.2-4.1 2.3z" color="#5654e2"/>
<path d="M551.6 393l2.8-1.6-.7-1.2-2.8 1.6z" color="#626eff"/>
<path d="M528.8 395.6l2.8-1.5-.7-1.3-2.8 1.6z" color="#9492ff"/>
<path d="M698.2 392l4.1-1.3-1.4-4.1-4.2 1.5z" color="#0935e2"/>
<path d="M542.2 394.2l2-1.1-1-1.7-1.9 1.2z" color="#c8c7ff"/>
<path d="M534.9 395.4l3.7-2.3-.7-1.2-3.7 2.3z" color="#dbd9ff"/>
<path d="M719.6 392.7l4.2-1.4-1.9-3.7-4.2 1.3z" color="#0931e7"/>
<path d="M555.6 393.4l4.2-2.1-.7-1.2-4.2 2.1z" color="#2638ef"/>
<path d="M518.8 397.1l4.2-2-.7-1.2-4.2 2z" color="#211fb9"/>
<path d="M496.8 404.6l4.2-1.9-9.2-15.2-4.1 2z" color="#0b0a98"/>
<path d="M532.8 396.1l1.9-1.1-.7-1.2-1.9 1.1z" color="#b7b5ff"/>
<path d="M545.6 395.5l5.5-3.3-.7-1.2-5.5 3.3z" color="#9095ff"/>
<path d="M704 391.8l4.2-1.3-1.2-.6-4.2 1.4z" color="#091f82"/>
<path d="M524.4 397.4l4.2-2.2-.7-1.2-4.2 2.2z" color="#4948e0"/>
<path d="M552.3 394.2l2.8-1.6-.7-1.2-2.8 1.6z" color="#5561ff"/>
<path d="M529.5 396.8l2.8-1.5-.7-1.2-2.8 1.5z" color="#8180fe"/>
<path d="M540 395.6l2.2-1.4-.7-1.2-2.2 1.4z" color="#c9c8ff"/>
<path d="M535.7 396.6l3.6-2.2-.7-1.3-3.7 2.3z" color="#cccaff"/>
<path d="M714.8 392.7l4.1-1.4-1.2-2.4-4.1 1.3z" color="#093aea"/>
<path d="M543 395.4l1.9-1.1-.7-1.2-2 1.1z" color="#aeadff"/>
<path d="M709.4 391.5l4.2-1.3-1-.9-4.2 1.2z" color="#0931a8"/>
<path d="M556.3 394.6l4.2-2.1-.7-1.2-4.2 2.1z" color="#2436ef"/>
<path d="M519.5 398.3l4.2-2.1-.7-1.1-4.2 2z" color="#1e1db6"/>
<path d="M533.5 397.3l1.9-1.1-.7-1.2-1.9 1.1z" color="#a5a3ff"/>
<path d="M546.4 396.7l5.5-3.3-.8-1.2-5.5 3.3z" color="#787cff"/>
<path d="M525.2 398.6l4.1-2.2-.7-1.2-4.2 2.2z" color="#403ede"/>
<path d="M553.1 395.4l2.8-1.6-.8-1.2-2.8 1.6z" color="#505dff"/>
<path d="M530.3 398.1l2.7-1.6-.7-1.2-2.8 1.5z" color="#716ff8"/>
<path d="M540.7 396.8l2.3-1.4-.8-1.2-2.2 1.4z" color="#b4b3ff"/>
<path d="M536.4 397.9l3.6-2.3-.7-1.2-3.6 2.2z" color="#bab9ff"/>
<path d="M543.7 396.6l1.9-1.1-.7-1.2-1.9 1.1z" color="#9695ff"/>
<path d="M557.1 395.7l4.1-2.1-.7-1.1-4.2 2.1z" color="#2234ef"/>
<path d="M721.1 393.1l4.1-1.1-1.4-.7-4.2 1.4z" color="#092186"/>
<path d="M715.5 394l4.1-1.3-.7-1.4-4.1 1.4z" color="#0934e4"/>
<path d="M705.2 392.7l4.2-1.2-1.2-1-4.2 1.3z" color="#09329e"/>
<path d="M534.2 398.5l1.9-1.1-.7-1.2-1.9 1.1z" color="#9492ff"/>
<path d="M525.9 399.8l4.1-2.1-.7-1.3-4.1 2.2z" color="#3836d8"/>
<path d="M553.8 396.6l2.8-1.6-.7-1.2-2.8 1.6z" color="#4b58ff"/>
<path d="M531 399.3l2.8-1.6-.8-1.2-2.7 1.6z" color="#6362f3"/>
<path d="M541.5 398l2.2-1.4-.7-1.2-2.3 1.4z" color="#9e9dff"/>
<path d="M711.1 394.9l4.1-1.3-1.6-3.4-4.2 1.3z" color="#093fea"/>
<path d="M537.1 399.1l3.6-2.3-.7-1.2-3.6 2.3z" color="#a8a7ff"/>
<path d="M557.8 396.9l4.2-2.1-.8-1.2-4.1 2.1z" color="#2032ee"/>
<path d="M544.7 398.2l1.9-1.1-1-1.6-1.9 1.1z" color="#7f7dff"/>
<path d="M548.3 399.8l5.5-3.2-1.9-3.2-5.5 3.3z" color="#676bff"/>
<path d="M535 399.7l1.9-1-.8-1.3-1.9 1.1z" color="#8583ff"/>
<path d="M526.6 401l4.2-2.1-.8-1.2-4.1 2.1z" color="#3130d1"/>
<path d="M554.5 397.7l2.8-1.6-.7-1.1-2.8 1.6z" color="#4653ff"/>
<path d="M531.7 400.4l2.8-1.5-.7-1.2-2.8 1.6z" color="#5856ef"/>
<path d="M537.8 400.3l3.7-2.3-.8-1.2-3.6 2.3z" color="#9695ff"/>
<path d="M542.4 399.6l2.3-1.4-1-1.6-2.2 1.4z" color="#8887ff"/>
<path d="M717.2 393.8l4.1-.9-1.7-.2-4.1 1.3z" color="#092377"/>
<path d="M558.5 398.1l4.2-2.1-.7-1.2-4.2 2.1z" color="#1e31ec"/>
<path d="M706.9 396l4.2-1.1-1.7-3.4-4.2 1.2z" color="#0946e8"/>
<path d="M722.8 392.6l4.1-.7-1.7 .1-4.1 1.1z" color="#09306f"/>
<path d="M701.3 394.3l4.2-1.2-1-1.2-4.1 1.3z" color="#0941b7"/>
<path d="M711.8 395.7l4.2-1.2-.8-.9-4.1 1.3z" color="#0930b3"/>
<path d="M535.7 400.9l1.9-1-.7-1.2-1.9 1z" color="#7776ff"/>
<path d="M527.3 402.2l4.2-2.1-.7-1.2-4.2 2.1z" color="#2d2bcc"/>
<path d="M555.2 398.9l2.8-1.6-.7-1.2-2.8 1.6z" color="#414efe"/>
<path d="M532.4 401.6l2.8-1.5-.7-1.2-2.8 1.5z" color="#4f4eec"/>
<path d="M538.5 401.4l3.7-2.2-.7-1.2-3.7 2.3z" color="#8685ff"/>
<path d="M559.2 399.2l4.2-2.1-.7-1.1-4.2 2.1z" color="#1c2fe9"/>
<path d="M546.6 401.3l1.9-1.1-1.9-3.1-1.9 1.1z" color="#6b69ff"/>
<path d="M536.4 402.1l1.9-1.1-.7-1.1-1.9 1z" color="#6c6bff"/>
<path d="M543.9 401.9l2.2-1.3-1.4-2.4-2.3 1.4z" color="#7675ff"/>
<path d="M528 403.4l4.2-2.2-.7-1.1-4.2 2.1z" color="#2928c8"/>
<path d="M556 400l2.8-1.6-.8-1.1-2.8 1.6z" color="#3c49fc"/>
<path d="M533.2 402.8l2.7-1.5-.7-1.2-2.8 1.5z" color="#4847ea"/>
<path d="M713 394.7l4.2-.9-1.2 .7-4.2 1.2z" color="#092259"/>
<path d="M723.5 394.5l4.2-.9-.8-1.7-4.1 .7z" color="#0961df"/>
<path d="M550.2 402.9l5.5-3.2-1.9-3.1-5.5 3.2z" color="#5257ff"/>
<path d="M718.6 393.3l4.2-.7-1.5 .3-4.1 .9z" color="#093771"/>
<path d="M539.8 403.4l3.6-2.3-1.2-1.9-3.7 2.2z" color="#7a79ff"/>
<path d="M707.9 396.7l4.2-1-1-.8-4.2 1.1z" color="#09319c"/>
<path d="M537.1 403.3l1.9-1.1-.7-1.2-1.9 1.1z" color="#6564fd"/>
<path d="M528.8 404.6l4.1-2.2-.7-1.2-4.2 2.2z" color="#2725c6"/>
<path d="M556.7 401.2l2.8-1.6-.7-1.2-2.8 1.6z" color="#3644fa"/>
<path d="M533.9 404l2.8-1.5-.8-1.2-2.7 1.5z" color="#4342e8"/>
<path d="M724 396.4l4.1-1-.4-1.8-4.2 .9z" color="#0954d4"/>
<path d="M537.9 404.5l1.9-1.1-.8-1.2-1.9 1.1z" color="#605ffb"/>
<path d="M545.3 404.2l2.3-1.3-1.5-2.3-2.2 1.3z" color="#6462ff"/>
<path d="M719.3 395.3l4.2-.8-.7-1.9-4.2 .7z" color="#096bde"/>
<path d="M714.5 394l4.1-.7-1.4 .5-4.2 .9z" color="#093c70"/>
<path d="M529.5 405.8l4.1-2.2-.7-1.2-4.1 2.2z" color="#2524c4"/>
<path d="M562.4 404.2l4.1-2.1-3.1-5-4.2 2.1z" color="#172be3"/>
<path d="M534.6 405.2l2.8-1.5-.7-1.2-2.8 1.5z" color="#403fe5"/>
<path d="M526.5 418.4l4.2-2-15.7-25.6-4.2 2z" color="#100ea1"/>
<path d="M725 400.4l4.1-1.2-1-3.8-4.1 1z" color="#0940d0"/>
<path d="M548.8 404.8l1.9-1.1-2.2-3.5-1.9 1.1z" color="#5250ff"/>
<path d="M558.1 403.5l2.8-1.6-1.4-2.3-2.8 1.6z" color="#2f3ef6"/>
<path d="M719.8 397.4l4.2-1-.5-1.9-4.2 .8z" color="#095bcf"/>
<path d="M541.9 406.9l3.7-2.3-2.2-3.5-3.6 2.3z" color="#6866ff"/>
<path d="M538.6 405.7l1.9-1.1-.7-1.2-1.9 1.1z" color="#5b5af9"/>
<path d="M551.9 405.6l5.5-3.3-1.7-2.6-5.5 3.2z" color="#4045ff"/>
<path d="M530.2 406.9l4.2-2.1-.8-1.2-4.1 2.2z" color="#2423c3"/>
<path d="M535.3 406.4l2.8-1.5-.7-1.2-2.8 1.5z" color="#3d3ce3"/>
<path d="M529.9 415.2l4.2-2-10.4-17-4.2 2.1z" color="#1615ae"/>
<path d="M715.2 396.2l4.1-.9-.7-2-4.1 .7z" color="#0974dd"/>
<path d="M710.3 395.2l4.2-1.2-1.5 .7-4.1 1z" color="#094171"/>
<path d="M725.9 403.1l4.2-1.3-1-2.6-4.1 1.2z" color="#092fe5"/>
<path d="M720.8 401.6l4.2-1.2-1-4-4.2 1z" color="#0947cd"/>
<path d="M521.8 420.6l4.7-2.2-15.7-25.6-4.6 2.1z" color="#0c0b99"/>
<path d="M539.3 406.8l1.9-1.1-.7-1.1-1.9 1.1z" color="#5756f8"/>
<path d="M546.8 406.5l2.2-1.3-1.4-2.3-2.3 1.3z" color="#5250ff"/>
<path d="M536.1 407.5l2.7-1.4-.7-1.2-2.8 1.5z" color="#3b3ae0"/>
<path d="M715.9 399.5l4.2-1-.8-3.2-4.1 .9z" color="#095eca"/>
<path d="M721.5 403.8l4.2-1.2-.7-2.2-4.2 1.2z" color="#0938e2"/>
<path d="M711 397.4l4.2-1.2-.7-2.2-4.2 1.2z" color="#097cde"/>
<path d="M540.3 408.4l1.9-1.1-1-1.6-1.9 1.1z" color="#5250f6"/>
<path d="M536.8 408.7l2.7-1.5-.7-1.1-2.7 1.4z" color="#3938de"/>
<path d="M706.2 396.6l4.1-1.4-1.4 .5-4.2 1.1z" color="#094675"/>
<path d="M553.8 408.6l5.5-3.3-1.9-3-5.5 3.3z" color="#2f36f4"/>
<path d="M551.4 408.9l2-1.1-2.7-4.1-1.9 1.1z" color="#3736f8"/>
<path d="M716.9 403.7l4.1-1.2-.9-4-4.2 1z" color="#0948ce"/>
<path d="M561.3 408.3l2.8-1.5-3.2-4.9-2.8 1.6z" color="#2132e8"/>
<path d="M711.5 399.5l4.2-1.2-.5-2.1-4.2 1.2z" color="#0967c9"/>
<path d="M544.3 410.7l3.7-2.3-2.4-3.8-3.7 2.3z" color="#504ffd"/>
<path d="M533.8 412.8l4.2-2.1-3.6-5.9-4.2 2.1z" color="#2120c0"/>
<path d="M537.5 409.9l2.8-1.5-.8-1.2-2.7 1.5z" color="#3736dc"/>
<path d="M548.5 409.2l2.2-1.4-1.7-2.6-2.2 1.3z" color="#403efa"/>
<path d="M706.9 398.7l4.1-1.3-.7-2.2-4.1 1.4z" color="#0982df"/>
<path d="M542.2 411.5l1.9-1.2-1.9-3-1.9 1.1z" color="#4948f2"/>
<path d="M538.2 411l2.8-1.5-.7-1.1-2.8 1.5z" color="#3534da"/>
<path d="M539 412.2l2.7-1.5-.7-1.2-2.8 1.5z" color="#3332d8"/>
<path d="M550.9 412.9l2.2-1.4-2.4-3.7-2.2 1.4z" color="#2b2ae7"/>
<path d="M546.3 413.7l3.6-2.3-1.9-3-3.7 2.3z" color="#3c3aed"/>
<path d="M557.2 413.6l5.5-3.1-3.4-5.2-5.5 3.3z" color="#1c26df"/>
<path d="M540.2 414.1l2.7-1.5-1.2-1.9-2.7 1.5z" color="#302fd6"/>
<path d="M555.3 414.7l1.9-1.1-3.8-5.8-2 1.1z" color="#1c1fdd"/>
<path d="M545.1 416l1.9-1.1-2.9-4.6-1.9 1.2z" color="#3a39e5"/>
<path d="M548.4 417.1l3.7-2.4-2.2-3.3-3.6 2.3z" color="#2a29dd"/>
<path d="M544.5 420.9l2.8-1.6-4.4-6.7-2.7 1.5z" color="#2726cf"/>
<path d="M555.5 419.6l2.2-1.4-4.6-6.7-2.2 1.4z" color="#1418cf"/>
<path d="M734.1 402.8l4.2-1-1 .5-4.1 .8z" color="#09617c"/>
<path d="M549.2 422.2l1.9-1.2-4.1-6.1-1.9 1.1z" color="#2422d1"/>
<path d="M734.6 404.5l4.2-1.1-.5-1.6-4.2 1z" color="#09a5db"/>
<path d="M554.5 425.9l3.6-2.7-6-8.5-3.7 2.4z" color="#1315c5"/>
<path d="M627.6 408.4l4.1-.6-3.8 .6-4.2 1.5z" color="#09425c"/>
<path d="M625.5 408.7l2.1-.3-4.6 1.5-2.1 .7z" color="#093f59"/>
<path d="M564.9 427.7l2-.9-9.7-13.2-1.9 1.1z" color="#0a20c2"/>
<path d="M550.5 437.8l4.2-2.4-16.7-24.7-4.2 2.1z" color="#1413bc"/>
<path d="M623.7 408.5l2-.2-5 2.3-2.1 .8z" color="#093e56"/>
<path d="M732.9 415.8l4.1-1.1-.7-1.3-4.2 1.2z" color="#0963b7"/>
<path d="M611.5 413.7l5.4-1.6-2.9 .9-5.4 2.2z" color="#093757"/>
<path d="M733.6 414.1l4.1-.7-.7 1.3-4.1 1.1z" color="#093452"/>
<path d="M739.4 403.7l4.2 .1-1.7 8.7-4.2 .9z" color="#09414b"/>
<path d="M562.7 429l2.2-1.3-7.2-9.5-2.2 1.4z" color="#0a1fb8"/>
<path d="M546.8 440.9l4.2-2.4-16.9-25.3-4.2 2z" color="#100fb2"/>
<path d="M619.8 408.1l4.1-.2-4.1 3.4-4.1 1.5z" color="#09404f"/>
<path d="M553.9 434.4l2.8-1.7-9.4-13.4-2.8 1.6z" color="#1010bf"/>
<path d="M608.5 413.7l3.5-.6-3.6 2-3.5 1.3z" color="#093853"/>
<path d="M556.7 432.7l1.9-1.4-7.5-10.3-1.9 1.2z" color="#0d10ba"/>
<path d="M735.5 402.4l4.2 .4-2 10.6-4.1 .7z" color="#09454a"/>
<path d="M725 415.4l4.2 .2-1.2 0-4.2 .3z" color="#095787"/>
<path d="M543.2 444.1l4.1-2.6-16.6-25.1-4.2 2z" color="#100fac"/>
<path d="M731.4 401.7l4.1 .7-2.1 12.6-4.2 .6z" color="#0a4649"/>
<path d="M614.4 407.9l5.4 .2-2.9 4-5.4 1.6z" color="#09454c"/>
<path d="M720.4 416.1l4.2 .5-.8-.7-4.1-.2z" color="#096897"/>
<path d="M606.1 411.2l3.6 .4-4.4 4.8-3.6 1z" color="#093d4e"/>
<path d="M741.9 407.4l4.1 .3-1.1-4.2-4.2-.3z" color="#0aa5a0"/>
<path d="M538.3 446.6l4.6-2.8-16.4-25.4-4.7 2.2z" color="#100fa6"/>
<path d="M720.9 414.6l4.1 .8-.4 1.2-4.2-.5z" color="#093d4c"/>
<path d="M727.2 401.1l4.2 .6-2.2 13.9-4.2-.2z" color="#0c4948"/>
<path d="M621.7 397.2l4.1 3.1-1.9 7.6-4.1 .2z" color="#0f5346"/>
<path d="M737.7 406.9l4.1 .4-1.4-4.9-4.2-.5z" color="#12ac9b"/>
<path d="M742.7 408.7l4.2 .1-.9-1.1-4.1-.3z" color="#098381"/>
<path d="M610.9 407.6l3.5 .3-2.4 5.2-3.5 .6z" color="#094a4c"/>
<path d="M534.4 448.2l3.6-2-16.2-25.6-3.6 1.6z" color="#0f0d9f"/>
<path d="M601.9 410l4.2 1.2-3.1 5.4-4.2 .4z" color="#09454c"/>
<path d="M722.8 401.4l4.2 .7-2 13.3-4.1-.8z" color="#0d4d47"/>
<path d="M616.1 394.7l5.3 4.1-1.6 9.3-5.4-.2z" color="#135442"/>
<path d="M743.8 408.5l4.2-.8-1.1 1.1-4.2-.1z" color="#0a473f"/>
<path d="M738.4 408.3l4.2 .3-.8-1.3-4.1-.4z" color="#0c968c"/>
<path d="M727.9 400.5l4.2 .7-.7 .5-4.2-.6z" color="#1d6e52"/>
<path d="M733.9 407.1l4.1 .6-1.8-5.8-4.1-.7z" color="#1aa990"/>
<path d="M607.5 405.1l3.6 1-1.4 5.5-3.6-.4z" color="#0c524a"/>
<path d="M718.9 399.5l4.2 .9-2.5 15.1-4.1-1z" color="#104e44"/>
<path d="M728.9 403.7l4.1 .9-.9-3.4-4.2-.7z" color="#29ae87"/>
<path d="M612.3 395.2l3.6 1.8-1.5 10.9-3.5-.3z" color="#17543e"/>
<path d="M739.7 409.2l4.1-.7-1.2 .1-4.2-.3z" color="#0d6156"/>
<path d="M531.2 451.8l4.1-2.2-15.9-25.4-4.2 1.8z" color="#0c0b9a"/>
<path d="M734.8 408.3l4.1 .3-.9-.9-4.1-.6z" color="#128372"/>
<path d="M603.4 403.1l4.1 2-1.4 6.1-4.2-1.2z" color="#105446"/>
<path d="M608.7 393.6l3.6 1.6-1.2 10.9-3.6-1z" color="#1e5437"/>
<path d="M730.3 407.3l4.1 .6-1.4-3.3-4.1-.9z" color="#1f9d80"/>
<path d="M735.5 409.7l4.2-.5-.8-.6-4.1-.3z" color="#148673"/>
<path d="M551.5 439l4.1-2.5-.9-1.1-4.2 2.4z" color="#090ead"/>
<path d="M599.2 400.4l4.2 2.7-1.5 6.9-4.1-1.9z" color="#17543f"/>
<path d="M720.2 399.9l4.1 1.2-.5-1.3-4.2-1.1z" color="#3eab6f"/>
<path d="M730.9 408.9l4.1-.3-.6-.7-4.1-.6z" color="#1c9379"/>
<path d="M604.6 391.1l4.1 2.5-1.2 11.5-4.1-2z" color="#245431"/>
<path d="M726.7 408.9l4.1-.2-2.5-7.1-4.1-.9z" color="#2aa078"/>
<path d="M610 379.4l3.5 2.3-1.2 13.5-3.6-1.6z" color="#365420"/>
<path d="M715.6 397.6l4.2 1.3-.9 .6-4.1-1.1z" color="#357b47"/>
<path d="M731.4 410.9l4.1-1.2-.5-1.1-4.1 .3z" color="#1ca085"/>
<path d="M721.3 402.8l4.2 1.6-1.2-3.3-4.1-1.2z" color="#379f69"/>
<path d="M528.5 456l4.1-2.3-15.9-25.3-4.2 1.8z" color="#0b0a97"/>
<path d="M600.4 388.2l4.2 2.9-1.2 12-4.2-2.7z" color="#2b542a"/>
<path d="M716.3 398.9l4.1 1.7-.6-1.7-4.2-1.3z" color="#46a560"/>
<path d="M605.8 376.9l4.2 2.5-1.3 14.2-4.1-2.5z" color="#3c541a"/>
<path d="M547.8 442l4.1-2.6-.9-.9-4.2 2.4z" color="#090aa1"/>
<path d="M727.2 412.2l4.2-1.3-.6-2.2-4.1 .2z" color="#1e9578"/>
<path d="M723.1 413.5l4.1-1.3-1.7-7.8-4.2-1.6z" color="#299069"/>
<path d="M717.7 403.6l4.1 1.3-1.4-4.3-4.1-1.7z" color="#3d9559"/>
<path d="M549 442.7l4.2-2.9-1.3-.4-4.1 2.6z" color="#091076"/>
<path d="M713 398.1l3.8 1.9-.7-1.5-3.8-1.6z" color="#48924c"/>
<path d="M544.1 445.1l4.2-2.7-1-.9-4.1 2.6z" color="#090894"/>
<path d="M718.9 414.8l4.2-1.3-1.3-8.6-4.1-1.3z" color="#29865e"/>
<path d="M714 404.2l3.9 .9-1.1-5.1-3.8-1.9z" color="#428c4c"/>
<path d="M539.5 448.1l4.6-3-1.2-1.3-4.6 2.8z" color="#090898"/>
<path d="M708.9 396.9l4.5 2.5-1.2-2.5-4.4-2.4z" color="#4d863b"/>
<path d="M545.6 445.8l4.1-3.1-1.4-.3-4.2 2.7z" color="#090e6f"/>
<path d="M715.1 416.1l3.8-1.3-1-9.7-3.9-.9z" color="#2a8057"/>
<path d="M535.6 449.9l3.6-2.1-1.2-1.6-3.6 2z" color="#0b0a9b"/>
<path d="M704.4 392l4.2 3.5-1.1-1.1-4.1-3z" color="#4a6f27"/>
<path d="M709.7 405.5l4.5 .7-.8-6.8-4.5-2.5z" color="#438442"/>
<path d="M540.4 448.9l4.7-3.2-1-.6-4.6 3z" color="#090880"/>
<path d="M705 396.2l4.2 2.8-.6-3.5-4.2-3.5z" color="#578731"/>
<path d="M710.6 417.6l4.5-1.5-.9-9.9-4.5-.7z" color="#2b7d53"/>
<path d="M537 451.3l3.7-2.3-1.5-1.2-3.6 2.1z" color="#090884"/>
<path d="M541.9 449.2l4.6-3.6-1.4 .1-4.7 3.2z" color="#090e62"/>
<path d="M705.7 406.3l4.2 .8-.7-8.1-4.2-2.8z" color="#457e3b"/>
<path d="M700.6 388.7l4.2 5-.4-1.8-4.2-5.4z" color="#648220"/>
<path d="M706.5 418.8l4.1-1.2-.7-10.5-4.2-.8z" color="#2c7a4f"/>
<path d="M532.9 453.9l4.1-2.6-1.7-1.7-4.1 2.2z" color="#09088c"/>
<path d="M701.2 396.9l4.1 3.1-.5-6.3-4.2-5z" color="#5a7f27"/>
<path d="M538.5 451.8l3.6-2.6-1.4-.2-3.7 2.3z" color="#090b67"/>
<path d="M701.7 407.9l4.2 .8-.6-8.7-4.1-3.1z" color="#457b37"/>
<path d="M524.8 467.3l4.1-2.5-15.9-25.2-4.2 1.8z" color="#0c0a96"/>
<path d="M696.5 382.9l4.2 6.8-.4-3.1-4.2-7.5z" color="#73810f"/>
<path d="M597.2 363.8l4.2 1.7-2-3.5-4.1-2.2z" color="#bf9500"/>
<path d="M544.1 447.8l4.6-4.8-2.2 2.6-4.6 3.6z" color="#091e4d"/>
<path d="M696.9 389.9l4.2 5.4-.4-5.6-4.2-6.8z" color="#677d17"/>
<path d="M702.3 419.9l4.2-1.1-.6-10.1-4.2-.8z" color="#2d794d"/>
<path d="M533.8 454.8l4.2-3.1-1-.4-4.1 2.6z" color="#090879"/>
<path d="M697.3 398.9l4.1 3.6-.3-7.2-4.2-5.4z" color="#577a25"/>
<path d="M520.6 469.3l4.2-2-15.7-25.5-4.2 1.8z" color="#0b0a96"/>
<path d="M697.7 409.2l4.1 1.7-.4-8.4-4.1-3.6z" color="#447836"/>
<path d="M692.5 377.7l4.2 7.6-.5-5.9-4.2-8.9z" color="#7c7904"/>
<path d="M593 361.8l4.2 2-1.7-3.5-4.1-2.8z" color="#c89100"/>
<path d="M698.2 420.1l4.1-.2-.5-9-4.1-1.7z" color="#2e784b"/>
<path d="M535 455.6l4.2-3.9-1.2 0-4.2 3.1z" color="#090b67"/>
<path d="M692.9 388.3l4.2 5.6-.4-8.6-4.2-7.6z" color="#6e7a0d"/>
<path d="M541.1 450.8l3.7-3.8-2.7 2.2-3.6 2.6z" color="#091c4e"/>
<path d="M530.2 458.2l4.1-3-1.7-1.5-4.1 2.3z" color="#090887"/>
<path d="M693.2 398l4.2 3.8-.3-7.9-4.2-5.6z" color="#5c781d"/>
<path d="M589.8 359.6l2.8 .8-1.2-2.9-2.8-1z" color="#d48f00"/>
<path d="M546 445.4l4.6-6.9-1.9 4.5-4.6 4.8z" color="#09334c"/>
<path d="M688.3 366.7l4.1 9.2-.4-5.4-4.1-10.3z" color="#7f6600"/>
<path d="M693.6 408.7l4.1 1.9-.3-8.8-4.2-3.8z" color="#497730"/>
<path d="M694 420l4.2 .1-.5-9.5-4.1-1.9z" color="#337745"/>
<path d="M688.9 388.3l4.2 5.2-.7-17.6-4.1-9.2z" color="#757205"/>
<path d="M583.8 358.3l5.5-.1-1-2.2-5.5 .1z" color="#da8c00"/>
<path d="M536.5 456.1l4.1-5-1.4 .6-4.2 3.9z" color="#091458"/>
<path d="M531.1 459.2l4.2-3.5-1-.5-4.1 3z" color="#09087b"/>
<path d="M683.8 349.5l4.2 11.8-.3-1.6-4.1-12.1z" color="#764700"/>
<path d="M689.2 398.1l4.2 3.5-.3-8.1-4.2-5.2z" color="#5f7719"/>
<path d="M581.4 356.8l1.9 .3-.7-1.3-2-.4z" color="#bc7400"/>
<path d="M684.2 357.9l4.1 10.3-.3-6.9-4.2-11.8z" color="#7d5200"/>
<path d="M689.5 408.7l4.2 1.7-.3-8.8-4.2-3.5z" color="#4d762b"/>
<path d="M684.4 366.3l4.2 8.7-.3-6.8-4.1-10.3z" color="#7a5c00"/>
<path d="M689.8 420l4.2 0-.3-9.6-4.2-1.7z" color="#377640"/>
<path d="M531.3 468.3l4.2-4.5-10.4-13.1-4.2 1.9z" color="#0b0a90"/>
<path d="M579.1 354.2l2.3 2.6-.8-1.4-2.2-2.7z" color="#a86300"/>
<path d="M547.7 444.1l4.6-10.3-1.7 4.7-4.6 6.9z" color="#09434c"/>
<path d="M581.8 358l2 .3-.5-1.2-1.9-.3z" color="#d48300"/>
<path d="M532.1 460.2l4.1-4.2-.9-.3-4.2 3.5z" color="#090b72"/>
<path d="M684.9 386.4l4.1 5.2-.4-16.6-4.2-8.7z" color="#766e02"/>
<path d="M679.7 337.9l4.2 12.6-.2-2.7-4.2-13.1z" color="#7d3600"/>
<path d="M597.4 373.3l4.1 0-4.3-9.5-4.2-2z" color="#dca800"/>
<path d="M685.1 396.9l4.2 3.4-.3-8.7-4.1-5.2z" color="#657612"/>
<path d="M544 451.2l3.7-7.1-2.9 2.9-3.7 3.8z" color="#093350"/>
<path d="M680 345.8l4.2 11.2-.3-6.5-4.2-12.6z" color="#7b3d00"/>
<path d="M685.4 408.1l4.1 1.6-.2-9.4-4.2-3.4z" color="#527524"/>
<path d="M579.9 356.5l2.2 2.1-.7-1.8-2.3-2.6z" color="#c17200"/>
<path d="M680.2 354.2l4.2 9.8-.2-7-4.2-11.2z" color="#794600"/>
<path d="M569.6 361.1l2.8-8.6-1 7.3-2.7 7.8z" color="#553700"/>
<path d="M538.9 457.1l4.2-6.7-2.5 .7-4.1 5z" color="#092354"/>
<path d="M575.5 350.4l3.6 3.8-.4-1.1-3.7-4.1z" color="#c66702"/>
<path d="M594.4 372.9l2.8 0-4.6-12.5-2.8-.8z" color="#dfa200"/>
<path d="M685.7 420.3l4.1-.3-.3-10.3-4.1-1.6z" color="#3c753b"/>
<path d="M680.4 362.6l4.1 8.4-.1-7-4.2-9.8z" color="#785100"/>
<path d="M533.1 461.1l4.1-4.9-1-.2-4.1 4.2z" color="#090f6c"/>
<path d="M573.1 352l1.9-3-.7 .5-1.9 3z" color="#713b01"/>
<path d="M680.6 371.7l4.1 6.9-.2-7.6-4.1-8.4z" color="#775d00"/>
<path d="M583.8 364l1.9 0-1.9-5.7-2-.3z" color="#dc8c00"/>
<path d="M575.7 351.4l3.7 3.5-.3-.7-3.6-3.8z" color="#c26700"/>
<path d="M676.9 330.8l2.9 9.3-.3-5.4-2.9-9.9z" color="#7c2400"/>
<path d="M681 396.5l4.2 2.9-.5-20.8-4.1-6.9z" color="#707006"/>
<path d="M573.6 353.4l1.9-3-.5-1.4-1.9 3z" color="#b15a02"/>
<path d="M677.2 343.9l3 7.7-.4-11.5-2.9-9.3z" color="#7a3000"/>
<path d="M570.3 360.8l2.8-8.8-.7 .5-2.8 8.6z" color="#5b3500"/>
<path d="M581.3 362.3l2.2 .9-1.4-4.6-2.2-2.1z" color="#d08000"/>
<path d="M588.8 372.5l5.6 .4-5.1-14.7-5.5 .1z" color="#e39e00"/>
<path d="M681.3 408l4.1 1.3-.2-9.9-4.2-2.9z" color="#567420"/>
<path d="M677.4 356.3l3 6.3-.2-11-3-7.7z" color="#784000"/>
<path d="M534 462l4.2-5.4-1-.4-4.1 4.9z" color="#09146b"/>
<path d="M573.8 354.4l1.9-3-.2-1-1.9 3z" color="#b05a00"/>
<path d="M681.5 420.8l4.2-.5-.3-11-4.1-1.3z" color="#3f7436"/>
<path d="M677.7 370l2.9 4.8-.2-12.2-3-6.3z" color="#775200"/>
<path d="M577.4 361.7l3.7-.4-1.7-6.4-3.7-3.5z" color="#c16d00"/>
<path d="M574.1 355.6l1.9-3-.3-1.2-1.9 3z" color="#ae5a00"/>
<path d="M570.8 362.2l2.8-8.8-.5-1.4-2.8 8.8z" color="#764300"/>
<path d="M550.6 443.8l4.6-21.8-2.9 11.8-4.6 10.3z" color="#104d46"/>
<path d="M544.7 452.5l3.7-8.5-.7 .1-3.7 7.1z" color="#09435d"/>
<path d="M671.4 306.2l5.3 20.3-.2-1.9-5.3-20.6z" color="#741000"/>
<path d="M574.3 356.9l1.9-3.1-.2-1.2-1.9 3z" color="#ad5c00"/>
<path d="M678.1 396l2.9 2-.4-23.2-2.9-4.8z" color="#726c04"/>
<path d="M539.9 458.2l4.1-7-.9-.8-4.2 6.7z" color="#093264"/>
<path d="M671.6 316.7l5.4 18.2-.3-8.4-5.3-20.3z" color="#781400"/>
<path d="M566.4 376l4.2-14.6-1.2 .8-4.2 14.1z" color="#5a4100"/>
<path d="M571.1 363.2l2.7-8.8-.2-1-2.8 8.8z" color="#844c00"/>
<path d="M574.6 358.3l1.9-3.1-.3-1.4-1.9 3.1z" color="#ac5d00"/>
<path d="M671.7 318.1l5.3 18 0-1.2-5.4-18.2z" color="#791900"/>
<path d="M671.7 319.6l5.4 17.7-.1-1.2-5.3-18z" color="#791a00"/>
<path d="M671.7 321.2l5.4 17.3 0-1.2-5.4-17.7z" color="#781c00"/>
<path d="M678.3 408.7l3 .7-.3-11.4-2.9-2z" color="#5a741c"/>
<path d="M671.8 324.5l5.3 16.6 0-2.6-5.4-17.3z" color="#781f00"/>
<path d="M571.3 364.4l2.8-8.8-.3-1.2-2.7 8.8z" color="#895000"/>
<path d="M671.8 327.9l5.4 16-.1-2.8-5.3-16.6z" color="#782300"/>
<path d="M545.2 453.6l3.7-9.7-.5 .1-3.7 8.5z" color="#094560"/>
<path d="M535 463.2l4.1-5.9-.9-.7-4.2 5.4z" color="#091a70"/>
<path d="M671.9 331.5l5.4 15.3-.1-2.9-5.4-16z" color="#782700"/>
<path d="M574.8 359.9l1.9-3.2-.2-1.5-1.9 3.1z" color="#ab5f00"/>
<path d="M672 335.3l5.3 14.6 0-3.1-5.4-15.3z" color="#772b00"/>
<path d="M678.6 421.2l2.9-.4-.2-11.4-3-.7z" color="#427433"/>
<path d="M672 339.3l5.4 13.7-.1-3.1-5.3-14.6z" color="#773000"/>
<path d="M672.1 345.4l5.4 12.6-.1-5-5.4-13.7z" color="#773600"/>
<path d="M577.7 363.4l3.6-1.1-.2-1-3.7 .4z" color="#c17600"/>
<path d="M571.8 367.1l2.8-8.8-.5-2.7-2.8 8.8z" color="#8e5600"/>
<path d="M672.2 351.6l5.4 11.4-.1-5-5.4-12.6z" color="#763e00"/>
<path d="M672.3 358.1l5.3 10.1 0-5.2-5.4-11.4z" color="#764600"/>
<path d="M583 369.4l2.2-.7-1.7-5.5-2.2-.9z" color="#db9000"/>
<path d="M540.6 459.6l4.1-7.1-.7-1.3-4.1 7z" color="#093b78"/>
<path d="M556.2 418l4.1-20.6-.2 1.6-4.1 19.9z" color="#3b541a"/>
<path d="M545.7 455l3.7-11.2-.5 .1-3.7 9.7z" color="#094560"/>
<path d="M672.4 364.5l5.3 9-.1-5.3-5.3-10.1z" color="#764f00"/>
<path d="M577.9 365.1l3.7-1.7-.3-1.1-3.6 1.1z" color="#c17900"/>
<path d="M566.9 378.1l4.2-14.9-.5-1.8-4.2 14.6z" color="#725100"/>
<path d="M667.8 297.5l3.5 8.1-.2-1.8-3.6-8.2z" color="#660800"/>
<path d="M672.5 373.1l5.3 7.4-.1-7-5.3-9z" color="#765900"/>
<path d="M556.4 417.2l4.2-21.3-.3 1.5-4.1 20.6z" color="#3e5418"/>
<path d="M586.7 372.3l1.9-.3-2.9-8-1.9 0z" color="#eaa100"/>
<path d="M578.1 366.8l3.7-2.4-.2-1-3.7 1.7z" color="#c17b00"/>
<path d="M562.3 393.9l4.1-17.9-1.2 .3-4.1 17.4z" color="#574f02"/>
<path d="M672.8 397.8l5.4 3.1-.4-20.4-5.3-7.4z" color="#716d05"/>
<path d="M668.1 308l3.5 7.3-.3-9.7-3.5-8.1z" color="#6e0800"/>
<path d="M535.7 464.2l4.2-6-.8-.9-4.1 5.9z" color="#091f79"/>
<path d="M556.7 416.6l4.1-21.9-.2 1.2-4.2 21.3z" color="#405416"/>
<path d="M546.2 456.4l3.6-12.6-.4 0-3.7 11.2z" color="#09445e"/>
<path d="M578.4 368.5l3.6-3-.2-1.1-3.7 2.4z" color="#c07d00"/>
<path d="M567.4 381.1l4.2-15.4-.5-2.5-4.2 14.9z" color="#7e5c00"/>
<path d="M541.1 460.9l4.1-7.3-.5-1.1-4.1 7.1z" color="#093e84"/>
<path d="M673 409l5.4 1.2-.2-9.3-5.4-3.1z" color="#5a741b"/>
<path d="M668.4 329.6l3.6 5.7-.4-20-3.5-7.3z" color="#761000"/>
<path d="M525.5 468.4l4.1-2.6-.7-1-4.1 2.5z" color="#1a18a5"/>
<path d="M551.1 443.8l4.6-24-.2 1.1-4.7 22.9z" color="#19513c"/>
<path d="M556.9 416.1l4.2-22.4-.3 1-4.1 21.9z" color="#415414"/>
<path d="M662.8 306.8l4.7-11.2-.7 1.4-4.7 10.9z" color="#3c0800"/>
<path d="M578.6 370.2l3.7-3.7-.3-1-3.6 3z" color="#c07f00"/>
<path d="M577 375.6l1.9-3.8-2.2-15.1-1.9 3.2z" color="#a66b00"/>
<path d="M673.2 422l5.4-.8-.2-11-5.4-1.2z" color="#447331"/>
<path d="M567.6 382.9l4.2-15.8-.2-1.4-4.2 15.4z" color="#836300"/>
<path d="M583.2 370.3l2.3-.9-.3-.7-2.2 .7z" color="#de9800"/>
<path d="M668.6 344.9l3.6 4.6-.2-14.2-3.6-5.7z" color="#762600"/>
<path d="M546.7 457.9l3.6-14.1-.5 0-3.6 12.6z" color="#09435c"/>
<path d="M578.9 371.8l3.6-4.3-.2-1-3.7 3.7z" color="#bf8100"/>
<path d="M562.5 395l4.2-18.1-.3-.9-4.1 17.9z" color="#675e02"/>
<path d="M541.6 462.5l4.1-7.5-.5-1.4-4.1 7.3z" color="#093b87"/>
<path d="M536.4 465.5l4.2-5.9-.7-1.4-4.2 6z" color="#09238a"/>
<path d="M567.9 384.8l4.1-16.2-.2-1.5-4.2 15.8z" color="#856700"/>
<path d="M668.8 361l3.6 3.5-.2-15-3.6-4.6z" color="#753b00"/>
<path d="M663 308.5l4.8-11-.3-1.9-4.7 11.2z" color="#5d0800"/>
<path d="M579.1 373.4l3.7-5-.3-.9-3.6 4.3z" color="#bd8200"/>
<path d="M583.7 371.9l2.2-1.2-.4-1.3-2.3 .9z" color="#de9a00"/>
<path d="M551.8 444.2l4.6-27-.4 1.7-4.7 25z" color="#1c5239"/>
<path d="M669 374.9l3.5 2.5-.1-12.9-3.6-3.5z" color="#755000"/>
<path d="M568.1 386.8l4.2-16.5-.3-1.7-4.1 16.2z" color="#866a00"/>
<path d="M563 397.9l4.2-18.4-.5-2.6-4.2 18.1z" color="#716803"/>
<path d="M589.8 373.7l5.5 .3-.9-1.1-5.6-.4z" color="#bd8a00"/>
<path d="M526.2 469.6l4.2-2.8-.8-1-4.1 2.6z" color="#2221af"/>
<path d="M558.1 417.1l4.2-23.2-1.2-.2-4.2 22.4z" color="#455512"/>
<path d="M547.2 459.3l3.6-15.5-.5 0-3.6 14.1z" color="#09415a"/>
<path d="M579.3 374.9l3.7-5.5-.2-1-3.7 5z" color="#bb8300"/>
<path d="M663.3 318l4.8-10-.3-10.5-4.8 11z" color="#6a0800"/>
<path d="M574.7 387.9l2.8-9.1-2.9-20.5-2.8 8.8z" color="#916900"/>
<path d="M542 464.2l4.2-7.8-.5-1.4-4.1 7.5z" color="#093587"/>
<path d="M669.2 394.7l3.6 1.2-.3-18.5-3.5-2.5z" color="#746901"/>
<path d="M568.4 388.9l4.1-16.9-.2-1.7-4.2 16.5z" color="#876e00"/>
<path d="M536.9 466.6l4.2-5.7-.5-1.3-4.2 5.9z" color="#09249d"/>
<path d="M579.6 376.2l3.6-5.9-.2-.9-3.7 5.5z" color="#b98300"/>
<path d="M584.2 373.2l2.2-1.3-.5-1.2-2.2 1.2z" color="#db9a00"/>
<path d="M669.4 408.7l3.6 .3-.2-13.1-3.6-1.2z" color="#627312"/>
<path d="M663.7 337.6l4.7-8-.3-21.6-4.8 10z" color="#740f00"/>
<path d="M521.3 470.4l4.2-2-.7-1.1-4.2 2z" color="#1b1aa8"/>
<path d="M568.6 391l4.2-17.3-.3-1.7-4.1 16.9z" color="#877100"/>
<path d="M552.5 444.8l4.7-28.9-.8 1.3-4.6 27z" color="#1e5237"/>
<path d="M542.3 465.1l4.1-8-.2-.7-4.2 7.8z" color="#093086"/>
<path d="M547.6 460.7l3.7-16.8-.5-.1-3.6 15.5z" color="#093f57"/>
<path d="M658.8 321.3l4.2-13.7-1.1 1.1-4.2 13.3z" color="#440800"/>
<path d="M579.8 377.5l3.7-6.4-.3-.8-3.6 5.9z" color="#b68200"/>
<path d="M669.7 422.5l3.5-.5-.2-13-3.6-.3z" color="#48732c"/>
<path d="M587.4 373.5l1.9-.3-.7-1.2-1.9 .3z" color="#de9c00"/>
<path d="M663.9 353.6l4.7-6.4-.2-17.6-4.7 8z" color="#752600"/>
<path d="M532.3 469.9l4.1-4.4-.9-1.7-4.2 4.5z" color="#090e97"/>
<path d="M526.9 470.7l4.2-2.8-.7-1.1-4.2 2.8z" color="#2e2dbc"/>
<path d="M558.4 418l4.1-23-.2-1.1-4.2 23.2z" color="#4d5f13"/>
<path d="M537.4 467.9l4.2-5.4-.5-1.6-4.2 5.7z" color="#0920a5"/>
<path d="M580.1 378.6l3.6-6.7-.2-.8-3.7 6.4z" color="#b18100"/>
<path d="M584.7 374.2l2.2-1.4-.5-.9-2.2 1.3z" color="#cf9200"/>
<path d="M564.2 408.2l4.2-19.3-1.2-9.4-4.2 18.4z" color="#787809"/>
<path d="M542.8 466.8l4.1-8.2-.5-1.5-4.1 8z" color="#092b84"/>
<path d="M664.1 370.5l4.8-4.8-.3-18.5-4.7 6.4z" color="#753e00"/>
<path d="M569.3 397.7l4.2-18.5-.7-5.5-4.2 17.3z" color="#867601"/>
<path d="M558.6 419.1l4.2-22.8-.3-1.3-4.1 23z" color="#516616"/>
<path d="M548.1 462.1l3.7-17.9-.5-.3-3.7 16.8z" color="#093e55"/>
<path d="M580.3 379.6l3.7-7-.3-.7-3.6 6.7z" color="#ab7d00"/>
<path d="M578.2 383l1.9-4.4-1.2-6.8-1.9 3.8z" color="#9a7600"/>
<path d="M591 374.2l5.5-.1-1.2-.1-5.5-.3z" color="#825d00"/>
<path d="M522 471.6l4.2-2-.7-1.2-4.2 2z" color="#2523b2"/>
<path d="M664.3 387.3l4.8-3.4-.2-18.2-4.8 4.8z" color="#745800"/>
<path d="M659.1 328.2l4.1-12.6-.2-8-4.2 13.7z" color="#6f0a00"/>
<path d="M553.2 445.9l4.7-29.5-.7-.5-4.7 28.9z" color="#1f5336"/>
<path d="M558.9 420.4l4.1-22.5-.2-1.6-4.2 22.8z" color="#546c19"/>
<path d="M537.9 469.2l4.1-5-.4-1.7-4.2 5.4z" color="#091aaa"/>
<path d="M580.6 380.5l3.6-7.3-.2-.6-3.7 7z" color="#a37800"/>
<path d="M543.3 468.4l4.1-8.4-.5-1.4-4.1 8.2z" color="#092482"/>
<path d="M664.7 410.2l4.7-1.5-.3-24.8-4.8 3.4z" color="#6a700a"/>
<path d="M585.4 375.3l2.2-1.5-.7-1-2.2 1.4z" color="#b88200"/>
<path d="M527.7 471.9l4.1-2.8-.7-1.2-4.2 2.8z" color="#3c3bc9"/>
<path d="M559.1 421.8l4.1-22.2-.2-1.7-4.1 22.5z" color="#56711d"/>
<path d="M588.4 374.6l1.9-.6-1-.8-1.9 .3z" color="#b07c00"/>
<path d="M548.6 463.3l3.7-18.8-.5-.3-3.7 17.9z" color="#093c53"/>
<path d="M659.4 344.3l4.2-10.4-.4-18.3-4.1 12.6z" color="#741500"/>
<path d="M564.5 410.6l4.1-19.6-.2-2.1-4.2 19.3z" color="#76810f"/>
<path d="M538.1 469.9l4.2-4.8-.3-.9-4.1 5z" color="#0916ab"/>
<path d="M581 381.7l3.7-7.5-.5-1-3.6 7.3z" color="#926d00"/>
<path d="M654.6 335.5l4.1-14.7-.9 1.1-4.2 14.3z" color="#450d00"/>
<path d="M559.3 423.4l4.2-21.8-.3-2-4.1 22.2z" color="#567520"/>
<path d="M664.9 423.2l4.8-.7-.3-13.8-4.7 1.5z" color="#4b732a"/>
<path d="M570.3 406.1l4.2-19.8-1-7.1-4.2 18.5z" color="#7d7807"/>
<path d="M564.7 413l4.1-19.8-.2-2.2-4.1 19.6z" color="#748312"/>
<path d="M553.7 446.9l4.7-28.9-.5-1.6-4.7 29.5z" color="#205437"/>
<path d="M659.7 357.9l4.1-8.4-.2-15.6-4.2 10.4z" color="#752a00"/>
<path d="M543.7 469.8l4.2-8.4-.5-1.4-4.1 8.4z" color="#091d7f"/>
<path d="M522.8 472.8l4.1-2.1-.7-1.1-4.2 2z" color="#312fbf"/>
<path d="M538.4 470.5l4.1-4.6-.2-.8-4.2 4.8z" color="#0914ab"/>
<path d="M578.7 385.1l1.9-4.6-.5-1.9-1.9 4.4z" color="#896e00"/>
<path d="M575.4 392.4l2.8-9.4-.7-4.2-2.8 9.1z" color="#877300"/>
<path d="M559.6 425.1l4.1-21.4-.2-2.1-4.2 21.8z" color="#557824"/>
<path d="M549.1 464.3l3.6-19.2-.4-.6-3.7 18.8z" color="#093b50"/>
<path d="M534 473.3l4.1-3.4-1.7-4.4-4.1 4.4z" color="#0b0dae"/>
<path d="M564.9 415.4l4.2-19.9-.3-2.3-4.1 19.8z" color="#718415"/>
<path d="M659.9 372.7l4.2-6.4-.3-16.8-4.1 8.4z" color="#743f00"/>
<path d="M528.4 473.1l4.1-2.7-.7-1.3-4.1 2.8z" color="#5251d1"/>
<path d="M652.3 341l2.1-5.8-1.2 2.8-2.1 5.5z" color="#451500"/>
<path d="M554 447.6l4.6-28.5-.2-1.1-4.7 28.9z" color="#22583a"/>
<path d="M559.8 426.9l4.2-21-.3-2.2-4.1 21.4z" color="#537b29"/>
<path d="M581.8 382.9l3.6-7.6-.7-1.1-3.7 7.5z" color="#7f5f00"/>
<path d="M654.9 340.1l4.1-13.8-.3-5.5-4.1 14.7z" color="#711300"/>
<path d="M586.4 376.5l2.2-1.8-1-.9-2.2 1.5z" color="#996c00"/>
<path d="M565.2 417.7l4.1-20-.2-2.2-4.2 19.9z" color="#6d8419"/>
<path d="M660.1 387.6l4.2-4.4-.2-16.9-4.2 6.4z" color="#745600"/>
<path d="M544.2 471.1l4.2-8.4-.5-1.3-4.2 8.4z" color="#09197a"/>
<path d="M570.5 408l4.2-20.1-.2-1.6-4.2 19.8z" color="#75770b"/>
<path d="M579.1 386.7l1.9-5-.4-1.2-1.9 4.6z" color="#766100"/>
<path d="M554.2 448.3l4.7-27.9-.3-1.3-4.6 28.5z" color="#235c3d"/>
<path d="M560.1 428.7l4.1-20.5-.2-2.3-4.2 21z" color="#517d2d"/>
<path d="M575.9 394.8l2.8-9.7-.5-2.1-2.8 9.4z" color="#7c6e00"/>
<path d="M565.4 420.1l4.2-20.2-.3-2.2-4.1 20z" color="#68831d"/>
<path d="M589.6 375.2l1.9-1.1-1.2-.1-1.9 .6z" color="#7d5600"/>
<path d="M523.5 474l4.2-2.1-.8-1.2-4.1 2.1z" color="#3f3ecc"/>
<path d="M549.8 465.5l3.7-19.2-.8-1.2-3.6 19.2z" color="#093a4e"/>
<path d="M655.2 351.4l4.2-11.7-.4-13.4-4.1 13.8z" color="#751e00"/>
<path d="M660.5 410.2l4.2-1.8-.4-25.2-4.2 4.4z" color="#6d6f08"/>
<path d="M570.8 409.9l4.1-20.4-.2-1.6-4.2 20.1z" color="#71760c"/>
<path d="M554.4 449.1l4.7-27.3-.2-1.4-4.7 27.9z" color="#235f40"/>
<path d="M560.3 430.6l4.2-20-.3-2.4-4.1 20.5z" color="#4e7f32"/>
<path d="M539.8 474.1l4.2-3.6-1.5-4.6-4.1 4.6z" color="#090da8"/>
<path d="M565.7 422.3l4.1-20.3-.2-2.1-4.2 20.2z" color="#638321"/>
<path d="M544.7 472.2l4.2-8.4-.5-1.1-4.2 8.4z" color="#091772"/>
<path d="M571 411.5l4.2-20.5-.3-1.5-4.1 20.4z" color="#6d740d"/>
<path d="M655.5 363.8l4.1-9.5-.2-14.6-4.2 11.7z" color="#752f00"/>
<path d="M529.1 474.4l4.2-2.6-.8-1.4-4.1 2.7z" color="#4c4bd5"/>
<path d="M554.7 449.9l4.6-26.5-.2-1.6-4.7 27.3z" color="#236143"/>
<path d="M660.8 423.6l4.1-.4-.2-14.8-4.2 1.8z" color="#4e7326"/>
<path d="M560.5 432.5l4.2-19.5-.2-2.4-4.2 20z" color="#4b8037"/>
<path d="M582.5 384l3.6-7.8-.7-.9-3.6 7.6z" color="#765800"/>
<path d="M652.6 342.7l2.1-5.7-.3-1.8-2.1 5.8z" color="#5e1800"/>
<path d="M650.4 344.7l2.1-3.4-1.1 1-2.1 3.3z" color="#491800"/>
<path d="M576.4 396.7l2.7-10-.4-1.6-2.8 9.7z" color="#6f6500"/>
<path d="M565.9 424.5l4.2-20.4-.3-2.1-4.1 20.3z" color="#5e8124"/>
<path d="M571.3 413.1l4.1-20.7-.2-1.4-4.2 20.5z" color="#69720e"/>
<path d="M534.5 474.3l4.1-3.1-.5-1.3-4.1 3.4z" color="#1514bb"/>
<path d="M655.7 376.2l4.1-7.3-.2-14.6-4.1 9.5z" color="#754200"/>
<path d="M554.9 450.7l4.7-25.6-.3-1.7-4.6 26.5z" color="#226446"/>
<path d="M560.8 434.4l4.1-19-.2-2.4-4.2 19.5z" color="#47813c"/>
<path d="M550.3 466.2l3.7-18.6-.5-1.3-3.7 19.2z" color="#093a4d"/>
<path d="M587.3 377.4l2.3-2.2-1-.5-2.2 1.8z" color="#7a5500"/>
<path d="M566.1 426.6l4.2-20.5-.2-2-4.2 20.4z" color="#598028"/>
<path d="M545.2 473.2l4.1-8.4-.4-1-4.2 8.4z" color="#09166a"/>
<path d="M524.2 475.2l4.2-2.1-.7-1.2-4.2 2.1z" color="#5554cf"/>
<path d="M653 352.7l2.1-4.9-.4-10.8-2.1 5.7z" color="#762400"/>
<path d="M571.5 414.5l4.2-20.8-.3-1.3-4.1 20.7z" color="#656f0e"/>
<path d="M655.9 389l4.2-5.1-.3-15-4.1 7.3z" color="#755700"/>
<path d="M594.4 370.9l5.5-2.7-3.4 5.9-5.5 .1z" color="#583a00"/>
<path d="M555.2 451.6l4.6-24.7-.2-1.8-4.7 25.6z" color="#22664a"/>
<path d="M561 436.3l4.2-18.6-.3-2.3-4.1 19z" color="#438240"/>
<path d="M566.4 428.6l4.1-20.6-.2-1.9-4.2 20.5z" color="#547e2b"/>
<path d="M529.6 475.2l4.1-2.4-.4-1-4.2 2.6z" color="#3331cd"/>
<path d="M571.7 415.7l4.2-20.9-.2-1.1-4.2 20.8z" color="#606c0e"/>
<path d="M534.9 475.2l4.2-2.8-.5-1.2-4.1 3.1z" color="#2726cb"/>
<path d="M555.4 452.6l4.7-23.9-.3-1.8-4.6 24.7z" color="#21674d"/>
<path d="M561.3 438.2l4.1-18.1-.2-2.4-4.2 18.6z" color="#3f8245"/>
<path d="M550.8 466.9l3.6-17.8-.4-1.5-3.7 18.6z" color="#093b4e"/>
<path d="M656.3 410.4l4.2-1.8-.4-24.7-4.2 5.1z" color="#6e6f06"/>
<path d="M540.3 475.1l4.2-3.4-.5-1.2-4.2 3.6z" color="#1413aa"/>
<path d="M583.2 385.2l3.7-8.2-.8-.8-3.6 7.8z" color="#6d5100"/>
<path d="M653.4 370.4l2.1-3.6-.4-19-2.1 4.9z" color="#753700"/>
<path d="M650.8 350.3l2-3.2-.3-5.8-2.1 3.4z" color="#782500"/>
<path d="M566.6 430.4l4.2-20.5-.3-1.9-4.1 20.6z" color="#507c2d"/>
<path d="M646.3 350.4l4.1-5.8-1.1 1-4.1 5.5z" color="#4b1b00"/>
<path d="M572 416.8l4.1-20.9-.2-1.1-4.2 20.9z" color="#5b670e"/>
<path d="M555.6 453.5l4.7-22.9-.2-1.9-4.7 23.9z" color="#1f6951"/>
<path d="M545.9 474.3l4.2-8.4-.8-1.1-4.1 8.4z" color="#091562"/>
<path d="M561.5 439.9l4.2-17.6-.3-2.2-4.1 18.1z" color="#3a824a"/>
<path d="M566.9 432.1l4.1-20.6-.2-1.6-4.2 20.5z" color="#4b792f"/>
<path d="M530.1 476.1l4.1-2.3-.5-1-4.1 2.4z" color="#2524be"/>
<path d="M656.6 423.7l4.2-.1-.3-15-4.2 1.8z" color="#527323"/>
<path d="M591.3 374.9l1.9-2.1-1.7 1.3-1.9 1.1z" color="#5a3c00"/>
<path d="M524.9 476.4l4.2-2-.7-1.3-4.2 2.1z" color="#4e4dcf"/>
<path d="M572.2 417.6l4.2-20.9-.3-.8-4.1 20.9z" color="#56620e"/>
<path d="M653.7 386.6l2.1-2.4-.3-17.4-2.1 3.6z" color="#755100"/>
<path d="M535.4 476.1l4.2-2.6-.5-1.1-4.2 2.8z" color="#3634d5"/>
<path d="M651.2 365.9l2.1-2.4-.5-16.4-2 3.2z" color="#763300"/>
<path d="M555.9 454.4l4.6-21.9-.2-1.9-4.7 22.9z" color="#1e6a55"/>
<path d="M561.7 441.7l4.2-17.2-.2-2.2-4.2 17.6z" color="#36824e"/>
<path d="M551.3 467.5l3.6-16.8-.5-1.6-3.6 17.8z" color="#093c51"/>
<path d="M567.1 433.6l4.2-20.5-.3-1.6-4.1 20.6z" color="#467530"/>
<path d="M541 476.4l4.2-3.2-.7-1.5-4.2 3.4z" color="#504ebe"/>
<path d="M556.1 455.4l4.7-21-.3-1.9-4.6 21.9z" color="#1c6b58"/>
<path d="M562 443.3l4.1-16.7-.2-2.1-4.2 17.2z" color="#318251"/>
<path d="M572.7 419.1l4.2-20.8-.5-1.6-4.2 20.9z" color="#525e0e"/>
<path d="M654.2 409.8l2.1-.8-.5-24.8-2.1 2.4z" color="#706d05"/>
<path d="M588.8 378.3l2.2-3.3-1.4 .2-2.3 2.2z" color="#5f4100"/>
<path d="M567.3 434.9l4.2-20.4-.2-1.4-4.2 20.5z" color="#427131"/>
<path d="M551.5 467.8l3.7-16.2-.3-.9-3.6 16.8z" color="#093d52"/>
<path d="M646.6 354.9l4.2-5.3-.4-5-4.1 5.8z" color="#7c2a00"/>
<path d="M651.6 385l2.1-1.4-.4-20.1-2.1 2.4z" color="#754c00"/>
<path d="M535.9 477l4.2-2.4-.5-1.1-4.2 2.6z" color="#302fcb"/>
<path d="M530.8 477.3l4.1-2.1-.7-1.4-4.1 2.3z" color="#2b2ac2"/>
<path d="M556.4 456.3l4.6-20-.2-1.9-4.7 21z" color="#1a6c5c"/>
<path d="M546.6 475.1l4.2-8.2-.7-1-4.2 8.4z" color="#09155d"/>
<path d="M562.2 444.9l4.2-16.3-.3-2-4.1 16.7z" color="#2d8155"/>
<path d="M567.6 436l4.1-20.3-.2-1.2-4.2 20.4z" color="#3d6c30"/>
<path d="M525.7 477.6l4.1-2-.7-1.2-4.2 2z" color="#2e2cbe"/>
<path d="M551.8 468.1l3.6-15.5-.2-1-3.7 16.2z" color="#093e54"/>
<path d="M556.6 457.3l4.7-19.1-.3-1.9-4.6 20z" color="#196c5f"/>
<path d="M654.5 423.7l2.1 0-.3-14.7-2.1 .8z" color="#557420"/>
<path d="M562.5 446.3l4.1-15.9-.2-1.8-4.2 16.3z" color="#297f57"/>
<path d="M584.9 387.8l3.7-9.6-1.7-1.2-3.7 8.2z" color="#604700"/>
<path d="M573.2 420.4l4.1-20.7-.4-1.4-4.2 20.8z" color="#4f5c0e"/>
<path d="M647 368.6l4.2-4-.4-15-4.2 5.3z" color="#773500"/>
<path d="M567.8 437l4.2-20.2-.3-1.1-4.1 20.3z" color="#39662e"/>
<path d="M652.1 408.8l2.1-.4-.5-24.8-2.1 1.4z" color="#726c03"/>
<path d="M552 468.4l3.6-14.9-.2-.9-3.6 15.5z" color="#093e55"/>
<path d="M541.8 477.5l4.1-3.2-.7-1.1-4.2 3.2z" color="#302fa5"/>
<path d="M640.9 355.9l5.3-5.6-1.1 1-5.3 5.1z" color="#4f1f00"/>
<path d="M556.8 458.2l4.7-18.3-.2-1.7-4.7 19.1z" color="#176c62"/>
<path d="M562.7 447.6l4.2-15.5-.3-1.7-4.1 15.9z" color="#257d59"/>
<path d="M536.6 478.2l4.2-2.2-.7-1.4-4.2 2.4z" color="#4e4dd0"/>
<path d="M552.2 468.7l3.7-14.3-.3-.9-3.6 14.9z" color="#093f57"/>
<path d="M568.3 438.2l4.2-19.8-.5-1.6-4.2 20.2z" color="#345e2b"/>
<path d="M531.5 478.5l4.2-1.9-.8-1.4-4.1 2.1z" color="#3735c8"/>
<path d="M557.1 459.1l4.6-17.4-.2-1.8-4.7 18.3z" color="#156c65"/>
<path d="M563 448.8l4.1-15.2-.2-1.5-4.2 15.5z" color="#227a59"/>
<path d="M647.5 387.1l4.1-2.1-.4-20.4-4.2 4z" color="#764d00"/>
<path d="M573.7 421.7l4.1-20.6-.5-1.4-4.1 20.7z" color="#4d5a0f"/>
<path d="M652.5 423.5l2 .2-.3-15.3-2.1 .4z" color="#57741e"/>
<path d="M526.4 478.8l4.1-1.9-.7-1.3-4.1 2z" color="#1716a6"/>
<path d="M552.5 468.9l3.6-13.5-.2-1-3.7 14.3z" color="#093f58"/>
<path d="M557.3 459.9l4.7-16.6-.3-1.6-4.6 17.4z" color="#136c68"/>
<path d="M547.8 476.2l4.2-7.8-1.2-1.5-4.2 8.2z" color="#09165a"/>
<path d="M563.2 449.9l4.1-15-.2-1.3-4.1 15.2z" color="#1f7659"/>
<path d="M641.1 357.6l5.4-5.5-.3-1.8-5.3 5.6z" color="#833000"/>
<path d="M552.7 469.2l3.7-12.9-.3-.9-3.6 13.5z" color="#09405a"/>
<path d="M542.5 478.5l4.1-3.4-.7-.8-4.1 3.2z" color="#0b0a80"/>
<path d="M568.8 439.3l4.2-19.5-.5-1.4-4.2 19.8z" color="#315a2a"/>
<path d="M557.6 460.7l4.6-15.8-.2-1.6-4.7 16.6z" color="#116c6a"/>
<path d="M563.4 450.8l4.2-14.8-.3-1.1-4.1 15z" color="#1c7156"/>
<path d="M648 410.3l4.1-.2-.5-25.1-4.1 2.1z" color="#726c03"/>
<path d="M574.2 422.9l4.1-20.5-.5-1.3-4.1 20.6z" color="#4b590f"/>
<path d="M537.4 479.4l4.1-2.3-.7-1.1-4.2 2.2z" color="#4f4ec7"/>
<path d="M553 469.5l3.6-12.2-.2-1-3.7 12.9z" color="#09405b"/>
<path d="M532.2 479.7l4.2-1.9-.7-1.2-4.2 1.9z" color="#2322b1"/>
<path d="M557.8 461.5l4.7-15.2-.3-1.4-4.6 15.8z" color="#0f6b6c"/>
<path d="M641.6 367.4l5.3-4.2-.4-11.1-5.4 5.5z" color="#793400"/>
<path d="M637.4 358.4l3.6-2.2-1.4 .7-3.6 2z" color="#5a2500"/>
<path d="M563.9 452.2l4.2-14.5-.5-1.7-4.2 14.8z" color="#186750"/>
<path d="M553.2 469.8l3.6-11.6-.2-.9-3.6 12.2z" color="#09415d"/>
<path d="M648.3 422.8l4.2 .7-.4-13.4-4.1 .2z" color="#59741c"/>
<path d="M558.1 462.3l4.6-14.7-.2-1.3-4.7 15.2z" color="#0e6a6d"/>
<path d="M574.6 424.1l4.2-20.5-.5-1.2-4.1 20.5z" color="#4a5810"/>
<path d="M569.5 440.9l4.2-19.2-.7-1.9-4.2 19.5z" color="#2f592a"/>
<path d="M553.4 470l3.7-10.9-.3-.9-3.6 11.6z" color="#09415f"/>
<path d="M642.1 386.4l5.3-1.9-.5-21.3-5.3 4.2z" color="#774900"/>
<path d="M558.3 462.9l4.7-14.1-.3-1.2-4.6 14.7z" color="#0c686d"/>
<path d="M543.4 479.6l4.2-3.6-1-.9-4.1 3.4z" color="#090876"/>
<path d="M529.7 492.8l4.2-2.2-15.7-25.3-4.2 1.9z" color="#0c0a97"/>
<path d="M538.1 480.5l4.1-2.3-.7-1.1-4.1 2.3z" color="#14139d"/>
<path d="M564.4 453.1l4.2-14.3-.5-1.1-4.2 14.5z" color="#165e49"/>
<path d="M558.5 463.6l4.7-13.7-.2-1.1-4.7 14.1z" color="#0b656c"/>
<path d="M549 476.8l4.2-7-1.2-1.4-4.2 7.8z" color="#091b58"/>
<path d="M553.9 470.6l3.7-9.9-.5-1.6-3.7 10.9z" color="#094261"/>
<path d="M558.8 464.1l4.6-13.3-.2-.9-4.7 13.7z" color="#0a6269"/>
<path d="M637.8 362.5l3.5-1.9-.3-4.4-3.6 2.2z" color="#813400"/>
<path d="M642.7 409.6l5.3 .7-.6-25.8-5.3 1.9z" color="#746a02"/>
<path d="M575.6 426.3l4.2-20.3-1-2.4-4.2 20.5z" color="#485710"/>
<path d="M564.9 454l4.1-14.1-.4-1.1-4.2 14.3z" color="#155c49"/>
<path d="M554.4 471.2l3.7-8.9-.5-1.6-3.7 9.9z" color="#094264"/>
<path d="M584.6 417.5l2.8-14-8.3-16.8-2.7 10z" color="#585402"/>
<path d="M559.3 465.1l4.6-12.9-.5-1.4-4.6 13.3z" color="#095b63"/>
<path d="M596.3 368l2-6.6-5.1 11.4-1.9 2.1z" color="#552e00"/>
<path d="M638.3 377.2l3.5-.9-.5-15.7-3.5 1.9z" color="#793e00"/>
<path d="M643 421l5.3 1.8-.3-12.5-5.3-.7z" color="#5f7517"/>
<path d="M544.4 480.4l4.2-3.8-1-.6-4.2 3.6z" color="#090a6e"/>
<path d="M565.4 454.9l4.1-14-.5-1-4.1 14.1z" color="#155c48"/>
<path d="M589.3 407.6l1.9-11.8-10.2-14.1-1.9 5z" color="#594b00"/>
<path d="M554.9 471.8l3.6-8.2-.4-1.3-3.7 8.9z" color="#094267"/>
<path d="M594.1 377.3l2.2-9.3-5.3 7-2.2 3.3z" color="#530"/>
<path d="M638.8 395.5l3.5 .3-.5-19.5-3.5 .9z" color="#775700"/>
<path d="M634.3 360.9l3.6 4.2-.5-6.7-3.5-4.5z" color="#803100"/>
<path d="M550.5 477.7l4.1-6.2-1.4-1.7-4.2 7z" color="#09235f"/>
<path d="M634.8 377.8l3.6 3.5-.5-16.2-3.6-4.2z" color="#793f00"/>
<path d="M639.4 419.4l3.6 1.6-.7-25.2-3.5-.3z" color="#6e7209"/>
<path d="M566.8 457.6l4.2-13.8-1.5-2.9-4.1 14z" color="#145b48"/>
<path d="M545.6 481.3l4.2-4.1-1.2-.6-4.2 3.8z" color="#090e6c"/>
<path d="M590.7 395.8l3.6-19-5.7 1.4-3.7 9.6z" color="#563d00"/>
<path d="M573.4 448.3l4.1-17.8-3.8-8.8-4.2 19.2z" color="#2c572c"/>
<path d="M541.9 485.1l4.2-3.4-3.9-3.5-4.1 2.3z" color="#090885"/>
<path d="M630 349.9l4.1 7.2-.4-3.5-4.1-7.4z" color="#7e2300"/>
<path d="M635.2 392.6l3.6 2.9-.4-14.2-3.6-3.5z" color="#750"/>
<path d="M536.8 486.6l4.2-2.5-3.9-5.1-4.1 1.9z" color="#0b0a90"/>
<path d="M551.2 478.5l4.2-6.1-.8-.9-4.1 6.2z" color="#092c6e"/>
<path d="M533.4 489.9l4.1-2.4-7-10.6-4.1 1.9z" color="#0b0a95"/>
<path d="M630.5 364.3l4.1 6.1-.5-13.3-4.1-7.2z" color="#7b2d00"/>
<path d="M635.8 417.6l3.6 1.8-.6-23.9-3.6-2.9z" color="#717005"/>
<path d="M546.6 482.2l4.1-4.3-.9-.7-4.2 4.1z" color="#091677"/>
<path d="M580 435.9l4.1-19.6-4.3-10.3-4.2 20.3z" color="#455613"/>
<path d="M630.8 378.2l4.2 5.2-.4-13-4.1-6.1z" color="#784000"/>
<path d="M551.9 479.6l4.2-6.1-.7-1.1-4.2 6.1z" color="#093079"/>
<path d="M625.7 340.9l4.1 7.1-.2-1.8-4.2-7.2z" color="#791400"/>
<path d="M631.1 391.9l4.2 4.1-.3-12.6-4.2-5.2z" color="#775300"/>
<path d="M626.1 350.9l4.1 6.4-.4-9.3-4.1-7.1z" color="#7c1b00"/>
<path d="M547.3 483.2l4.2-4.3-.8-1-4.1 4.3z" color="#091d8d"/>
<path d="M631.7 415.1l4.1 2.5-.5-21.6-4.2-4.1z" color="#746d03"/>
<path d="M626.5 365.4l4.1 5.6-.4-13.7-4.1-6.4z" color="#792b00"/>
<path d="M569.7 462.6l4.2-13.4-2.9-5.4-4.2 13.8z" color="#145b49"/>
<path d="M553.4 481.9l4.1-6.2-1.4-2.2-4.2 6.1z" color="#09317b"/>
<path d="M626.8 379.7l4.1 4.7-.3-13.4-4.1-5.6z" color="#773e00"/>
<path d="M566.3 476.4l4.6-11.7-7-12.5-4.6 12.9z" color="#09545c"/>
<path d="M621.6 331.8l4.2 10.6-.3-3.2-4.1-10.9z" color="#7a0c00"/>
<path d="M548 484.4l4.2-4.4-.7-1.1-4.2 4.3z" color="#09209a"/>
<path d="M542.9 486.3l4.2-3.5-1-1.1-4.2 3.4z" color="#090d98"/>
<path d="M627.1 393l4.1 3.8-.3-12.4-4.1-4.7z" color="#775100"/>
<path d="M622 344.5l4.2 9.4-.4-11.5-4.2-10.6z" color="#7a1100"/>
<path d="M575.3 452l4.2-17.3-2-4.2-4.1 17.8z" color="#2b572e"/>
<path d="M538.3 488.5l4.1-2.8-1.4-1.6-4.2 2.5z" color="#090892"/>
<path d="M627.5 412.5l4.2 2.6-.5-18.3-4.1-3.8z" color="#756a01"/>
<path d="M622.3 357.2l4.2 8.2-.3-11.5-4.2-9.4z" color="#782000"/>
<path d="M548.8 485.6l4.1-4.5-.7-1.1-4.2 4.4z" color="#09209b"/>
<path d="M543.6 487.5l4.2-3.5-.7-1.2-4.2 3.5z" color="#1117b7"/>
<path d="M622.6 370l4.1 7.1-.2-11.7-4.2-8.2z" color="#773000"/>
<path d="M592.1 394.5l3.7-25.6-1.5 7.9-3.6 19z" color="#553500"/>
<path d="M622.8 383.2l4.2 5.8-.3-11.9-4.1-7.1z" color="#774200"/>
<path d="M617.7 325.7l4.1 11.5-.4-8.2-4.1-12.2z" color="#6e0800"/>
<path d="M581.4 439.6l4.2-19.3-1.5-4-4.1 19.6z" color="#445917"/>
<path d="M597.2 355.3l2.3-11.5-2 18.2-2.2 10.4z" color="#551b00"/>
<path d="M623.1 396l4.2 4.7-.3-11.7-4.2-5.8z" color="#765400"/>
<path d="M549.5 486.9l4.1-4.6-.7-1.2-4.1 4.5z" color="#09209a"/>
<path d="M609.4 300l2.8 4.3-1.3 9.7-2.8-4.1z" color="#310800"/>
<path d="M539 489.6l4.2-2.9-.8-1-4.1 2.8z" color="#201fbc"/>
<path d="M544.4 488.7l4.1-3.5-.7-1.2-4.2 3.5z" color="#171dc1"/>
<path d="M618.1 346l4.2 9.8-.5-18.6-4.1-11.5z" color="#750e00"/>
<path d="M571.2 465.2l4.1-13.2-1.4-2.8-4.2 13.4z" color="#145c4a"/>
<path d="M623.4 409l4.1 3.5-.2-11.8-4.2-4.7z" color="#766700"/>
<path d="M576.5 454.4l4.2-16.7-1.2-3-4.2 17.3z" color="#2b5a31"/>
<path d="M534.1 491l4.2-2.5-.8-1-4.1 2.4z" color="#1211a3"/>
<path d="M592.6 393.3l3.7-28.6-.5 4.2-3.7 25.6z" color="#553000"/>
<path d="M618.4 358.3l4.1 8.8-.2-11.3-4.2-9.8z" color="#771f00"/>
<path d="M550.2 488.1l4.2-4.6-.8-1.2-4.1 4.6z" color="#091f99"/>
<path d="M618.6 369.5l4.1 7.9-.2-10.3-4.1-8.8z" color="#772e00"/>
<path d="M539.7 490.8l4.2-2.9-.7-1.2-4.2 2.9z" color="#6362e7"/>
<path d="M592.9 392.6l3.6-30.1-.2 2.2-3.7 28.6z" color="#552d00"/>
<path d="M581.9 441.1l4.1-19.3-.4-1.5-4.2 19.3z" color="#445c1a"/>
<path d="M545.1 490l4.1-3.5-.7-1.3-4.1 3.5z" color="#161cc0"/>
<path d="M613.5 312.5l4.1 12.2-.3-7.9-4.2-12.8z" color="#5c0800"/>
<path d="M618.8 380.6l4.1 7-.2-10.2-4.1-7.9z" color="#763d00"/>
<path d="M566.5 489.3l3.6-6.7-11.6-19-3.6 8.2z" color="#094368"/>
<path d="M593.1 391.9l3.7-31.8-.3 2.4-3.6 30.1z" color="#552b00"/>
<path d="M610.2 298.7l2.8 4.4-.8 1.2-2.8-4.3z" color="#330800"/>
<path d="M589.4 434.6l2.8-20.7-4.8-10.4-2.8 14z" color="#515407"/>
<path d="M619 392.7l4.2 6.1-.3-11.2-4.1-7z" color="#764d00"/>
<path d="M534.8 492.2l4.2-2.6-.7-1.1-4.2 2.5z" color="#3c3ad1"/>
<path d="M613.8 324.9l4.1 11.3-.3-11.5-4.1-12.2z" color="#650800"/>
<path d="M593.4 391.2l3.6-33.5-.2 2.4-3.7 31.8z" color="#552900"/>
<path d="M582.4 442.7l4.1-19.4-.5-1.5-4.1 19.3z" color="#445f1c"/>
<path d="M577.2 456l4.2-16.4-.7-1.9-4.2 16.7z" color="#2b5d33"/>
<path d="M619.2 403.9l4.2 5.1-.2-10.2-4.2-6.1z" color="#765e00"/>
<path d="M550.9 489.4l4.2-4.8-.7-1.1-4.2 4.6z" color="#091f98"/>
<path d="M592.2 413.9l1.9-24.9-2.9 6.8-1.9 11.8z" color="#554500"/>
<path d="M540.4 492.1l4.2-2.9-.7-1.3-4.2 2.9z" color="#7f7eeb"/>
<path d="M572.4 467.4l4.1-13-1.2-2.4-4.1 13.2z" color="#135d4c"/>
<path d="M593.6 390.5l3.6-35.2-.2 2.4-3.6 33.5z" color="#552700"/>
<path d="M614.2 350.6l4.2 9.3-.5-23.7-4.1-11.3z" color="#730e00"/>
<path d="M545.8 491.3l4.2-3.6-.8-1.2-4.1 3.5z" color="#1419bc"/>
<path d="M610.5 303.6l2.8 4.4-.3-4.9-2.8-4.4z" color="#4f0800"/>
<path d="M582.6 443.6l4.2-19.4-.3-.9-4.1 19.4z" color="#44611e"/>
<path d="M593.8 389.7l3.7-36.9-.3 2.5-3.6 35.2z" color="#552500"/>
<path d="M535.6 493.4l4.1-2.6-.7-1.2-4.2 2.6z" color="#8d8cff"/>
<path d="M614.4 362.7l4.2 8.4-.2-11.2-4.2-9.3z" color="#762200"/>
<path d="M582.9 444.6l4.1-19.6-.2-.8-4.2 19.4z" color="#44621f"/>
<path d="M577.7 457.1l4.2-16-.5-1.5-4.2 16.4z" color="#2b6036"/>
<path d="M610.9 319.3l2.8 4.2-.4-15.5-2.8-4.4z" color="#550800"/>
<path d="M594.1 389l3.6-38.7-.2 2.5-3.7 36.9z" color="#542300"/>
<path d="M530.4 494l4.2-2.2-.7-1.2-4.2 2.2z" color="#2322b2"/>
<path d="M614.6 374.7l4.2 7.4-.2-11-4.2-8.4z" color="#763100"/>
<path d="M551.7 490.7l4.1-4.9-.7-1.2-4.2 4.8z" color="#091e97"/>
<path d="M583.1 445.6l4.1-19.7-.2-.9-4.1 19.6z" color="#446321"/>
<path d="M604.8 315.1l5.5-15.5-1.1 1.1-5.5 15.2z" color="#340800"/>
<path d="M541.2 493.4l4.1-3-.7-1.2-4.2 2.9z" color="#7e7de9"/>
<path d="M614.8 386.2l4.2 6.5-.2-10.6-4.2-7.4z" color="#764100"/>
<path d="M546.5 492.7l4.2-3.7-.7-1.3-4.2 3.6z" color="#1116b8"/>
<path d="M583.3 446.6l4.2-19.8-.3-.9-4.1 19.7z" color="#436322"/>
<path d="M578.2 458.4l4.2-15.7-.5-1.6-4.2 16z" color="#2c643a"/>
<path d="M611.4 344.9l2.8 4-.5-25.4-2.8-4.2z" color="#6b0800"/>
<path d="M615.1 398.3l4.1 5.6-.2-11.2-4.2-6.5z" color="#765200"/>
<path d="M594.6 387.5l3.6-41.9-.2 2.4-3.7 40.2z" color="#511e00"/>
<path d="M573.3 469.2l4.2-12.7-1-2.1-4.1 13z" color="#135f4f"/>
<path d="M536.3 494.6l4.1-2.5-.7-1.3-4.1 2.6z" color="#acabff"/>
<path d="M583.6 447.7l4.1-20-.2-.9-4.2 19.8z" color="#426423"/>
<path d="M531.2 495.2l4.1-2.2-.7-1.2-4.2 2.2z" color="#3f3ecd"/>
<path d="M578.5 459.1l4.1-15.5-.2-.9-4.2 15.7z" color="#2c683d"/>
<path d="M611.7 362.4l2.8 3.8-.3-17.3-2.8-4z" color="#761800"/>
<path d="M552.4 491.9l4.1-4.9-.7-1.2-4.1 4.9z" color="#091d95"/>
<path d="M583.8 448.7l4.2-20-.3-1-4.1 20z" color="#416425"/>
<path d="M605.2 321.8l5.5-13.6-.4-8.6-5.5 15.5z" color="#4f0800"/>
<path d="M541.9 494.7l4.1-2.9-.7-1.4-4.1 3z" color="#7574e6"/>
<path d="M595 386.3l3.7-44.9-.2 2-3.7 43.5z" color="#4d1a00"/>
<path d="M578.7 459.8l4.2-15.2-.3-1-4.1 15.5z" color="#2c6a40"/>
<path d="M612 379.4l2.8 3.6-.3-16.8-2.8-3.8z" color="#752f00"/>
<path d="M584.1 449.8l4.1-20.2-.2-.9-4.2 20z" color="#406526"/>
<path d="M592.7 415l1.9-27.5-.5 1.5-1.9 24.9z" color="#523f00"/>
<path d="M602.9 323.3l2-7.9-1.2 .7-2 8.1z" color="#360800"/>
<path d="M578.9 460.6l4.2-15-.2-1-4.2 15.2z" color="#2b6c42"/>
<path d="M605.6 337.6l5.5-9.4-.4-20-5.5 13.6z" color="#5d0800"/>
<path d="M537 495.8l4.2-2.4-.8-1.3-4.1 2.5z" color="#a8a7ff"/>
<path d="M584.3 450.9l4.2-20.3-.3-1-4.1 20.2z" color="#3f6527"/>
<path d="M548 495.4l4.1-3.9-1.4-2.5-4.2 3.7z" color="#0e13b2"/>
<path d="M612.3 395l2.8 3.3-.3-15.3-2.8-3.6z" color="#754600"/>
<path d="M574.1 470.7l4.1-12.3-.7-1.9-4.2 12.7z" color="#136454"/>
<path d="M600.4 333.9l2.3-11.7-1.2 3.6-2.3 11.7z" color="#3b0800"/>
<path d="M531.9 496.4l4.2-2.2-.8-1.2-4.1 2.2z" color="#4a49d1"/>
<path d="M595.6 385.3l3.6-47.7-.3 1.9-3.6 46.3z" color="#481800"/>
<path d="M579.2 461.4l4.1-14.8-.2-1-4.2 15z" color="#2b6e44"/>
<path d="M553.1 493.2l4.2-5.1-.8-1.1-4.1 4.9z" color="#091d94"/>
<path d="M584.5 452.1l4.2-20.5-.2-1-4.2 20.3z" color="#3e6529"/>
<path d="M593.1 416.3l1.9-30-.4 1.2-1.9 27.5z" color="#4f3c00"/>
<path d="M542.6 496l4.2-2.9-.8-1.3-4.1 2.9z" color="#6e6de2"/>
<path d="M606 357.8l5.6-4.2-.5-25.4-5.5 9.4z" color="#710b00"/>
<path d="M579.4 462.2l4.2-14.5-.3-1.1-4.1 14.8z" color="#2a6f47"/>
<path d="M595.9 384.9l3.6-49.1-.3 1.8-3.6 47.7z" color="#461700"/>
<path d="M584.8 453.2l4.1-20.6-.2-1-4.2 20.5z" color="#3d652a"/>
<path d="M570.4 483l4.6-10.2-4.1-8.1-4.6 11.7z" color="#095862"/>
<path d="M603.3 331.4l2-7-.4-9-2 7.9z" color="#570800"/>
<path d="M579.7 463l4.1-14.3-.2-1-4.2 14.5z" color="#297149"/>
<path d="M537.7 497.1l4.2-2.4-.7-1.3-4.2 2.4z" color="#9695fa"/>
<path d="M585 454.3l4.2-20.7-.3-1-4.1 20.6z" color="#3b652b"/>
<path d="M593.6 417.6l1.9-32.3-.5 1-1.9 30z" color="#4b3900"/>
<path d="M606.4 376l5.5 .1-.3-22.5-5.6 4.2z" color="#752300"/>
<path d="M532.6 497.6l4.2-2.2-.7-1.2-4.2 2.2z" color="#4846d0"/>
<path d="M600.8 335.7l2.2-11.7-.3-1.8-2.3 11.7z" color="#400800"/>
<path d="M590.9 441l2.7-23.4-1.4-3.7-2.8 20.7z" color="#464e0b"/>
<path d="M579.9 463.9l4.2-14.1-.3-1.1-4.1 14.3z" color="#28724b"/>
<path d="M575 472.8l4.2-11.4-1-3-4.1 12.3z" color="#136a5b"/>
<path d="M553.8 494.5l4.2-5.2-.7-1.2-4.2 5.1z" color="#091c92"/>
<path d="M585.3 455.4l4.1-20.8-.2-1-4.2 20.7z" color="#39642c"/>
<path d="M596.7 384.9l3.7-51.1-.9 2-3.6 49.1z" color="#411600"/>
<path d="M543.3 497.3l4.2-2.8-.7-1.4-4.2 2.9z" color="#6d6cde"/>
<path d="M603.9 352.6l1.9-4.5-.5-23.7-2 7z" color="#6a0800"/>
<path d="M580.1 464.7l4.2-13.8-.2-1.1-4.2 14.1z" color="#27734d"/>
<path d="M606.8 391.5l5.5 3.5-.4-18.9-5.5-.1z" color="#753d00"/>
<path d="M585.5 456.5l4.2-20.8-.3-1.1-4.1 20.8z" color="#37622c"/>
<path d="M601.2 346.2l2.2-12.2-.4-10-2.2 11.7z" color="#5d0800"/>
<path d="M594.2 419.1l1.9-34.4-.6 .6-1.9 32.3z" color="#483500"/>
<path d="M580.4 465.6l4.1-13.5-.2-1.2-4.2 13.8z" color="#267450"/>
<path d="M538.5 498.3l4.1-2.3-.7-1.3-4.2 2.4z" color="#8584ed"/>
<path d="M585.7 457.6l4.2-20.9-.2-1-4.2 20.8z" color="#355f2c"/>
<path d="M565.2 500.2l4.2-7-11.9-17.5-4.1 6.2z" color="#093275"/>
<path d="M533.3 498.7l4.2-2.1-.7-1.2-4.2 2.2z" color="#3d3bcd"/>
<path d="M580.6 466.5l4.2-13.3-.3-1.1-4.1 13.5z" color="#247552"/>
<path d="M604.4 372.7l1.9-2.3-.5-22.3-1.9 4.5z" color="#741a00"/>
<path d="M597.2 387l3.6-50.4-.4-2.8-3.7 51.1z" color="#411500"/>
<path d="M554.5 495.8l4.2-5.3-.7-1.2-4.2 5.2z" color="#091b90"/>
<path d="M586 458.7l4.1-20.9-.2-1.1-4.2 20.9z" color="#325d2c"/>
<path d="M544.1 498.7l4.1-2.9-.7-1.3-4.2 2.8z" color="#6d6cdc"/>
<path d="M601.8 372l2.3-13.2-.7-24.8-2.2 12.2z" color="#6e1000"/>
<path d="M594.7 420.7l1.9-35.9-.5-.1-1.9 34.4z" color="#430"/>
<path d="M580.9 467.3l4.1-13-.2-1.1-4.2 13.3z" color="#237654"/>
<path d="M597.3 388.1l3.6-49.8-.1-1.7-3.6 50.4z" color="#4e1600"/>
<path d="M586.2 459.7l4.2-20.8-.3-1.1-4.1 20.9z" color="#305b2c"/>
<path d="M597.3 389.5l3.7-49.2-.1-2-3.6 49.8z" color="#531800"/>
<path d="M597.4 390.5l3.7-48.7-.1-1.5-3.7 49.2z" color="#561900"/>
<path d="M604.8 391.9l2-.4-.5-21.1-1.9 2.3z" color="#743500"/>
<path d="M581.1 468.2l4.2-12.8-.3-1.1-4.1 13z" color="#217555"/>
<path d="M576.5 476.3l4.1-9.8-1.4-5.1-4.2 11.4z" color="#117266"/>
<path d="M539.2 499.5l4.1-2.2-.7-1.3-4.1 2.3z" color="#7a79e1"/>
<path d="M597.5 391.6l3.6-48.1 0-1.7-3.7 48.7z" color="#591a00"/>
<path d="M586.5 460.7l4.1-20.8-.2-1-4.2 20.8z" color="#2e592c"/>
<path d="M597.5 392.8l3.7-47.5-.1-1.8-3.6 48.1z" color="#5c1b00"/>
<path d="M592.1 446.5l2.7-25.4-1.2-3.5-2.7 23.4z" color="#3b450c"/>
<path d="M602.1 383.7l2.2-13.5-.2-11.4-2.3 13.2z" color="#702500"/>
<path d="M597.6 394.1l3.6-46.9 0-1.9-3.7 47.5z" color="#5e1d00"/>
<path d="M534.1 499.9l4.1-2-.7-1.3-4.2 2.1z" color="#2e2dc0"/>
<path d="M597.6 395.4l3.7-46.2-.1-2-3.6 46.9z" color="#5f1e00"/>
<path d="M595.2 422.9l1.9-36.2-.5-1.9-1.9 35.9z" color="#413100"/>
<path d="M581.4 469l4.1-12.5-.2-1.1-4.2 12.8z" color="#1f7355"/>
<path d="M597.7 396.8l3.6-45.5 0-2.1-3.7 46.2z" color="#612100"/>
<path d="M555.3 497.1l4.1-5.5-.7-1.1-4.2 5.3z" color="#091a8f"/>
<path d="M597.7 397.6l3.7-45.2-.1-1.1-3.6 45.5z" color="#612300"/>
<path d="M586.7 461.7l4.2-20.7-.3-1.1-4.1 20.8z" color="#2c562c"/>
<path d="M597.8 398.3l3.6-44.8 0-1.1-3.7 45.2z" color="#622400"/>
<path d="M544.8 499.9l4.1-2.8-.7-1.3-4.1 2.9z" color="#6968da"/>
<path d="M597.8 399l3.6-44.4 0-1.1-3.6 44.8z" color="#622500"/>
<path d="M602.4 395.2l2.2-13.8-.3-11.2-2.2 13.5z" color="#703400"/>
<path d="M597.8 399.8l3.7-44-.1-1.2-3.6 44.4z" color="#632600"/>
<path d="M597.8 400.6l3.7-43.7 0-1.1-3.7 44z" color="#632800"/>
<path d="M597.9 401.4l3.6-43.3 0-1.2-3.7 43.7z" color="#642900"/>
<path d="M581.6 469.9l4.1-12.3-.2-1.1-4.1 12.5z" color="#1d7155"/>
<path d="M597.9 402.2l3.6-42.9 0-1.2-3.6 43.3z" color="#642a00"/>
<path d="M597.9 403l3.7-42.5-.1-1.2-3.6 42.9z" color="#642c00"/>
<path d="M586.9 462.6l4.2-20.6-.2-1-4.2 20.7z" color="#2a542b"/>
<path d="M598 403.8l3.6-42 0-1.3-3.7 42.5z" color="#652d00"/>
<path d="M598 404.6l3.6-41.6 0-1.2-3.6 42z" color="#652f00"/>
<path d="M598 405.4l3.7-41.1-.1-1.3-3.6 41.6z" color="#653000"/>
<path d="M598 406.3l3.7-40.8 0-1.2-3.7 41.1z" color="#663100"/>
<path d="M602.6 405.9l2.2-14-.2-10.5-2.2 13.8z" color="#704300"/>
<path d="M595.6 425.5l1.9-33.9-.4-4.9-1.9 36.2z" color="#443401"/>
<path d="M598.1 407.1l3.6-40.3 0-1.3-3.7 40.8z" color="#630"/>
<path d="M598.1 408l3.7-39.9-.1-1.3-3.6 40.3z" color="#663400"/>
<path d="M581.8 470.7l4.2-12-.3-1.1-4.1 12.3z" color="#1c6f55"/>
<path d="M598.1 408.8l3.7-39.4 0-1.3-3.7 39.9z" color="#673600"/>
<path d="M598.2 409.7l3.6-39 0-1.3-3.7 39.4z" color="#673700"/>
<path d="M539.9 500.8l4.2-2.1-.8-1.4-4.1 2.2z" color="#7372d9"/>
<path d="M598.2 410.5l3.6-38.5 0-1.3-3.6 39z" color="#673900"/>
<path d="M598.2 411.4l3.7-38.1-.1-1.3-3.6 38.5z" color="#673a00"/>
<path d="M552.3 503.2l4.2-4-4.4-7.7-4.1 3.9z" color="#1012a9"/>
<path d="M587.3 464l4.1-20.3-.3-1.7-4.2 20.6z" color="#27512b"/>
<path d="M598.2 412.3l3.7-37.7 0-1.3-3.7 38.1z" color="#683c00"/>
<path d="M598.3 413.1l3.6-37.2 0-1.3-3.7 37.7z" color="#683d00"/>
<path d="M598.3 414l3.7-36.8-.1-1.3-3.6 37.2z" color="#683f00"/>
<path d="M534.8 501.1l4.1-2-.7-1.2-4.1 2z" color="#2120b2"/>
<path d="M598.3 414.9l3.7-36.4 0-1.3-3.7 36.8z" color="#684100"/>
<path d="M598.4 415.7l3.6-35.9 0-1.3-3.7 36.4z" color="#684200"/>
<path d="M582.1 471.5l4.1-11.8-.2-1-4.2 12z" color="#1a6d54"/>
<path d="M571.3 484.6l4.7-9.5-1-2.3-4.6 10.2z" color="#095e6c"/>
<path d="M598.4 416.6l3.6-35.5 0-1.3-3.6 35.9z" color="#694400"/>
<path d="M598.4 417.5l3.7-35.1-.1-1.3-3.6 35.5z" color="#694500"/>
<path d="M556 498.4l4.2-5.6-.8-1.2-4.1 5.5z" color="#09198d"/>
<path d="M598.4 418.3l3.7-34.6 0-1.3-3.7 35.1z" color="#694700"/>
<path d="M598.5 419.2l3.6-34.2 0-1.3-3.7 34.6z" color="#694800"/>
<path d="M545.5 501.2l4.2-2.7-.8-1.4-4.1 2.8z" color="#5e5dd8"/>
<path d="M598.5 420l3.7-33.7-.1-1.3-3.6 34.2z" color="#694a00"/>
<path d="M596.1 432.1l1.9-25.8-.5-14.7-1.9 33.9z" color="#4d4003"/>
<path d="M598.5 420.9l3.7-33.3 0-1.3-3.7 33.7z" color="#6a4c00"/>
<path d="M598.6 421.8l3.6-32.9 0-1.3-3.7 33.3z" color="#6a4d00"/>
<path d="M593 451l2.7-23.7-.9-6.2-2.7 25.4z" color="#35410e"/>
<path d="M598.6 422.6l3.6-32.4 0-1.3-3.6 32.9z" color="#6a4f00"/>
<path d="M582.3 472.3l4.2-11.6-.3-1-4.1 11.8z" color="#186a54"/>
<path d="M587.7 465.3l4.1-19.9-.4-1.7-4.1 20.3z" color="#254d2a"/>
<path d="M598.6 423.4l3.7-31.9-.1-1.3-3.6 32.4z" color="#6a5000"/>
<path d="M598.6 424.3l3.7-31.6 0-1.2-3.7 31.9z" color="#6a5200"/>
<path d="M598.7 425.1l3.6-31.1 0-1.3-3.7 31.6z" color="#6a5300"/>
<path d="M598.7 425.9l3.7-30.7-.1-1.2-3.6 31.1z" color="#695401"/>
<path d="M598.7 426.7l3.7-30.2 0-1.3-3.7 30.7z" color="#695502"/>
<path d="M598.8 427.6l3.6-29.9 0-1.2-3.7 30.2z" color="#685602"/>
<path d="M598.8 428.4l3.6-29.5 0-1.2-3.6 29.9z" color="#685703"/>
<path d="M598.8 429.2l3.7-29.1-.1-1.2-3.6 29.5z" color="#675803"/>
<path d="M582.6 473.1l4.1-11.4-.2-1-4.2 11.6z" color="#166853"/>
<path d="M598.9 429.9l3.6-28.6 0-1.2-3.7 29.1z" color="#675904"/>
<path d="M540.6 502l4.2-2.1-.7-1.2-4.2 2.1z" color="#6b6ad3"/>
<path d="M599 433l3.6-27.1-.1-4.6-3.6 28.6z" color="#665b06"/>
<path d="M596.4 436l1.9-21.1-.3-8.6-1.9 25.8z" color="#534f06"/>
<path d="M588 466.6l4.2-19.5-.4-1.7-4.1 19.9z" color="#224929"/>
<path d="M535.5 502.3l4.2-1.9-.8-1.3-4.1 2z" color="#1817a8"/>
<path d="M571.8 485.4l4.7-9.1-.5-1.2-4.7 9.5z" color="#096170"/>
<path d="M596.5 436.7l1.9-20.1-.1-1.7-1.9 21.1z" color="#545508"/>
<path d="M578.4 481l4.2-7.9-2-6.6-4.1 9.8z" color="#0d7671"/>
<path d="M556.7 499.7l4.2-5.8-.7-1.1-4.2 5.6z" color="#09198b"/>
<path d="M583 474.4l4.1-11.1-.4-1.6-4.1 11.4z" color="#156451"/>
<path d="M596.6 437.5l1.8-19.2 0-1.7-1.9 20.1z" color="#545708"/>
<path d="M546.2 502.5l4.2-2.7-.7-1.3-4.2 2.7z" color="#4d4cd8"/>
<path d="M596.6 438.3l1.9-18.3-.1-1.7-1.8 19.2z" color="#555909"/>
<path d="M596.7 439l1.9-17.2-.1-1.8-1.9 18.3z" color="#555b09"/>
<path d="M593.6 454.2l2.7-19.4-.6-7.5-2.7 23.7z" color="#364914"/>
<path d="M596.7 439.8l1.9-16.4 0-1.6-1.9 17.2z" color="#555d0a"/>
<path d="M588.4 467.7l4.2-18.8-.4-1.8-4.2 19.5z" color="#204728"/>
<path d="M596.8 440.6l1.9-15.5-.1-1.7-1.9 16.4z" color="#555f0b"/>
<path d="M596.8 441.3l1.9-14.6 0-1.6-1.9 15.5z" color="#55600c"/>
<path d="M596.9 442.1l1.9-13.7-.1-1.7-1.9 14.6z" color="#54610e"/>
<path d="M572.3 486.2l4.7-8.7-.5-1.2-4.7 9.1z" color="#096373"/>
<path d="M583.4 475.7l4.2-10.7-.5-1.7-4.1 11.1z" color="#125f4e"/>
<path d="M541.4 503.2l4.1-2-.7-1.3-4.2 2.1z" color="#5d5bd0"/>
<path d="M597.1 444.2l1.9-11.2-.2-4.6-1.9 13.7z" color="#526212"/>
<path d="M588.9 469.2l4.2-17.6-.5-2.7-4.2 18.8z" color="#1f482a"/>
<path d="M557.4 501l4.2-6-.7-1.1-4.2 5.8z" color="#091889"/>
<path d="M547 503.7l4.1-2.6-.7-1.3-4.2 2.7z" color="#3d3bd0"/>
<path d="M594.3 458.2l2.8-14-.8-9.4-2.7 19.4z" color="#37531d"/>
<path d="M572.8 487l4.6-8.4-.4-1.1-4.7 8.7z" color="#096577"/>
<path d="M583.9 477l4.2-10.3-.5-1.7-4.2 10.7z" color="#115849"/>
<path d="M578.7 481.8l4.2-7.7-.3-1-4.2 7.9z" color="#0a7374"/>
<path d="M542.1 504.4l4.1-1.9-.7-1.3-4.1 2z" color="#4a48ce"/>
<path d="M573.3 487.8l4.6-8-.5-1.2-4.6 8.4z" color="#09677a"/>
<path d="M558.2 502.3l4.1-6.2-.7-1.1-4.2 6z" color="#091787"/>
<path d="M570.1 494.3l3.7-5.6-3.7-6.1-3.6 6.7z" color="#094b70"/>
<path d="M547.7 504.9l4.1-2.5-.7-1.3-4.1 2.6z" color="#302fc2"/>
<path d="M590.2 472.4l4.1-14.2-1.2-6.6-4.2 17.6z" color="#1e4c2f"/>
<path d="M579.3 483.1l4.1-7.4-.5-1.6-4.2 7.7z" color="#097173"/>
<path d="M553.1 504.5l4.1-4-.7-1.3-4.2 4z" color="#1818a9"/>
<path d="M573.8 488.7l4.6-7.6-.5-1.3-4.6 8z" color="#09697d"/>
<path d="M542.8 505.6l4.2-1.9-.8-1.2-4.1 1.9z" color="#3735c5"/>
<path d="M579.9 484.4l4.1-7.1-.6-1.6-4.1 7.4z" color="#096c71"/>
<path d="M558.9 503.6l4.1-6.5-.7-1-4.1 6.2z" color="#091783"/>
<path d="M586 481.7l4.2-9.3-2.1-5.7-4.2 10.3z" color="#0f5246"/>
<path d="M553.8 505.8l4.1-4-.7-1.3-4.1 4z" color="#1e1dae"/>
<path d="M543.5 506.8l4.2-1.9-.7-1.2-4.2 1.9z" color="#2826b5"/>
<path d="M549.4 507.7l4.1-2.3-1.7-3-4.1 2.5z" color="#2928b8"/>
<path d="M580.5 485.9l4.2-7.1-.7-1.5-4.1 7.1z" color="#096a6f"/>
<path d="M559.6 504.9l4.2-6.8-.8-1-4.1 6.5z" color="#091880"/>
<path d="M554.5 507l4.2-3.9-.8-1.3-4.1 4z" color="#2625b4"/>
<path d="M581.2 487.4l4.1-7.1-.6-1.5-4.2 7.1z" color="#09686f"/>
<path d="M560.3 506.2l4.2-7.1-.7-1-4.2 6.8z" color="#09187d"/>
<path d="M555.2 508.3l4.2-3.9-.7-1.3-4.2 3.9z" color="#302ebb"/>
<path d="M577.2 495.8l4.6-7-3.4-7.7-4.6 7.6z" color="#096e89"/>
<path d="M550.1 508.9l4.2-2.3-.8-1.2-4.1 2.3z" color="#2c2bbb"/>
<path d="M571.7 496.7l3.6-5.4-1.5-2.6-3.7 5.6z" color="#09537b"/>
<path d="M581.8 488.8l4.2-7.1-.7-1.4-4.1 7.1z" color="#09656d"/>
<path d="M566.6 502.2l4.2-6.9-1.4-2.1-4.2 7z" color="#093871"/>
<path d="M561.1 507.5l4.1-7.3-.7-1.1-4.2 7.1z" color="#09187b"/>
<path d="M555.9 509.5l4.2-3.8-.7-1.3-4.2 3.9z" color="#3a39c3"/>
<path d="M550.8 510.1l4.2-2.2-.7-1.3-4.2 2.3z" color="#3332c1"/>
<path d="M561.8 508.8l4.1-7.6-.7-1-4.1 7.3z" color="#091879"/>
<path d="M556.7 510.8l4.1-3.7-.7-1.4-4.2 3.8z" color="#4443c4"/>
<path d="M551.6 511.2l4.1-2.1-.7-1.2-4.2 2.2z" color="#3c3bc9"/>
<path d="M567.5 503.6l4.1-7-.8-1.3-4.2 6.9z" color="#093a74"/>
<path d="M562.4 509.8l4.1-7.7-.6-.9-4.1 7.6z" color="#091978"/>
<path d="M573.5 501.2l3.7-5.4-1.9-4.5-3.6 5.4z" color="#095d91"/>
<path d="M557.4 512l4.1-3.6-.7-1.3-4.1 3.7z" color="#4c4bc3"/>
<path d="M552.3 512.4l4.1-2-.7-1.3-4.1 2.1z" color="#4544ce"/>
<path d="M568.2 505l4.1-6.9-.7-1.5-4.1 7z" color="#093f80"/>
<path d="M563.2 511.2l4.1-7.9-.8-1.2-4.1 7.7z" color="#091978"/>
<path d="M558 512.9l4.1-3.6-.6-.9-4.1 3.6z" color="#4f4ec1"/>
<path d="M548.6 523.8l4.2-1.9-13.1-21.5-4.2 1.9z" color="#0b0a96"/>
<path d="M553 513.6l4.2-2-.8-1.2-4.1 2z" color="#4d4cce"/>
<path d="M568.8 506.3l4.1-6.7-.6-1.5-4.1 6.9z" color="#094089"/>
<path d="M563.9 512.5l4.2-7.8-.8-1.4-4.1 7.9z" color="#091a7b"/>
<path d="M558.7 514.2l4.2-3.5-.8-1.4-4.1 3.6z" color="#4e4dc0"/>
<path d="M569.4 507.7l4.1-6.5-.6-1.6-4.1 6.7z" color="#093e8d"/>
<path d="M553.7 514.7l4.1-2-.6-1.1-4.2 2z" color="#5250cd"/>
<path d="M564.6 513.6l4.1-7.4-.6-1.5-4.2 7.8z" color="#091b80"/>
<path d="M559.5 515.5l4.2-3.4-.8-1.4-4.2 3.5z" color="#4b49bf"/>
<path d="M554.5 516.1l4.2-2-.9-1.4-4.1 2z" color="#5150cd"/>
<path d="M565.2 514.8l4.2-7.1-.7-1.5-4.1 7.4z" color="#091a84"/>
<path d="M560.3 516.8l4.2-3.4-.8-1.3-4.2 3.4z" color="#4d4bbf"/>
<path d="M555.3 517.4l4.2-2-.8-1.3-4.2 2z" color="#4d4ccd"/>
<path d="M561.1 518l4.1-3.2-.7-1.4-4.2 3.4z" color="#4e4dc1"/>
<path d="M556.1 518.7l4.2-2-.8-1.3-4.2 2z" color="#4f4dcd"/>
<path d="M556.9 520l4.2-2-.8-1.3-4.2 2z" color="#504fcd"/>
</g>
<path d="M428.4 576.9L256.2 295.2M448.5 568L276.3 286.3M460 562.9L287.8 281.2M472.7 557.3L300.5 275.6M486.8 551.1L314.6 269.4M502.9 544L330.7 262.3M521.5 535.8L349.3 254.1M543.4 526.1L371.2 244.4M570.2 506.4L567.8 501.4L552.3 477.6L547.8 473.8L546.1 471.6L540.9 457.1L539.2 455.4L534.7 454.2L531.2 450.2L495.3 391.7L488.1 378.9L463.3 339.2L453.6 321.3L438.7 287L432.5 276.3L430.8 274.7L426.3 274L421.8 269.1L412.5 255.7L398 232.5M604.8 391.9L603.1 326.1L602.8 322.4L602.1 322.9L600.7 331.6M595.5 369.6L591.7 374.6L590 375.2L588.6 374.7L586.2 371.4L581 356.1L580.3 355.5L579.6 358M556.2 416L542.7 395L534.1 379.1L531 366.1L528.6 358.7L527.2 355.8L522.4 348.6L518.9 316L518.6 315.2L517.9 315.2L516.1 319.7M509.2 334.2L504.8 329.4L500.3 322.7L496.8 314.7L493 303.1L489.2 289.8L486.1 276.2L473.4 209.3L471.6 203.8L469.6 201.4M456.1 199.1L452 183.6L451.3 182.5L450.6 182.4L449.2 185M434.7 214.7L432.6 213.2M653.6 423.6L651.9 347.3L651.2 342.4L649.8 346.7M623.9 409.4L621.5 410.8L619.1 410.8M584.6 355.2L582.9 348.7L582.2 339.9L579.8 271L579.4 269.2L576.3 264.5L575.6 264.3L575.3 265.2M552.2 286.2L537.7 262.3L528.3 244.6L516.3 213.3L514.9 211.7L513.5 212.3M504.9 211.5L494.5 200.5L489.4 193.9L485.2 187.7L481.4 179.6M737 409.5L735.2 407.1L733.5 401.4L732.8 402.1L732.4 403.8M731.4 411.4L730.3 416.1L729.6 415.8L728.9 413M399.2 555.5L531.7 496.9L540.3 492L548.3 485.9L553 480.8L557 474.9L561 466.5L565 455.7L569.6 440L577.6 401.6L582.3 384.4L586.3 376L588.3 374.5L591.6 374M377.7 520.4L522.9 456.2L535.6 449.9L547.5 442.5M690.1 365.9L710 360.7M356.3 485.3L522.1 412L537.4 404.3L555.4 393.6L561.4 390.7M634.7 353.9L649.3 344.8M677.3 328.1L680.6 326.8L688.6 325M334.9 450.2L480 386.1L492.7 379.2L504.7 371.9L509.3 368.5L516 362.4L522 354.5L526 348.3L538.6 323.1L544.6 313.6M636.5 279.9L646.5 282.6L659.2 288.7L667.2 291.9M313.4 415.2L475.2 343.6L483.9 338.8L494.5 331.1L504.5 325L522.5 308M535.2 297.3L545.8 288.4L550.5 285.3L553.1 284.2M626.4 265.9L645.7 259.8M292 380.1L424.5 321.5L433.2 317.5L437.1 315L441.8 310.7L449.8 300.4L473.1 260.1L491.1 239.1L495.7 234.8L499.7 234.1L503.7 236L511.7 242.6L515.7 244.8L528.4 247.5L545.7 249.5L557.7 253.6L561.7 253.6L565.7 252.2L577.7 245.1M270.5 345L403.7 286.2L412.4 282L420.4 277.1L424.4 273.7L428.4 269.1L432.4 262L441 240.3L449 213.8L452.3 208.4M249.1 310L410.3 238.7L419.6 233.1L423.6 229.5L432.2 219.6M464.9 196.6L472.8 192.8L476.2 191.8L498.2 189.4L514.8 185.5L522.8 182.4L546.1 171.8M583.6 376L595 374L605 374.6L618 377.5L623.3 388.3L627.5 400.8L634 410M604.6 498.6V327.8 M653.4 477.5V345.9 M570.7 513.7V506" class="dl"/>
<path d="M411.9 547.3l2.3 2.5-2.3 2.5-2.3-2.5zM390.5 512.3l2.3 2.5-2.3 2.5-2.3-2.5zM369 477.2l2.3 2.5-2.3 2.5-2.3-2.5zM347.6 442.1l2.3 2.5-2.3 2.5-2.3-2.5zM326.1 407l2.3 2.5-2.3 2.5-2.3-2.5zM304.7 372l2.3 2.5-2.3 2.5-2.3-2.5zM283.3 336.9l2.3 2.5-2.3 2.5-2.3-2.5zM261.8 301.8l2.3 2.5-2.3 2.5-2.3-2.5zM432 538.5l2.3 2.5-2.3 2.5-2.3-2.5zM410.6 503.4l2.3 2.5-2.3 2.5-2.3-2.5zM389.1 468.3l2.3 2.5-2.3 2.5-2.3-2.5zM367.7 433.2l2.3 2.5-2.3 2.5-2.3-2.5zM346.2 398.2l2.3 2.5-2.3 2.5-2.3-2.5zM324.8 363.1l2.3 2.5-2.3 2.5-2.3-2.5zM303.4 328l2.3 2.5-2.3 2.5-2.3-2.5zM281.9 293l2.3 2.5-2.3 2.5-2.3-2.5zM443.5 533.4l2.3 2.5-2.3 2.5-2.3-2.5zM422 498.3l2.3 2.5-2.3 2.5-2.3-2.5zM400.6 463.2l2.3 2.5-2.3 2.5-2.3-2.5zM379.2 428.2l2.3 2.5-2.3 2.5-2.3-2.5zM357.7 393.1l2.3 2.5-2.3 2.5-2.3-2.5zM336.3 358l2.3 2.5-2.3 2.5-2.3-2.5zM314.8 323l2.3 2.5-2.3 2.5-2.3-2.5zM293.4 287.9l2.3 2.5-2.3 2.5-2.3-2.5zM456.1 527.8l2.3 2.5-2.3 2.5-2.3-2.5zM434.7 492.7l2.3 2.5-2.3 2.5-2.3-2.5zM413.3 457.6l2.3 2.5-2.3 2.5-2.3-2.5zM391.8 422.6l2.3 2.5-2.3 2.5-2.3-2.5zM370.4 387.5l2.3 2.5-2.3 2.5-2.3-2.5zM348.9 352.4l2.3 2.5-2.3 2.5-2.3-2.5zM327.5 317.4l2.3 2.5-2.3 2.5-2.3-2.5zM306.1 282.3l2.3 2.5-2.3 2.5-2.3-2.5zM470.3 521.5l2.3 2.5-2.3 2.5-2.3-2.5zM448.9 486.5l2.3 2.5-2.3 2.5-2.3-2.5zM427.4 451.4l2.3 2.5-2.3 2.5-2.3-2.5zM406 416.3l2.3 2.5-2.3 2.5-2.3-2.5zM384.6 381.2l2.3 2.5-2.3 2.5-2.3-2.5zM363.1 346.2l2.3 2.5-2.3 2.5-2.3-2.5zM341.7 311.1l2.3 2.5-2.3 2.5-2.3-2.5zM320.2 276l2.3 2.5-2.3 2.5-2.3-2.5zM486.4 514.4l2.3 2.5-2.3 2.5-2.3-2.5zM464.9 479.4l2.3 2.5-2.3 2.5-2.3-2.5zM443.5 444.3l2.3 2.5-2.3 2.5-2.3-2.5zM422.1 409.2l2.3 2.5-2.3 2.5-2.3-2.5zM400.6 374.1l2.3 2.5-2.3 2.5-2.3-2.5zM379.2 339.1l2.3 2.5-2.3 2.5-2.3-2.5zM357.7 304l2.3 2.5-2.3 2.5-2.3-2.5zM336.3 268.9l2.3 2.5-2.3 2.5-2.3-2.5zM504.9 506.2l2.3 2.5-2.3 2.5-2.3-2.5zM483.5 471.2l2.3 2.5-2.3 2.5-2.3-2.5zM462 436.1l2.3 2.5-2.3 2.5-2.3-2.5zM440.6 401l2.3 2.5-2.3 2.5-2.3-2.5zM419.2 366l2.3 2.5-2.3 2.5-2.3-2.5zM397.7 330.9l2.3 2.5-2.3 2.5-2.3-2.5zM376.3 295.8l2.3 2.5-2.3 2.5-2.3-2.5zM354.8 260.7l2.3 2.5-2.3 2.5-2.3-2.5zM526.9 496.5l2.3 2.5-2.3 2.5-2.3-2.5zM505.4 461.5l2.3 2.5-2.3 2.5-2.3-2.5zM484 426.4l2.3 2.5-2.3 2.5-2.3-2.5zM462.5 391.3l2.3 2.5-2.3 2.5-2.3-2.5zM441.1 356.3l2.3 2.5-2.3 2.5-2.3-2.5zM419.7 321.2l2.3 2.5-2.3 2.5-2.3-2.5zM398.2 286.1l2.3 2.5-2.3 2.5-2.3-2.5zM376.8 251l2.3 2.5-2.3 2.5-2.3-2.5zM553.7 477.3l2.3 2.5-2.3 2.5-2.3-2.5zM532.3 449.2l2.3 2.5-2.3 2.5-2.3-2.5zM510.8 414.5l2.3 2.5-2.3 2.5-2.3-2.5zM489.4 378.6l2.3 2.5-2.3 2.5-2.3-2.5zM467.9 344.4l2.3 2.5-2.3 2.5-2.3-2.5zM446.5 302.3l2.3 2.5-2.3 2.5-2.3-2.5zM425.1 270.4l2.3 2.5-2.3 2.5-2.3-2.5zM403.6 239.2l2.3 2.5-2.3 2.5-2.3-2.5zM588.3 372l2.3 2.5-2.3 2.5-2.3-2.5zM545.4 397l2.3 2.5-2.3 2.5-2.3-2.5zM524 349l2.3 2.5-2.3 2.5-2.3-2.5zM502.6 323.9l2.3 2.5-2.3 2.5-2.3-2.5zM481.1 248.1l2.3 2.5-2.3 2.5-2.3-2.5zM551.3 282.4l2.3 2.5-2.3 2.5-2.3-2.5zM529.9 245.2l2.3 2.5-2.3 2.5-2.3-2.5zM487 188.1l2.3 2.5-2.3 2.5-2.3-2.5zM637.3 449.1l2.3 2.5-2.3 2.5-2.3-2.5zM588.6 470.7l2.3 2.5-2.3 2.5-2.3-2.5z" fill="#000"/>
<path class="ax" d="M243.5 103V300.8L415.7 582.5L748 435.7"/>
<path class="ax" d="M243.5 300.8l-5.1-7.6M243.5 174.6l-5.1-7.6"/>
<text transform="translate(386.8,572.2) scale(1,1.28)" text-anchor="end">29-Jun-2022</text>
<text transform="translate(365.3,537.1) scale(1,1.28)" text-anchor="end">30-Jun-2022</text>
<text transform="translate(343.9,502.0) scale(1,1.28)" text-anchor="end">01-Jul-2022</text>
<text transform="translate(322.5,466.9) scale(1,1.28)" text-anchor="end">02-Jul-2022</text>
<text transform="translate(301.0,431.9) scale(1,1.28)" text-anchor="end">03-Jul-2022</text>
<text transform="translate(279.6,396.8) scale(1,1.28)" text-anchor="end">04-Jul-2022</text>
<text transform="translate(258.1,361.7) scale(1,1.28)" text-anchor="end">05-Jul-2022</text>
<text transform="translate(236.7,326.7) scale(1,1.28)" text-anchor="end">06-Jul-2022</text>
<path class="ax" d="M399.2 555.5l-7.3 3.8M377.7 520.4l-7.3 3.8M356.3 485.3l-7.3 3.8M334.9 450.2l-7.3 3.8M313.4 415.2l-7.3 3.8M292.0 380.1l-7.3 3.8M270.5 345.0l-7.3 3.8M249.1 310.0l-7.3 3.8"/>
<text transform="translate(445.9,598.9) scale(1,1.28)" text-anchor="end">26</text>
<text transform="translate(466.0,590.0) scale(1,1.28)" text-anchor="end">22</text>
<text transform="translate(477.5,584.9) scale(1,1.28)" text-anchor="end">20</text>
<text transform="translate(490.2,579.3) scale(1,1.28)" text-anchor="end">18</text>
<text transform="translate(504.3,573.1) scale(1,1.28)" text-anchor="end">16</text>
<text transform="translate(520.4,566.0) scale(1,1.28)" text-anchor="end">14</text>
<text transform="translate(539.0,557.8) scale(1,1.28)" text-anchor="end">12</text>
<text transform="translate(560.9,548.1) scale(1,1.28)" text-anchor="end">10</text>
<text transform="translate(587.7,536.2) scale(1,1.28)" text-anchor="end">8</text>
<text transform="translate(622.3,520.9) scale(1,1.28)" text-anchor="end">6</text>
<text transform="translate(671.1,499.4) scale(1,1.28)" text-anchor="end">4</text>
<text transform="translate(754.5,462.6) scale(1,1.28)" text-anchor="end">2</text>
<path class="ax" d="M428.4 576.9l4.8 7.7M448.5 568.0l4.8 7.7M460.0 562.9l4.8 7.7M472.7 557.3l4.8 7.7M486.8 551.1l4.8 7.7M502.9 544.0l4.8 7.7M521.5 535.8l4.8 7.7M543.4 526.1l4.8 7.7M570.2 514.2l4.8 7.7M604.8 498.9l4.8 7.7M653.6 477.4l4.8 7.7M737.0 440.6l4.8 7.7"/>
<text transform="translate(232.0,571.0) scale(1,1.28)">time [UTC]</text>
<text transform="translate(573.5,605.3) scale(1,1.28)">wave period [s] (logarithmic scale)</text>
<text transform="translate(227.3,261) rotate(-90) scale(1,1.28)">energy density [m<tspan dy="-4">2</tspan><tspan dy="4">]</tspan></text>
<g shape-rendering="crispEdges">
<rect x="774.5" y="529.80" width="23.0" height="7.50" fill="#000087"/>
<rect x="774.5" y="522.59" width="23.0" height="7.50" fill="#000097"/>
<rect x="774.5" y="515.39" width="23.0" height="7.50" fill="#0000a7"/>
<rect x="774.5" y="508.19" width="23.0" height="7.50" fill="#0000b7"/>
<rect x="774.5" y="500.98" width="23.0" height="7.50" fill="#0000c7"/>
<rect x="774.5" y="493.78" width="23.0" height="7.50" fill="#0000d7"/>
<rect x="774.5" y="486.58" width="23.0" height="7.50" fill="#0000e7"/>
<rect x="774.5" y="479.38" width="23.0" height="7.50" fill="#0000f7"/>
<rect x="774.5" y="472.17" width="23.0" height="7.50" fill="#0008ff"/>
<rect x="774.5" y="464.97" width="23.0" height="7.50" fill="#0018ff"/>
<rect x="774.5" y="457.77" width="23.0" height="7.50" fill="#0028ff"/>
<rect x="774.5" y="450.56" width="23.0" height="7.50" fill="#0038ff"/>
<rect x="774.5" y="443.36" width="23.0" height="7.50" fill="#0048ff"/>
<rect x="774.5" y="436.16" width="23.0" height="7.50" fill="#0058ff"/>
<rect x="774.5" y="428.95" width="23.0" height="7.50" fill="#0068ff"/>
<rect x="774.5" y="421.75" width="23.0" height="7.50" fill="#0078ff"/>
<rect x="774.5" y="414.55" width="23.0" height="7.50" fill="#0087ff"/>
<rect x="774.5" y="407.34" width="23.0" height="7.50" fill="#0097ff"/>
<rect x="774.5" y="400.14" width="23.0" height="7.50" fill="#00a7ff"/>
<rect x="774.5" y="392.94" width="23.0" height="7.50" fill="#00b7ff"/>
<rect x="774.5" y="385.73" width="23.0" height="7.50" fill="#00c7ff"/>
<rect x="774.5" y="378.53" width="23.0" height="7.50" fill="#00d7ff"/>
<rect x="774.5" y="371.33" width="23.0" height="7.50" fill="#00e7ff"/>
<rect x="774.5" y="364.12" width="23.0" height="7.50" fill="#00f7ff"/>
<rect x="774.5" y="356.92" width="23.0" height="7.50" fill="#08fff7"/>
<rect x="774.5" y="349.72" width="23.0" height="7.50" fill="#18ffe7"/>
<rect x="774.5" y="342.52" width="23.0" height="7.50" fill="#28ffd7"/>
<rect x="774.5" y="335.31" width="23.0" height="7.50" fill="#38ffc7"/>
<rect x="774.5" y="328.11" width="23.0" height="7.50" fill="#48ffb7"/>
<rect x="774.5" y="320.91" width="23.0" height="7.50" fill="#58ffa7"/>
<rect x="774.5" y="313.70" width="23.0" height="7.50" fill="#68ff97"/>
<rect x="774.5" y="306.50" width="23.0" height="7.50" fill="#78ff87"/>
<rect x="774.5" y="299.30" width="23.0" height="7.50" fill="#87ff78"/>
<rect x="774.5" y="292.09" width="23.0" height="7.50" fill="#97ff68"/>
<rect x="774.5" y="284.89" width="23.0" height="7.50" fill="#a7ff58"/>
<rect x="774.5" y="277.69" width="23.0" height="7.50" fill="#b7ff48"/>
<rect x="774.5" y="270.48" width="23.0" height="7.50" fill="#c7ff38"/>
<rect x="774.5" y="263.28" width="23.0" height="7.50" fill="#d7ff28"/>
<rect x="774.5" y="256.08" width="23.0" height="7.50" fill="#e7ff18"/>
<rect x="774.5" y="248.88" width="23.0" height="7.50" fill="#f7ff08"/>
<rect x="774.5" y="241.67" width="23.0" height="7.50" fill="#fff700"/>
<rect x="774.5" y="234.47" width="23.0" height="7.50" fill="#ffe700"/>
<rect x="774.5" y="227.27" width="23.0" height="7.50" fill="#ffd700"/>
<rect x="774.5" y="220.06" width="23.0" height="7.50" fill="#ffc700"/>
<rect x="774.5" y="212.86" width="23.0" height="7.50" fill="#ffb700"/>
<rect x="774.5" y="205.66" width="23.0" height="7.50" fill="#ffa700"/>
<rect x="774.5" y="198.45" width="23.0" height="7.50" fill="#ff9700"/>
<rect x="774.5" y="191.25" width="23.0" height="7.50" fill="#ff8700"/>
<rect x="774.5" y="184.05" width="23.0" height="7.50" fill="#ff7800"/>
<rect x="774.5" y="176.84" width="23.0" height="7.50" fill="#ff6800"/>
<rect x="774.5" y="169.64" width="23.0" height="7.50" fill="#ff5800"/>
<rect x="774.5" y="162.44" width="23.0" height="7.50" fill="#ff4800"/>
<rect x="774.5" y="155.23" width="23.0" height="7.50" fill="#ff3800"/>
<rect x="774.5" y="148.03" width="23.0" height="7.50" fill="#ff2800"/>
<rect x="774.5" y="140.83" width="23.0" height="7.50" fill="#ff1800"/>
<rect x="774.5" y="133.62" width="23.0" height="7.50" fill="#ff0800"/>
<rect x="774.5" y="126.42" width="23.0" height="7.50" fill="#f70000"/>
<rect x="774.5" y="119.22" width="23.0" height="7.50" fill="#e70000"/>
<rect x="774.5" y="112.02" width="23.0" height="7.50" fill="#d70000"/>
<rect x="774.5" y="104.81" width="23.0" height="7.50" fill="#c70000"/>
<rect x="774.5" y="97.61" width="23.0" height="7.50" fill="#b70000"/>
<rect x="774.5" y="90.41" width="23.0" height="7.50" fill="#a70000"/>
<rect x="774.5" y="83.20" width="23.0" height="7.50" fill="#970000"/>
<rect x="774.5" y="76.00" width="23.0" height="7.50" fill="#870000"/>
</g>
<rect x="774.5" y="76.0" width="23.0" height="461.0" fill="none" stroke="#000" stroke-width="1"/>
<text transform="translate(799.2,541.3) scale(1,1.28)">0</text>
<text transform="translate(799.2,459.1) scale(1,1.28)">0.05</text>
<text transform="translate(799.2,377.0) scale(1,1.28)">0.1</text>
<text transform="translate(799.2,294.8) scale(1,1.28)">0.15</text>
<text transform="translate(799.2,212.7) scale(1,1.28)">0.2</text>
<text transform="translate(799.2,130.5) scale(1,1.28)">0.25</text>
<path class="ax" d="M774.5 454.8h4.5M797.5 454.8h-4.5M774.5 372.6h4.5M797.5 372.6h-4.5M774.5 290.4h4.5M797.5 290.4h-4.5M774.5 208.3h4.5M797.5 208.3h-4.5M774.5 126.1h4.5M797.5 126.1h-4.5"/>
</svg></body></html>
